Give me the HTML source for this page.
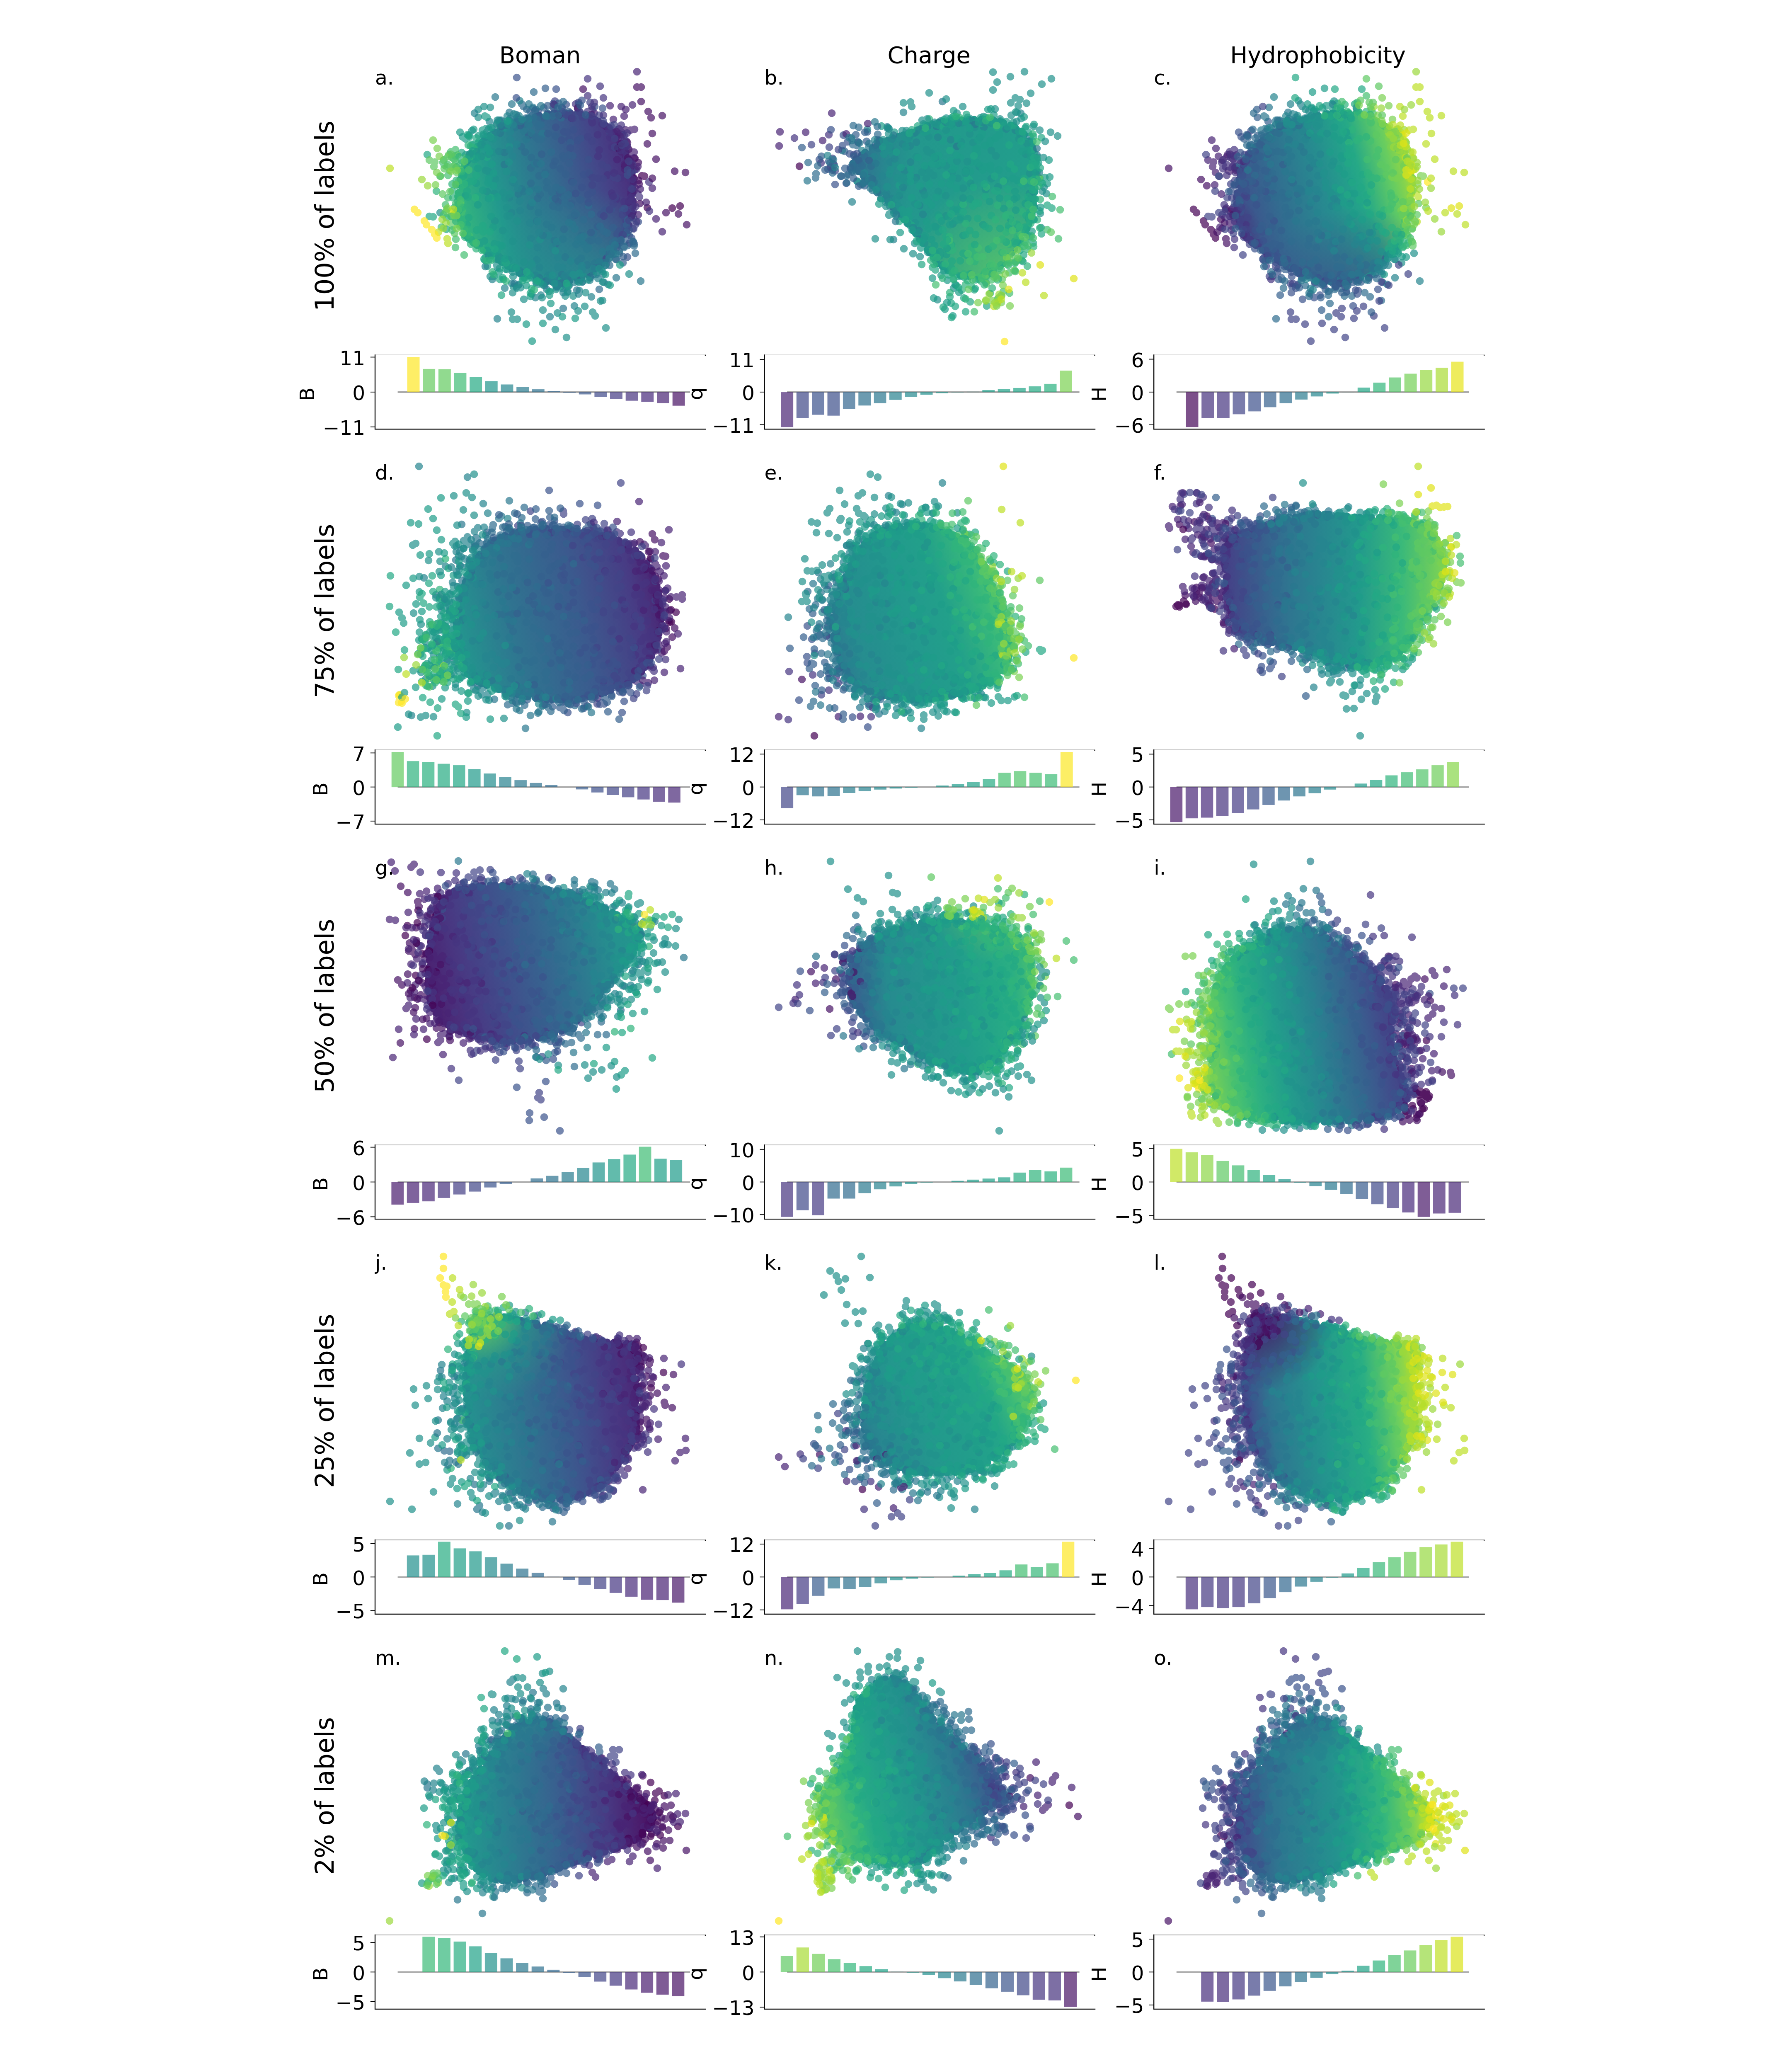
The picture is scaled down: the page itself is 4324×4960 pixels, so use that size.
<!DOCTYPE html><html><head><meta charset="utf-8"><title>Figure</title><style>html,body{margin:0;padding:0;background:#fff}svg{display:block}text{font-family:"DejaVu Sans","Liberation Sans",sans-serif;fill:#000}.t{font-size:48.6px}.T{font-size:55.9px}.L{font-size:62.2px}.e{stroke-width:19;stroke-linecap:round;stroke-dasharray:0 12 0 17 0 10 0 21 0 14 0 9 0 19}.p{fill:none;stroke-width:18.6;stroke-linecap:round;stroke-opacity:.7}</style></head><body>
<svg width="4324" height="4960" viewBox="0 0 4324 4960"><rect width="4324" height="4960" fill="#fff"/>
<g>
<linearGradient id="ga" gradientUnits="userSpaceOnUse" x1="802.8" y1="577.6" x2="1790.5" y2="328"><stop offset="0%" stop-color="#bedf29"/><stop offset="10%" stop-color="#bedf29"/><stop offset="13%" stop-color="#bedf29"/><stop offset="20%" stop-color="#7ed352"/><stop offset="30%" stop-color="#38b87b"/><stop offset="30.4%" stop-color="#35b77c"/><stop offset="40%" stop-color="#22998d"/><stop offset="50%" stop-color="#2e7790"/><stop offset="52.2%" stop-color="#317190"/><stop offset="60%" stop-color="#3c588d"/><stop offset="65.2%" stop-color="#444689"/><stop offset="70%" stop-color="#493681"/><stop offset="73.9%" stop-color="#4b2777"/><stop offset="80%" stop-color="#4a1869"/><stop offset="87%" stop-color="#470557"/><stop offset="90%" stop-color="#470557"/><stop offset="100%" stop-color="#470557"/><stop offset="100%" stop-color="#470557"/></linearGradient>
<path fill="url(#ga)" stroke="url(#ga)" class="e" d="M1264 291L1269 290L1275 288L1281 286L1286 284L1292 282L1297 281L1303 279L1308 278L1314 277L1319 276L1325 275L1330 275L1336 274L1341 274L1347 274L1352 274L1358 273L1363 273L1369 273L1374 273L1380 274L1385 274L1391 275L1396 276L1401 277L1407 278L1412 280L1418 282L1423 284L1429 286L1434 288L1439 291L1445 294L1450 296L1455 299L1460 303L1465 306L1470 309L1474 313L1478 317L1482 321L1486 325L1489 330L1492 334L1495 340L1498 345L1501 350L1504 356L1507 361L1509 367L1512 373L1514 379L1516 385L1518 391L1520 397L1521 404L1523 410L1524 416L1524 423L1525 429L1525 436L1525 443L1526 450L1526 457L1526 464L1526 470L1527 477L1527 484L1527 491L1527 497L1527 504L1526 510L1525 516L1524 521L1522 527L1521 532L1519 538L1517 543L1515 548L1513 553L1511 558L1508 562L1506 566L1503 571L1500 575L1497 579L1494 584L1491 588L1488 593L1485 597L1481 602L1478 606L1475 611L1472 615L1468 619L1464 623L1460 628L1456 632L1452 636L1448 640L1444 643L1439 647L1434 651L1429 654L1424 657L1419 661L1414 664L1409 667L1403 669L1398 672L1392 674L1386 676L1380 677L1374 678L1368 679L1361 680L1354 680L1348 681L1341 680L1335 680L1328 679L1322 678L1315 677L1308 675L1301 673L1295 671L1288 669L1282 667L1276 665L1270 663L1264 661L1259 659L1253 656L1248 654L1243 652L1238 649L1233 646L1228 643L1223 640L1218 637L1213 633L1208 629L1203 626L1198 622L1192 619L1187 616L1182 612L1177 609L1172 605L1167 602L1162 599L1157 595L1153 592L1148 589L1144 586L1140 583L1137 580L1133 577L1130 574L1127 570L1125 566L1122 561L1120 556L1117 550L1115 544L1113 538L1112 533L1110 527L1109 522L1108 516L1107 511L1107 506L1106 500L1106 495L1106 489L1106 484L1106 478L1106 473L1107 467L1107 462L1108 456L1108 451L1109 445L1110 440L1111 434L1113 429L1114 423L1116 417L1117 412L1119 407L1121 401L1123 396L1126 391L1129 386L1132 381L1135 376L1138 371L1142 366L1146 362L1149 357L1153 353L1157 349L1162 345L1166 341L1171 337L1175 333L1180 330L1184 326L1189 323L1193 320L1197 317L1202 314L1206 312L1210 309L1215 307L1219 305L1224 303L1229 301L1235 299L1240 298L1246 296L1252 295L1258 293Z"/>
<clipPath id="ca"><path d="M1264 291L1269 290L1275 288L1281 286L1286 284L1292 282L1297 281L1303 279L1308 278L1314 277L1319 276L1325 275L1330 275L1336 274L1341 274L1347 274L1352 274L1358 273L1363 273L1369 273L1374 273L1380 274L1385 274L1391 275L1396 276L1401 277L1407 278L1412 280L1418 282L1423 284L1429 286L1434 288L1439 291L1445 294L1450 296L1455 299L1460 303L1465 306L1470 309L1474 313L1478 317L1482 321L1486 325L1489 330L1492 334L1495 340L1498 345L1501 350L1504 356L1507 361L1509 367L1512 373L1514 379L1516 385L1518 391L1520 397L1521 404L1523 410L1524 416L1524 423L1525 429L1525 436L1525 443L1526 450L1526 457L1526 464L1526 470L1527 477L1527 484L1527 491L1527 497L1527 504L1526 510L1525 516L1524 521L1522 527L1521 532L1519 538L1517 543L1515 548L1513 553L1511 558L1508 562L1506 566L1503 571L1500 575L1497 579L1494 584L1491 588L1488 593L1485 597L1481 602L1478 606L1475 611L1472 615L1468 619L1464 623L1460 628L1456 632L1452 636L1448 640L1444 643L1439 647L1434 651L1429 654L1424 657L1419 661L1414 664L1409 667L1403 669L1398 672L1392 674L1386 676L1380 677L1374 678L1368 679L1361 680L1354 680L1348 681L1341 680L1335 680L1328 679L1322 678L1315 677L1308 675L1301 673L1295 671L1288 669L1282 667L1276 665L1270 663L1264 661L1259 659L1253 656L1248 654L1243 652L1238 649L1233 646L1228 643L1223 640L1218 637L1213 633L1208 629L1203 626L1198 622L1192 619L1187 616L1182 612L1177 609L1172 605L1167 602L1162 599L1157 595L1153 592L1148 589L1144 586L1140 583L1137 580L1133 577L1130 574L1127 570L1125 566L1122 561L1120 556L1117 550L1115 544L1113 538L1112 533L1110 527L1109 522L1108 516L1107 511L1107 506L1106 500L1106 495L1106 489L1106 484L1106 478L1106 473L1107 467L1107 462L1108 456L1108 451L1109 445L1110 440L1111 434L1113 429L1114 423L1116 417L1117 412L1119 407L1121 401L1123 396L1126 391L1129 386L1132 381L1135 376L1138 371L1142 366L1146 362L1149 357L1153 353L1157 349L1162 345L1166 341L1171 337L1175 333L1180 330L1184 326L1189 323L1193 320L1197 317L1202 314L1206 312L1210 309L1215 307L1219 305L1224 303L1229 301L1235 299L1240 298L1246 296L1252 295L1258 293Z"/></clipPath><g clip-path="url(#ca)">
<radialGradient id="ra0"><stop offset="0" stop-color="#24928e" stop-opacity="1"/><stop offset="1" stop-color="#24928e" stop-opacity="0"/></radialGradient>
<circle cx="1419" cy="750" r="293" fill="url(#ra0)"/>
</g>
<path class="p" stroke="#440154" d="M1517 360h0m32 64h0m6 1h0m7 76h0"/>
<path class="p" stroke="#471365" d="M1495 323h0m6 2h0m7 75h0m6-56h0m12 86h0m2 15h0m12-53h0m2 52h0"/>
<path class="p" stroke="#482475" d="M1434 273h0m27 31h0m19-16h0m9 97h0m1-68h0m4-6h0m5-54h0m0 109h0m7-86h0m1 116h0m1 12h0m1-95h0m0 62h0m3-34h0m1 10h0m4 136h0m4-173h0m2 149h0m0 6h0m0 12h0m1-14h0m5-34h0m1-52h0m0 50h0m1-119h0m1 97h0m0 44h0"/>
<path class="p" stroke="#463480" d="M1379 285h0m10-34h0m5 11h0m24-31h0m0 38h0m10 23h0m1-28h0m0 32h0m14 81h0m3-15h0m10-126h0m10 186h0m6-90h0m1-19h0m3 153h0m1-111h0m6 63h0m4 63h0m4-169h0m2 26h0m5 91h0m1-127h0m0 16h0m11 35h0m0 14h0m2 13h0m0 175h0m5-172h0m0 102h0m2-57h0m3-30h0m2-5h0m0 81h0m3-30h0m1 66h0m8-102h0m3 60h0m4 7h0m23-36h0m1 70h0"/>
<path class="p" stroke="#414487" d="M1337 274h0m2-30h0m17 16h0m26 26h0m14-39h0m4 24h0m22 148h0m0 1h0m2-173h0m4 93h0m18-62h0m7 119h0m3 34h0m7 193h0m9-304h0m6 157h0m2-50h0m2-126h0m1 174h0m2 1h0m5-46h0m11 137h0m5-241h0m5 207h0m2-25h0m0 22h0m0 19h0m1-24h0m6-7h0m7-105h0m0 138h0"/>
<path class="p" stroke="#3b528b" d="M1298 269h0m37-19h0m0 10h0m7-45h0m13 123h0m11-86h0m7 84h0m7 102h0m4-125h0m10 26h0m2-88h0m8 201h0m5-31h0m6-143h0m4 192h0m2-53h0m8 46h0m6-206h0m15 260h0m4-256h0m2 37h0m4 209h0m16-3h0m13 61h0m2 39h0m2-46h0m1 48h0m1-37h0m7-61h0m3 12h0m2 26h0m6 18h0m1 56h0m26-85h0"/>
<path class="p" stroke="#355f8d" d="M1223 299h0m23-4h0m30 31h0m3-58h0m7-6h0m15 20h0m15-69h0m5 42h0m13 1h0m2 18h0m0 7h0m3 108h0m1-61h0m7 159h0m1-238h0m3 216h0m5-206h0m1 12h0m1 105h0m7 44h0m7-151h0m2 125h0m2-50h0m2 123h0m0 24h0m4-115h0m1 64h0m4 79h0m81 95h0m11-65h0m9 77h0m15 8h0m5-52h0m1-14h0m3-25h0m3-12h0m3 37h0m11-42h0"/>
<path class="p" stroke="#2f6c8e" d="M1204 290h0m27-4h0m19 2h0m8 66h0m1-103h0m4 6h0m2 43h0m9-15h0m1 4h0m6-1h0m0 117h0m1-25h0m6-158h0m9 173h0m2-91h0m2 120h0m2 45h0m13-53h0m3 23h0m2-166h0m9 94h0m4 130h0m7 91h0m1-136h0m3 47h0m4 2h0m2-43h0m3-174h0m5-39h0m3 231h0m1 13h0m8-19h0m5 26h0m2 29h0m25 43h0m17-72h0m1 86h0m11-20h0m7 100h0m5-81h0m2 69h0m11-92h0m4 82h0m2-4h0m5-24h0m10-26h0m18 6h0m4 0h0m6 5h0m6-36h0m3 31h0m13-9h0"/>
<path class="p" stroke="#2a788e" d="M1207 292h0m0 29h0m7-28h0m14-3h0m1-19h0m3 23h0m8 14h0m3-1h0m5-24h0m2 1h0m1 184h0m8-12h0m5-140h0m12-28h0m4 210h0m1-42h0m1-135h0m4-62h0m1 25h0m3 111h0m4 286h0m7-11h0m6-345h0m2-3h0m4 361h0m2-262h0m6-141h0m10 269h0m3-71h0m4 102h0m16 93h0m4-4h0m1 75h0m11-70h0m0 29h0m3-14h0m8-148h0m6 11h0m3 38h0m2 110h0m1-22h0m8-105h0m2 9h0m14 57h0m18-4h0m1 12h0m18-40h0m2 54h0m1 20h0m1-47h0m12-10h0m1-24h0m2 5h0m7 9h0m3-2h0m12-1h0"/>
<path class="p" stroke="#25848e" d="M1172 330h0m9-37h0m7 381h0m9-355h0m17-9h0m10-30h0m5 197h0m5 36h0m1 171h0m6-243h0m11-162h0m2-36h0m0 242h0m1 23h0m4 154h0m3-4h0m1 11h0m13-384h0m3 253h0m2 37h0m14 52h0m2-30h0m5 48h0m0 30h0m17 23h0m3-33h0m1-97h0m1 96h0m3 8h0m6-76h0m10 90h0m0 8h0m1-111h0m2 37h0m0 24h0m0 37h0m4-6h0m7-30h0m0 38h0m4-8h0m16-15h0m9 78h0m17-76h0m1-13h0m28 12h0m14-28h0m4 17h0m17 36h0m12-73h0"/>
<path class="p" stroke="#21918c" d="M1124 373h0m15-58h0m15-51h0m0 19h0m1 69h0m9-3h0m2-21h0m3 4h0m3 79h0m8 4h0m3-156h0m7 76h0m1 32h0m2 100h0m1 66h0m1-101h0m11-132h0m8 165h0m5-167h0m1 344h0m1-333h0m1 105h0m2 107h0m0 129h0m3-24h0m2-273h0m4 293h0m3-208h0m1 144h0m0 63h0m0 61h0m1-39h0m1 25h0m13-6h0m3-27h0m11 11h0m17 0h0m11 14h0m5 1h0m4-107h0m7 170h0m10-76h0m20-67h0m2 93h0m15-2h0m7-15h0m0 33h0m19-52h0m0 52h0m5-49h0m10-6h0m42-2h0m14 68h0"/>
<path class="p" stroke="#1e9c89" d="M1110 319h0m11 81h0m2 72h0m9-91h0m9-31h0m4 35h0m4-3h0m0 60h0m2-67h0m4-48h0m0 16h0m0 243h0m1-230h0m0 235h0m3-6h0m5-271h0m5 267h0m1 47h0m1-7h0m2-311h0m3 332h0m1-315h0m2 299h0m6-104h0m2-126h0m0 222h0m3-70h0m1-100h0m5 168h0m3 10h0m10 5h0m2-38h0m2 39h0m2 42h0m5-25h0m9-3h0m33 26h0m8 17h0m21-16h0m34 30h0m30-13h0m1-17h0m105-11h0"/>
<path class="p" stroke="#22a884" d="M1099 515h0m3-112h0m2 82h0m7-48h0m3-69h0m5 55h0m2-28h0m6 147h0m1-217h0m7 113h0m1-86h0m3-4h0m10 75h0m1-20h0m0 152h0m1-81h0m1-127h0m6 30h0m2 177h0m2-3h0m3-7h0m0 5h0m1 10h0m2 66h0m7-246h0m3 217h0m4-37h0m2-228h0m1 146h0m5 139h0m9-316h0m6 348h0m5 64h0m3-42h0m8-36h0m20 11h0m32 28h0m10 23h0"/>
<path class="p" stroke="#2fb47c" d="M1077 525h0m14-81h0m6 73h0m4-69h0m3 64h0m1-39h0m4-63h0m7 45h0m0 86h0m2-104h0m1 127h0m3 8h0m9-6h0m5 23h0m1-9h0m1-204h0m2-21h0m3 229h0m1-224h0m3 117h0m2 123h0m39 56h0"/>
<path class="p" stroke="#44bf70" d="M1069 392h0m2-6h0m1 12h0m9 79h0m7 44h0m10-145h0m1 149h0m0 72h0m1-20h0m4-176h0m6 146h0m2-59h0m2 24h0m1-119h0m0 115h0m5 107h0m1-61h0m5-174h0m7 190h0"/>
<path class="p" stroke="#5ec962" d="M1072 407h0m11-34h0m5 164h0m4 8h0m3-161h0m2 179h0m2-158h0m1 114h0m0 22h0m2-125h0m2-42h0m7 118h0m1-81h0"/>
<path class="p" stroke="#9bd93c" d="M1076 538h0m2-33h0m10-133h0"/>
<path class="p" stroke="#dfe318" d="M1089 510h0"/>
<path class="p" stroke="#440154" d="M1491 357h0m33 42h0m98 103h0m19-5h0"/>
<path class="p" stroke="#471365" d="M1394 260h0m13-45h0m92 132h0m16 34h0m14 48h0m3-47h0m5-172h0m4 225h0m3 56h0m3-281h0m0 35h0m15 102h0m2-78h0m7 15h0m3 38h0m0 108h0m9-46h0m15-105h0m9 234h0m21-100h0m9 103h0m17-100h0m3 126h0"/>
<path class="p" stroke="#482475" d="M1427 276h0m45-21h0m11 78h0m4-16h0m6 20h0m3-9h0m2 7h0m12-71h0m10 142h0m2-17h0m2 132h0m1-154h0m1-114h0m3 185h0m1-71h0m0 93h0m7-287h0m2 229h0m1 116h0m5-62h0m14 32h0m15-34h0m9 74h0m15 31h0"/>
<path class="p" stroke="#463480" d="M1337 252h0m12 26h0m69-88h0m10 67h0m6-10h0m8 78h0m6-117h0m5 91h0m3-21h0m13 35h0m6 12h0m4 148h0m2-56h0m17-54h0m8 124h0m1-150h0m5 174h0m1-190h0m0 33h0m8 77h0m0 23h0m3 30h0m1-86h0m1-2h0m0 36h0m8 66h0m2 37h0"/>
<path class="p" stroke="#414487" d="M1366 277h0m13-1h0m20-6h0m7 13h0m1 0h0m11 47h0m10-50h0m1 166h0m1-18h0m13 2h0m12-139h0m2 8h0m0 222h0m8-117h0m6 102h0m3-202h0m6 188h0m3-158h0m0 21h0m17-5h0m2 168h0m1 48h0m5-220h0m9 43h0m1 143h0m3-116h0m4 40h0m4 96h0m4-10h0"/>
<path class="p" stroke="#3b528b" d="M1246 236h0m1-49h0m74 89h0m20 31h0m4-45h0m11 7h0m5 49h0m8 1h0m7 38h0m13 110h0m12-133h0m3-92h0m16 143h0m0 104h0m76 96h0m11-82h0m7-93h0m0 12h0m4 133h0m1 31h0m5-12h0"/>
<path class="p" stroke="#355f8d" d="M1255 303h0m36-36h0m16 105h0m1-87h0m4-25h0m10 62h0m13 77h0m5 80h0m12-72h0m8-25h0m12-8h0m28-120h0m0 228h0m13-205h0m13 284h0m16-15h0m48 50h0m14 23h0m26-31h0"/>
<path class="p" stroke="#2f6c8e" d="M1210 305h0m39-12h0m18 74h0m2-82h0m2-21h0m10 178h0m3-162h0m1-2h0m1 1h0m6 15h0m1-30h0m0 67h0m2 62h0m2-104h0m0 190h0m2-143h0m6-35h0m0 35h0m12 342h0m1-397h0m2 172h0m12 11h0m1-184h0m14-22h0m0 20h0m7 405h0m2-225h0m5 95h0m26-39h0m3 2h0m10 160h0m8-146h0m16 140h0m3-153h0m2 62h0m6 68h0m9-2h0m2 53h0m2-152h0m17 16h0m6 78h0m3-27h0m11-32h0m1 45h0m13-47h0m5 15h0m2 0h0m21-12h0m3 11h0m3 18h0"/>
<path class="p" stroke="#2a788e" d="M1195 234h0m14 69h0m8 65h0m0 29h0m4-95h0m13-5h0m1-46h0m3 49h0m3 7h0m0 377h0m4-408h0m0 16h0m2 1h0m9 0h0m7 169h0m7-126h0m5-46h0m1-39h0m0 50h0m19 232h0m3-76h0m1 56h0m6-258h0m0 2h0m0 138h0m5 173h0m4 121h0m3-410h0m2 262h0m25 150h0m12-29h0m2-85h0m3 89h0m3-46h0m9-83h0m22 41h0m0 52h0m7-7h0m3 57h0m3-110h0m1 20h0m7 11h0m4-3h0m4 72h0m22-39h0m24-8h0m11-18h0m3-14h0m2 21h0m1 58h0m59 8h0"/>
<path class="p" stroke="#25848e" d="M1134 371h0m11-98h0m26 370h0m8-26h0m10-308h0m10-12h0m1 472h0m4-404h0m2-65h0m1 1h0m2-11h0m9 405h0m11-333h0m2-44h0m0 19h0m1-45h0m5 85h0m0 62h0m1-138h0m2-26h0m0 147h0m7-74h0m0 344h0m3-237h0m1 233h0m2-29h0m1-6h0m4 3h0m2-368h0m17 174h0m7 27h0m7 175h0m1 54h0m5-184h0m4 27h0m4 151h0m9-28h0m11-13h0m2 93h0m7-85h0m8 11h0m5-3h0m12 19h0m4-42h0m3 29h0m5-8h0m6-55h0m9 51h0m10 28h0m2-8h0m6-60h0m1 39h0m18-4h0m4 40h0m5-68h0m11 24h0m18-32h0"/>
<path class="p" stroke="#21918c" d="M1062 513h0m65-124h0m5-63h0m18 40h0m11-17h0m1 28h0m6-120h0m7 61h0m0 144h0m4-151h0m0 61h0m4 295h0m1-334h0m8 333h0m7-34h0m0 8h0m1-350h0m0 355h0m4-26h0m9-63h0m6-78h0m4 23h0m2-202h0m3-5h0m0 97h0m2 129h0m1-52h0m3 285h0m3-97h0m0 114h0m1-337h0m5 213h0m4 49h0m1-162h0m0 237h0m2-114h0m6 38h0m8-62h0m0 90h0m11-72h0m3-59h0m5 45h0m0 73h0m25 9h0m2-31h0m23-23h0m5 20h0m2 111h0m5-40h0m22 59h0m2-109h0m26 45h0m2-69h0m12-13h0m2 71h0m2-33h0m5-31h0m12 78h0m6 9h0m10-114h0m3 78h0m5-71h0m0 25h0m8 111h0m56-130h0"/>
<path class="p" stroke="#1e9c89" d="M1116 330h0m7 5h0m8-4h0m1 43h0m3 0h0m5-10h0m3-52h0m7 67h0m3 27h0m0 88h0m12-35h0m1-135h0m4-44h0m5 3h0m0 321h0m1-247h0m2 84h0m1 38h0m1-49h0m1-64h0m1 248h0m0 12h0m3-318h0m6 110h0m2 170h0m6 18h0m1-131h0m3 116h0m1 65h0m4-63h0m10 31h0m7-332h0m21 355h0m24 135h0m9-118h0m1 51h0m4 108h0m19-142h0m7 99h0m16-68h0m2-8h0m1 28h0m28 32h0m14-74h0m17 78h0m84-80h0m24-49h0"/>
<path class="p" stroke="#22a884" d="M1031 373h0m5 149h0m9 1h0m32 30h0m24-108h0m4 62h0m2 1h0m0 0h0m11-83h0m3 142h0m5-124h0m1-59h0m0 77h0m2 14h0m2-147h0m0 197h0m1 52h0m5 1h0m5-141h0m7-104h0m45 268h0m12 73h0m55 3h0m10-21h0m9 51h0m16-29h0m71 6h0"/>
<path class="p" stroke="#2fb47c" d="M1053 461h0m38 0h0m2 16h0m4 23h0m3 34h0m1-99h0m4 87h0m3-144h0m5 9h0m1 27h0m1 117h0m1-31h0m5-56h0m6 109h0m1 14h0m2-217h0m14 237h0m19 17h0m11 25h0m11-1h0m6 34h0m30 16h0m68 21h0"/>
<path class="p" stroke="#44bf70" d="M1062 425h0m3 123h0m5-30h0m5-24h0m5-97h0m1 26h0m7-57h0m1 37h0m0 119h0m1-142h0m1 175h0m1-188h0m7-6h0m0 28h0m1 102h0m5-1h0m1-52h0m0 69h0m5-25h0m1 60h0m19-132h0m18 176h0"/>
<path class="p" stroke="#5ec962" d="M1036 386h0m11 16h0m2-11h0m14 34h0m5 43h0m2-82h0m6 124h0m2-108h0m3-24h0m4 33h0m1 51h0m8-60h0m5 43h0m18 118h0m4-174h0"/>
<path class="p" stroke="#7ad151" d="M1045 338h0m6 108h0m3-30h0m1-58h0m5 19h0m20 125h0m8-89h0m8 107h0m6 0h0m0 31h0m1-140h0"/>
<path class="p" stroke="#9bd93c" d="M1018 433h0m14 15h0m35 81h0m3 22h0"/>
<path class="p" stroke="#bddf26" d="M941 406h0m117 154h0m21 16h0m2 11h0m13-82h0"/>
<path class="p" stroke="#fde725" d="M1000 505h0m8 8h0m16 20h0m5 9h0m13 12h0m7 11h0m5 9h0"/>
</g>
<g>
<linearGradient id="gb" gradientUnits="userSpaceOnUse" x1="1695" y1="370.5" x2="2707.5" y2="442.9"><stop offset="0%" stop-color="#483782"/><stop offset="10%" stop-color="#483782"/><stop offset="18.7%" stop-color="#483782"/><stop offset="20%" stop-color="#473b84"/><stop offset="30%" stop-color="#3b5a8e"/><stop offset="35.6%" stop-color="#34698f"/><stop offset="40%" stop-color="#2d7a90"/><stop offset="43.7%" stop-color="#27888f"/><stop offset="50%" stop-color="#23978d"/><stop offset="60%" stop-color="#229a8c"/><stop offset="70%" stop-color="#229c8c"/><stop offset="80%" stop-color="#229f8b"/><stop offset="81.2%" stop-color="#22a08a"/><stop offset="90%" stop-color="#22a08a"/><stop offset="100%" stop-color="#22a08a"/></linearGradient>
<path fill="url(#gb)" stroke="url(#gb)" class="e" d="M2059 394L2060 392L2062 388L2066 384L2072 380L2078 376L2084 371L2090 367L2097 363L2102 359L2109 355L2115 352L2122 349L2129 345L2136 342L2143 339L2150 336L2156 334L2163 331L2170 329L2177 327L2184 325L2190 323L2197 321L2204 318L2210 316L2216 313L2222 311L2227 309L2233 306L2238 304L2243 302L2248 300L2254 299L2259 297L2265 296L2270 295L2275 294L2281 293L2286 292L2292 292L2299 291L2305 290L2312 290L2318 290L2325 290L2332 289L2339 289L2346 289L2353 289L2360 289L2367 289L2373 290L2380 290L2387 290L2393 291L2399 292L2405 293L2411 294L2416 295L2422 297L2427 298L2432 300L2437 302L2442 304L2447 307L2452 310L2456 313L2461 316L2465 319L2469 323L2473 326L2476 330L2479 334L2482 337L2484 341L2486 346L2488 350L2490 354L2491 359L2493 364L2494 368L2495 373L2496 378L2497 382L2498 387L2499 392L2499 397L2499 402L2499 408L2499 413L2499 418L2499 424L2498 430L2498 435L2498 441L2497 447L2497 452L2496 458L2496 464L2495 469L2495 475L2494 480L2493 486L2493 492L2492 497L2491 503L2490 509L2489 514L2488 520L2487 525L2485 531L2484 536L2482 540L2480 545L2478 549L2476 553L2474 557L2471 562L2469 566L2466 570L2464 575L2461 580L2458 584L2456 589L2453 593L2450 598L2447 602L2444 606L2441 610L2438 614L2435 618L2431 622L2428 626L2425 630L2421 633L2418 637L2414 640L2411 643L2407 646L2403 649L2400 651L2396 654L2392 656L2388 658L2384 660L2380 661L2376 663L2372 664L2368 665L2364 665L2359 666L2355 666L2350 667L2344 667L2339 666L2333 666L2327 665L2322 664L2316 663L2312 662L2307 661L2302 659L2298 657L2294 655L2289 653L2285 650L2281 648L2278 645L2274 642L2271 640L2268 637L2264 633L2261 630L2258 627L2255 623L2252 619L2249 615L2245 611L2242 607L2239 602L2235 598L2232 593L2229 588L2225 583L2221 578L2217 573L2214 568L2210 563L2206 558L2201 553L2197 548L2193 542L2189 537L2184 532L2180 527L2175 522L2170 517L2166 512L2161 507L2157 501L2152 496L2148 491L2143 486L2139 481L2134 476L2130 471L2125 466L2120 461L2116 456L2111 451L2106 447L2102 442L2097 438L2093 433L2088 429L2084 425L2080 420L2075 415L2070 411L2066 406L2062 402L2060 399L2059 396Z"/>
<clipPath id="cb"><path d="M2059 394L2060 392L2062 388L2066 384L2072 380L2078 376L2084 371L2090 367L2097 363L2102 359L2109 355L2115 352L2122 349L2129 345L2136 342L2143 339L2150 336L2156 334L2163 331L2170 329L2177 327L2184 325L2190 323L2197 321L2204 318L2210 316L2216 313L2222 311L2227 309L2233 306L2238 304L2243 302L2248 300L2254 299L2259 297L2265 296L2270 295L2275 294L2281 293L2286 292L2292 292L2299 291L2305 290L2312 290L2318 290L2325 290L2332 289L2339 289L2346 289L2353 289L2360 289L2367 289L2373 290L2380 290L2387 290L2393 291L2399 292L2405 293L2411 294L2416 295L2422 297L2427 298L2432 300L2437 302L2442 304L2447 307L2452 310L2456 313L2461 316L2465 319L2469 323L2473 326L2476 330L2479 334L2482 337L2484 341L2486 346L2488 350L2490 354L2491 359L2493 364L2494 368L2495 373L2496 378L2497 382L2498 387L2499 392L2499 397L2499 402L2499 408L2499 413L2499 418L2499 424L2498 430L2498 435L2498 441L2497 447L2497 452L2496 458L2496 464L2495 469L2495 475L2494 480L2493 486L2493 492L2492 497L2491 503L2490 509L2489 514L2488 520L2487 525L2485 531L2484 536L2482 540L2480 545L2478 549L2476 553L2474 557L2471 562L2469 566L2466 570L2464 575L2461 580L2458 584L2456 589L2453 593L2450 598L2447 602L2444 606L2441 610L2438 614L2435 618L2431 622L2428 626L2425 630L2421 633L2418 637L2414 640L2411 643L2407 646L2403 649L2400 651L2396 654L2392 656L2388 658L2384 660L2380 661L2376 663L2372 664L2368 665L2364 665L2359 666L2355 666L2350 667L2344 667L2339 666L2333 666L2327 665L2322 664L2316 663L2312 662L2307 661L2302 659L2298 657L2294 655L2289 653L2285 650L2281 648L2278 645L2274 642L2271 640L2268 637L2264 633L2261 630L2258 627L2255 623L2252 619L2249 615L2245 611L2242 607L2239 602L2235 598L2232 593L2229 588L2225 583L2221 578L2217 573L2214 568L2210 563L2206 558L2201 553L2197 548L2193 542L2189 537L2184 532L2180 527L2175 522L2170 517L2166 512L2161 507L2157 501L2152 496L2148 491L2143 486L2139 481L2134 476L2130 471L2125 466L2120 461L2116 456L2111 451L2106 447L2102 442L2097 438L2093 433L2088 429L2084 425L2080 420L2075 415L2070 411L2066 406L2062 402L2060 399L2059 396Z"/></clipPath><g clip-path="url(#cb)">
<radialGradient id="rb0"><stop offset="0" stop-color="#61ca64" stop-opacity="0.8"/><stop offset="1" stop-color="#61ca64" stop-opacity="0"/></radialGradient>
<circle cx="2422" cy="664" r="235" fill="url(#rb0)"/>
</g>
<path class="p" stroke="#471365" d="M2004 404h0"/>
<path class="p" stroke="#463480" d="M1981 393h0"/>
<path class="p" stroke="#414487" d="M2001 355h0m7 55h0m1-28h0m51-9h0"/>
<path class="p" stroke="#3b528b" d="M1998 408h0m15-10h0m22-72h0m7 116h0m8-71h0m2 37h0m19-64h0"/>
<path class="p" stroke="#355f8d" d="M2000 389h0m38-24h0m1 41h0m26-81h0m5 17h0m16 106h0m1-11h0m6-119h0m20 32h0m2-4h0"/>
<path class="p" stroke="#2f6c8e" d="M2043 441h0m16-138h0m4 91h0m3 19h0m9-19h0m9 47h0m2-65h0m12 53h0m4 4h0m14 31h0m11-123h0m29 167h0"/>
<path class="p" stroke="#2a788e" d="M2032 363h0m23-30h0m1 82h0m1-19h0m11 41h0m9 8h0m19-90h0m4 99h0m5-19h0m2 4h0m7-83h0m4-19h0m0 21h0m0 107h0m8 14h0m9-137h0m0 2h0m3 129h0m3-167h0m4 180h0m2 11h0m71 79h0m42-271h0m49 48h0m36-62h0m157 83h0"/>
<path class="p" stroke="#25848e" d="M2080 363h0m6 54h0m7-105h0m3 126h0m1-7h0m12-53h0m2-41h0m6 115h0m12-27h0m8 63h0m2-22h0m2-157h0m7 82h0m3 88h0m19-7h0m13-60h0m7-89h0m5 4h0m1 25h0m11-31h0m4 22h0m6 213h0m2-60h0m8-36h0m0 57h0m42-225h0m25 45h0m1-35h0m36 110h0m43-105h0m17-11h0m59 18h0m13-41h0m22 56h0m5 145h0"/>
<path class="p" stroke="#21918c" d="M2069 438h0m55-98h0m11 3h0m3 155h0m2-47h0m1-1h0m4 36h0m1-66h0m4-81h0m3 30h0m2-32h0m2 36h0m3 138h0m1-116h0m1 127h0m2-15h0m1-78h0m1 72h0m1-4h0m2 21h0m2-52h0m0 51h0m6-202h0m0 142h0m9-102h0m2 84h0m2-118h0m5 10h0m1 213h0m1-220h0m10 263h0m1-96h0m0 46h0m0 23h0m3-182h0m4 183h0m5 58h0m10-45h0m1 13h0m4-157h0m1-69h0m0 45h0m3-40h0m5 50h0m3-47h0m6 54h0m4 124h0m2 75h0m7-223h0m8 240h0m8-118h0m1-121h0m16 29h0m2 266h0m8-422h0m2 157h0m8-88h0m2-46h0m3 158h0m11-171h0m5 3h0m0 37h0m12-16h0m11 95h0m1-70h0m9-51h0m5 3h0m0 174h0m1 224h0m13-251h0m2-143h0m14 163h0m53-128h0m3-37h0m11 86h0m10 46h0m2 106h0m11-44h0m3-98h0m1 33h0m8 100h0m5-54h0"/>
<path class="p" stroke="#1e9c89" d="M2127 304h0m3 51h0m28-36h0m12 128h0m4-43h0m19 120h0m4-117h0m18-27h0m5 69h0m2 149h0m5-291h0m1-8h0m1 278h0m3-8h0m3-91h0m1 57h0m3-49h0m1 66h0m0 51h0m3-159h0m5 51h0m1-100h0m1 276h0m3-124h0m0 78h0m1-79h0m4-247h0m0 312h0m2 24h0m1-239h0m2-70h0m1 193h0m0 32h0m1-249h0m0 73h0m0 184h0m6 105h0m1-221h0m1 25h0m2-128h0m5 311h0m2-340h0m2 6h0m0 297h0m2 62h0m3-153h0m3-78h0m3-57h0m2-100h0m2 16h0m1 201h0m1 169h0m3-270h0m3 284h0m1-234h0m2 51h0m7-125h0m1 144h0m1-173h0m0 315h0m2-171h0m1-202h0m2 275h0m6-278h0m0 3h0m1 373h0m1-257h0m3 118h0m7-113h0m2-23h0m0 59h0m11-82h0m1-73h0m2 63h0m0 11h0m8-85h0m1 115h0m2-112h0m3 255h0m5-250h0m2 110h0m5-138h0m4 83h0m2-8h0m2-44h0m6-18h0m1 16h0m11 117h0m8-101h0m3 128h0m1 66h0m4-69h0m10-28h0m2 122h0m7-233h0m2 112h0m0 73h0m4-210h0m7 46h0m7 1h0m3 314h0m14-147h0m0 43h0m2-7h0m2 37h0m1-192h0m2-16h0m1 209h0m4-80h0m0 8h0m1-116h0m4 25h0m2 36h0m5-38h0m15 35h0m6 15h0"/>
<path class="p" stroke="#22a884" d="M2151 494h0m19 40h0m23 5h0m6 4h0m15-239h0m15 5h0m21 336h0m3-29h0m4 35h0m9-127h0m9 31h0m1-250h0m2 335h0m5-69h0m6 92h0m5-7h0m1-11h0m0 86h0m1-140h0m1 39h0m3-337h0m12 373h0m15-186h0m0 189h0m3-103h0m4-136h0m4 3h0m3 228h0m5 3h0m2-167h0m5 199h0m1-130h0m5-39h0m2-37h0m6-193h0m9 361h0m2-375h0m0 191h0m1 194h0m2 70h0m1-453h0m3 316h0m1-50h0m6-31h0m8-95h0m1 35h0m6 1h0m8-160h0m1 412h0m15-234h0m1-23h0m2 95h0m1-201h0m10-47h0m4 279h0m5-41h0m0 10h0m6 22h0m1 31h0m3-162h0m7-11h0m5-126h0m2 245h0m0 16h0m7-54h0m4-149h0m1 138h0m1-109h0m2 67h0m0 127h0m1-154h0m4-30h0m3 4h0m8 103h0m2-69h0m2-108h0"/>
<path class="p" stroke="#2fb47c" d="M2242 287h0m32 384h0m7-34h0m9-44h0m1-22h0m0 33h0m3-11h0m4 67h0m1-57h0m17-319h0m4 416h0m1-1h0m3-206h0m6 46h0m0 147h0m14 4h0m1-95h0m0 10h0m7 11h0m0 15h0m9 42h0m10-7h0m9-215h0m1 214h0m8-24h0m0 67h0m7-114h0m11-99h0m1 225h0m10-111h0m3-172h0m7 123h0m1-42h0m2 102h0m1 9h0m4-40h0m2-70h0m17 52h0m11-60h0m0 84h0m13 6h0m5-75h0m2-122h0m1 135h0m9-40h0m5-64h0m2 95h0m6-100h0m1 51h0"/>
<path class="p" stroke="#44bf70" d="M2258 687h0m33-107h0m60 172h0m7-132h0m2-22h0m1 70h0m6 1h0m4-50h0m1 55h0m4-8h0m12 9h0m1-20h0m1-14h0m1 15h0m1-20h0m1 39h0m6-6h0m22 34h0m10-116h0m2 45h0m1 0h0m1 26h0m14-5h0m1-22h0m8-4h0m6-61h0m5 29h0m4-3h0"/>
<path class="p" stroke="#5ec962" d="M2378 663h0m2 22h0m18-17h0m20 6h0m18-50h0m11 28h0m9-29h0m52-194h0"/>
<path class="p" stroke="#7ad151" d="M2379 726h0m11-68h0m3 67h0m17-7h0m1-55h0m5 67h0m13-109h0"/>
<path class="p" stroke="#9bd93c" d="M2379 724h0m8-15h0m22 17h0m2-16h0m6 3h0"/>
<path class="p" stroke="#bddf26" d="M2398 739h0m8-6h0m10-11h0"/>
<path class="p" stroke="#440154" d="M1929 401h0"/>
<path class="p" stroke="#482475" d="M1880 352h0m2-34h0m62 1h0m41 20h0m22-66h0m35 50h0m52-25h0"/>
<path class="p" stroke="#463480" d="M1917 333h0m83-8h0"/>
<path class="p" stroke="#414487" d="M1958 349h0m57 63h0m8-51h0"/>
<path class="p" stroke="#3b528b" d="M1977 385h0m28-72h0m5 82h0m5 50h0m15-20h0m3-74h0m12-9h0m23 28h0"/>
<path class="p" stroke="#355f8d" d="M1935 356h0m47 21h0m9 33h0m56 11h0m5-17h0m7 26h0m2-53h0m11 10h0m0 62h0m15-130h0m4 22h0m6 46h0m8 45h0m17-93h0"/>
<path class="p" stroke="#2f6c8e" d="M1950 392h0m18 37h0m1-10h0m4-19h0m30-7h0m6 24h0m20 8h0m13-1h0m14-12h0m2-63h0m0 51h0m9-49h0m5-44h0m8 93h0m2 44h0m19-2h0m1-41h0m15-96h0m1 19h0"/>
<path class="p" stroke="#2a788e" d="M1948 436h0m63-51h0m38-53h0m7 7h0m18 6h0m9 77h0m0 19h0m14-95h0m1 89h0m4 3h0m2-7h0m1 28h0m4-19h0m2-146h0m2 100h0m6-51h0m37-17h0m5 208h0m2-16h0m65-208h0m46-65h0m79 55h0m149 58h0"/>
<path class="p" stroke="#25848e" d="M1997 375h0m18 29h0m41 83h0m47-41h0m23 33h0m2-2h0m6-106h0m0 101h0m1 6h0m3 2h0m7-169h0m2 46h0m5-21h0m1-4h0m3 246h0m1-64h0m2-131h0m19-36h0m1 105h0m1-181h0m17 120h0m6 158h0m6-230h0m2 109h0m7-115h0m7-3h0m13-5h0m25 26h0m19-36h0m31 2h0m58-2h0m57 16h0m80 105h0"/>
<path class="p" stroke="#21918c" d="M2112 576h0m2-118h0m17-121h0m2 6h0m0 29h0m11-63h0m0 14h0m0 39h0m1 157h0m1-3h0m1-164h0m1 226h0m1-169h0m13 70h0m13-44h0m4-8h0m1-179h0m1 352h0m3-268h0m1 20h0m2-37h0m2 2h0m0 221h0m1-202h0m7-90h0m3 11h0m3 355h0m4-178h0m18-144h0m0 125h0m6 55h0m3-149h0m3-34h0m0 6h0m2 316h0m2-279h0m1-106h0m13 71h0m2 86h0m1 248h0m4 94h0m2-261h0m13-173h0m5 183h0m1-233h0m0 46h0m0 29h0m14 102h0m1-118h0m1 242h0m10-151h0m14-132h0m1 221h0m6-60h0m4-28h0m8 52h0m6-98h0m44 19h0m4-189h0m0 43h0m5 46h0m2 113h0m3-178h0m7 89h0m25-102h0m1 63h0m1 30h0m10-42h0m3 57h0m1-22h0m3-16h0m2 80h0m2-95h0m11-67h0m5 76h0m1 97h0m6 121h0m1 104h0m2-346h0m7 80h0m0 131h0m2 63h0m10-119h0m3-66h0m3 235h0m2-346h0m4 177h0m1 72h0m3-111h0m3 126h0m10-148h0m2-129h0m15 138h0"/>
<path class="p" stroke="#1e9c89" d="M2121 492h0m4-9h0m38-116h0m9 194h0m5-55h0m4 9h0m12-6h0m4-85h0m0 14h0m3 39h0m1 78h0m14-61h0m8 90h0m6-265h0m2 81h0m1-98h0m0 16h0m4-1h0m3 287h0m6-1h0m3-25h0m0 25h0m5 116h0m1-340h0m1 213h0m4-116h0m9 131h0m0 10h0m4-84h0m2-140h0m3 260h0m3 93h0m5-147h0m0 131h0m2-436h0m5 248h0m1-241h0m2-16h0m0 14h0m1 134h0m2-4h0m1-20h0m0 353h0m2-495h0m4 420h0m2-402h0m0 224h0m0 23h0m1-157h0m2-41h0m4 371h0m2-175h0m14-116h0m1-121h0m9 17h0m1 170h0m14-121h0m3 34h0m2-55h0m1-43h0m6 33h0m3-6h0m1 88h0m6-59h0m11 135h0m2-87h0m0 9h0m1-145h0m8 29h0m0 3h0m2 2h0m1 36h0m9-7h0m1 152h0m2-186h0m12 5h0m2-4h0m3 13h0m13 124h0m5 32h0m2 45h0m2-31h0m1-41h0m12-70h0m5-83h0m3 27h0m0 182h0m5-129h0m2-43h0m5 175h0m1-117h0m5-36h0m3-41h0m0 230h0m4-114h0m12 84h0m20-114h0m2 41h0"/>
<path class="p" stroke="#22a884" d="M2185 530h0m9-208h0m6-9h0m12 267h0m0 3h0m12 55h0m52 103h0m1-152h0m2-300h0m4 133h0m3 157h0m6-216h0m0 128h0m0 225h0m3-200h0m1 250h0m3-484h0m6 457h0m8-46h0m4-64h0m7-118h0m0 100h0m2 108h0m4 33h0m2-476h0m0 339h0m8-59h0m1 172h0m8-276h0m1-76h0m1 323h0m1-109h0m2-100h0m0 185h0m21-231h0m2 102h0m1 109h0m15 5h0m12-353h0m8 244h0m15 33h0m6-40h0m4-148h0m10 12h0m3 181h0m2-3h0m11-246h0m3-22h0m3 297h0m3-67h0m1 12h0m2-40h0m5-45h0m3 59h0m7-37h0m1-97h0m0 59h0m1-3h0m1-127h0m0 178h0m0 23h0m1-150h0m0 53h0m2 47h0m5-83h0m0 35h0m1-49h0m7 22h0m3 159h0m2-122h0m12 53h0m11 7h0"/>
<path class="p" stroke="#2fb47c" d="M2233 309h0m13 319h0m4-24h0m4 34h0m7-17h0m31 85h0m9-32h0m2-21h0m4-372h0m19 380h0m4 60h0m5-44h0m32 1h0m8 9h0m4-396h0m15 404h0m1-42h0m7-123h0m5 145h0m2-2h0m2-26h0m4-8h0m3-62h0m8-55h0m7 118h0m3-148h0m7 43h0m6 100h0m11-88h0m6 81h0m7-43h0m3-6h0m3 63h0m2-148h0m2 1h0m5-58h0m1 132h0m1-51h0m2-195h0m2 272h0m12-146h0m3 101h0"/>
<path class="p" stroke="#44bf70" d="M2325 665h0m11-53h0m4 18h0m7 45h0m22-4h0m8-16h0m12-372h0m9 359h0m4 23h0m3-362h0m0 277h0m1 74h0m10-3h0m6-42h0m8 28h0m3-1h0m3 71h0m7-151h0m7 76h0m0 23h0m20-218h0m6 150h0m5 6h0m8-71h0m4-17h0m0 69h0m2-135h0m7-97h0m25 212h0m12-80h0m15 102h0m4-70h0"/>
<path class="p" stroke="#5ec962" d="M2337 698h0m8-35h0m54-1h0m5 9h0m40-57h0m13 8h0m10-51h0m7 1h0m62-12h0"/>
<path class="p" stroke="#7ad151" d="M2360 730h0m45 8h0m15-50h0m6-27h0m11 77h0m18-135h0"/>
<path class="p" stroke="#9bd93c" d="M2401 730h0m88-120h0"/>
<path class="p" stroke="#bddf26" d="M2467 658h0m8 23h0m44 32h0"/>
<path class="p" stroke="#dfe318" d="M2434 698h0m76-59h0m81 33h0"/>
<path class="p" stroke="#fde725" d="M2424 824h0"/>
</g>
<g>
<linearGradient id="gc" gradientUnits="userSpaceOnUse" x1="2725" y1="566.7" x2="3626.7" y2="338.9"><stop offset="0%" stop-color="#4b2777"/><stop offset="10%" stop-color="#4b2777"/><stop offset="14.3%" stop-color="#4b2777"/><stop offset="20%" stop-color="#493681"/><stop offset="28.6%" stop-color="#414c8b"/><stop offset="30%" stop-color="#3f508c"/><stop offset="40%" stop-color="#326d90"/><stop offset="50%" stop-color="#288790"/><stop offset="52.4%" stop-color="#268d8f"/><stop offset="60%" stop-color="#23a489"/><stop offset="61.9%" stop-color="#26a986"/><stop offset="69%" stop-color="#61ca64"/><stop offset="70%" stop-color="#69cd5f"/><stop offset="76.2%" stop-color="#b1dd32"/><stop offset="80%" stop-color="#d0e220"/><stop offset="85.7%" stop-color="#fde728"/><stop offset="90%" stop-color="#fde728"/><stop offset="100%" stop-color="#fde728"/></linearGradient>
<path fill="url(#gc)" stroke="url(#gc)" class="e" d="M3143 291L3149 290L3154 288L3160 286L3166 284L3171 282L3177 281L3182 279L3187 278L3193 277L3198 276L3204 275L3209 275L3215 274L3220 274L3226 274L3231 274L3237 273L3243 273L3248 273L3254 273L3259 274L3264 274L3270 275L3275 276L3280 277L3286 278L3291 280L3297 282L3302 284L3308 286L3313 288L3319 291L3324 294L3329 296L3334 299L3339 303L3344 306L3349 309L3353 313L3357 317L3361 321L3365 325L3368 330L3371 334L3374 340L3377 345L3380 350L3383 356L3386 361L3388 367L3391 373L3393 379L3395 385L3397 391L3399 397L3401 404L3402 410L3403 416L3403 423L3404 429L3404 436L3405 443L3405 450L3405 457L3405 464L3406 470L3406 477L3406 484L3406 491L3406 497L3406 504L3405 510L3404 516L3403 521L3402 527L3400 532L3398 538L3396 543L3394 548L3392 553L3390 558L3387 562L3385 566L3382 571L3379 575L3376 579L3373 584L3370 588L3367 593L3364 597L3361 602L3357 606L3354 611L3351 615L3347 619L3344 623L3340 628L3336 632L3331 636L3327 640L3323 643L3318 647L3313 651L3309 654L3304 657L3298 661L3293 664L3288 667L3282 669L3277 672L3271 674L3266 676L3260 677L3253 678L3247 679L3240 680L3234 680L3227 681L3220 680L3214 680L3207 679L3201 678L3194 677L3187 675L3181 673L3174 671L3167 669L3161 667L3155 665L3149 663L3144 661L3138 659L3133 656L3127 654L3122 652L3117 649L3112 646L3107 643L3102 640L3097 637L3092 633L3087 629L3082 626L3077 622L3072 619L3066 616L3061 612L3056 609L3051 605L3046 602L3041 599L3036 595L3032 592L3028 589L3023 586L3019 583L3016 580L3012 577L3009 574L3006 570L3004 566L3001 561L2999 556L2996 550L2994 544L2993 538L2991 533L2989 527L2988 522L2987 516L2986 511L2986 506L2986 500L2985 495L2985 489L2985 484L2985 478L2985 473L2986 467L2986 462L2987 456L2988 451L2988 445L2989 440L2991 434L2992 429L2993 423L2995 417L2996 412L2998 407L3000 401L3003 396L3005 391L3008 386L3011 381L3014 376L3018 371L3021 366L3025 362L3029 357L3032 353L3037 349L3041 345L3045 341L3050 337L3055 333L3059 330L3064 326L3068 323L3072 320L3077 317L3081 314L3085 312L3089 309L3094 307L3098 305L3103 303L3108 301L3114 299L3119 298L3125 296L3131 295L3137 293Z"/>
<clipPath id="cc"><path d="M3143 291L3149 290L3154 288L3160 286L3166 284L3171 282L3177 281L3182 279L3187 278L3193 277L3198 276L3204 275L3209 275L3215 274L3220 274L3226 274L3231 274L3237 273L3243 273L3248 273L3254 273L3259 274L3264 274L3270 275L3275 276L3280 277L3286 278L3291 280L3297 282L3302 284L3308 286L3313 288L3319 291L3324 294L3329 296L3334 299L3339 303L3344 306L3349 309L3353 313L3357 317L3361 321L3365 325L3368 330L3371 334L3374 340L3377 345L3380 350L3383 356L3386 361L3388 367L3391 373L3393 379L3395 385L3397 391L3399 397L3401 404L3402 410L3403 416L3403 423L3404 429L3404 436L3405 443L3405 450L3405 457L3405 464L3406 470L3406 477L3406 484L3406 491L3406 497L3406 504L3405 510L3404 516L3403 521L3402 527L3400 532L3398 538L3396 543L3394 548L3392 553L3390 558L3387 562L3385 566L3382 571L3379 575L3376 579L3373 584L3370 588L3367 593L3364 597L3361 602L3357 606L3354 611L3351 615L3347 619L3344 623L3340 628L3336 632L3331 636L3327 640L3323 643L3318 647L3313 651L3309 654L3304 657L3298 661L3293 664L3288 667L3282 669L3277 672L3271 674L3266 676L3260 677L3253 678L3247 679L3240 680L3234 680L3227 681L3220 680L3214 680L3207 679L3201 678L3194 677L3187 675L3181 673L3174 671L3167 669L3161 667L3155 665L3149 663L3144 661L3138 659L3133 656L3127 654L3122 652L3117 649L3112 646L3107 643L3102 640L3097 637L3092 633L3087 629L3082 626L3077 622L3072 619L3066 616L3061 612L3056 609L3051 605L3046 602L3041 599L3036 595L3032 592L3028 589L3023 586L3019 583L3016 580L3012 577L3009 574L3006 570L3004 566L3001 561L2999 556L2996 550L2994 544L2993 538L2991 533L2989 527L2988 522L2987 516L2986 511L2986 506L2986 500L2985 495L2985 489L2985 484L2985 478L2985 473L2986 467L2986 462L2987 456L2988 451L2988 445L2989 440L2991 434L2992 429L2993 423L2995 417L2996 412L2998 407L3000 401L3003 396L3005 391L3008 386L3011 381L3014 376L3018 371L3021 366L3025 362L3029 357L3032 353L3037 349L3041 345L3045 341L3050 337L3055 333L3059 330L3064 326L3068 323L3072 320L3077 317L3081 314L3085 312L3089 309L3094 307L3098 305L3103 303L3108 301L3114 299L3119 298L3125 296L3131 295L3137 293Z"/></clipPath><g clip-path="url(#cc)">
<radialGradient id="rc0"><stop offset="0" stop-color="#444689" stop-opacity="0.9"/><stop offset="1" stop-color="#444689" stop-opacity="0"/></radialGradient>
<circle cx="3276" cy="772" r="271" fill="url(#rc0)"/>
<radialGradient id="rc1"><stop offset="0" stop-color="#490f61" stop-opacity="0.7"/><stop offset="1" stop-color="#490f61" stop-opacity="0"/></radialGradient>
<circle cx="2932" cy="569" r="113" fill="url(#rc1)"/>
</g>
<path class="p" stroke="#440154" d="M2969 510h0"/>
<path class="p" stroke="#471365" d="M2955 538h0m2-33h0m11-133h0"/>
<path class="p" stroke="#482475" d="M2962 373h0m5 164h0m4 8h0m4-161h0m1 133h0m3-112h0m0 136h0m4-167h0m8 37h0"/>
<path class="p" stroke="#463480" d="M2948 392h0m3 6h0m0 9h0m5 118h0m11-4h0m10-145h0m1 221h0m1-20h0m2-161h0m2 69h0m0 27h0m11-119h0m1 148h0m3 23h0m8-22h0m28 44h0m1 5h0m32 83h0"/>
<path class="p" stroke="#414487" d="M2961 477h0m9-33h0m6 119h0m2-38h0m1-10h0m2-112h0m8 144h0m10 68h0m1-215h0m1 172h0m2-199h0m0 99h0m7 94h0m5 23h0m1-9h0m22 5h0m11 43h0m1-7h0m5 21h0m59 42h0m59-3h0m65 63h0"/>
<path class="p" stroke="#3b528b" d="M2951 386h0m28 133h0m1-71h0m4 25h0m4-63h0m1-91h0m2 118h0m2-69h0m0 144h0m1-4h0m1-53h0m3-32h0m2-28h0m0 159h0m12-173h0m1 189h0m6-255h0m3 269h0m3-199h0m3 215h0m1-158h0m0 113h0m12-4h0m5 8h0m1 66h0m1-44h0m10 45h0m8-8h0m8-85h0m1 83h0m13 15h0m11 11h0m7-16h0m6 20h0m4 60h0m1-39h0m1 25h0m20-30h0m4-4h0m0 11h0m38 1h0m12 13h0m30 3h0m11-13h0m4-4h0m12 34h0m3-14h0m13 49h0m6-38h0"/>
<path class="p" stroke="#355f8d" d="M2992 488h0m5-51h0m17 1h0m1-86h0m5-2h0m8 32h0m1 21h0m1-28h0m0 99h0m3-210h0m1 19h0m0 44h0m0 16h0m1 9h0m5 202h0m3-205h0m1 200h0m1-221h0m0 216h0m6-214h0m0 81h0m6 185h0m2-181h0m1-122h0m4 229h0m5 26h0m0 68h0m3-149h0m2-35h0m4 194h0m5-336h0m1 358h0m5 64h0m1-119h0m2 39h0m0 38h0m2 4h0m5-25h0m4-350h0m1 351h0m4-4h0m8-1h0m16 41h0m2-27h0m7 13h0m4-2h0m28 14h0m5 1h0m3-40h0m1 30h0m7 73h0m9-50h0m1-26h0m2-7h0m2-1h0m3 8h0m16 22h0m3-13h0m4-6h0m7 8h0m13-9h0m23 4h0m46-16h0m18 19h0m7-57h0"/>
<path class="p" stroke="#2f6c8e" d="M2983 401h0m7 91h0m18-167h0m9 51h0m1-28h0m8 129h0m2-54h0m4-76h0m3 9h0m2 21h0m11-45h0m13 227h0m3-82h0m3 179h0m3-289h0m1 81h0m6-129h0m9-27h0m0 29h0m7-28h0m1 172h0m6 169h0m3-113h0m5-44h0m2-191h0m3 227h0m3 69h0m4-141h0m0 204h0m5-350h0m6 173h0m3 40h0m16 181h0m10-114h0m2 95h0m13-43h0m1-30h0m29 106h0m15-115h0m1 110h0m4-78h0m1 24h0m8 46h0m2-45h0m0 51h0m4-21h0m3 6h0m1 33h0m12-54h0m6 54h0m5-49h0m15-3h0m1-13h0m13-10h0m30 11h0m7 75h0m2-64h0"/>
<path class="p" stroke="#2a788e" d="M3006 380h0m13-25h0m4 5h0m20-46h0m10-4h0m1 69h0m2-52h0m6-68h0m4 137h0m3-61h0m25-25h0m7 104h0m6-124h0m1-19h0m3 23h0m5 144h0m13-150h0m4 197h0m5-131h0m0 102h0m18-130h0m2 212h0m1-40h0m1-93h0m2 291h0m8-23h0m42-77h0m5-16h0m18 93h0m27-11h0m15-3h0m34 2h0m4-26h0m0 12h0m25-7h0m2-4h0m5-22h0m0 72h0"/>
<path class="p" stroke="#25848e" d="M3086 300h0m14 9h0m3-29h0m5 73h0m11-45h0m4-1h0m4-24h0m2 1h0m9-33h0m4 6h0m1 59h0m1-16h0m8 373h0m1-388h0m1 4h0m4-21h0m2 20h0m0 168h0m1-76h0m4-118h0m4 133h0m7 0h0m1-126h0m3 155h0m2 45h0m0 109h0m21-10h0m7-19h0m3-52h0m6 108h0m4-22h0m4-96h0m42 103h0m13-22h0m0 14h0m18 0h0m19 75h0m10-7h0m9-16h0m29-8h0m6-20h0"/>
<path class="p" stroke="#21918c" d="M3063 331h0m16-31h0m19-2h0m33-19h0m2-36h0m45 61h0m2-22h0m14 139h0m1-5h0m3 23h0m15 39h0m3-204h0m2 115h0m1-145h0m5 255h0m4 2h0m2-36h0m27 60h0m1-34h0m8 28h0m1 33h0m13 21h0m31-11h0m12 19h0m3 52h0m7-26h0m14 5h0m2 12h0m21-20h0m12 30h0"/>
<path class="p" stroke="#1e9c89" d="M3155 285h0m0 3h0m6 33h0m4-62h0m1 25h0m1-62h0m19 103h0m3-3h0m7-109h0m4 42h0m0 18h0m9 94h0m4-111h0m1-6h0m0 10h0m1 21h0m1-7h0m3 54h0m3 124h0m8 6h0m4-120h0m1-78h0m2 116h0m4 100h0m1 13h0m2-69h0m8-84h0m3 160h0m2-29h0m2-182h0m1 153h0m0 103h0m80 121h0m12-57h0m7 9h0m34 6h0"/>
<path class="p" stroke="#22a884" d="M3200 280h0m21-65h0m6 34h0m8 10h0m1 12h0m15 199h0m2-76h0m8-108h0m0 90h0m1 64h0m7-189h0m4 11h0m11 190h0m4-31h0m11 49h0m30 47h0m7 41h0m14 42h0m7-14h0m1 27h0m5-1h0m5-47h0m6 4h0m0 42h0m1-19h0m4 0h0m2-25h0"/>
<path class="p" stroke="#2fb47c" d="M3234 284h0m11-32h0m6 17h0m4 75h0m8-31h0m11 26h0m1-92h0m4 24h0m18-2h0m2 227h0m1-79h0m1 3h0m1-1h0m6 44h0m31 44h0m20 42h0m13 9h0m13 39h0m2-15h0m4-27h0"/>
<path class="p" stroke="#44bf70" d="M3238 245h0m37 6h0m22-20h0m10 61h0m0 48h0m1-44h0m5-23h0m9 104h0m4-15h0m9 69h0m5-127h0m15 200h0m1-38h0m1 11h0m9 4h0m21 65h0m1 22h0m2-35h0m2 16h0m1 15h0m1 28h0"/>
<path class="p" stroke="#5ec962" d="M3294 278h0m10-31h0m5 17h0m23 133h0m13 25h0m17-4h0m0 57h0m2 1h0m4-91h0m6-62h0m14 77h0m3 161h0m1-31h0m5-43h0m0 81h0m10-17h0m0 32h0m1-138h0"/>
<path class="p" stroke="#7ad151" d="M3325 278h0m10-42h0m16 96h0m1-19h0m4 42h0m3 72h0m1-139h0m9 142h0m4-119h0m5 118h0m1-63h0m2-41h0m0 183h0m4 12h0m1-124h0m1 12h0m4 135h0m2-199h0m0 164h0m0 17h0m3-165h0m0 125h0m3 33h0m3-55h0m0 18h0m1-14h0m0 2h0m2-39h0m3 3h0m0 77h0m13-66h0m7-20h0m6 1h0m7 76h0"/>
<path class="p" stroke="#9bd93c" d="M3315 257h0m18 4h0m3 37h0m15 22h0m18-3h0m1-5h0m2 26h0m16-25h0m0 62h0m1-8h0m2-26h0m1 10h0m2 180h0m4-103h0m5 46h0m3-30h0m3-13h0m2-22h0m1 44h0m7-61h0"/>
<path class="p" stroke="#bddf26" d="M3361 301h0m17-44h0m1 45h0m0 16h0m6-38h0m4 73h0m2 27h0m6 3h0m3-69h0m2 84h0m2-5h0m4 133h0m1-145h0m1-69h0m5 96h0m3 60h0m1 67h0m3-60h0m24 34h0"/>
<path class="p" stroke="#dfe318" d="M3385 326h0m21 87h0"/>
<path class="p" stroke="#fde725" d="M3445 439h0"/>
<path class="p" stroke="#440154" d="M2880 505h0m7 8h0m17 20h0m4 9h0m14 12h0m6 11h0m5 9h0"/>
<path class="p" stroke="#471365" d="M2820 406h0m78 27h0m14 15h0m25 112h0m9-31h0m3 22h0m9 25h0m2 11h0m13-82h0m2 15h0"/>
<path class="p" stroke="#482475" d="M2915 386h0m9-48h0m2 64h0m2-11h0m3 55h0m2-30h0m1-58h0m6 19h0m2 48h0m2 123h0m3-80h0m2-82h0m10 116h0m1-124h0m4 33h0m3 2h0m7-11h0m9 9h0m1 96h0m16-118h0m1 178h0"/>
<path class="p" stroke="#463480" d="M2949 518h0m5-24h0m3-92h0m3-5h0m0 26h0m7-57h0m1 37h0m0 119h0m1-142h0m2-13h0m0 188h0m5-55h0m2-139h0m0 28h0m1 145h0m5-12h0m1-15h0m1 1h0m1 0h0m5-121h0m15 180h0m4 10h0m2-206h0m3 207h0m42 39h0m13 49h0"/>
<path class="p" stroke="#414487" d="M2910 373h0m5 149h0m9 1h0m8-62h0m9 52h0m14-3h0m1 43h0m16-76h0m8-42h0m0 10h0m11 97h0m3-11h0m1-31h0m12-111h0m0 164h0m1-78h0m3-149h0m0 199h0m36-268h0m14 369h0m2 41h0m15-27h0m1 5h0m35 108h0m2 17h0m4-86h0m7 86h0m3-82h0m19 94h0m14 41h0m27-43h0m7-102h0m22 117h0m5-40h0m9-72h0m3 81h0m10 50h0m21-46h0m7-18h0m16-11h0m25 23h0m13-36h0m5-46h0m8 111h0m10-103h0m24-49h0m23 22h0"/>
<path class="p" stroke="#3b528b" d="M2941 425h0m29 36h0m9 30h0m5-1h0m9-76h0m2-84h0m1 233h0m1-138h0m8 18h0m2 18h0m5-87h0m2 0h0m9 213h0m6-221h0m3 128h0m22-32h0m0 142h0m7 10h0m17-8h0m0 26h0m5-13h0m0 37h0m33 0h0m6-10h0m4 46h0m1 3h0m5-36h0m2-6h0m3 3h0m6 66h0m20-13h0m8 9h0m14-6h0m9-23h0m29 2h0m23 2h0m4-8h0m25 24h0m2-8h0m2-25h0m24-6h0m22 28h0"/>
<path class="p" stroke="#355f8d" d="M2965 462h0m13-17h0m3 75h0m0 31h0m5-113h0m1-60h0m3 104h0m11-38h0m1-109h0m4 49h0m5-53h0m8 33h0m3 73h0m6 149h0m1-207h0m3 27h0m8-57h0m1 28h0m1 227h0m2-145h0m9 170h0m4-188h0m1 38h0m1-107h0m13 216h0m1 13h0m9-10h0m3 83h0m2-81h0m2-288h0m3 251h0m4-159h0m29 250h0m4 9h0m6 38h0m19-44h0m16 14h0m17 54h0m7-34h0m10-13h0m9 8h0m4 5h0m5 6h0m4-3h0m9-25h0m3 44h0m2-40h0m8 39h0m17-24h0m19-1h0m0 0h0m19-10h0m6 83h0"/>
<path class="p" stroke="#2f6c8e" d="M3009 350h0m1-22h0m13-16h0m2-39h0m4 60h0m16-9h0m5 319h0m4-325h0m5 112h0m4-97h0m1 295h0m4-319h0m2 109h0m0 244h0m9 107h0m1-294h0m3-110h0m5-62h0m8 65h0m1 256h0m0 71h0m1-217h0m2-176h0m0 376h0m2-177h0m8 19h0m6-81h0m18-136h0m9 329h0m14-41h0m1 73h0m1 51h0m3-79h0m20 45h0m7-113h0m1 119h0m15 25h0m1 52h0m1-60h0m2 28h0m3-68h0m31 0h0m1-44h0m30 10h0m2 51h0m17 25h0m9-30h0m4 40h0m8-69h0m8 25h0m2-27h0"/>
<path class="p" stroke="#2a788e" d="M3011 410h0m39-130h0m4 3h0m2 74h0m2-46h0m2 55h0m18-69h0m1-7h0m6 10h0m1 1h0m2-11h0m19 101h0m1-29h0m2-25h0m0 131h0m3-171h0m3 80h0m3 45h0m1-115h0m4-15h0m3 241h0m1-240h0m1 162h0m11 222h0m2-215h0m4-95h0m4 289h0m9 51h0m1-265h0m14 91h0m2-54h0m0 55h0m4 27h0m57 16h0m9 107h0m4 6h0m6-60h0m25-7h0m2 18h0m5 27h0m9 7h0m14-27h0"/>
<path class="p" stroke="#25848e" d="M3064 308h0m10-74h0m33 60h0m4-2h0m0 26h0m3-67h0m3 49h0m0 133h0m2-158h0m5 1h0m2 17h0m0 55h0m9-55h0m14-8h0m1 51h0m7 126h0m6 27h0m2-210h0m3 420h0m6-306h0m1 285h0m2-221h0m2 56h0m7-141h0m12 169h0m18-289h0m3 227h0m22 74h0m33 25h0m15 12h0m7 11h0m9-40h0m20 70h0m0 17h0m8 7h0m8-15h0m9 0h0m16 30h0m60 8h0"/>
<path class="p" stroke="#21918c" d="M3104 292h0m1 7h0m12 2h0m22-13h0m11-24h0m4 26h0m1 11h0m8-21h0m1-2h0m6-11h0m1 27h0m1 37h0m4-42h0m2 47h0m6-35h0m0 35h0m0 59h0m3-110h0m12 168h0m1-177h0m2 46h0m9 142h0m3-65h0m14-121h0m24 259h0m21-277h0m14 310h0m13 28h0m8-19h0m13-33h0m28 77h0m4-10h0m12 13h0m47-15h0"/>
<path class="p" stroke="#1e9c89" d="M3155 251h0m18 13h0m18-4h0m7 21h0m22 26h0m4-45h0m7 145h0m8-25h0m6-105h0m4 42h0m17 195h0m2-47h0m1 49h0m18 14h0m12-41h0m66 123h0m4-16h0m6-11h0m8 34h0"/>
<path class="p" stroke="#22a884" d="M3125 236h0m1-49h0m58 68h0m0 2h0m28 23h0m23-11h0m0 189h0m6-140h0m10 56h0m4-17h0m3-81h0m22 206h0m6-267h0m20 302h0m3-71h0m18 100h0m9-25h0m8 41h0m16 43h0m4-14h0m18-25h0"/>
<path class="p" stroke="#2fb47c" d="M3196 279h0m30-1h0m1-20h0m52 12h0m1 64h0m17-4h0m9-54h0m4 152h0m12 2h0m43 151h0m13-2h0m5 15h0m3 0h0m12-8h0"/>
<path class="p" stroke="#44bf70" d="M3285 283h0m1 0h0m13 102h0m51 121h0m8-33h0m1 19h0m12-135h0m32 42h0m0 122h0m0 53h0"/>
<path class="p" stroke="#5ec962" d="M3283 242h0m14-52h0m10 67h0m1 23h0m5-33h0m8 78h0m6-117h0m5 91h0m3-21h0m9 126h0m16 13h0m21 101h0m4-31h0m6 24h0m4-130h0m2 151h0m0 23h0m9 27h0m2-30h0m1 36h0m0 5h0m6-58h0m4-17h0m4-27h0"/>
<path class="p" stroke="#7ad151" d="M3279 254h0m13 23h0m42 14h0m2 8h0m12 14h0m3-58h0m11 78h0m4-16h0m6 20h0m3-9h0m3 7h0m1 12h0m24 137h0m5-55h0m1 31h0m3 82h0"/>
<path class="p" stroke="#9bd93c" d="M3353 304h0m1 21h0m8 9h0m1 21h0m14 8h0m10 140h0m2-239h0m11 142h0m0 25h0m1-42h0m0 65h0m3-87h0m1-114h0m4 185h0m2-56h0m2 116h0m4-325h0m2 229h0m2 33h0m4 21h0m14 32h0m14-34h0m9 74h0m16 31h0"/>
<path class="p" stroke="#bddf26" d="M3379 350h0m8-13h0m6 17h0m3 35h0m8 67h0m1-60h0m0 2h0m0 34h0m4-65h0m8-157h0m9 0h0m0 35h0m15 102h0m3-78h0m6 15h0m3 146h0m1-108h0m8 62h0m16-105h0m9 234h0m20-100h0m9 103h0m17-100h0m3 126h0"/>
<path class="p" stroke="#dfe318" d="M3387 346h0m6-25h0m0 89h0m0 12h0m7-6h0m102 86h0m19-5h0"/>
</g>
<g>
<linearGradient id="gd" gradientUnits="userSpaceOnUse" x1="790.6" y1="1612.7" x2="1853.8" y2="1375.4"><stop offset="0%" stop-color="#23a588"/><stop offset="10%" stop-color="#23a588"/><stop offset="14.3%" stop-color="#23a588"/><stop offset="20%" stop-color="#22a08a"/><stop offset="28.6%" stop-color="#22998d"/><stop offset="30%" stop-color="#23958e"/><stop offset="40%" stop-color="#2d7a90"/><stop offset="42.9%" stop-color="#307390"/><stop offset="50%" stop-color="#35668f"/><stop offset="57.1%" stop-color="#3b5a8e"/><stop offset="60%" stop-color="#3f538c"/><stop offset="69%" stop-color="#473d85"/><stop offset="70%" stop-color="#483a83"/><stop offset="76.2%" stop-color="#4b2171"/><stop offset="80%" stop-color="#4b1a6b"/><stop offset="85.7%" stop-color="#490f61"/><stop offset="90%" stop-color="#490f61"/><stop offset="100%" stop-color="#490f61"/></linearGradient>
<path fill="url(#gd)" stroke="url(#gd)" class="e" d="M1184 1311L1189 1308L1194 1305L1199 1302L1204 1299L1210 1297L1216 1294L1222 1292L1228 1289L1234 1287L1240 1286L1247 1284L1253 1283L1260 1281L1267 1280L1274 1279L1281 1278L1287 1278L1294 1277L1300 1277L1307 1276L1314 1276L1320 1276L1327 1276L1334 1276L1340 1276L1347 1277L1354 1277L1360 1278L1367 1278L1374 1279L1381 1280L1387 1281L1394 1282L1401 1282L1408 1283L1414 1285L1421 1286L1428 1287L1434 1288L1441 1290L1447 1291L1454 1292L1460 1294L1466 1295L1472 1297L1478 1299L1484 1301L1490 1303L1495 1305L1500 1307L1505 1310L1510 1312L1515 1315L1520 1318L1524 1321L1528 1324L1533 1328L1537 1332L1541 1336L1544 1340L1548 1345L1552 1349L1555 1354L1559 1359L1562 1364L1565 1369L1568 1374L1571 1380L1573 1386L1576 1391L1578 1397L1580 1403L1582 1408L1584 1414L1586 1420L1587 1426L1588 1432L1590 1439L1591 1445L1591 1451L1592 1457L1593 1463L1593 1469L1594 1475L1594 1481L1594 1487L1594 1493L1594 1499L1593 1505L1592 1511L1592 1517L1590 1524L1589 1530L1588 1536L1586 1542L1585 1548L1583 1553L1581 1559L1579 1565L1577 1570L1575 1576L1573 1581L1570 1586L1567 1591L1565 1596L1562 1601L1559 1605L1555 1610L1552 1614L1549 1618L1545 1622L1541 1626L1538 1630L1534 1633L1529 1637L1525 1640L1521 1643L1516 1646L1512 1649L1507 1652L1502 1654L1497 1657L1492 1659L1486 1661L1481 1663L1475 1665L1469 1667L1463 1669L1457 1671L1450 1673L1444 1675L1437 1677L1430 1679L1423 1680L1417 1681L1410 1683L1403 1684L1396 1685L1388 1685L1381 1686L1374 1686L1366 1687L1359 1687L1352 1687L1345 1687L1338 1687L1331 1687L1325 1687L1318 1687L1312 1686L1305 1686L1299 1685L1292 1684L1285 1683L1279 1681L1272 1680L1265 1679L1258 1677L1252 1675L1245 1674L1239 1672L1232 1671L1226 1669L1220 1667L1214 1666L1208 1664L1202 1662L1196 1660L1190 1658L1184 1656L1178 1654L1173 1652L1167 1650L1162 1648L1157 1646L1152 1643L1147 1640L1142 1637L1138 1633L1133 1629L1129 1626L1125 1622L1121 1618L1118 1613L1116 1609L1114 1604L1112 1599L1110 1594L1109 1588L1108 1583L1107 1577L1106 1571L1105 1565L1104 1559L1103 1553L1102 1547L1102 1541L1102 1535L1101 1528L1101 1522L1101 1516L1102 1510L1102 1504L1102 1498L1103 1492L1104 1486L1105 1480L1106 1474L1107 1467L1108 1461L1110 1454L1112 1447L1113 1440L1115 1434L1117 1427L1119 1420L1121 1414L1123 1407L1125 1401L1128 1395L1130 1389L1132 1383L1134 1377L1137 1372L1139 1367L1142 1362L1144 1357L1147 1353L1150 1349L1153 1345L1156 1341L1159 1337L1162 1333L1165 1329L1167 1326L1170 1323L1173 1320L1177 1317L1180 1314Z"/>
<path class="p" stroke="#440154" d="M1615 1445h0m1 56h0m3-30h0"/>
<path class="p" stroke="#471365" d="M1516 1322h0m52 8h0m13 60h0m3 76h0m11 12h0m3 13h0m0 17h0m15-11h0m9 40h0m6-22h0"/>
<path class="p" stroke="#482475" d="M1426 1264h0m8 13h0m41 13h0m14-32h0m27 56h0m1 13h0m18 90h0m9-40h0m1-20h0m9-44h0m0 62h0m3-59h0m3 40h0m7 230h0m1-217h0m6 19h0m1-19h0m4 272h0m1-215h0m0 137h0m1-232h0m0 29h0m3 204h0m1-197h0m1 100h0m1-37h0m1 30h0m0 92h0m2-102h0m1-26h0m1 67h0m2-16h0m2 90h0m1 10h0m5-186h0m2 53h0m2 22h0m2 60h0m0 24h0"/>
<path class="p" stroke="#463480" d="M1377 1277h0m83 100h0m7-98h0m12 69h0m9-65h0m6 258h0m2-254h0m1 20h0m3 3h0m1 136h0m7-138h0m9 19h0m2-11h0m2-5h0m2-27h0m0 68h0m5-39h0m2 198h0m2-76h0m0 51h0m1 74h0m0 20h0m2 63h0m8-33h0m1 9h0m1 34h0m1-219h0m1 35h0m0 78h0m1-112h0m1 160h0m0 18h0m5-75h0m2-169h0m7 167h0m7-186h0m1 22h0m0 151h0m0 9h0m0 30h0m1 50h0m5 4h0m1-60h0m0 63h0m6-74h0m15-93h0m0 66h0m3-5h0m1-1h0m2-36h0"/>
<path class="p" stroke="#414487" d="M1250 1268h0m30-35h0m50 50h0m29-50h0m1 7h0m33 25h0m14 28h0m0 52h0m16-60h0m6-34h0m3 21h0m2 410h0m1-333h0m1 325h0m1-376h0m3 264h0m2-169h0m9-114h0m5 1h0m0 194h0m0 4h0m0 167h0m2-382h0m0 17h0m2 19h0m2 15h0m2-19h0m5 305h0m7-307h0m2 226h0m10-35h0m1 164h0m1-229h0m0 197h0m8-201h0m2 30h0m2 20h0m7-157h0m8 346h0m1-30h0m1-84h0m4 34h0m1 65h0m2 0h0m6-298h0m1 145h0m3 188h0m11-333h0m16 258h0m3-1h0m6-29h0m6 0h0m3-167h0m0 46h0m7 119h0"/>
<path class="p" stroke="#3b528b" d="M1278 1289h0m13-10h0m47-23h0m4 432h0m12-299h0m3-22h0m1 326h0m2-293h0m4-123h0m7 187h0m10-114h0m2 80h0m1 23h0m1-48h0m1 285h0m1-401h0m3-12h0m2-2h0m16 410h0m0 24h0m1-402h0m3 255h0m4-221h0m6-47h0m3 66h0m1 155h0m0 7h0m6 20h0m1 45h0m5-117h0m4-23h0m1-165h0m2 299h0m3-185h0m8 210h0m0 52h0m18-51h0m2 70h0m2-39h0m1-366h0m0 276h0m1 47h0m3-307h0m0 172h0m0 163h0m7-19h0m2 48h0m11 8h0m14-6h0m13-92h0m0 75h0m5-3h0m16-4h0"/>
<path class="p" stroke="#355f8d" d="M1175 1284h0m12 20h0m32-34h0m20 12h0m7 143h0m1-139h0m6 381h0m23-218h0m9-168h0m7-29h0m4 24h0m5 191h0m2 206h0m1-400h0m0 411h0m1-423h0m7 159h0m3-82h0m3 93h0m5-139h0m2 191h0m0 205h0m0 3h0m2-443h0m2 78h0m0 162h0m2-216h0m1 41h0m2 225h0m3-272h0m1 99h0m4 190h0m6-107h0m1-89h0m0 81h0m6 147h0m4-129h0m2-109h0m0 298h0m3 33h0m3-369h0m0 196h0m2 117h0m16-340h0m8 0h0m0 119h0m21-127h0m7-9h0m12 309h0m2 95h0m13-377h0m28 386h0"/>
<path class="p" stroke="#2f6c8e" d="M1133 1351h0m12-32h0m8 336h0m4-345h0m6 32h0m4-28h0m20-30h0m7 19h0m8 179h0m11-210h0m2 210h0m1-98h0m8-88h0m1 404h0m2-404h0m0 142h0m1-164h0m4 211h0m0 187h0m1-375h0m0 104h0m3 295h0m2-215h0m0 42h0m3-238h0m0 56h0m1-103h0m1 74h0m3 29h0m3 4h0m0 9h0m3-45h0m1 260h0m5-99h0m1-221h0m7 345h0m0 107h0m2-304h0m4 84h0m2-3h0m3-129h0m3 297h0m6-373h0m4 366h0m3-352h0m4 168h0m5 102h0m3 11h0m0 109h0m4 26h0m4-11h0m3-67h0m1 74h0m1-230h0m1-179h0m0 330h0m7 45h0m3-248h0m9-169h0m6 27h0m29 388h0m0 35h0m1-53h0m2-376h0m3 429h0m8 4h0m1-7h0"/>
<path class="p" stroke="#2a788e" d="M1028 1532h0m24-97h0m44 161h0m4-245h0m4 64h0m6-51h0m2 134h0m2-233h0m4 58h0m19 45h0m2 278h0m1-321h0m6-13h0m2 0h0m1-15h0m3 3h0m3 55h0m6 53h0m6-62h0m0 299h0m2-301h0m3 115h0m4-160h0m7 23h0m2 76h0m2 244h0m1-285h0m10 177h0m3-222h0m2 24h0m1-85h0m3 45h0m3-51h0m4 418h0m2-296h0m3 304h0m5-8h0m2-352h0m7 353h0m1-371h0m1 267h0m11 113h0m1 0h0m2 1h0m5 40h0m2-452h0m1 360h0m2-343h0m3 397h0m11 2h0m3-364h0m7 350h0m15 56h0m4-46h0m19-133h0m23 143h0m83 35h0"/>
<path class="p" stroke="#25848e" d="M1023 1394h0m4 144h0m1 99h0m13-130h0m11 32h0m1 95h0m2-130h0m6 80h0m4-112h0m1 1h0m2 36h0m7-143h0m1 88h0m2 79h0m0 63h0m7-48h0m3 3h0m4-56h0m2 38h0m7-216h0m0 14h0m9 88h0m2-53h0m6 126h0m1-188h0m3 44h0m1-41h0m0 110h0m1-48h0m1 22h0m1-77h0m2-19h0m0 57h0m3-43h0m5 71h0m0 269h0m1-251h0m2-1h0m1 149h0m3 116h0m2 0h0m5-253h0m1-69h0m2 324h0m2-120h0m5-187h0m2 304h0m1 15h0m2-266h0m0 43h0m1 206h0m2-387h0m4 63h0m4 342h0m1-3h0m21-352h0m10 340h0m11 12h0m2-7h0m4-416h0m3 22h0m0 392h0m8 25h0m8-12h0m3-8h0m0 26h0m6-38h0m58 44h0m31-16h0"/>
<path class="p" stroke="#21918c" d="M1012 1391h0m3 187h0m11-16h0m7 1h0m11 92h0m2-76h0m9-65h0m4-183h0m1 268h0m2-245h0m6 280h0m1-170h0m4-15h0m1 18h0m0 22h0m1 23h0m1 33h0m0 29h0m1-19h0m1 21h0m1-123h0m1 120h0m3-52h0m6 29h0m1 33h0m2-69h0m1-88h0m1-13h0m0 91h0m0 37h0m1-74h0m0 143h0m1-81h0m2-83h0m0 3h0m1 201h0m1-120h0m2-115h0m0 160h0m1-188h0m2 0h0m2-74h0m0 28h0m0 163h0m1-132h0m5 184h0m5-113h0m2 158h0m0 22h0m1-50h0m0 37h0m18 1h0m1-257h0m0 288h0m1-248h0m4 74h0m3 198h0m7-37h0m3-89h0m1 90h0m6-5h0m4 20h0m11 44h0m13-31h0m2 4h0m7-2h0m0 2h0m17-105h0m3 124h0"/>
<path class="p" stroke="#1e9c89" d="M1018 1542h0m23 27h0m0 24h0m5 47h0m3-121h0m5 29h0m2 13h0m4-20h0m1-98h0m1 182h0m2-237h0m0 156h0m4-1h0m4-95h0m0 110h0m1-52h0m1 21h0m1 19h0m0 15h0m1-42h0m0 41h0m1-61h0m0 130h0m1-110h0m0 117h0m2-116h0m8-86h0m0 194h0m1-46h0m1 22h0m1-150h0m0 88h0m0 21h0m2-75h0m1-100h0m0 131h0m1-45h0m3 106h0m3 2h0m2-100h0m0 62h0m1 66h0m1-101h0m0 100h0m0 9h0m2-264h0m1 67h0m0 152h0m3-6h0m2-91h0m1 77h0m15 119h0m10-28h0m35 4h0m10 15h0m3 4h0"/>
<path class="p" stroke="#22a884" d="M1018 1644h0m8-39h0m9-198h0m2 93h0m6 18h0m1 5h0m11 35h0m0 14h0m3-7h0m0 75h0m2-193h0m0 153h0m1-82h0m4 37h0m3 89h0m2-15h0m1-150h0m4 70h0m0 30h0m2-138h0m1 133h0m4-203h0m0 166h0m3 12h0m10 27h0m0 62h0m3-158h0m1 13h0m0 62h0m6 38h0m30 52h0"/>
<path class="p" stroke="#2fb47c" d="M1019 1541h0m8 74h0m1 39h0m4-42h0m5-103h0m13 89h0m11-176h0m2 16h0m1 122h0m0 79h0m5-76h0m1-54h0m3 98h0m2-259h0m3 286h0m5-86h0m10 20h0m15 36h0"/>
<path class="p" stroke="#44bf70" d="M1034 1605h0m9-99h0m4 129h0m3-27h0m2-38h0m9-20h0m13-30h0m9 50h0"/>
<path class="p" stroke="#5ec962" d="M1034 1636h0m2 21h0m27-44h0"/>
<path class="p" stroke="#9bd93c" d="M1071 1606h0"/>
<path class="p" stroke="#dfe318" d="M964 1676h0"/>
<path class="p" stroke="#fde725" d="M962 1678h0m0 17h0m2-7h0m4 4h0m2-10h0"/>
<path class="p" stroke="#440154" d="M1570 1346h0m10 210h0m10-35h0m30-21h0m11-23h0"/>
<path class="p" stroke="#471365" d="M1544 1307h0m14 66h0m7-42h0m9-43h0m0 89h0m6-75h0m4 135h0m4-40h0m1 56h0m1 30h0m1-23h0m9-119h0m3 230h0m2-146h0m1-83h0m1 174h0m3 45h0m6-88h0"/>
<path class="p" stroke="#482475" d="M1451 1294h0m80 16h0m1 309h0m2-241h0m4-34h0m4-134h0m5 411h0m4 20h0m2-169h0m11 175h0m4-88h0m1 47h0m4-182h0m8 146h0m1-171h0m3 49h0m2-2h0m0 81h0m2-1h0m1-124h0m1-24h0m2 1h0m3-70h0m5 169h0m2 144h0m2-70h0m2-187h0m1 57h0m3-3h0m3-141h0m1 212h0m4-50h0m13 0h0m4 89h0m6 84h0m4-178h0m0 10h0"/>
<path class="p" stroke="#463480" d="M1433 1260h0m3 28h0m6 396h0m15-390h0m8-15h0m27 70h0m9 99h0m6 21h0m7 180h0m3-336h0m16 21h0m2-1h0m11 121h0m6-44h0m1-40h0m1-2h0m4 203h0m1-166h0m0 52h0m2 136h0m1-95h0m6 74h0m8-37h0m0 75h0m3-140h0m2-73h0m1 151h0m1 6h0m4-119h0m10 82h0m1-8h0m1-52h0m1-10h0m2 42h0m1 26h0m3-90h0m0 166h0"/>
<path class="p" stroke="#414487" d="M1330 1285h0m42-10h0m10 41h0m31-62h0m4 26h0m0 423h0m2-385h0m6-38h0m16 418h0m5-398h0m5 47h0m10 33h0m8-90h0m5 58h0m0 175h0m1-227h0m7 334h0m6 7h0m4-244h0m2 172h0m2 97h0m1-278h0m1-219h0m0 162h0m2-1h0m3 345h0m5-213h0m17 127h0m0 49h0m1-85h0m3 136h0m8-52h0m1-293h0m8 156h0m0 119h0m2-102h0m1-195h0m3 287h0m8 61h0m2-12h0m18-308h0m4 211h0m5-34h0m1 67h0m13-106h0"/>
<path class="p" stroke="#3b528b" d="M1258 1268h0m19 15h0m31-25h0m2 18h0m13 130h0m2-223h0m0 83h0m22 197h0m15-78h0m5-97h0m3 431h0m21-22h0m1-411h0m7-71h0m1 360h0m5-93h0m6 38h0m6-221h0m2 378h0m1-352h0m6 132h0m3 146h0m1-313h0m0 179h0m3 99h0m3-201h0m0 144h0m1 150h0m1-377h0m2-11h0m2-54h0m3 420h0m1-306h0m0 87h0m2 279h0m1-417h0m4 413h0m4-56h0m1 59h0m6-406h0m10 370h0m11-4h0m10 11h0m6 50h0m5-27h0m3-29h0m2-9h0m6-3h0m5 20h0m17-39h0m1-13h0m21-20h0m10 0h0"/>
<path class="p" stroke="#355f8d" d="M1191 1297h0m13-55h0m19 39h0m5-17h0m4 19h0m16-43h0m0 240h0m24 208h0m1-420h0m0 137h0m13 33h0m3-166h0m0 186h0m0 194h0m4-424h0m2 249h0m3 206h0m8-292h0m0 88h0m3-213h0m5 433h0m6-409h0m4 140h0m1-198h0m1 144h0m3 224h0m2-233h0m2 338h0m1-439h0m6 18h0m5 288h0m1-213h0m0 325h0m3-115h0m1-298h0m0 319h0m1 117h0m1-481h0m0 325h0m4 47h0m4-326h0m1 442h0m5-17h0m3-280h0m0 161h0m4 4h0m3-54h0m0 172h0m1-215h0m1 202h0m1-415h0m5 287h0m3 129h0m1-54h0m2-108h0m2-251h0m1 211h0m1 121h0m15 84h0m1-194h0m1 207h0m1-68h0m7-32h0m5 24h0m5 59h0m4-18h0m4 11h0m23 5h0m5 9h0m2 23h0m27 18h0m9-66h0m40-12h0"/>
<path class="p" stroke="#2f6c8e" d="M1137 1379h0m37-69h0m14-36h0m2-8h0m10 121h0m2 41h0m5-137h0m1 55h0m2-55h0m16-14h0m3 206h0m0 18h0m3 8h0m3-119h0m9 303h0m2-126h0m0 86h0m0 27h0m4-303h0m1 232h0m1 82h0m4-2h0m6-405h0m3-60h0m5 277h0m1-223h0m9 29h0m1 290h0m6-82h0m2 78h0m3-303h0m4 125h0m2 252h0m4-200h0m1 58h0m4 7h0m1-263h0m2-4h0m7 325h0m0 52h0m6 65h0m6 9h0m20-21h0m2-120h0m2 35h0m7-123h0m11-220h0m0 430h0m13-337h0m11 328h0m9 22h0m23-29h0"/>
<path class="p" stroke="#2a788e" d="M1055 1548h0m30-72h0m22-6h0m1-25h0m7-44h0m21-8h0m11-76h0m0 22h0m19 22h0m6-70h0m9 93h0m11-50h0m1 353h0m20-236h0m2-140h0m0 110h0m5 48h0m2 208h0m3-183h0m4-286h0m0 330h0m4 99h0m1 45h0m3-265h0m1 82h0m2-200h0m6 411h0m5-410h0m1 373h0m5-401h0m2 420h0m2-32h0m7 97h0m7-77h0m5 46h0m20-9h0m10-35h0m110 23h0"/>
<path class="p" stroke="#25848e" d="M993 1726h0m18-601h0m51 337h0m3-28h0m8 11h0m13 34h0m2-10h0m1-101h0m2 110h0m0 5h0m1-78h0m6 73h0m1 86h0m3-185h0m1 122h0m4-61h0m0 95h0m2-203h0m3-5h0m1 16h0m0 291h0m6-214h0m2 12h0m7-281h0m0 238h0m5-26h0m1-8h0m3-53h0m2 69h0m6-89h0m0 41h0m0 306h0m4-281h0m0 131h0m4-206h0m0 51h0m4 321h0m9-430h0m6 368h0m1 7h0m1 38h0m2-137h0m1-253h0m10 340h0m4 32h0m2-125h0m7 106h0m11 10h0m4 2h0m7-5h0m13 75h0m25 12h0m14-34h0m26 47h0m17-16h0"/>
<path class="p" stroke="#21918c" d="M986 1723h0m10-408h0m2 164h0m5-168h0m12 419h0m1-224h0m0 116h0m6-10h0m3-65h0m2 179h0m7-374h0m12 377h0m1-204h0m1 86h0m4-169h0m4 78h0m4-141h0m0 141h0m2-141h0m3 124h0m2 114h0m4-108h0m6-69h0m0 72h0m2 78h0m4-44h0m1-95h0m0 9h0m0 25h0m1-52h0m0 1h0m0 34h0m1-2h0m7-155h0m2-115h0m0 431h0m1-71h0m1-239h0m1-11h0m1 353h0m4-392h0m2 120h0m0 225h0m1-41h0m6-110h0m2-43h0m0 165h0m4-353h0m1 93h0m1 97h0m4 27h0m1-258h0m0 305h0m1 225h0m4-353h0m0 22h0m7-43h0m1 162h0m1-307h0m0 165h0m1 258h0m1-295h0m2 2h0m1-186h0m0 99h0m5 240h0m1-127h0m4 288h0m0 35h0m10-389h0m2 237h0m7 161h0m4-59h0m26 7h0m13 97h0m3-53h0m11-13h0m11-12h0"/>
<path class="p" stroke="#1e9c89" d="M960 1754h0m3-277h0m7 14h0m0 191h0m4-179h0m2 168h0m4-259h0m11-151h0m6 134h0m0 223h0m6 40h0m1-201h0m5 120h0m1-313h0m1 280h0m1-116h0m0 97h0m1-30h0m0 120h0m1-276h0m4 136h0m12 89h0m0 37h0m3-373h0m3 108h0m0 295h0m1-106h0m0 80h0m6-47h0m2-307h0m0 285h0m6-13h0m2 13h0m1-257h0m4 235h0m5-10h0m1-303h0m0 286h0m1-185h0m1 159h0m0 83h0m0 142h0m4-117h0m2-235h0m2 93h0m0 232h0m3-121h0m7 83h0m1-144h0m1 101h0m4-85h0m1-18h0m0 8h0m2 67h0m5 12h0m2-130h0m1 160h0m2-75h0m0 38h0m0 37h0m3-12h0m1-156h0m2 214h0m4 29h0m7-38h0m2-249h0m3 350h0m1-151h0m3 112h0m22-53h0m32 97h0"/>
<path class="p" stroke="#22a884" d="M940 1463h0m2-74h0m13 136h0m6 90h0m15-47h0m37-127h0m2 123h0m3-132h0m2 151h0m0 100h0m2-228h0m0 111h0m2-26h0m12-76h0m2 230h0m4-139h0m1-166h0m2 38h0m2 198h0m6-161h0m1 177h0m1 134h0m1-67h0m6-82h0m2-40h0m2-80h0m2 118h0m3-39h0m1 0h0m2-46h0m0 87h0m1-103h0m1-34h0m0 25h0m2 62h0m2 70h0m6-30h0m6-148h0m0 65h0m3-63h0m3 5h0m1 224h0m2-241h0m1 70h0m3 108h0m1 69h0m6 16h0m2-134h0m0 22h0m5 3h0m12 60h0"/>
<path class="p" stroke="#2fb47c" d="M1021 1544h0m0 21h0m5 40h0m1-74h0m0 117h0m5 8h0m1-33h0m9-70h0m8 94h0m4-137h0m4-7h0m2 87h0m1 30h0m13 11h0m5-84h0m0 12h0"/>
<path class="p" stroke="#44bf70" d="M1029 1538h0m0 84h0m19-31h0m25 16h0"/>
<path class="p" stroke="#5ec962" d="M1019 1615h0m31-1h0m3 26h0m18 5h0"/>
<path class="p" stroke="#7ad151" d="M1008 1579h0m7-16h0m65 66h0"/>
<path class="p" stroke="#9bd93c" d="M975 1586h0m29 18h0"/>
<path class="p" stroke="#bddf26" d="M980 1626h0m38 21h0"/>
<path class="p" stroke="#fde725" d="M969 1695h0m1 1h0m8-10h0"/>
</g>
<g>
<linearGradient id="ge" gradientUnits="userSpaceOnUse" x1="1796.7" y1="1725.7" x2="2655.5" y2="1454.5"><stop offset="0%" stop-color="#444689"/><stop offset="10%" stop-color="#444689"/><stop offset="15%" stop-color="#444689"/><stop offset="20%" stop-color="#3b5b8e"/><stop offset="25%" stop-color="#326e90"/><stop offset="30%" stop-color="#2b7e90"/><stop offset="35%" stop-color="#268d8f"/><stop offset="40%" stop-color="#24908e"/><stop offset="50%" stop-color="#22998d"/><stop offset="60%" stop-color="#22a08a"/><stop offset="70%" stop-color="#38b87b"/><stop offset="75%" stop-color="#50c46d"/><stop offset="80%" stop-color="#72d059"/><stop offset="85%" stop-color="#9cda3f"/><stop offset="90%" stop-color="#9cda3f"/><stop offset="100%" stop-color="#9cda3f"/></linearGradient>
<path fill="url(#ge)" stroke="url(#ge)" class="e" d="M2132 1280L2136 1278L2142 1277L2147 1275L2152 1274L2158 1272L2164 1271L2169 1270L2175 1269L2181 1269L2187 1268L2193 1267L2199 1267L2205 1267L2212 1267L2218 1267L2223 1267L2229 1268L2235 1268L2240 1269L2246 1270L2251 1271L2256 1273L2262 1274L2267 1276L2272 1278L2277 1279L2282 1281L2287 1283L2292 1286L2297 1288L2301 1291L2306 1293L2311 1296L2315 1299L2320 1302L2324 1306L2329 1309L2333 1312L2337 1316L2341 1320L2345 1323L2348 1327L2352 1330L2355 1334L2358 1338L2361 1342L2364 1346L2367 1350L2370 1354L2372 1358L2374 1362L2377 1367L2379 1371L2381 1376L2383 1380L2385 1385L2386 1390L2388 1394L2390 1399L2391 1404L2393 1409L2395 1415L2396 1420L2398 1425L2400 1430L2401 1435L2403 1440L2405 1445L2406 1451L2408 1456L2410 1461L2412 1466L2413 1471L2415 1476L2417 1481L2419 1486L2420 1491L2422 1496L2424 1501L2425 1506L2426 1511L2428 1516L2429 1521L2430 1526L2431 1531L2432 1536L2433 1541L2434 1546L2434 1551L2435 1556L2435 1561L2435 1566L2435 1571L2435 1575L2435 1580L2434 1584L2433 1589L2432 1593L2431 1598L2429 1602L2427 1606L2426 1610L2424 1614L2421 1618L2419 1622L2416 1625L2413 1628L2410 1632L2407 1635L2404 1638L2400 1640L2396 1643L2392 1646L2388 1648L2383 1650L2378 1652L2373 1654L2368 1656L2362 1658L2357 1660L2352 1662L2346 1664L2341 1666L2335 1668L2330 1669L2324 1671L2318 1672L2313 1674L2307 1675L2301 1676L2295 1678L2288 1679L2282 1680L2276 1681L2270 1682L2264 1683L2257 1683L2251 1684L2245 1685L2239 1686L2233 1686L2227 1687L2221 1687L2215 1687L2209 1687L2203 1687L2196 1686L2190 1686L2184 1685L2178 1684L2172 1683L2166 1683L2160 1682L2155 1681L2149 1680L2143 1679L2138 1678L2133 1677L2127 1675L2122 1674L2116 1672L2111 1670L2105 1668L2099 1666L2094 1664L2088 1662L2083 1659L2078 1656L2073 1653L2069 1650L2064 1646L2059 1643L2055 1639L2051 1635L2047 1631L2044 1627L2041 1622L2039 1618L2037 1614L2035 1609L2033 1604L2031 1598L2029 1593L2027 1588L2025 1582L2023 1577L2021 1571L2019 1566L2018 1560L2016 1555L2015 1549L2014 1544L2013 1538L2012 1532L2011 1527L2010 1522L2010 1516L2009 1511L2009 1505L2009 1500L2010 1495L2010 1489L2011 1484L2013 1479L2014 1473L2015 1468L2017 1462L2018 1456L2020 1451L2021 1445L2023 1439L2024 1434L2026 1428L2028 1422L2030 1417L2031 1412L2033 1407L2035 1401L2038 1397L2040 1392L2042 1387L2044 1382L2047 1377L2049 1372L2052 1367L2054 1361L2057 1356L2060 1351L2063 1346L2066 1341L2068 1336L2071 1332L2074 1328L2077 1323L2081 1319L2084 1316L2087 1312L2090 1308L2094 1305L2097 1302L2101 1298L2105 1295L2109 1292L2113 1290L2118 1287L2122 1285L2127 1282Z"/>
<path class="p" stroke="#463480" d="M1961 1628h0m57 4h0m4 16h0"/>
<path class="p" stroke="#414487" d="M2020 1616h0"/>
<path class="p" stroke="#3b528b" d="M1966 1576h0m61 45h0"/>
<path class="p" stroke="#355f8d" d="M1980 1626h0m10-28h0m14-135h0m16 114h0m6 35h0m10 29h0"/>
<path class="p" stroke="#2f6c8e" d="M1949 1427h0m19 32h0m14 117h0m13 32h0m3-122h0m0 151h0m2-23h0m2-76h0m15-10h0m0 66h0m2 60h0m4-42h0m5-195h0m12 4h0m1-19h0m0 224h0m5 3h0m6 12h0"/>
<path class="p" stroke="#2a788e" d="M1973 1444h0m1-63h0m7 48h0m11 81h0m5 69h0m1-1h0m3-58h0m1-17h0m1-16h0m3 7h0m0 22h0m0 35h0m1-95h0m1 19h0m0 12h0m0 47h0m6-142h0m0 97h0m2 81h0m1-97h0m0 81h0m0 49h0m3-47h0m1-96h0m2-6h0m14 153h0m1-46h0m1 98h0m11-345h0m0 319h0m2 1h0m7 9h0m3 21h0m9-378h0m4 379h0m0 42h0m18-26h0m6 4h0m12-15h0m1-4h0m0 16h0m8 2h0m2-12h0m5 8h0m109 1h0"/>
<path class="p" stroke="#25848e" d="M1980 1397h0m4 80h0m12-55h0m7 25h0m0 23h0m0 24h0m1-134h0m3 31h0m0 47h0m2-48h0m1 70h0m2-75h0m3 182h0m3-140h0m5 47h0m1 96h0m1 21h0m9-90h0m2-83h0m6-33h0m1-69h0m2 188h0m4-52h0m0 26h0m8-129h0m2-33h0m0 59h0m4 288h0m0 18h0m3-89h0m2-167h0m0 141h0m4-134h0m0 213h0m2-80h0m6-241h0m2 369h0m2-65h0m7-363h0m6 439h0m6-125h0m2-287h0m2 345h0m2 48h0m2-394h0m0 345h0m3-183h0m6 230h0m2-9h0m2-286h0m10 282h0m1 46h0m3-222h0m2-38h0m0 242h0m4-502h0m3 493h0m2-4h0m15 24h0m13-492h0m11 463h0m3 33h0m77-34h0m2-3h0m30-5h0m22 12h0m45-10h0"/>
<path class="p" stroke="#21918c" d="M1999 1471h0m9-44h0m15 2h0m10-15h0m6 222h0m5-353h0m5 241h0m2-156h0m0 28h0m2 243h0m3-270h0m0 7h0m1-28h0m1 14h0m0 19h0m0 118h0m1 19h0m5-183h0m1 12h0m2-32h0m0 348h0m1-344h0m3 331h0m5-241h0m4-74h0m2-34h0m2 234h0m1-136h0m2 259h0m2-343h0m7 173h0m2 181h0m1-159h0m1 29h0m4-219h0m1 167h0m5-65h0m0 212h0m1-354h0m0 97h0m1 302h0m3 3h0m3-310h0m3 261h0m6-178h0m2-147h0m0 2h0m3-36h0m2 104h0m6 246h0m1-353h0m0 259h0m2 142h0m1-436h0m0 390h0m6-350h0m2 171h0m2-213h0m3 272h0m1-187h0m0 363h0m6-56h0m2-345h0m0 407h0m1-124h0m12-160h0m0 160h0m2 79h0m0 77h0m1-477h0m1 15h0m9-45h0m0 294h0m4-244h0m0 328h0m1-243h0m0 314h0m10 33h0m4-284h0m9-140h0m0 316h0m0 111h0m5-28h0m6 18h0m3-172h0m8-103h0m3-2h0m6 307h0m4-242h0m4 155h0m10 68h0m2-83h0m7 80h0m2-64h0m8 44h0m13-28h0m4-12h0m56 42h0"/>
<path class="p" stroke="#1e9c89" d="M2016 1346h0m8 34h0m18 59h0m4-93h0m5 5h0m1 54h0m3-40h0m2-8h0m7-38h0m4 10h0m6-48h0m1-22h0m7 71h0m15-24h0m1-46h0m3 3h0m1-9h0m1 168h0m3 15h0m7-114h0m0 343h0m1-243h0m4-150h0m18 263h0m5 169h0m2-459h0m0 65h0m1-45h0m5 127h0m1 87h0m2-196h0m6 195h0m1-139h0m1 88h0m1-135h0m2 2h0m3 173h0m0 208h0m1-267h0m0 9h0m5-136h0m3 45h0m8 66h0m0 305h0m2-19h0m0 18h0m1-199h0m0 23h0m5-228h0m2 114h0m1 283h0m1-91h0m3 41h0m0 93h0m1-117h0m5-236h0m3 93h0m3 215h0m2-99h0m3 112h0m5-16h0m2-447h0m0 381h0m1 81h0m1-171h0m4-184h0m2 354h0m2-176h0m0 64h0m0 37h0m1-359h0m1-41h0m3 12h0m3 276h0m0 133h0m3-261h0m3-128h0m1 145h0m3-141h0m2 326h0m12 36h0m6 58h0m2-57h0m4-15h0m0 94h0m2-99h0m0 98h0m1-18h0m13-212h0m4 157h0m3-260h0m1 52h0m2 129h0m4 88h0m5-77h0m6-39h0m0 125h0m8 40h0m3-20h0m6-26h0m12-44h0m2 71h0m18-84h0m1 50h0m9 15h0m32 5h0"/>
<path class="p" stroke="#22a884" d="M2128 1280h0m16 10h0m34-48h0m1 445h0m36-421h0m5 4h0m4 154h0m1-196h0m2 102h0m12 358h0m2-336h0m2-46h0m3 87h0m6-155h0m2 22h0m5-37h0m9 39h0m3 54h0m4 44h0m2-77h0m9 5h0m0 391h0m13-247h0m8 287h0m1-232h0m3-124h0m2 229h0m1-149h0m2 46h0m1-6h0m2 77h0m0 56h0m2 68h0m2-17h0m3-327h0m6 328h0m3-190h0m1 190h0m3-379h0m0 366h0m2-276h0m9-43h0m3-52h0m1 52h0m1 148h0m0 87h0m20 70h0m14 13h0m5-66h0m2 44h0m6-51h0m2 66h0m17-180h0m1 137h0m11-17h0m2-60h0m6 21h0"/>
<path class="p" stroke="#2fb47c" d="M2211 1261h0m6-17h0m2-1h0m5 11h0m54 30h0m3 399h0m11-405h0m1 114h0m2-100h0m7 64h0m1-60h0m0 27h0m2 153h0m1-168h0m4 98h0m4-103h0m1 86h0m1-64h0m7 30h0m2-59h0m1 175h0m1-170h0m1-46h0m1 32h0m0 51h0m2 152h0m4-135h0m0 273h0m3-233h0m4-76h0m0 36h0m1-39h0m3 196h0m2 16h0m3-119h0m2 1h0m5 37h0m3 29h0m3-110h0m15 75h0m0 7h0m1-41h0m1 217h0m3-245h0m0 172h0m3-41h0m3 27h0m0 90h0m1-36h0m2-199h0m1 241h0m1-137h0m2-58h0m1-81h0m4 27h0m0 250h0m1-4h0m6-159h0m1 66h0m3-1h0m3-38h0m2-14h0m1 36h0m5-19h0m2 2h0m13 43h0m15 40h0"/>
<path class="p" stroke="#44bf70" d="M2297 1265h0m17 24h0m19 3h0m14 220h0m3-207h0m2 21h0m2 12h0m8 3h0m1-20h0m2 25h0m1 56h0m2 133h0m3-212h0m2 43h0m2 2h0m4 35h0m8-25h0m6 28h0m0 12h0m3 28h0m1-37h0m1 53h0m1-45h0m7 225h0m1-210h0m2 78h0m1-59h0m8-5h0m6 144h0m1-114h0m5 57h0m3-50h0m0 108h0m1-104h0m7 130h0m7-55h0m9 39h0"/>
<path class="p" stroke="#5ec962" d="M2324 1277h0m34 60h0m10 6h0m4 18h0m10 27h0m5-39h0m13 83h0m8-11h0m2-1h0m2 39h0m3-61h0m0 44h0m4 19h0m1 3h0m2 43h0m5 80h0m2-102h0m2-85h0m0 212h0m0 17h0m5-16h0m1-6h0m2-134h0m1 34h0m6 15h0m6 8h0m8-63h0m1 76h0m1-37h0"/>
<path class="p" stroke="#7ad151" d="M2328 1288h0m40 67h0m25 22h0m6 9h0m15 26h0m4 165h0m2-70h0m7 3h0m2 11h0m10 19h0m8 80h0m1-55h0m4-15h0"/>
<path class="p" stroke="#9bd93c" d="M2395 1366h0m24 85h0m19 119h0m7-3h0"/>
<path class="p" stroke="#bddf26" d="M2417 1502h0m3 79h0m10 4h0"/>
<path class="p" stroke="#440154" d="M1965 1775h0"/>
<path class="p" stroke="#471365" d="M1935 1639h0"/>
<path class="p" stroke="#482475" d="M1879 1729h0m144 0h0m53-1h0"/>
<path class="p" stroke="#463480" d="M1902 1736h0m2-116h0m96 45h0m102 64h0m4-22h0"/>
<path class="p" stroke="#414487" d="M1982 1676h0m12-142h0"/>
<path class="p" stroke="#3b528b" d="M1928 1689h0m19-105h0m1-74h0m0 89h0m11-57h0m17-29h0m24 112h0m57 105h0m37 24h0"/>
<path class="p" stroke="#355f8d" d="M1906 1564h0m33-27h0m14 76h0m5-13h0m3-120h0m2 122h0m2-36h0m2 88h0m4-118h0m8-5h0m4 134h0m6-194h0m9 40h0m1-99h0m3 224h0m12 72h0m20 27h0m1-71h0m0 59h0m62-24h0"/>
<path class="p" stroke="#2f6c8e" d="M1953 1469h0m3 235h0m7-12h0m7-170h0m6 8h0m1 4h0m8 6h0m9 78h0m1-121h0m7 113h0m0 98h0m1-90h0m8 5h0m7-218h0m16 201h0m9 12h0m3 31h0m67 54h0m12-16h0"/>
<path class="p" stroke="#2a788e" d="M1962 1408h0m1 130h0m5 131h0m9-164h0m3 196h0m4-253h0m6-36h0m2 114h0m3-52h0m1-3h0m0 48h0m0 3h0m6-21h0m1 15h0m7 73h0m3-7h0m1-23h0m1 27h0m5-152h0m0 86h0m2 104h0m11-251h0m4 252h0m3 7h0m2-9h0m8-46h0m0 84h0m1-27h0m6-314h0m5 356h0m6-16h0m4-357h0m9 371h0m3-12h0m11 6h0m6 0h0m7 20h0m8 20h0m5 14h0m40-39h0"/>
<path class="p" stroke="#25848e" d="M1902 1489h0m62-23h0m8 50h0m12-70h0m13 31h0m12-42h0m0 185h0m1-226h0m0 247h0m1-203h0m0 11h0m5-32h0m0 103h0m2 45h0m1-130h0m3-22h0m1-6h0m12-50h0m0 110h0m2-125h0m0 264h0m2-192h0m0 73h0m3-97h0m1-74h0m1 57h0m0 111h0m3-119h0m1-47h0m2 56h0m0 19h0m1-61h0m2 272h0m1-232h0m3 176h0m4 49h0m3 54h0m0 9h0m3-148h0m0 143h0m42-389h0m6 438h0m3-111h0m4 26h0m1-106h0m1 164h0m11-270h0m2-140h0m20 420h0m5-451h0m2 27h0m11 436h0m26-190h0m3 181h0m5 4h0m14 63h0m26-70h0m25-522h0m23 514h0m19-5h0"/>
<path class="p" stroke="#21918c" d="M1935 1451h0m1-48h0m6-55h0m2 84h0m1 4h0m2 15h0m1-74h0m10-118h0m0 242h0m1-123h0m6 203h0m5-296h0m1 91h0m1-114h0m2 161h0m3 16h0m0 3h0m7-79h0m4 43h0m1-15h0m7-154h0m0 161h0m1 73h0m3-184h0m0 101h0m2-161h0m16 207h0m2-137h0m0 243h0m5-83h0m1-274h0m1 72h0m1 153h0m1-157h0m9-35h0m6 155h0m4-104h0m0 118h0m3-76h0m1 182h0m1-16h0m0 166h0m1-167h0m1-123h0m0 12h0m0 118h0m1-154h0m0 12h0m7 193h0m0 147h0m2-273h0m2-179h0m3 271h0m1-302h0m1 42h0m1 365h0m2 66h0m2-382h0m4-98h0m3 55h0m3 3h0m1 47h0m2 313h0m2-211h0m1-92h0m0 2h0m0 380h0m3-144h0m2-78h0m2-320h0m5 482h0m1-283h0m2 45h0m2-188h0m0 40h0m3 50h0m0 153h0m0 269h0m1-303h0m4-258h0m0 165h0m1 182h0m1-157h0m3 193h0m5-78h0m0 197h0m2-302h0m8-125h0m6 384h0m3 12h0m0 51h0m1-145h0m3-329h0m6 430h0m1 62h0m1-418h0m0 211h0m1 202h0m1 40h0m3-414h0m2 408h0m3-35h0m4-470h0m0 165h0m5 139h0m1 183h0m3-432h0m1 449h0m6-458h0m2 413h0m4 8h0m2 37h0m2-133h0m1-138h0m2 224h0m1-408h0m0 1h0m0 412h0m1-141h0m6 42h0m0 107h0m9-186h0m5-231h0m2 427h0m2-157h0m1 143h0m0 44h0m0 10h0m2-415h0m1 229h0m1-325h0m5 84h0m9 115h0m3-185h0m1 285h0m3 148h0m1-461h0m6 496h0m1 6h0m2-491h0m0 506h0m6-457h0m0 412h0m15 35h0m25-480h0m9 439h0m9-9h0m2 3h0m21 14h0m23-2h0"/>
<path class="p" stroke="#1e9c89" d="M2022 1388h0m3 6h0m5-58h0m5 34h0m2-3h0m5-18h0m8-92h0m15 104h0m1-53h0m1 17h0m2-27h0m18-27h0m2 28h0m1-7h0m12-6h0m10 9h0m4-22h0m11-28h0m22 429h0m5-393h0m3 199h0m5-225h0m0 219h0m1 187h0m2-399h0m4 109h0m4 265h0m1-315h0m15 200h0m1-104h0m5-72h0m3-80h0m2 2h0m2 9h0m2 205h0m3-208h0m4-14h0m0 215h0m2-207h0m0 21h0m4 198h0m0 199h0m5-349h0m0 8h0m3-50h0m0 175h0m5 53h0m0 133h0m7-72h0m2 99h0m1 15h0m5-282h0m1-17h0m5-122h0m4 113h0m0 270h0m0 17h0m1 8h0m12 6h0m3 13h0m1-245h0m1 209h0m6 48h0m2-186h0m12 42h0m6-24h0m3 123h0m1-30h0m1 78h0m6-444h0m2 399h0m13-6h0m6 17h0m21-2h0m3 3h0m6-29h0m1 8h0m16 19h0m14 13h0m17-15h0m7 9h0m16 0h0m16-9h0"/>
<path class="p" stroke="#22a884" d="M2016 1512h0m9-114h0m89 295h0m10-400h0m23-70h0m2 17h0m9 27h0m41 11h0m3-21h0m2 11h0m0 199h0m25 149h0m5-122h0m8-142h0m15 338h0m8-352h0m5 58h0m2 210h0m1 62h0m15-383h0m6 255h0m1-245h0m8 220h0m20-236h0m0 21h0m6 0h0m1 101h0m15 177h0m3 78h0m6 6h0m1-118h0m16 99h0m7-34h0m8 33h0m4 0h0m15-182h0m2 200h0m24-282h0m14 235h0m9 65h0m21-105h0m34-6h0m3 4h0m3-2h0"/>
<path class="p" stroke="#2fb47c" d="M2175 1716h0m35-446h0m49-33h0m1 35h0m10-9h0m14 16h0m9 158h0m5-147h0m21-28h0m5 36h0m6 7h0m1-48h0m9 61h0m2 364h0m8-339h0m5-16h0m3 175h0m4 181h0m6-236h0m11-136h0m4 108h0m1 68h0m2 108h0m4-242h0m0 161h0m8-173h0m3 282h0m7 17h0m4-210h0m1-68h0m0 276h0m12-48h0m2-80h0m3 82h0m4 19h0m2-86h0m14-38h0m1 106h0"/>
<path class="p" stroke="#44bf70" d="M2271 1266h0m2 2h0m11 0h0m14-30h0m22 66h0m3-69h0m8 77h0m2-5h0m11-16h0m1 50h0m13-15h0m16 175h0m23-112h0m2 62h0m3-67h0m0 66h0m12-20h0m1 32h0m3-13h0m0 2h0m1 114h0m1-112h0m2 61h0m1-50h0m3 136h0m3 12h0m1-133h0m0 61h0m0 82h0m3-1h0m3-100h0m3-57h0m6 96h0m10-20h0m10-47h0m7 53h0m0 136h0m9-124h0"/>
<path class="p" stroke="#5ec962" d="M2336 1208h0m20 87h0m0 406h0m15-322h0m9-8h0m9 8h0m0 40h0m9-41h0m13 268h0m5-83h0m2-151h0m1 52h0m6 48h0m13-7h0m3 110h0m3-178h0m3 122h0m17-24h0m45-135h0"/>
<path class="p" stroke="#7ad151" d="M2428 1582h0m10-62h0m0 4h0m9 16h0m7 54h0m5 40h0m2-123h0m6 55h0"/>
<path class="p" stroke="#9bd93c" d="M2405 1395h0m4 105h0m7-12h0m6 65h0m18-55h0m8-76h0m1 153h0m8-180h0m2 147h0"/>
<path class="p" stroke="#bddf26" d="M2409 1506h0m7-103h0m1-174h0m24 150h0m21-118h0m4 128h0"/>
<path class="p" stroke="#dfe318" d="M2421 1125h0"/>
<path class="p" stroke="#fde725" d="M2591 1587h0"/>
</g>
<g>
<linearGradient id="gf" gradientUnits="userSpaceOnUse" x1="2660.1" y1="1364.1" x2="3691.4" y2="1364.1"><stop offset="0%" stop-color="#490f61"/><stop offset="10%" stop-color="#490f61"/><stop offset="15.4%" stop-color="#490f61"/><stop offset="20%" stop-color="#4b2171"/><stop offset="28.2%" stop-color="#473d85"/><stop offset="30%" stop-color="#444488"/><stop offset="40%" stop-color="#34698f"/><stop offset="43.6%" stop-color="#2f7590"/><stop offset="50%" stop-color="#298390"/><stop offset="59%" stop-color="#23978d"/><stop offset="60%" stop-color="#229a8c"/><stop offset="70%" stop-color="#3ab97a"/><stop offset="79.5%" stop-color="#7cd254"/><stop offset="80%" stop-color="#83d44f"/><stop offset="84.6%" stop-color="#cbe122"/><stop offset="90%" stop-color="#cbe122"/><stop offset="100%" stop-color="#cbe122"/><stop offset="100%" stop-color="#cbe122"/></linearGradient>
<path fill="url(#gf)" stroke="url(#gf)" class="e" d="M2973 1298L2977 1296L2981 1293L2986 1291L2992 1289L2998 1287L3004 1285L3010 1283L3017 1280L3023 1278L3029 1276L3036 1273L3043 1271L3050 1269L3057 1267L3064 1264L3070 1262L3077 1260L3084 1259L3091 1257L3097 1255L3104 1253L3111 1252L3117 1250L3124 1249L3131 1247L3138 1246L3144 1245L3151 1243L3158 1242L3164 1241L3171 1240L3177 1240L3184 1240L3190 1240L3197 1241L3203 1241L3210 1242L3217 1243L3224 1244L3231 1245L3237 1245L3244 1246L3251 1246L3258 1247L3265 1248L3271 1248L3278 1249L3285 1249L3292 1249L3299 1249L3306 1249L3313 1249L3320 1249L3326 1249L3333 1249L3339 1249L3346 1249L3352 1250L3358 1250L3365 1250L3371 1251L3377 1252L3382 1252L3388 1253L3394 1255L3400 1256L3406 1257L3411 1259L3417 1260L3422 1262L3427 1264L3431 1266L3436 1269L3440 1271L3444 1274L3448 1277L3451 1281L3454 1284L3458 1288L3461 1291L3463 1295L3466 1300L3468 1304L3471 1309L3473 1314L3474 1319L3476 1325L3478 1330L3479 1335L3480 1340L3481 1346L3481 1351L3482 1356L3482 1362L3482 1367L3482 1373L3482 1378L3481 1384L3480 1389L3479 1395L3478 1400L3477 1405L3475 1411L3473 1416L3471 1421L3469 1426L3466 1430L3463 1435L3460 1440L3457 1445L3454 1450L3451 1456L3448 1461L3445 1466L3442 1471L3440 1476L3437 1481L3434 1486L3431 1491L3428 1497L3426 1502L3424 1507L3421 1513L3419 1518L3417 1523L3415 1528L3413 1532L3411 1537L3408 1541L3405 1545L3402 1549L3399 1553L3396 1556L3392 1560L3389 1563L3385 1567L3381 1570L3377 1573L3373 1576L3369 1578L3364 1581L3360 1583L3355 1586L3350 1588L3345 1591L3340 1594L3334 1596L3328 1599L3323 1601L3317 1603L3312 1605L3307 1606L3301 1607L3296 1607L3291 1608L3286 1608L3281 1608L3275 1607L3270 1607L3264 1606L3258 1605L3252 1604L3246 1602L3240 1600L3234 1598L3227 1597L3221 1595L3215 1593L3210 1591L3204 1588L3199 1586L3193 1584L3187 1581L3182 1579L3176 1577L3170 1574L3165 1573L3159 1571L3153 1569L3147 1567L3142 1565L3136 1564L3130 1562L3124 1561L3119 1559L3113 1558L3107 1557L3101 1556L3096 1555L3090 1554L3085 1553L3079 1552L3074 1550L3068 1549L3062 1547L3057 1546L3051 1544L3046 1542L3040 1541L3035 1538L3030 1536L3024 1534L3019 1531L3014 1529L3009 1526L3004 1523L3000 1520L2996 1517L2993 1514L2990 1511L2987 1507L2984 1503L2982 1500L2979 1496L2977 1492L2975 1488L2974 1484L2972 1480L2971 1476L2970 1471L2969 1467L2969 1462L2968 1458L2967 1453L2966 1449L2965 1445L2965 1440L2964 1436L2964 1431L2963 1427L2963 1422L2962 1418L2962 1413L2961 1408L2961 1404L2960 1399L2960 1395L2959 1390L2958 1386L2958 1381L2957 1377L2957 1372L2956 1367L2955 1363L2954 1358L2954 1354L2954 1350L2953 1346L2953 1342L2954 1338L2954 1334L2954 1330L2955 1327L2955 1323L2956 1320L2957 1317L2959 1314L2960 1311L2962 1309L2963 1306L2965 1304L2967 1302L2970 1300Z"/>
<path class="p" stroke="#440154" d="M2842 1459h0m4 5h0m1-3h0m15-3h0m69 11h0m25-170h0"/>
<path class="p" stroke="#471365" d="M2846 1265h0m36-6h0m5 158h0m0 10h0m13-131h0m8 47h0m4-98h0m4 178h0m2 6h0m4-119h0m1 108h0m1-68h0m1-3h0m1 61h0m0 34h0m7-46h0m1 31h0m3 24h0m5-8h0m16-11h0m25 76h0m4 17h0"/>
<path class="p" stroke="#482475" d="M2848 1220h0m20 37h0m0 18h0m6 43h0m5 15h0m3 88h0m8-131h0m4-34h0m1 185h0m6-24h0m4-176h0m0 151h0m2 2h0m1-98h0m6 150h0m1-10h0m0 9h0m3-44h0m0 12h0m3 41h0m3 14h0m6-143h0m4 88h0m6-114h0m1 56h0m3-64h0m9 215h0m2-142h0m1 51h0m2 82h0m5-207h0m2 199h0m3-12h0m13 46h0m1-16h0"/>
<path class="p" stroke="#463480" d="M2856 1253h0m7 14h0m18 173h0m6-251h0m0 26h0m9-11h0m7-5h0m2 144h0m0 100h0m4 7h0m6-24h0m25-97h0m2-57h0m8 155h0m2-41h0m1 27h0m3-51h0m1-17h0m0 103h0m2-149h0m1 31h0m0 103h0m1-141h0m0 48h0m1 97h0m0 26h0m0 10h0m1-45h0m1 19h0m3 43h0m5-240h0m3 258h0m5 14h0m1-230h0m3 212h0m6 18h0m43 9h0"/>
<path class="p" stroke="#414487" d="M2844 1233h0m13-41h0m14 45h0m26 104h0m4-37h0m24 36h0m1-77h0m4 31h0m4 56h0m0 59h0m6-84h0m3 150h0m3-148h0m8 140h0m6-34h0m2-179h0m5 3h0m1 17h0m2 166h0m15 58h0m10 25h0m1 14h0m1-187h0m1 93h0m1-103h0m1 87h0m2-142h0m2-30h0m7 284h0m3-278h0m7 30h0m1-10h0m5 261h0m2 9h0m5-289h0"/>
<path class="p" stroke="#3b528b" d="M2925 1251h0m2 132h0m3 31h0m21-68h0m8-26h0m15-30h0m4 182h0m12-105h0m6 37h0m0 96h0m0 12h0m2-174h0m9 205h0m3-100h0m0 5h0m4 77h0m3-259h0m6 67h0m4 201h0m1-117h0m5 88h0m2-206h0m5-35h0m1-19h0m2 28h0m7 276h0m34-90h0"/>
<path class="p" stroke="#355f8d" d="M2954 1406h0m40-120h0m8 250h0m2-17h0m1-8h0m6-221h0m5 161h0m1 105h0m2-205h0m1 192h0m3-104h0m4-147h0m0 279h0m1-294h0m1 70h0m3-72h0m9-13h0m5 145h0m2-138h0m0 269h0m0 1h0m2 10h0m6-188h0m2-31h0m9 24h0m0 189h0m2-261h0m16-8h0m1 286h0m1-311h0m5 1h0m1 300h0m14-181h0"/>
<path class="p" stroke="#2f6c8e" d="M2989 1554h0m4-293h0m30 300h0m13-29h0m9-262h0m3-3h0m6 196h0m3-223h0m1 317h0m5-175h0m2 213h0m1-59h0m4-258h0m4 135h0m7 7h0m0 79h0m1-35h0m2-71h0m1-48h0m0 63h0m1 145h0m1-300h0m0 294h0m4-231h0m3 246h0m8-44h0m4-77h0m5-193h0m10 213h0m6-240h0m0 31h0m8 20h0m4-36h0m31 338h0m79 37h0"/>
<path class="p" stroke="#2a788e" d="M3034 1550h0m19-3h0m2-286h0m11 4h0m20-4h0m0 1h0m2 0h0m5 4h0m6 205h0m2-229h0m0 315h0m4-20h0m4-204h0m4 118h0m1-157h0m0 27h0m1 217h0m0 33h0m1-188h0m1-42h0m5 74h0m0 43h0m6-119h0m1-97h0m1 17h0m6 51h0m1 279h0m1-77h0m6 57h0m6-67h0m0 27h0m4 39h0m0 19h0m4-346h0m2 99h0m0 235h0m2-90h0m7-264h0m4 9h0m12 348h0m1-112h0m16-219h0m2 351h0m2-365h0m29 373h0m3-10h0"/>
<path class="p" stroke="#25848e" d="M3070 1541h0m46-311h0m6 328h0m3-303h0m0 125h0m9 83h0m0 91h0m4-260h0m2 269h0m10-177h0m6-154h0m1 341h0m3-224h0m8 162h0m0 79h0m7-13h0m1-236h0m2 231h0m3 18h0m2-267h0m2-22h0m0 129h0m0 106h0m2-89h0m4-199h0m0 75h0m0 249h0m1-41h0m2-223h0m2 213h0m0 28h0m4 45h0m1 4h0m7-282h0m1 182h0m2 58h0m1-226h0m5 290h0m7-295h0m10-80h0m10 67h0m10-89h0m8 389h0m10-9h0m18-6h0m5 6h0"/>
<path class="p" stroke="#21918c" d="M3143 1599h0m24-383h0m0 389h0m9-29h0m11-149h0m1 189h0m16-255h0m1 56h0m0 208h0m6-29h0m9-164h0m5-191h0m0 371h0m1-31h0m3-343h0m7 356h0m1-229h0m2 95h0m1-225h0m4 198h0m4-188h0m0 3h0m0 149h0m1-91h0m2-79h0m6 25h0m1 219h0m2 146h0m1-4h0m1-44h0m2 52h0m0 4h0m3-214h0m1 199h0m1-328h0m0 168h0m1 203h0m11 0h0m1-417h0m0 150h0m1-126h0m2 290h0m4-309h0m4 362h0m10-4h0m6-351h0"/>
<path class="p" stroke="#1e9c89" d="M3186 1601h0m5-12h0m3 7h0m29 13h0m6-187h0m7 188h0m7-14h0m1-108h0m8-119h0m0 102h0m4-112h0m4 225h0m2-196h0m6 32h0m0 233h0m4-334h0m4 275h0m3 16h0m3-73h0m20-301h0m13 34h0m1-35h0m2 223h0m14 157h0m4-82h0m1 56h0m63-51h0"/>
<path class="p" stroke="#22a884" d="M3280 1344h0m7 182h0m4-237h0m8 325h0m5-380h0m3 41h0m5 282h0m4-173h0m0 232h0m6-273h0m0 87h0m2 32h0m9-68h0m1 233h0m1-23h0m2-367h0m2-3h0m1 355h0m3-342h0m5 198h0m0 44h0m3 112h0m2 5h0m4-370h0m1 24h0m2 132h0m7 220h0"/>
<path class="p" stroke="#2fb47c" d="M3322 1596h0m14-200h0m1-75h0m3 293h0m5-20h0m6 0h0m5-58h0m7 110h0m1-255h0m1 128h0m2-1h0m1 58h0m0 14h0m4-125h0m5-44h0m6 131h0m1-176h0m1 212h0m1-346h0m8 52h0m1 256h0m2-295h0m5 287h0m6-157h0m10-121h0m1-29h0m8 292h0m39-58h0"/>
<path class="p" stroke="#44bf70" d="M3349 1255h0m10-17h0m3 196h0m0 109h0m3 43h0m3-88h0m2 96h0m1-204h0m2-149h0m4 335h0m6 30h0m1-343h0m1 324h0m9-18h0m3-5h0m1-32h0m6 54h0m2-204h0m1-125h0m1 241h0m0 3h0m1 8h0m5-268h0m4 282h0m1-3h0m9-258h0m3-26h0m1 243h0m0 34h0m2-126h0m10 102h0m3-16h0m7-179h0m7-22h0m1-6h0"/>
<path class="p" stroke="#5ec962" d="M3405 1486h0m2-116h0m1-14h0m11 199h0m1-288h0m0 114h0m2-57h0m0 250h0m2-205h0m0 106h0m2-7h0m0 47h0m1-52h0m1-184h0m3 201h0m1-146h0m1-3h0m0 102h0m2 4h0m1-133h0m0 179h0m1-35h0m6 0h0m2-160h0m5-29h0m1 64h0m5 137h0m8-32h0m1-117h0m7 1h0m5 138h0m4-125h0m0 135h0m1-34h0m1-73h0m4-43h0m0 131h0m2-102h0"/>
<path class="p" stroke="#7ad151" d="M3412 1263h0m1-2h0m3-6h0m4 258h0m23-263h0m1 38h0m0 177h0m4-189h0m3 163h0m6 74h0m2-56h0m1-183h0m1 12h0m1-13h0m7 153h0m6-17h0m2-50h0m2-26h0m1-4h0m1 12h0m2 41h0m4-73h0m2 40h0m3 82h0m1-7h0m1 1h0m1-33h0"/>
<path class="p" stroke="#9bd93c" d="M3458 1439h0m2-11h0m3-20h0m4-3h0m6-93h0m5 25h0m1 63h0m8-18h0m11-1h0"/>
<path class="p" stroke="#bddf26" d="M3499 1432h0m1-133h0m1 20h0"/>
<path class="p" stroke="#dfe318" d="M3502 1320h0"/>
<path class="p" stroke="#440154" d="M2838 1463h0m7-3h0m10-183h0m1 173h0m5 6h0"/>
<path class="p" stroke="#471365" d="M2860 1436h0m25 14h0m2-14h0m6-4h0m7-13h0m18 41h0m34 42h0m5-239h0m6 51h0"/>
<path class="p" stroke="#482475" d="M2820 1269h0m2 5h0m7-52h0m13 31h0m10-36h0m2-28h0m0 226h0m4 12h0m2-126h0m17 118h0m1 16h0m2 2h0m15-225h0m0 49h0m4 81h0m1 70h0m2 35h0m1-54h0m1 21h0m1-119h0m1-7h0m2 52h0m4-63h0m1 60h0m3-85h0m0 204h0m4-156h0m5 50h0m1 33h0m11-121h0m3 10h0m3 160h0m5 8h0m3-179h0m0 167h0m7-2h0m3 38h0m1-13h0m0 47h0m4 22h0m5-39h0m7 84h0m1-287h0"/>
<path class="p" stroke="#463480" d="M2834 1229h0m14-25h0m0 1h0m2-15h0m24 112h0m3-4h0m6 92h0m3-113h0m2-88h0m1 74h0m9 13h0m3-26h0m1-4h0m2 66h0m3-26h0m9 48h0m1-110h0m1 194h0m1 47h0m3-206h0m2 15h0m2-18h0m5 30h0m0 96h0m3 19h0m2-4h0m2-77h0m2-1h0m3 33h0m0 27h0m1-98h0m1 90h0m2 89h0m3-156h0m1 6h0m1 25h0m0 235h0m2-81h0m1-174h0m2 5h0m1 0h0m2 6h0m0 8h0m1 57h0m4 136h0m1-13h0m1-201h0m0 130h0m6-212h0m6 80h0m3-31h0m3 234h0"/>
<path class="p" stroke="#414487" d="M2841 1326h0m8-94h0m22-44h0m13 149h0m3-3h0m12-141h0m8 125h0m9-29h0m7 59h0m0 119h0m9-36h0m6-88h0m6 0h0m6-56h0m0 3h0m2-18h0m0 17h0m0 36h0m4 21h0m0 6h0m3 89h0m1-73h0m5 67h0m3-154h0m1 149h0m6 55h0m4 42h0m1-36h0m6-247h0m1 30h0m6 5h0m6 248h0m2 2h0m0 39h0m6 13h0m13-307h0m16 303h0m5 40h0m24-86h0m1 9h0m5-340h0m22 432h0"/>
<path class="p" stroke="#3b528b" d="M2916 1335h0m20-36h0m4 104h0m13 5h0m4-133h0m8 226h0m2-49h0m6-150h0m3 198h0m1-203h0m4 218h0m4-197h0m0 187h0m4 30h0m6-273h0m4 104h0m2-92h0m3 14h0m0 225h0m3-253h0m3 75h0m0 13h0m1-77h0m0 51h0m0 228h0m2-103h0m6-175h0m3 1h0m1 243h0m3-154h0m5-99h0m1 13h0m7 7h0m5 325h0m2 14h0m1-40h0m8-303h0m5-14h0m0 289h0m4 59h0m4-7h0m1-352h0m3 344h0m36-36h0"/>
<path class="p" stroke="#355f8d" d="M2934 1200h0m41 266h0m22-198h0m14 268h0m10-159h0m7 60h0m1-119h0m4 142h0m5 7h0m3-199h0m2 282h0m5-55h0m11 25h0m2 24h0m5-278h0m0 269h0m6 14h0m3-255h0m6 273h0m2-321h0m11 105h0m3-118h0m6 204h0m13-213h0m0 371h0m35 84h0m28-437h0"/>
<path class="p" stroke="#2f6c8e" d="M3039 1253h0m11-32h0m4 124h0m0 73h0m12 154h0m3-300h0m7 1h0m1 52h0m0 9h0m2-104h0m0 201h0m1-48h0m4 113h0m5-114h0m3 135h0m2-78h0m2 110h0m1-273h0m3 265h0m1-292h0m4 58h0m0 259h0m12-330h0m3 343h0m2-320h0m5-40h0m0 138h0m4-80h0m13 303h0m4-345h0m2 357h0m4 23h0"/>
<path class="p" stroke="#2a788e" d="M3084 1236h0m1 22h0m1 78h0m2-12h0m1-75h0m5 312h0m5-99h0m1-245h0m2 232h0m2-195h0m7-6h0m0 80h0m3 220h0m18-30h0m9-272h0m0 112h0m4 174h0m2-213h0m12 267h0m2-30h0m3-303h0m9 11h0m1-26h0m1 262h0m3-54h0m12 126h0m15 36h0m2 3h0"/>
<path class="p" stroke="#25848e" d="M3067 1264h0m20-2h0m11-13h0m30 181h0m4 128h0m7-10h0m7-297h0m1 214h0m5 115h0m7-340h0m1 329h0m1-149h0m6 63h0m3 26h0m0 149h0m1-166h0m2 71h0m3-111h0m4-5h0m0 122h0m1-329h0m1 217h0m1-37h0m7 206h0m4-268h0m0 207h0m4-44h0m7-275h0m6 322h0m2-325h0m2 340h0m2 27h0m0 9h0m2 7h0m4-174h0m4 156h0m2 17h0m1-343h0m1 72h0m7 263h0m8-93h0m7-53h0m13 14h0m0 95h0"/>
<path class="p" stroke="#21918c" d="M3144 1165h0m31 419h0m12-2h0m6-9h0m2 19h0m5-1h0m7 21h0m2 35h0m3-5h0m4-323h0m7 299h0m2-228h0m1 227h0m2-243h0m4-138h0m0 279h0m1-133h0m0 263h0m1-227h0m5-85h0m2 344h0m1-194h0m3 56h0m2 140h0m1-419h0m1 450h0m4-338h0m10 296h0m4 41h0m4-421h0m11 487h0m1-135h0m1-323h0m1 370h0m7-172h0m5-276h0m1 434h0m21 19h0m3-11h0"/>
<path class="p" stroke="#1e9c89" d="M3141 1567h0m45 7h0m39 16h0m4-6h0m4-169h0m32 154h0m11 38h0m4-167h0m2-30h0m1 191h0m2-13h0m0 28h0m3-359h0m0 362h0m2-368h0m3 247h0m1-249h0m0 367h0m1-12h0m2-104h0m1-92h0m2-11h0m18 267h0m5-331h0m62 282h0m13-15h0m10-10h0m54-126h0"/>
<path class="p" stroke="#22a884" d="M3262 1249h0m14 66h0m5-6h0m9 164h0m1 146h0m3-267h0m2 262h0m1 13h0m5-334h0m1 106h0m15-169h0m1 209h0m1-34h0m0 211h0m2-10h0m5-13h0m0 25h0m3 22h0m5-196h0m3 88h0m2 9h0m2 121h0m4-54h0m2-29h0m4 15h0m5-175h0m0 162h0m6-314h0m2 321h0m4-268h0m4 261h0m3-7h0m8-216h0m4 232h0m22-51h0m1 38h0"/>
<path class="p" stroke="#2fb47c" d="M3275 1609h0m36 4h0m3-8h0m0 38h0m6-385h0m8 291h0m19-322h0m2 377h0m16-205h0m0 93h0m2-154h0m0 63h0m0 164h0m8 21h0m13-19h0m1-320h0m3 361h0m1-68h0m0 19h0m26-293h0m14 233h0m2-238h0m11 226h0"/>
<path class="p" stroke="#44bf70" d="M3332 1628h0m29-109h0m0 27h0m3 30h0m2-60h0m1-220h0m11-54h0m4 185h0m1-172h0m2 307h0m5-302h0m3-10h0m4 313h0m2-53h0m13 60h0m2-324h0m4 109h0m0 42h0m1 109h0m13 38h0m1-78h0m5 8h0m7 24h0m7-209h0m5 7h0m2 33h0m56-37h0m8 50h0m1 16h0"/>
<path class="p" stroke="#5ec962" d="M3350 1237h0m65 242h0m3 29h0m0 12h0m3-210h0m0 211h0m4-107h0m0 90h0m1-114h0m0 152h0m2-154h0m2-115h0m4-3h0m9 181h0m1 43h0m0 31h0m1-261h0m1 201h0m1-131h0m1 136h0m5-118h0m0 93h0m6-179h0m3 229h0m1-39h0m6-7h0m5-2h0m2-108h0m0 72h0m15-53h0m2 72h0"/>
<path class="p" stroke="#7ad151" d="M3338 1168h0m39 46h0m0 433h0m35-82h0m20-91h0m13-208h0m2-33h0m3 305h0m3-24h0m6-227h0m6 30h0m8 118h0m2-106h0m2 158h0m1-159h0m1 103h0m2-99h0m1 27h0m10 60h0m1-86h0m0 168h0m3-81h0m4-64h0m15 48h0m10 2h0"/>
<path class="p" stroke="#9bd93c" d="M3437 1527h0m10 15h0m12 11h0m7-121h0m0 8h0m6-28h0m12 43h0m1-24h0m1-46h0"/>
<path class="p" stroke="#bddf26" d="M3417 1235h0m5-110h0m58 261h0m8-32h0m9 86h0m1-63h0m4-38h0m2 56h0m10-81h0"/>
<path class="p" stroke="#dfe318" d="M3422 1193h0m31-16h0m3 44h0m10-2h0m9 5h0m9-1h0m4 156h0m5-157h0m17 160h0"/>
</g>
<g>
<linearGradient id="gg" gradientUnits="userSpaceOnUse" x1="811.9" y1="2413.1" x2="1781.4" y2="2192.7"><stop offset="0%" stop-color="#4a1668"/><stop offset="10%" stop-color="#4a1668"/><stop offset="15.4%" stop-color="#4a1668"/><stop offset="20%" stop-color="#4b1d6e"/><stop offset="23.1%" stop-color="#4b2171"/><stop offset="30%" stop-color="#493580"/><stop offset="33.3%" stop-color="#473d85"/><stop offset="40%" stop-color="#414c8b"/><stop offset="46.2%" stop-color="#3b5a8e"/><stop offset="50%" stop-color="#37628f"/><stop offset="56.4%" stop-color="#317190"/><stop offset="60%" stop-color="#2d7a90"/><stop offset="69.2%" stop-color="#24928e"/><stop offset="70%" stop-color="#24928e"/><stop offset="80%" stop-color="#229a8c"/><stop offset="84.6%" stop-color="#229d8b"/><stop offset="90%" stop-color="#229d8b"/><stop offset="100%" stop-color="#229d8b"/></linearGradient>
<path fill="url(#gg)" stroke="url(#gg)" class="e" d="M1084 2156L1088 2154L1093 2152L1098 2150L1103 2148L1109 2147L1115 2146L1121 2144L1127 2143L1134 2142L1140 2141L1147 2140L1153 2139L1160 2138L1167 2137L1174 2137L1181 2136L1187 2136L1194 2136L1200 2137L1207 2137L1214 2137L1220 2138L1227 2138L1234 2139L1241 2139L1248 2140L1254 2140L1261 2141L1268 2141L1275 2142L1281 2142L1288 2143L1295 2144L1302 2144L1308 2145L1315 2146L1322 2147L1328 2148L1335 2149L1342 2150L1348 2151L1355 2153L1362 2155L1369 2157L1375 2159L1382 2161L1389 2163L1395 2165L1401 2168L1407 2170L1412 2172L1418 2174L1423 2176L1429 2178L1434 2181L1440 2183L1445 2186L1451 2189L1457 2191L1462 2194L1468 2197L1474 2200L1479 2203L1484 2206L1489 2208L1494 2211L1499 2214L1504 2217L1508 2219L1512 2222L1516 2225L1519 2227L1523 2230L1526 2234L1530 2237L1532 2240L1535 2242L1537 2245L1539 2248L1540 2251L1540 2254L1540 2258L1540 2262L1540 2266L1539 2270L1538 2275L1537 2279L1535 2283L1534 2287L1532 2291L1530 2294L1528 2298L1526 2302L1523 2306L1521 2309L1518 2313L1516 2316L1513 2319L1509 2322L1506 2325L1502 2329L1498 2332L1495 2336L1491 2340L1488 2344L1485 2348L1482 2352L1479 2356L1477 2360L1474 2364L1471 2368L1468 2372L1466 2376L1463 2380L1460 2384L1457 2388L1455 2391L1452 2395L1449 2399L1446 2403L1443 2407L1440 2411L1436 2415L1433 2419L1430 2423L1426 2426L1423 2430L1419 2434L1415 2438L1412 2442L1408 2447L1404 2451L1400 2455L1396 2458L1392 2462L1388 2465L1384 2468L1380 2471L1376 2474L1371 2477L1367 2480L1363 2482L1358 2485L1354 2487L1349 2489L1344 2491L1340 2493L1335 2494L1330 2496L1325 2497L1319 2499L1314 2500L1309 2501L1303 2503L1298 2504L1292 2505L1287 2506L1281 2507L1275 2508L1270 2509L1264 2510L1259 2510L1253 2511L1248 2511L1242 2511L1237 2511L1231 2511L1226 2511L1220 2511L1215 2510L1210 2509L1204 2509L1198 2508L1193 2507L1187 2506L1181 2504L1176 2503L1170 2502L1164 2501L1159 2500L1153 2499L1148 2498L1142 2497L1137 2496L1131 2494L1126 2493L1121 2491L1116 2490L1111 2488L1107 2487L1102 2485L1098 2483L1093 2480L1088 2477L1084 2474L1079 2471L1075 2468L1071 2464L1067 2461L1063 2457L1060 2453L1057 2449L1054 2445L1051 2441L1049 2436L1046 2432L1044 2427L1042 2423L1040 2418L1039 2414L1038 2409L1036 2404L1035 2399L1035 2394L1034 2389L1034 2384L1033 2379L1033 2374L1034 2369L1034 2363L1034 2357L1035 2352L1035 2346L1036 2340L1036 2334L1036 2329L1037 2323L1037 2317L1037 2312L1037 2306L1038 2301L1038 2295L1038 2289L1039 2284L1039 2278L1040 2272L1040 2267L1041 2261L1042 2256L1043 2250L1043 2245L1044 2240L1045 2235L1046 2230L1048 2225L1049 2220L1050 2215L1051 2211L1053 2206L1054 2202L1056 2198L1057 2195L1059 2191L1060 2187L1062 2184L1064 2180L1066 2177L1069 2173L1071 2170L1073 2166L1076 2163L1078 2161L1081 2158Z"/>
<path class="p" stroke="#440154" d="M983 2233h0m17 173h0m3-53h0m27-53h0m3 39h0m19 6h0m8 122h0m79 32h0"/>
<path class="p" stroke="#471365" d="M986 2294h0m2-19h0m3 115h0m4-97h0m0 3h0m2-18h0m1 164h0m4-139h0m2-65h0m1 31h0m10 131h0m4-74h0m0 45h0m7-23h0m3 109h0m1-55h0m1-57h0m4-51h0m1-6h0m1 22h0m0 84h0m3-201h0m7 234h0m1-37h0m3-139h0m2 229h0m2-284h0m1-35h0m10 319h0m8-310h0m10 330h0m56-2h0"/>
<path class="p" stroke="#482475" d="M990 2407h0m10-14h0m2-17h0m11 33h0m1-200h0m1 26h0m1 47h0m8-113h0m1 144h0m1 66h0m0 33h0m3-25h0m1-175h0m3 198h0m5-18h0m0 77h0m1-158h0m1-146h0m0 142h0m1-9h0m3-41h0m0 87h0m1-123h0m1 82h0m2 52h0m2-192h0m2 29h0m0 184h0m0 13h0m1-75h0m1 137h0m0 3h0m1-32h0m1-71h0m1-134h0m0 244h0m1-18h0m3-130h0m0 146h0m3-77h0m4-76h0m1-127h0m2 182h0m2-46h0m4 62h0m4 93h0m3-150h0m0 82h0m1-54h0m0 153h0m6-87h0m19-47h0m6 45h0m2 104h0m6-29h0m3-116h0m25 120h0"/>
<path class="p" stroke="#463480" d="M1004 2273h0m9 9h0m2 71h0m2-2h0m3-28h0m6-101h0m2 30h0m0 5h0m3 168h0m7-142h0m4 148h0m1-21h0m1-222h0m5-9h0m0 83h0m9-88h0m0 38h0m1-36h0m4-22h0m5 32h0m2 4h0m3 50h0m8-108h0m3 33h0m0 151h0m1 156h0m1 17h0m1-305h0m1 204h0m13-282h0m0 168h0m3-27h0m3 116h0m1-227h0m6-4h0m0 14h0m0 254h0m1-157h0m1 146h0m1-243h0m1 65h0m0 281h0m2-229h0m0 209h0m2-85h0m7 20h0m3 6h0m1 86h0m4 5h0m2-7h0m3-211h0m2 153h0m1-28h0m3-69h0m2 122h0m0 30h0m1 6h0m3-26h0m2-84h0m1 105h0m1-7h0m2-134h0m0 158h0m22-3h0m0 18h0m2-32h0m6 0h0m0 2h0m1-46h0m3 62h0m6-40h0m10 47h0m12 6h0m43-28h0m63-3h0"/>
<path class="p" stroke="#414487" d="M1038 2253h0m13-18h0m12-50h0m4 30h0m30-65h0m20 8h0m0 230h0m4-245h0m0 7h0m0 47h0m6 283h0m3-364h0m0 178h0m5 14h0m3-25h0m1 212h0m0 0h0m4 46h0m5-306h0m1-101h0m1 281h0m1 119h0m2-329h0m2 301h0m2-316h0m2 160h0m2 151h0m4-311h0m3 72h0m3 263h0m3-97h0m5-248h0m0 259h0m10-46h0m3 119h0m2-307h0m0 243h0m0 21h0m1-21h0m7-6h0m4-14h0m6-206h0m0 168h0m1-66h0m2 185h0m3-373h0m1 368h0m1-375h0m6 189h0m2 194h0m11-173h0m13 221h0m3-442h0m8 403h0m10-13h0m2 4h0m17 11h0m20-19h0m3-16h0m33 26h0m55-47h0"/>
<path class="p" stroke="#3b528b" d="M1068 2193h0m7-56h0m50 5h0m20-11h0m18 5h0m6 119h0m1 248h0m1-2h0m7-308h0m2 27h0m10-96h0m2 75h0m3 86h0m2 237h0m1-326h0m3 152h0m9 47h0m1-122h0m6 251h0m1-165h0m4-174h0m8 305h0m5-356h0m0 315h0m6-230h0m1-86h0m0 394h0m1-63h0m6-32h0m3 74h0m1-143h0m8-32h0m13 101h0m13 32h0m8 86h0m1-402h0m5 243h0m1 109h0m8-143h0m52 127h0"/>
<path class="p" stroke="#355f8d" d="M1161 2139h0m8 365h0m45-365h0m12 0h0m4 189h0m6-206h0m8 182h0m5-33h0m3 85h0m1 155h0m3-207h0m4-16h0m1-151h0m8 2h0m1-7h0m5 394h0m5-384h0m1 168h0m1-109h0m0 321h0m1-259h0m8 198h0m4-319h0m2 267h0m2 12h0m6 66h0m8-286h0m2 239h0m3 58h0m2-338h0m5 281h0m3 11h0m0 60h0m1-226h0m1-18h0m0 174h0m1 64h0m1-88h0m7 121h0m4-66h0m1 49h0m10-9h0m6-130h0m8 90h0m5-24h0m2 42h0m8-10h0m16-25h0"/>
<path class="p" stroke="#2f6c8e" d="M1267 2183h0m6 15h0m16-70h0m21 84h0m0 87h0m3-151h0m17 80h0m2-105h0m2 75h0m3-40h0m2 68h0m6 78h0m5 102h0m1-149h0m3 85h0m2-102h0m3 239h0m1-84h0m1-83h0m4 206h0m1-95h0m1-192h0m0 136h0m3 37h0m2-18h0m2 68h0m0 2h0m3-303h0m2 362h0m2-193h0m1-164h0m2 91h0m0 55h0m12 192h0m3-214h0m3-124h0m0 346h0m7-183h0m3 116h0m5-9h0m0 7h0m2 21h0m2-15h0m9-21h0m4-12h0m8 88h0m6-100h0m3 69h0m12 31h0m19-138h0m16 79h0"/>
<path class="p" stroke="#2a788e" d="M1266 2502h0m13-355h0m4 5h0m11-30h0m9 12h0m12 9h0m5 354h0m2-350h0m1 32h0m7 13h0m4 309h0m10-353h0m6 4h0m0 61h0m3-54h0m2 41h0m9-35h0m1 314h0m2-308h0m4-19h0m0 29h0m5-21h0m2 42h0m1 144h0m2 50h0m4 65h0m1-327h0m1 16h0m2 201h0m7 8h0m7 83h0m3-267h0m4 84h0m0 27h0m0 152h0m4 1h0m0 52h0m6-307h0m1-35h0m2 145h0m3-153h0m4 289h0m4 11h0m2-13h0m4-244h0m5 243h0m3 1h0m7 24h0m5-32h0m1-224h0m2 192h0m4 24h0"/>
<path class="p" stroke="#25848e" d="M1335 2162h0m23 83h0m27-86h0m11 52h0m3-47h0m12 129h0m0 3h0m0 162h0m8-193h0m9 166h0m4-84h0m3-206h0m1 215h0m3-169h0m3 124h0m8 42h0m1 103h0m1-163h0m0 100h0m2-139h0m5-44h0m3-57h0m1 71h0m1 4h0m1 159h0m3-18h0m2-61h0m3 33h0m1-36h0m1 108h0m1-133h0m4 86h0m15 44h0m2-61h0m13-20h0m19 53h0m13-136h0m1 68h0m1-64h0m43 72h0m16-45h0"/>
<path class="p" stroke="#21918c" d="M1360 2141h0m37 26h0m13-14h0m5 21h0m9-36h0m9 0h0m0 25h0m0 8h0m2 247h0m9-15h0m5-193h0m10 162h0m8-1h0m5 4h0m7-187h0m2 123h0m4 39h0m1 3h0m1 5h0m1-27h0m3-118h0m3 186h0m9-167h0m3 104h0m4-130h0m7-18h0m2 128h0m2-80h0m2 175h0m2-63h0m3-40h0m1-75h0m4-8h0m6 60h0m3-43h0m4 14h0m2 107h0m2-85h0m3-54h0m25 44h0m20 53h0m14-42h0"/>
<path class="p" stroke="#1e9c89" d="M1415 2161h0m33 2h0m4 24h0m36 20h0m7-35h0m3 253h0m9-46h0m3-183h0m4 25h0m2 94h0m2-24h0m14-78h0m0 119h0m2-67h0m3 20h0m5-81h0m3 44h0m4 4h0m13 0h0m1 74h0m0 45h0m3-54h0m3-79h0m6-17h0"/>
<path class="p" stroke="#22a884" d="M1425 2165h0m85 64h0m6 21h0m2-18h0m1 0h0m29 44h0"/>
<path class="p" stroke="#2fb47c" d="M1492 2242h0m74 41h0"/>
<path class="p" stroke="#44bf70" d="M1490 2214h0m41 22h0"/>
<path class="p" stroke="#440154" d="M978 2257h0m17 126h0m10-108h0m2-49h0m2-30h0m1 169h0m9-64h0m11 206h0m4-165h0m2-48h0m2-89h0m6 220h0m13-262h0"/>
<path class="p" stroke="#471365" d="M960 2364h0m6 152h0m1-378h0m3 238h0m14-223h0m0 197h0m2 47h0m14 85h0m2-51h0m5-21h0m1-235h0m2 11h0m1 1h0m0 179h0m9-29h0m0 122h0m8-158h0m15 71h0m2-135h0m11-19h0m3 245h0m3-248h0m1 112h0m2 95h0m21 88h0m1-22h0m48 3h0"/>
<path class="p" stroke="#482475" d="M940 2218h0m4-138h0m4 471h0m5-450h0m1 119h0m8 263h0m18-245h0m0 195h0m3-62h0m2-170h0m1 88h0m0 136h0m6-333h0m0 234h0m2-88h0m4 29h0m1-182h0m0 411h0m5-38h0m2-145h0m7-157h0m9 327h0m2-247h0m5-86h0m2 58h0m3 49h0m0 42h0m0 55h0m2-10h0m0 51h0m1 47h0m2-100h0m2 24h0m2-148h0m0 4h0m2 44h0m4 202h0m2-231h0m2-56h0m0 261h0m1 18h0m2-317h0m0 1h0m0 50h0m1 321h0m2-61h0m2-271h0m1 78h0m1 236h0m0 12h0m5-324h0m1 359h0m1-76h0m2 25h0m1-327h0m9-13h0m0 291h0m11-185h0m14 237h0m20-349h0m4 8h0m1 351h0m30-134h0m23 123h0"/>
<path class="p" stroke="#463480" d="M997 2329h0m12-31h0m4-96h0m1-98h0m7 141h0m6 12h0m3 177h0m2-83h0m1-184h0m2 63h0m4-33h0m3 80h0m3 117h0m3-222h0m2 51h0m2 9h0m12-127h0m6 303h0m19 75h0m0 95h0m3-183h0m2-67h0m3 114h0m1-318h0m0 264h0m1-228h0m0 319h0m1-214h0m1-118h0m18-18h0m5 299h0m3 48h0m1-197h0m2 170h0m3-294h0m2 379h0m3 9h0m1-99h0m1-304h0m2 226h0m10-2h0m2 143h0m2-203h0m3-182h0m0 413h0m7-410h0m0 383h0m5-1h0m0 23h0m1-138h0m15-120h0m1 240h0m1 20h0m2-29h0m1-4h0m13 6h0m17 12h0m7-390h0"/>
<path class="p" stroke="#414487" d="M1032 2391h0m4-132h0m20-21h0m15-62h0m24 302h0m12 128h0m4-375h0m1 103h0m15 145h0m3-338h0m1 54h0m2-25h0m4 32h0m3 66h0m4-164h0m3 15h0m11-20h0m3 18h0m3 224h0m2-108h0m11 43h0m5 224h0m1-402h0m5 228h0m6-32h0m2 263h0m10-18h0m2-347h0m3 7h0m3 150h0m3 122h0m7-78h0m1 36h0m0 44h0m21 61h0m3-12h0m5-160h0m1 162h0m0 54h0m3-69h0m1-74h0m24 81h0m2 4h0m8-21h0m5 149h0m3-12h0m4 17h0m19-536h0"/>
<path class="p" stroke="#3b528b" d="M1106 2141h0m14-13h0m4 20h0m14 36h0m2-45h0m2 343h0m17-341h0m3 82h0m3 69h0m15-94h0m7 313h0m2-406h0m4 202h0m3-186h0m3 405h0m11-299h0m3 289h0m2-3h0m0 24h0m2-102h0m3-231h0m7-28h0m0 233h0m4 106h0m11-163h0m2-158h0m0 334h0m2-222h0m0 128h0m1 189h0m1-184h0m6 34h0m2 39h0m5-389h0m6 93h0m2 137h0m1-210h0m4 371h0m3 189h0m1-18h0m4-294h0m1-74h0m3 81h0m9 19h0m13-14h0m0 146h0m5 146h0m4-86h0m1-111h0m17 57h0m5-40h0m4-5h0m1 26h0m3-29h0m3 221h0m6-237h0"/>
<path class="p" stroke="#355f8d" d="M1172 2165h0m6-39h0m37 97h0m11-79h0m20 79h0m9-90h0m7 116h0m1 11h0m1-61h0m3 131h0m5-179h0m4 119h0m8-135h0m7 15h0m2-25h0m3 340h0m0 7h0m2-174h0m11-24h0m3 122h0m1 69h0m1-38h0m4 8h0m0 123h0m2-51h0m3-92h0m7 2h0m4 75h0m10-99h0m25 83h0m1-29h0m3 33h0m10 1h0m34-38h0"/>
<path class="p" stroke="#2f6c8e" d="M1213 2138h0m37 3h0m13-4h0m4 190h0m6-189h0m13-29h0m8 424h0m6-387h0m7 179h0m4 183h0m12-204h0m3 154h0m4-309h0m0 346h0m1-286h0m4 14h0m0 27h0m2 256h0m8-192h0m1 55h0m4 86h0m5-279h0m0 47h0m4 255h0m9-226h0m2 236h0m12-6h0m0 11h0m1-135h0m3 116h0m0 99h0m4-400h0m7 244h0m0 39h0m1-305h0m25 282h0m7 3h0m23-16h0"/>
<path class="p" stroke="#2a788e" d="M1106 2077h0m219 75h0m22-8h0m10 89h0m6-70h0m4 10h0m2 4h0m2-22h0m1 92h0m12 292h0m2-416h0m0 200h0m0 74h0m4-179h0m6-55h0m0 125h0m4-37h0m7-51h0m7-24h0m4 297h0m2-33h0m2-13h0m2-7h0m3-237h0m1-56h0m2 167h0m1 23h0m4-187h0m2 301h0m6-284h0m1 283h0m3-51h0m0 29h0m0 40h0m1-57h0m2 45h0m2-23h0m1-9h0m5-24h0m2-191h0m7 186h0m6-243h0m0 243h0m10-230h0m1 219h0m19 14h0m37-51h0m7-73h0m103 56h0"/>
<path class="p" stroke="#25848e" d="M1272 2108h0m14 12h0m7 430h0m78-394h0m4-2h0m2 2h0m15 10h0m2 87h0m12-107h0m9 87h0m2 294h0m7-358h0m3 283h0m1-241h0m3 202h0m3-262h0m0 217h0m6 23h0m3-227h0m11 260h0m3 0h0m1-229h0m5 213h0m0 21h0m3-2h0m4-166h0m6-107h0m3 203h0m5-172h0m0 212h0m1-178h0m16-41h0m0 115h0m21 84h0m5-152h0m0 117h0m12-79h0m11 56h0m30-96h0"/>
<path class="p" stroke="#21918c" d="M1302 2555h0m21-12h0m24 27h0m12-413h0m52 412h0m8 32h0m1-441h0m11 426h0m1-394h0m2-26h0m14 14h0m2 53h0m2 348h0m8-389h0m2 10h0m12 203h0m1 166h0m13 27h0m2-231h0m0 44h0m1-71h0m0 77h0m0 35h0m6-106h0m0 27h0m1-67h0m2-87h0m7 196h0m8-99h0m3 71h0m2-165h0m5-7h0m0 28h0m2 70h0m0 45h0m3-146h0m5 182h0m4-213h0m0 139h0m1 26h0m5-168h0m0 52h0m0 36h0m1 87h0m2-53h0m8 40h0m2-18h0m5 23h0m14-46h0m22-20h0m6-14h0m0 80h0m25-63h0m1-42h0m7-22h0"/>
<path class="p" stroke="#1e9c89" d="M1463 2527h0m3-96h0m17 130h0m4 66h0m1-448h0m9 265h0m2 149h0m2-381h0m2 106h0m5 265h0m6-256h0m1-132h0m1-4h0m6 92h0m1 103h0m2-167h0m2 226h0m4-121h0m3-65h0m0 134h0m3-94h0m3 81h0m2-120h0m11 25h0m2 155h0m9-180h0m1 106h0m10-106h0m6 64h0m5 63h0m10-154h0"/>
<path class="p" stroke="#22a884" d="M1347 2581h0m75-404h0m11 389h0m66-112h0m2 37h0m8-136h0m1-150h0m5 218h0m1-260h0m1-7h0m17 88h0m3 155h0m11-112h0m16 49h0m6-116h0m4 332h0m9-341h0m19 1h0m10 25h0m10-31h0"/>
<path class="p" stroke="#2fb47c" d="M1483 2489h0m30-288h0m7 9h0m2 271h0"/>
<path class="p" stroke="#7ad151" d="M1564 2218h0"/>
<path class="p" stroke="#9bd93c" d="M1558 2231h0m13 0h0"/>
<path class="p" stroke="#bddf26" d="M1549 2229h0m20-34h0"/>
<path class="p" stroke="#fde725" d="M1555 2206h0"/>
</g>
<g>
<linearGradient id="gh" gradientUnits="userSpaceOnUse" x1="1812.5" y1="2382.6" x2="2680.4" y2="2274.1"><stop offset="0%" stop-color="#4a2d7c"/><stop offset="10%" stop-color="#4a2d7c"/><stop offset="18.7%" stop-color="#4a2d7c"/><stop offset="20%" stop-color="#493580"/><stop offset="28.1%" stop-color="#38618f"/><stop offset="30%" stop-color="#346a90"/><stop offset="37.5%" stop-color="#268b8f"/><stop offset="40%" stop-color="#268d8f"/><stop offset="50%" stop-color="#23968d"/><stop offset="56.2%" stop-color="#229b8c"/><stop offset="60%" stop-color="#22a08a"/><stop offset="70%" stop-color="#28ac84"/><stop offset="71.9%" stop-color="#2aae83"/><stop offset="80%" stop-color="#56c66a"/><stop offset="81.2%" stop-color="#61ca64"/><stop offset="90%" stop-color="#61ca64"/><stop offset="100%" stop-color="#61ca64"/></linearGradient>
<path fill="url(#gh)" stroke="url(#gh)" class="e" d="M2167 2242L2173 2240L2179 2238L2184 2236L2190 2235L2195 2233L2201 2232L2206 2230L2212 2229L2217 2228L2223 2227L2228 2226L2234 2226L2239 2225L2245 2225L2250 2225L2256 2225L2261 2225L2267 2225L2272 2225L2278 2225L2283 2225L2289 2226L2294 2226L2300 2227L2306 2227L2311 2228L2317 2228L2323 2229L2328 2229L2334 2230L2339 2231L2345 2231L2351 2232L2356 2233L2362 2233L2368 2234L2373 2235L2379 2236L2384 2237L2389 2238L2395 2239L2400 2241L2405 2242L2410 2244L2415 2245L2420 2247L2424 2249L2429 2251L2433 2253L2437 2255L2441 2258L2445 2261L2448 2263L2452 2266L2455 2269L2458 2272L2462 2276L2465 2279L2468 2282L2470 2286L2473 2290L2475 2294L2478 2298L2480 2302L2481 2306L2483 2310L2484 2315L2485 2320L2486 2325L2487 2330L2487 2335L2488 2340L2489 2346L2489 2351L2489 2356L2489 2362L2489 2367L2489 2373L2489 2379L2488 2384L2487 2390L2487 2395L2486 2401L2485 2406L2484 2412L2482 2417L2481 2423L2479 2428L2478 2433L2476 2438L2474 2443L2471 2448L2469 2453L2467 2458L2464 2463L2462 2467L2459 2472L2457 2476L2454 2481L2451 2485L2448 2490L2445 2494L2442 2499L2439 2503L2437 2508L2434 2512L2431 2517L2428 2522L2426 2526L2423 2530L2420 2535L2417 2539L2414 2543L2411 2547L2408 2552L2405 2556L2401 2559L2398 2563L2395 2566L2391 2569L2387 2572L2383 2575L2379 2577L2375 2580L2371 2582L2367 2584L2362 2585L2358 2586L2354 2586L2350 2586L2345 2586L2341 2586L2336 2585L2331 2584L2326 2583L2320 2581L2315 2580L2310 2579L2304 2577L2298 2576L2293 2574L2287 2572L2281 2570L2276 2568L2270 2566L2265 2564L2259 2562L2253 2560L2248 2557L2242 2555L2237 2553L2231 2550L2226 2548L2221 2545L2216 2542L2211 2539L2206 2537L2201 2534L2196 2531L2191 2528L2187 2525L2182 2522L2177 2520L2173 2517L2169 2514L2164 2511L2160 2508L2155 2505L2151 2503L2146 2500L2141 2497L2137 2494L2132 2492L2128 2489L2124 2486L2119 2483L2115 2480L2111 2477L2107 2474L2103 2471L2100 2467L2096 2464L2092 2461L2089 2457L2085 2453L2082 2449L2078 2445L2075 2440L2071 2436L2068 2431L2065 2427L2063 2422L2060 2418L2058 2413L2056 2408L2055 2403L2053 2398L2052 2393L2051 2389L2050 2384L2049 2379L2049 2374L2048 2369L2048 2364L2048 2359L2049 2355L2049 2350L2050 2345L2051 2341L2052 2337L2053 2332L2055 2328L2056 2324L2058 2320L2060 2316L2063 2312L2065 2308L2068 2304L2071 2300L2074 2296L2077 2292L2081 2288L2085 2285L2088 2282L2092 2279L2096 2276L2100 2273L2104 2270L2109 2268L2113 2265L2118 2262L2123 2260L2128 2258L2133 2255L2139 2253L2144 2251L2150 2248L2156 2246L2162 2244Z"/>
<clipPath id="ch"><path d="M2167 2242L2173 2240L2179 2238L2184 2236L2190 2235L2195 2233L2201 2232L2206 2230L2212 2229L2217 2228L2223 2227L2228 2226L2234 2226L2239 2225L2245 2225L2250 2225L2256 2225L2261 2225L2267 2225L2272 2225L2278 2225L2283 2225L2289 2226L2294 2226L2300 2227L2306 2227L2311 2228L2317 2228L2323 2229L2328 2229L2334 2230L2339 2231L2345 2231L2351 2232L2356 2233L2362 2233L2368 2234L2373 2235L2379 2236L2384 2237L2389 2238L2395 2239L2400 2241L2405 2242L2410 2244L2415 2245L2420 2247L2424 2249L2429 2251L2433 2253L2437 2255L2441 2258L2445 2261L2448 2263L2452 2266L2455 2269L2458 2272L2462 2276L2465 2279L2468 2282L2470 2286L2473 2290L2475 2294L2478 2298L2480 2302L2481 2306L2483 2310L2484 2315L2485 2320L2486 2325L2487 2330L2487 2335L2488 2340L2489 2346L2489 2351L2489 2356L2489 2362L2489 2367L2489 2373L2489 2379L2488 2384L2487 2390L2487 2395L2486 2401L2485 2406L2484 2412L2482 2417L2481 2423L2479 2428L2478 2433L2476 2438L2474 2443L2471 2448L2469 2453L2467 2458L2464 2463L2462 2467L2459 2472L2457 2476L2454 2481L2451 2485L2448 2490L2445 2494L2442 2499L2439 2503L2437 2508L2434 2512L2431 2517L2428 2522L2426 2526L2423 2530L2420 2535L2417 2539L2414 2543L2411 2547L2408 2552L2405 2556L2401 2559L2398 2563L2395 2566L2391 2569L2387 2572L2383 2575L2379 2577L2375 2580L2371 2582L2367 2584L2362 2585L2358 2586L2354 2586L2350 2586L2345 2586L2341 2586L2336 2585L2331 2584L2326 2583L2320 2581L2315 2580L2310 2579L2304 2577L2298 2576L2293 2574L2287 2572L2281 2570L2276 2568L2270 2566L2265 2564L2259 2562L2253 2560L2248 2557L2242 2555L2237 2553L2231 2550L2226 2548L2221 2545L2216 2542L2211 2539L2206 2537L2201 2534L2196 2531L2191 2528L2187 2525L2182 2522L2177 2520L2173 2517L2169 2514L2164 2511L2160 2508L2155 2505L2151 2503L2146 2500L2141 2497L2137 2494L2132 2492L2128 2489L2124 2486L2119 2483L2115 2480L2111 2477L2107 2474L2103 2471L2100 2467L2096 2464L2092 2461L2089 2457L2085 2453L2082 2449L2078 2445L2075 2440L2071 2436L2068 2431L2065 2427L2063 2422L2060 2418L2058 2413L2056 2408L2055 2403L2053 2398L2052 2393L2051 2389L2050 2384L2049 2379L2049 2374L2048 2369L2048 2364L2048 2359L2049 2355L2049 2350L2050 2345L2051 2341L2052 2337L2053 2332L2055 2328L2056 2324L2058 2320L2060 2316L2063 2312L2065 2308L2068 2304L2071 2300L2074 2296L2077 2292L2081 2288L2085 2285L2088 2282L2092 2279L2096 2276L2100 2273L2104 2270L2109 2268L2113 2265L2118 2262L2123 2260L2128 2258L2133 2255L2139 2253L2144 2251L2150 2248L2156 2246L2162 2244Z"/></clipPath><g clip-path="url(#ch)">
<radialGradient id="rh0"><stop offset="0" stop-color="#9cda3f" stop-opacity="0.4"/><stop offset="1" stop-color="#9cda3f" stop-opacity="0"/></radialGradient>
<circle cx="2391" cy="2172" r="149" fill="url(#rh0)"/>
</g>
<path class="p" stroke="#471365" d="M2002 2434h0"/>
<path class="p" stroke="#463480" d="M2014 2303h0m17 69h0"/>
<path class="p" stroke="#414487" d="M1991 2358h0m23-56h0m1 40h0m33 47h0m6 14h0m2 63h0m2 21h0m1-181h0"/>
<path class="p" stroke="#3b528b" d="M2019 2402h0m13-50h0m2 13h0m1 11h0m3-95h0m0 27h0m0 58h0m2 26h0m2-1h0m3-37h0m11 13h0m0 43h0"/>
<path class="p" stroke="#355f8d" d="M2028 2394h0m6-72h0m3 72h0m8-82h0m6 53h0m2 41h0m1-40h0m3-3h0m3-120h0m6 91h0m3-98h0m2 80h0m6 159h0m1-39h0m5 57h0m4-15h0m3-21h0m6-184h0m2-8h0m4 122h0"/>
<path class="p" stroke="#2f6c8e" d="M2031 2309h0m14 34h0m2-24h0m11 103h0m2-55h0m6-68h0m1 61h0m2-113h0m4 183h0m1-91h0m2 97h0m2-156h0m0 20h0m7 139h0m2-31h0m4 80h0m12-83h0m1-142h0m1 9h0m0 121h0m1 70h0m5-173h0m9-50h0"/>
<path class="p" stroke="#2a788e" d="M2069 2299h0m7-4h0m1 1h0m2 1h0m5-19h0m3 6h0m8 13h0m2-25h0m0 174h0m6-122h0m3 147h0m2-8h0m3-141h0m0 83h0m6 88h0m3 0h0m2 15h0m1-259h0m0 221h0m1 9h0m2-6h0m3-229h0m3 45h0m11 208h0m6-255h0m3 263h0m1-40h0m7-224h0m13 130h0m24 197h0m32-354h0m11 353h0m6 1h0"/>
<path class="p" stroke="#25848e" d="M2111 2245h0m1 132h0m5 52h0m5 71h0m2-234h0m2-43h0m9 69h0m3 152h0m0 63h0m1-252h0m4 207h0m2-212h0m3 248h0m1-117h0m6-125h0m1 74h0m3-88h0m0 49h0m5 242h0m7-281h0m6-12h0m0 263h0m0 48h0m3-316h0m5-3h0m1 4h0m2-20h0m0 77h0m5 229h0m3-228h0m2 240h0m3 3h0m11-1h0m14-306h0m5 328h0m3-108h0m4 131h0m4-317h0m5 175h0m1 124h0m14-352h0m0 387h0m40-139h0m31 147h0m35-32h0m36-16h0m69-99h0"/>
<path class="p" stroke="#21918c" d="M2116 2266h0m1-5h0m22 144h0m2-90h0m1-23h0m4 225h0m5-263h0m2 128h0m8 143h0m7-11h0m3-234h0m3-60h0m0 98h0m10 0h0m8-81h0m1-16h0m2 285h0m1-130h0m2-145h0m0 248h0m0 82h0m3-82h0m0 56h0m2 23h0m3-11h0m4-60h0m3-109h0m4 60h0m2-52h0m2-150h0m3 9h0m1 162h0m3-183h0m1 170h0m1 152h0m3-317h0m0 220h0m4 96h0m1-318h0m1 266h0m1-42h0m0 71h0m2-61h0m2-114h0m4 254h0m1-325h0m3 120h0m1-168h0m1 26h0m0 191h0m0 27h0m2-251h0m1 127h0m0 184h0m2-79h0m8-135h0m1 247h0m9-214h0m1 211h0m2-216h0m1 120h0m12-76h0m0 199h0m9-245h0m0 213h0m3-135h0m5-199h0m11 333h0m5 15h0m0 32h0m1-18h0m12-12h0m10-1h0m20-111h0m28 92h0m12 60h0"/>
<path class="p" stroke="#1e9c89" d="M2120 2225h0m4 34h0m2 13h0m19-45h0m1 10h0m19 81h0m28-53h0m2-58h0m3 109h0m14 210h0m1-255h0m8-64h0m10 43h0m5-60h0m0 130h0m1 66h0m4 2h0m2-88h0m1 249h0m0 12h0m1-259h0m17 57h0m1-166h0m7 40h0m0 337h0m1-356h0m1 109h0m0 10h0m2 182h0m2-97h0m10 164h0m1-368h0m0 107h0m0 73h0m0 178h0m4-178h0m3 36h0m3 61h0m1-215h0m5 301h0m6 11h0m1-99h0m0 94h0m4-25h0m2-198h0m0 37h0m1-99h0m3-74h0m0 47h0m1 87h0m0 197h0m2-102h0m0 56h0m2 48h0m4-176h0m2 238h0m7-418h0m0 121h0m2-98h0m1 142h0m2 220h0m7 33h0m5-117h0m12-120h0m7-97h0m6 64h0m5 204h0m1-55h0m3-113h0m1 178h0m4-118h0m3 113h0m4-149h0m4 30h0m4 115h0m4-10h0m2 35h0m2-44h0m0 20h0m4-310h0m4 297h0m12-49h0m2-226h0m17 225h0m3 20h0m2-27h0m8 17h0m7-6h0"/>
<path class="p" stroke="#22a884" d="M2162 2238h0m39-18h0m40 361h0m6-2h0m5-316h0m12-37h0m9 336h0m11-340h0m4-31h0m1 72h0m2-46h0m1 121h0m5-129h0m0 66h0m10 304h0m7-378h0m10 299h0m2-268h0m0 259h0m2-263h0m2 42h0m11-50h0m1 66h0m1 115h0m1 56h0m2-84h0m0 220h0m1-363h0m0 77h0m1-69h0m5-39h0m0 276h0m9 102h0m1 59h0m1-248h0m0 82h0m4-89h0m4-159h0m1 153h0m1 23h0m5-26h0m0 54h0m2-199h0m0 144h0m2 202h0m5-247h0m7 248h0m1-316h0m1 114h0m2 72h0m0 130h0m2-16h0m1-283h0m0 281h0m1-14h0m2-142h0m2 159h0m1 44h0m2-301h0m0 121h0m2-73h0m2-10h0m7 205h0m9-37h0m2 35h0m1-232h0m1 246h0m2-87h0m1 43h0m4-80h0m6-101h0m0 173h0m2-203h0m3 78h0m3 161h0m4-71h0m0 36h0m4-162h0m3 24h0m8 65h0m8-55h0"/>
<path class="p" stroke="#2fb47c" d="M2215 2567h0m92-356h0m14 28h0m21-16h0m2 0h0m8 23h0m5-11h0m2-13h0m4 15h0m2 1h0m9 24h0m4-31h0m2-17h0m0 53h0m4 318h0m6-367h0m1 68h0m2-43h0m9 338h0m2-370h0m0 62h0m3-60h0m6 30h0m0 40h0m2 286h0m1-11h0m1-205h0m0 162h0m1 99h0m4-84h0m3-307h0m1 17h0m5-12h0m0 44h0m4-16h0m1 139h0m4-24h0m2 14h0m4-120h0m0 245h0m6-94h0m1-117h0m6-18h0m1 206h0m2-224h0m4 156h0m3-114h0m1-17h0m10 193h0m2-73h0m1-99h0m0 191h0m1-79h0m3-138h0m1 39h0m1 37h0m2-10h0m9-32h0m0 72h0"/>
<path class="p" stroke="#44bf70" d="M2316 2211h0m5 23h0m49-12h0m1-21h0m6 45h0m22-24h0m5 47h0m7-20h0m6-69h0m22 313h0m7-221h0m9 261h0m4-270h0m9 256h0m3-103h0m3-155h0m0 212h0m6-63h0m1-174h0m1 201h0m1-132h0m0 12h0m2 147h0m3-162h0m0 32h0m0 58h0m1-66h0m1 21h0m1-16h0m1 4h0m3 64h0m2-34h0m8 67h0m5-55h0"/>
<path class="p" stroke="#5ec962" d="M2291 2206h0m1-8h0m5-3h0m16-6h0m106 42h0m33 14h0m17 31h0m5 149h0m5-148h0m5 70h0m12 30h0m2 122h0m3-225h0m1 172h0m11-129h0"/>
<path class="p" stroke="#7ad151" d="M2299 2207h0m155 76h0m33-3h0m2 20h0m9-44h0m9 11h0m12 60h0m3 28h0"/>
<path class="p" stroke="#9bd93c" d="M2356 2216h0m17-2h0m131 82h0"/>
<path class="p" stroke="#dfe318" d="M2354 2209h0m11-5h0"/>
<path class="p" stroke="#471365" d="M1957 2344h0m60 18h0m17-41h0m20 75h0m3 7h0m3-58h0"/>
<path class="p" stroke="#482475" d="M1919 2411h0m49-39h0m21-37h0m46-23h0m40-24h0m1 80h0"/>
<path class="p" stroke="#463480" d="M1914 2420h0m9-44h0m6 24h0m39-72h0m18 42h0m44-22h0m27-54h0m13 197h0"/>
<path class="p" stroke="#414487" d="M1879 2430h0m46-9h0m80 77h0m8-126h0m6 110h0m27-44h0m4-136h0m0 54h0m8 144h0"/>
<path class="p" stroke="#3b528b" d="M1931 2343h0m23 95h0m78-48h0m1-83h0m0 95h0m5-72h0m1 31h0m0 68h0m2-126h0m8 124h0m2 10h0m2-123h0m7 141h0m24 69h0m4-24h0"/>
<path class="p" stroke="#355f8d" d="M1990 2394h0m6-20h0m41 47h0m15-110h0m6-47h0m6 119h0m1-55h0m9-48h0m0 148h0m5 10h0m5-61h0m16 111h0m2 5h0m9 17h0"/>
<path class="p" stroke="#2f6c8e" d="M2043 2257h0m8 88h0m22 98h0m13-154h0m7 66h0m2 114h0m2-189h0m0 42h0m2 66h0m1-17h0m0 105h0m1-212h0m28 231h0"/>
<path class="p" stroke="#2a788e" d="M1969 2307h0m58 33h0m8 159h0m30-291h0m4 107h0m7-44h0m6 10h0m10-4h0m11 33h0m0 76h0m1-14h0m2 47h0m1 86h0m0 22h0m7-198h0m1 150h0m2-235h0m2 123h0m3 125h0m3-199h0m1-17h0m0 202h0m1-1h0m15 50h0m1-26h0m14 7h0m22-272h0m3 277h0m0 65h0m15-48h0m13-321h0m4 338h0m4 8h0"/>
<path class="p" stroke="#25848e" d="M2073 2530h0m9-276h0m23 141h0m12 96h0m6-206h0m0 44h0m1 22h0m2-102h0m0 11h0m4 243h0m7-248h0m1-4h0m1 244h0m7-40h0m11 48h0m4-1h0m1-60h0m1 71h0m1-140h0m0 131h0m23-136h0m5 37h0m4 45h0m1-228h0m19 342h0m8-17h0m2 24h0m4-328h0m5-32h0m7 16h0m38 345h0m28 10h0m46 14h0"/>
<path class="p" stroke="#21918c" d="M2004 2078h0m42 67h0m23 21h0m3 76h0m11-67h0m28 61h0m8 22h0m1 3h0m4-57h0m0 34h0m5 285h0m9-275h0m6-136h0m0 119h0m7 330h0m0 32h0m2-399h0m1-41h0m1 388h0m1-302h0m9-83h0m0 408h0m1-358h0m5 202h0m1 97h0m10-274h0m2 204h0m2-193h0m3 56h0m3 36h0m2-131h0m10 219h0m7-228h0m1 297h0m1 0h0m3-188h0m1-24h0m3 234h0m2 33h0m6-302h0m5 354h0m4-399h0m0 143h0m0 17h0m3 66h0m0 132h0m1-165h0m1-162h0m1 78h0m1-83h0m1-27h0m2 229h0m0 47h0m1 85h0m2 7h0m2-383h0m0 40h0m0 131h0m0 242h0m1-182h0m4-176h0m5-66h0m14 440h0m2-110h0m2-48h0m1-249h0m1 15h0m2 369h0m11 42h0m14-308h0m7 74h0m3-174h0m3 385h0m3-21h0m4 22h0m7-218h0m2 244h0m7-247h0m1 239h0m3-441h0m14 395h0m8 46h0m3-152h0m13 145h0m15 16h0m8-75h0m1 167h0m10-101h0m6-30h0m7 49h0m5-142h0m1 5h0m1 75h0m16 12h0m9-98h0m2-14h0m4 32h0m6 76h0m11-93h0m0 107h0m2-95h0m4-29h0m14-149h0m0 45h0m2 29h0m1-49h0m4-14h0m3 118h0m1-43h0m5-73h0"/>
<path class="p" stroke="#1e9c89" d="M2121 2258h0m35-5h0m0 273h0m1-180h0m1 175h0m11-295h0m8 317h0m2 12h0m11-323h0m30 260h0m10-105h0m2-170h0m4 0h0m5 113h0m0 61h0m7-177h0m0 96h0m8 73h0m5 60h0m3 155h0m2-321h0m0 176h0m5 68h0m3-223h0m1 87h0m2-177h0m0 7h0m0 5h0m8-8h0m1 18h0m2 115h0m1 56h0m1 187h0m3-189h0m9 178h0m1-301h0m3-67h0m0 252h0m1-242h0m1 10h0m3 258h0m2 93h0m0 54h0m1-310h0m3 13h0m0 32h0m3 181h0m2-148h0m1 39h0m2 76h0m4 65h0m1 58h0m2-437h0m1 314h0m0 60h0m9-9h0m4 34h0m11-215h0m3 192h0m5-22h0m3-340h0m17 111h0m1 66h0m1-48h0m0 63h0m4 20h0m5 78h0m5-58h0m1 138h0m13-235h0m5 32h0m7 128h0m6 0h0m15 4h0m2 36h0m4-51h0m1 73h0m1-39h0m6 37h0m19-99h0m23-2h0m20-33h0"/>
<path class="p" stroke="#22a884" d="M2240 2185h0m2 36h0m9 4h0m6 335h0m8-319h0m12-33h0m14 3h0m10-1h0m1 384h0m4-154h0m27-195h0m0 82h0m1-76h0m8-26h0m1 79h0m1 297h0m3-374h0m0 353h0m2-313h0m4 72h0m2 154h0m1-26h0m3-233h0m8-8h0m3 10h0m2 356h0m1-204h0m4-55h0m9 264h0m4-185h0m5 123h0m1 48h0m2-341h0m3-16h0m0 158h0m4-78h0m1-69h0m0 271h0m1 81h0m3-411h0m1 394h0m2-49h0m1-249h0m0 96h0m0 68h0m2 16h0m2-230h0m0 19h0m0 13h0m1 84h0m1-127h0m5 183h0m3 58h0m1-103h0m1 63h0m1 175h0m4 35h0m6-79h0m2-73h0m3-40h0m1-10h0m3-105h0m1 128h0m2 50h0m1 2h0m1-25h0m2-216h0m0 212h0m13 6h0m1-57h0m10-176h0m11 159h0"/>
<path class="p" stroke="#2fb47c" d="M2332 2234h0m24-12h0m15 17h0m1-11h0m0 346h0m8-340h0m3 48h0m2-45h0m3 329h0m12-330h0m5 345h0m2-366h0m4 51h0m0 37h0m18 211h0m4-273h0m0 277h0m3-259h0m3-54h0m2 66h0m0 284h0m3-317h0m1 127h0m1 118h0m6 32h0m7-234h0m11 150h0m2-273h0m1 275h0m1-130h0m1 117h0m2 54h0m7-161h0m0 54h0m1-88h0m3 52h0m0 12h0m1-24h0m1 77h0"/>
<path class="p" stroke="#44bf70" d="M2408 2144h0m11 90h0m6 9h0m2-77h0m18 103h0m4-19h0m4-15h0m21 41h0m1 0h0m3 142h0m1-160h0m1 177h0m1-169h0m2 86h0m0 88h0m5-137h0m5-97h0m16-32h0m4 274h0m14-42h0m25-2h0m21-134h0m18 46h0"/>
<path class="p" stroke="#5ec962" d="M2247 2116h0m44 94h0m82-21h0m60-36h0m6 68h0m1 34h0m13 13h0m25 45h0m9 2h0m1 46h0m5 10h0m2-115h0m3 43h0m7 12h0m13 73h0"/>
<path class="p" stroke="#7ad151" d="M2285 2190h0m2 18h0m6 2h0m4-34h0m4 19h0m28-27h0m113-25h0m3 68h0m34 57h0m4 18h0m2-99h0m1 108h0m7-1h0m4 50h0m2-51h0m12-40h0m2 14h0"/>
<path class="p" stroke="#9bd93c" d="M2350 2201h0m39-24h0m12-7h0m8 20h0m48 24h0m2-60h0m7 60h0m29 37h0"/>
<path class="p" stroke="#bddf26" d="M2346 2196h0m1 16h0m12-13h0m2-32h0m47-49h0m141 194h0"/>
<path class="p" stroke="#dfe318" d="M2350 2195h0m25-25h0"/>
<path class="p" stroke="#fde725" d="M2532 2176h0"/>
</g>
<g>
<linearGradient id="gi" gradientUnits="userSpaceOnUse" x1="2658.3" y1="2606.3" x2="3723.9" y2="2421"><stop offset="0%" stop-color="#d3e21f"/><stop offset="10%" stop-color="#d3e21f"/><stop offset="14.6%" stop-color="#d3e21f"/><stop offset="20%" stop-color="#9cda3f"/><stop offset="22%" stop-color="#88d54c"/><stop offset="30%" stop-color="#43be74"/><stop offset="34.1%" stop-color="#2db081"/><stop offset="40%" stop-color="#229e8b"/><stop offset="46.3%" stop-color="#268b8f"/><stop offset="50%" stop-color="#2b7e90"/><stop offset="60%" stop-color="#3b5a8e"/><stop offset="63.4%" stop-color="#414c8b"/><stop offset="70%" stop-color="#493681"/><stop offset="70.7%" stop-color="#493480"/><stop offset="78%" stop-color="#4a1668"/><stop offset="80%" stop-color="#4a1264"/><stop offset="85.4%" stop-color="#470557"/><stop offset="90%" stop-color="#470557"/><stop offset="100%" stop-color="#470557"/><stop offset="100%" stop-color="#470557"/></linearGradient>
<path fill="url(#gi)" stroke="url(#gi)" class="e" d="M3132 2243L3136 2243L3141 2243L3145 2243L3149 2243L3153 2244L3158 2245L3162 2246L3166 2247L3170 2248L3174 2250L3178 2252L3183 2254L3187 2257L3192 2259L3196 2262L3201 2264L3205 2267L3210 2269L3214 2272L3218 2275L3223 2278L3227 2281L3232 2284L3236 2287L3241 2290L3245 2293L3250 2296L3254 2300L3259 2303L3263 2307L3268 2310L3272 2314L3277 2317L3282 2320L3286 2323L3291 2327L3295 2330L3300 2333L3304 2337L3308 2340L3312 2344L3316 2348L3320 2353L3324 2357L3328 2361L3332 2366L3335 2371L3338 2375L3341 2380L3344 2384L3346 2389L3349 2394L3351 2399L3352 2404L3354 2409L3356 2414L3357 2419L3358 2423L3358 2428L3359 2433L3359 2437L3360 2442L3360 2447L3360 2453L3360 2458L3359 2463L3358 2468L3358 2474L3357 2480L3356 2486L3356 2492L3355 2498L3355 2504L3355 2509L3356 2515L3356 2521L3357 2527L3358 2533L3359 2539L3360 2545L3362 2551L3364 2557L3366 2563L3369 2568L3371 2574L3374 2580L3376 2585L3378 2591L3380 2596L3383 2602L3385 2608L3387 2614L3389 2619L3390 2624L3391 2629L3391 2634L3392 2638L3391 2643L3391 2647L3390 2651L3389 2655L3387 2659L3386 2662L3384 2666L3381 2668L3379 2671L3376 2674L3372 2676L3368 2679L3364 2681L3359 2684L3355 2686L3350 2688L3345 2690L3340 2692L3335 2693L3329 2695L3323 2696L3317 2698L3311 2699L3305 2700L3299 2701L3292 2701L3286 2702L3279 2702L3272 2703L3265 2703L3258 2703L3251 2704L3244 2704L3238 2704L3231 2705L3224 2705L3217 2705L3211 2705L3204 2706L3197 2706L3190 2706L3184 2706L3177 2706L3170 2706L3163 2706L3157 2706L3150 2706L3143 2705L3137 2705L3130 2705L3123 2705L3116 2704L3110 2704L3103 2704L3096 2703L3089 2703L3082 2702L3076 2702L3069 2701L3062 2701L3055 2700L3049 2700L3042 2699L3036 2698L3029 2697L3023 2696L3017 2695L3011 2694L3005 2693L2999 2692L2994 2690L2988 2688L2983 2687L2978 2685L2973 2683L2968 2680L2963 2678L2959 2676L2955 2673L2951 2670L2948 2667L2944 2663L2941 2660L2938 2656L2935 2652L2932 2648L2930 2644L2928 2640L2927 2635L2925 2631L2924 2626L2923 2621L2923 2616L2922 2611L2922 2606L2922 2601L2922 2596L2922 2590L2923 2585L2924 2579L2925 2573L2926 2568L2926 2562L2927 2556L2928 2551L2928 2545L2929 2539L2930 2534L2930 2528L2931 2522L2931 2516L2931 2510L2930 2504L2930 2498L2929 2492L2928 2487L2927 2481L2927 2476L2926 2470L2926 2465L2926 2459L2926 2454L2925 2448L2925 2443L2926 2437L2926 2432L2926 2426L2927 2421L2928 2415L2929 2410L2930 2404L2931 2398L2932 2393L2933 2388L2935 2382L2937 2377L2939 2372L2941 2367L2943 2362L2945 2357L2947 2352L2950 2348L2952 2343L2955 2339L2958 2335L2961 2331L2964 2328L2967 2324L2971 2320L2975 2317L2978 2313L2982 2310L2986 2306L2991 2303L2995 2299L2999 2296L3004 2293L3009 2290L3014 2287L3018 2284L3023 2281L3028 2278L3033 2275L3038 2272L3043 2270L3048 2267L3054 2264L3059 2262L3064 2259L3069 2257L3074 2254L3079 2252L3083 2250L3088 2248L3093 2247L3098 2246L3103 2245L3107 2244L3112 2243L3117 2243L3122 2243L3127 2243Z"/>
<path class="p" stroke="#440154" d="M3413 2639h0m1-1h0m1-3h0m9 7h0m2 45h0m1-46h0m9 33h0m4-30h0m1-10h0m0 11h0m1-135h0m1 134h0m4 5h0"/>
<path class="p" stroke="#471365" d="M3368 2375h0m20 299h0m2-3h0m2 14h0m2-5h0m1 10h0m1-184h0m0 16h0m2 165h0m8-109h0m1-172h0m3 269h0m7-168h0m2 182h0m10-27h0m1-1h0m21-247h0"/>
<path class="p" stroke="#482475" d="M3362 2402h0m4 12h0m1-22h0m2 30h0m0 72h0m2-72h0m8 31h0m0 65h0m1-10h0m2-87h0m6 72h0m5 58h0m1-159h0m4 97h0m1-76h0m0 35h0m7 64h0m7 6h0m3-115h0m0 100h0m4 7h0m5 25h0"/>
<path class="p" stroke="#463480" d="M3288 2317h0m17 7h0m16 40h0m11-35h0m1 23h0m9-11h0m1 48h0m4 13h0m3-58h0m1-6h0m0 32h0m1 7h0m2 129h0m4-56h0m0 8h0m0 10h0m2-113h0m0 114h0m1 28h0m1 30h0m2-102h0m2-21h0m0 34h0m2-131h0m3 146h0m1-62h0m1 48h0m0 154h0m1-149h0m0 223h0m1-289h0m0 56h0m3 28h0m0 56h0m1-74h0m2-54h0m4 229h0m2-191h0m1 85h0m3-46h0m0 108h0m2-151h0m1 225h0m1-96h0m2-53h0m0 142h0m2-231h0m1 73h0m1 29h0m1-25h0m4 114h0m0 30h0m1-170h0m2-76h0m3 172h0m6 78h0m2-168h0m0 108h0m9 40h0m13-87h0"/>
<path class="p" stroke="#414487" d="M3247 2287h0m4-42h0m19 53h0m5 15h0m6-6h0m29 38h0m2 84h0m10-91h0m2 136h0m6 83h0m2-223h0m0 143h0m1 225h0m6-212h0m3-173h0m0 48h0m1 68h0m5 1h0m5-126h0m0 259h0m1 126h0m1-187h0m1 8h0m1-97h0m0 65h0m2-38h0m2 100h0m1 5h0m1-163h0m0 42h0m1 6h0m2 12h0m2-47h0m1-54h0m1 181h0m1-121h0m0 75h0m2-1h0m5 215h0m4-93h0m3 13h0m2 53h0m1-206h0m0 146h0m10 36h0m5-61h0m2-186h0m0 244h0m5 1h0m2-23h0m0 1h0m2-220h0m10 188h0m28-24h0"/>
<path class="p" stroke="#3b528b" d="M3214 2249h0m6 3h0m9 3h0m25 24h0m8 36h0m11-36h0m0 31h0m5-1h0m2 410h0m6-199h0m4-213h0m2-6h0m0 11h0m7 28h0m0 198h0m2-213h0m2 2h0m2-57h0m0 302h0m2-37h0m1-129h0m2 146h0m1-129h0m2 146h0m0 123h0m1-161h0m1-184h0m1 77h0m13-53h0m4-4h0m0 248h0m0 52h0m1 22h0m1-85h0m2 102h0m1-22h0m5 9h0m3-7h0m0 2h0m5 0h0m4-8h0m7-157h0m4-74h0m2 119h0m1 82h0m2 40h0m1-46h0m4 45h0m5 6h0m3-197h0m0 39h0m1 135h0m10-48h0m55-227h0"/>
<path class="p" stroke="#355f8d" d="M3198 2245h0m8 111h0m4-61h0m9-39h0m2 62h0m2 117h0m11-22h0m1-98h0m2-16h0m2 95h0m1-123h0m8 19h0m1 248h0m1-252h0m4 49h0m10 116h0m1-153h0m5 126h0m0 49h0m2 132h0m3-117h0m3-36h0m2 47h0m3-168h0m2 365h0m8-358h0m1 351h0m1 6h0m2-84h0m5 100h0m10-326h0m5 138h0m20 159h0m14 0h0m9-17h0m4-163h0m19 73h0m4 33h0"/>
<path class="p" stroke="#2f6c8e" d="M3151 2236h0m0 3h0m2 2h0m19-23h0m20 30h0m0 13h0m2 6h0m5 11h0m5 43h0m2 116h0m9 261h0m11-44h0m1-131h0m7-1h0m7-259h0m0 361h0m6-40h0m3-25h0m16-239h0m8 108h0m7 228h0m10-8h0m7 37h0m76-7h0"/>
<path class="p" stroke="#2a788e" d="M3084 2255h0m44-47h0m1 3h0m21 93h0m1-80h0m14 84h0m16 136h0m8 190h0m4-387h0m9 28h0m6-8h0m2 209h0m0 146h0m3 66h0m2 3h0m2 10h0m5-179h0m0 174h0m7-110h0m0 6h0m9-317h0m1 401h0m4 27h0m6-17h0m13 29h0"/>
<path class="p" stroke="#25848e" d="M3067 2248h0m0 7h0m14 31h0m14-54h0m13 17h0m3-14h0m7-62h0m4 59h0m3 278h0m2-256h0m13 51h0m3-69h0m5 344h0m2-248h0m4 128h0m1-221h0m5 273h0m3 124h0m6-298h0m4 278h0m1-120h0m0 206h0m9-261h0m3 142h0m22 29h0m6 87h0m53 7h0m4-420h0"/>
<path class="p" stroke="#21918c" d="M2985 2309h0m26-28h0m22-36h0m13 15h0m6-27h0m6 30h0m6-15h0m7-49h0m5 42h0m2 21h0m1 11h0m5-36h0m18 138h0m5 71h0m0 268h0m1-263h0m2-198h0m1 81h0m10 219h0m4 14h0m1-154h0m5 73h0m1 206h0m3-453h0m1 322h0m0 143h0m6-463h0m0 283h0m4 104h0m8 70h0m1-5h0m2-153h0m6 21h0m11-318h0m10 457h0m24 9h0"/>
<path class="p" stroke="#1e9c89" d="M2994 2299h0m35-42h0m1 21h0m3 135h0m2-168h0m4 27h0m6 121h0m4-120h0m12 238h0m2-17h0m7 40h0m2-285h0m2 307h0m1 137h0m2-162h0m4-28h0m11-267h0m3 114h0m1 197h0m4-270h0m1 314h0m1-68h0m1 153h0m4-211h0m4-89h0m1 24h0m6 69h0m5 106h0m0 135h0m4-169h0"/>
<path class="p" stroke="#22a884" d="M2983 2304h0m1 59h0m10 22h0m2 310h0m3-357h0m5-53h0m2 150h0m4-20h0m6 7h0m9 113h0m1-303h0m1 58h0m2 165h0m1-35h0m6-121h0m0 285h0m8-326h0m1 13h0m1 274h0m5-276h0m3-44h0m0 66h0m2 239h0m2 167h0m1-270h0m4 201h0m9-68h0m12 4h0m16 18h0m2 99h0"/>
<path class="p" stroke="#2fb47c" d="M2920 2663h0m15-140h0m2-245h0m3 72h0m0 7h0m12-6h0m0 38h0m11 106h0m13 34h0m1-212h0m9 393h0m1-86h0m4-360h0m1 320h0m6 18h0m5-321h0m0 13h0m3 397h0m3-89h0m1 93h0m3-410h0m0 305h0m1 123h0m4-24h0m0 5h0m2-153h0m2-28h0m0 102h0m4 62h0m1-90h0m3-321h0m5 438h0m10-428h0m4 45h0m0 235h0m1 151h0m14-10h0"/>
<path class="p" stroke="#44bf70" d="M2896 2412h0m4 239h0m3-278h0m3 88h0m8-118h0m1 277h0m1-87h0m9-60h0m4-88h0m1 44h0m1-8h0m4 112h0m1-213h0m4 41h0m1-28h0m1 30h0m1 15h0m0 18h0m3 0h0m1-56h0m4 231h0m4-227h0m7-7h0m1 38h0m1-65h0m5 63h0m1 273h0m2-356h0m1 73h0m0 174h0m6 78h0m3 77h0m6-69h0m2-136h0m25 193h0m10 17h0m27-5h0"/>
<path class="p" stroke="#5ec962" d="M2874 2519h0m1-100h0m22 194h0m7-117h0m1 49h0m4-15h0m1 54h0m1-101h0m3-16h0m1-46h0m1-31h0m2 150h0m1-91h0m0 101h0m1-32h0m0 76h0m2-95h0m0 108h0m1-38h0m1-51h0m0 67h0m0 34h0m1-58h0m2 6h0m1-153h0m0 13h0m2-7h0m3 11h0m1-59h0m0 11h0m0 50h0m1 102h0m1-162h0m1-15h0m5 132h0m6-137h0m12 211h0m1 23h0m10 98h0m2-8h0m3-41h0m7 41h0m6 20h0m1-13h0"/>
<path class="p" stroke="#7ad151" d="M2865 2423h0m0 222h0m27 15h0m1-97h0m1-103h0m1 37h0m1-75h0m8 113h0m1-48h0m0 63h0m0 101h0m3-45h0m3-38h0m0 54h0m3-85h0m1-165h0m0 121h0m0 145h0m2-33h0m1-150h0m1 85h0m1-103h0m2-89h0m0 197h0m2 82h0m3-128h0m2 126h0m1 42h0m3-154h0m2 34h0m2-52h0m0 154h0m6-17h0m50 60h0"/>
<path class="p" stroke="#9bd93c" d="M2864 2551h0m3-15h0m13 10h0m16 5h0m1-80h0m11-41h0m0 202h0m2-97h0m1 64h0m7-93h0m6 122h0"/>
<path class="p" stroke="#bddf26" d="M2876 2470h0m12 142h0m8-29h0m5 86h0m6-63h0m0 84h0m4-109h0m4-140h0m3 144h0m1 74h0"/>
<path class="p" stroke="#dfe318" d="M2867 2624h0m17-9h0m1-29h0m4 32h0m4-12h0m10-10h0m2 14h0m9-26h0"/>
<path class="p" stroke="#fde725" d="M2893 2627h0"/>
<path class="p" stroke="#440154" d="M3393 2681h0m15-14h0m8-41h0m2 71h0m8-62h0m1 19h0m0 4h0m1-25h0m1 28h0m3 14h0m2-38h0m6 15h0m4-12h0m5 4h0"/>
<path class="p" stroke="#471365" d="M3378 2515h0m5 33h0m2 158h0m1-187h0m4 148h0m6-169h0m4 200h0m1 4h0m4-177h0m1 64h0m4-83h0m9 197h0m5-15h0m14-326h0m42 224h0m20 1h0m2 7h0"/>
<path class="p" stroke="#482475" d="M3349 2329h0m1-22h0m17 75h0m10 86h0m0 99h0m3-52h0m0 61h0m5-198h0m2-10h0m0 10h0m5 272h0m5-135h0m2-141h0m6-12h0m2 57h0m1 78h0m0 14h0m0 75h0m6-231h0m0 59h0m2-1h0m3-54h0m1 43h0m9 132h0m4 20h0m4-142h0m9 44h0m1-53h0m8 180h0m1-241h0m0 264h0m1-160h0m3 96h0m2-189h0m0 77h0m7 151h0m9-148h0m6-54h0m7-40h0"/>
<path class="p" stroke="#463480" d="M3307 2159h0m6 100h0m3 436h0m3-267h0m2-89h0m4 90h0m12 49h0m3-221h0m0 62h0m0 405h0m1-339h0m11 172h0m3-38h0m7-202h0m0 20h0m2 204h0m3-98h0m1 149h0m3-64h0m3-23h0m1 17h0m2-203h0m0 97h0m0 109h0m7-81h0m1-31h0m1-7h0m2 191h0m3-4h0m0 41h0m3 18h0m1-92h0m1-82h0m0 160h0m5-219h0m1 112h0m3 149h0m2-419h0m1 204h0m5 157h0m3-30h0m1-185h0m0 127h0m9-140h0m3 181h0m1-195h0m14 43h0m3 188h0m3-110h0m28 0h0m6-35h0m26-65h0m7 71h0"/>
<path class="p" stroke="#414487" d="M3222 2227h0m5-7h0m25 55h0m5 5h0m15 434h0m4-430h0m12 22h0m1 112h0m6-188h0m4 483h0m7-369h0m2 1h0m2-14h0m8 7h0m2 46h0m2 318h0m3-271h0m1 262h0m4-341h0m1 46h0m2-159h0m6 354h0m8-208h0m1 18h0m0 6h0m1-97h0m3 84h0m1-61h0m0 58h0m2 91h0m0 67h0m1-69h0m1 30h0m0 18h0m2-130h0m2 62h0m1-50h0m0 3h0m0 43h0m0 5h0m3-1h0m0 61h0m3-87h0m3 100h0m2 24h0m6 108h0m2-63h0m2-133h0m1-19h0m0 120h0m0 6h0m1 9h0m1-51h0m3-138h0m3 38h0m3 113h0m1-13h0m1 60h0m0 53h0m1-90h0m3 71h0m1-152h0m1 32h0m6-56h0m0 72h0m5 16h0m1-99h0m23 48h0m1-19h0m17 136h0m52-225h0m22 0h0"/>
<path class="p" stroke="#3b528b" d="M3205 2201h0m0 62h0m8-33h0m18 494h0m5-9h0m10-443h0m0 12h0m4-20h0m2 463h0m5-443h0m9 72h0m2-20h0m15 84h0m3-163h0m0 247h0m1 210h0m1-338h0m6 47h0m1-110h0m10 33h0m26 16h0m1-28h0m15 101h0m4-11h0m3 107h0m10 106h0m1 60h0m10-363h0m3 215h0m7 91h0m4 35h0m8-65h0"/>
<path class="p" stroke="#355f8d" d="M3156 2232h0m12-11h0m17-59h0m4 16h0m2 81h0m1-9h0m3 11h0m1-20h0m8 483h0m16-449h0m13 440h0m9-413h0m9 34h0m9 99h0m26-46h0m13 303h0m7 7h0m5-341h0m16 331h0m23-4h0m16-146h0m7-15h0m6 112h0m10 35h0"/>
<path class="p" stroke="#2f6c8e" d="M3136 2190h0m14 50h0m16 4h0m18-15h0m6 31h0m1-16h0m11-6h0m1 169h0m3 4h0m5-33h0m13-84h0m2 166h0m6-30h0m4-80h0m8 113h0m1 87h0m10-247h0m2 303h0m15 30h0m5-349h0m10 380h0m14 36h0m7-3h0m41-6h0"/>
<path class="p" stroke="#2a788e" d="M3065 2250h0m38-69h0m6 60h0m27 481h0m5-544h0m9 67h0m2-43h0m0 120h0m4-8h0m7 403h0m1-459h0m1-56h0m7 143h0m4-197h0m8 98h0m2 21h0m2 15h0m3-88h0m0 114h0m1-77h0m0 454h0m2-85h0m0 33h0m1-137h0m2-87h0m2-147h0m5 139h0m3-160h0m0 305h0m3 37h0m7 101h0m5 27h0m7-447h0m0 281h0m3 56h0m12 89h0m7-6h0"/>
<path class="p" stroke="#25848e" d="M3028 2231h0m29 41h0m29-22h0m2-29h0m3 11h0m17-71h0m11 329h0m8-222h0m9 1h0m1 119h0m1 8h0m3-172h0m4-80h0m3 171h0m7-72h0m5 12h0m2-177h0m0 633h0m3-251h0m1-59h0m15 162h0m3-7h0m10-59h0m1 132h0m4-37h0m3-354h0m3 374h0m2 57h0m1-43h0"/>
<path class="p" stroke="#21918c" d="M3006 2292h0m10-40h0m9-167h0m16 177h0m5 464h0m6-480h0m1 0h0m21-72h0m0 78h0m2-20h0m0 463h0m2-255h0m1 281h0m12-455h0m1-18h0m0 206h0m1-194h0m1-39h0m4 505h0m3-459h0m0 1h0m5 340h0m2-293h0m3-100h0m2-10h0m0 253h0m2 108h0m0 44h0m2-420h0m4 157h0m2-65h0m1 57h0m0 341h0m1-167h0m3 110h0m1-209h0m5 145h0m1-337h0m5 412h0m7 16h0m8 18h0m7-1h0m27-69h0m4 44h0m38 58h0"/>
<path class="p" stroke="#1e9c89" d="M2953 2303h0m18-7h0m45-25h0m8 72h0m0 66h0m15-157h0m5 20h0m4-13h0m3 332h0m8-299h0m8 32h0m3 179h0m4-257h0m1 44h0m6-29h0m1-14h0m2-50h0m23 350h0m5 11h0m8 149h0m4 9h0m14-8h0m1-219h0m14 227h0m17 0h0"/>
<path class="p" stroke="#22a884" d="M2861 2392h0m54-137h0m9 62h0m53-3h0m9-27h0m4-35h0m3 42h0m7-22h0m2 95h0m4-198h0m5 198h0m1-86h0m7 190h0m2-144h0m6 51h0m12 89h0m1-52h0m7 105h0m5 68h0m8 85h0m1-461h0m8 486h0m2-3h0m1-338h0m7 312h0m7-354h0m0 212h0m2 159h0m13-39h0m0 52h0m17 0h0m55 18h0"/>
<path class="p" stroke="#2fb47c" d="M2928 2329h0m5 216h0m0 99h0m2-265h0m14-50h0m5 13h0m4 4h0m3-92h0m1 64h0m3-42h0m0 21h0m2 26h0m1 129h0m8-137h0m4 46h0m3-61h0m4-12h0m10 246h0m12 105h0m4-355h0m8 405h0m0 14h0m2-420h0m4 292h0m0 94h0m27 25h0m3 16h0m14 4h0m11-1h0"/>
<path class="p" stroke="#44bf70" d="M2827 2543h0m56-118h0m7 43h0m2-76h0m5 54h0m4-13h0m4-69h0m1 7h0m14 95h0m1 89h0m3 68h0m3-108h0m1-157h0m0 136h0m1-93h0m2 5h0m2-21h0m4 251h0m2-279h0m1 52h0m2-1h0m1 40h0m9-159h0m6 23h0m1 362h0m6-160h0m5-70h0m4 144h0m4 72h0m8 47h0m6-146h0m6-272h0m1 349h0m8 44h0m36 23h0"/>
<path class="p" stroke="#5ec962" d="M2891 2594h0m1-241h0m6 170h0m3-102h0m2 4h0m0 14h0m2-1h0m0 189h0m5-237h0m0 75h0m5 8h0m3-18h0m0 72h0m3-120h0m2 16h0m0 53h0m1 30h0m3-83h0m4-28h0m1 25h0m0 95h0m6 32h0m2 119h0m3-3h0m3-218h0m0 217h0m1-357h0m19 402h0m4-67h0m13-87h0m26 135h0"/>
<path class="p" stroke="#7ad151" d="M2820 2432h0m3 3h0m22-13h0m13 90h0m2-205h0m5 341h0m8 21h0m5-363h0m0 176h0m10 158h0m7-117h0m3-65h0m4-55h0m2-50h0m3 170h0m0 113h0m1-12h0m1-82h0m0 65h0m0 7h0m1-89h0m1-80h0m1 156h0m1-193h0m3 134h0m0 52h0m2-9h0m1 44h0m0 25h0m1-179h0m0 23h0m9 102h0m0 77h0m2-170h0m5 154h0m6 8h0m11-107h0"/>
<path class="p" stroke="#9bd93c" d="M2862 2570h0m1-111h0m24-17h0m1 97h0m9 156h0m3-16h0m1-150h0m4-37h0m1 178h0m18-141h0m7 137h0m4 37h0m5 7h0m18-40h0"/>
<path class="p" stroke="#bddf26" d="M2830 2484h0m8 0h0m0 52h0m8 0h0m12 2h0m8-70h0m6 68h0m1-54h0m1 203h0m1-220h0m1 227h0m3-106h0m1 20h0m7-23h0m13 40h0m6-36h0"/>
<path class="p" stroke="#dfe318" d="M2847 2464h0m13 84h0m21 66h0m9-22h0m15 27h0m2-43h0m7 53h0"/>
<path class="p" stroke="#fde725" d="M2846 2601h0m49 5h0"/>
</g>
<g>
<linearGradient id="gj" gradientUnits="userSpaceOnUse" x1="876.5" y1="3432.6" x2="1749.8" y2="3337.7"><stop offset="0%" stop-color="#24928e"/><stop offset="10%" stop-color="#24928e"/><stop offset="14.3%" stop-color="#24928e"/><stop offset="20%" stop-color="#24928e"/><stop offset="28.6%" stop-color="#24928e"/><stop offset="30%" stop-color="#258f8f"/><stop offset="40%" stop-color="#2d7b90"/><stop offset="50%" stop-color="#35668f"/><stop offset="52.4%" stop-color="#38618f"/><stop offset="60%" stop-color="#404f8c"/><stop offset="66.7%" stop-color="#473d85"/><stop offset="70%" stop-color="#493681"/><stop offset="76.2%" stop-color="#4b2777"/><stop offset="80%" stop-color="#4b1e6f"/><stop offset="85.7%" stop-color="#490f61"/><stop offset="90%" stop-color="#490f61"/><stop offset="100%" stop-color="#490f61"/></linearGradient>
<path fill="url(#gj)" stroke="url(#gj)" class="e" d="M1157 3185L1160 3183L1163 3182L1167 3181L1171 3180L1175 3179L1180 3178L1185 3178L1190 3177L1194 3177L1200 3178L1205 3178L1210 3179L1216 3179L1222 3180L1228 3181L1233 3182L1239 3183L1244 3184L1250 3185L1256 3186L1261 3187L1267 3189L1273 3190L1278 3191L1284 3192L1290 3193L1295 3194L1301 3195L1307 3196L1312 3197L1318 3198L1323 3200L1328 3202L1334 3204L1339 3206L1345 3208L1350 3211L1356 3213L1362 3216L1368 3218L1373 3220L1379 3222L1385 3224L1391 3225L1396 3227L1402 3229L1408 3230L1414 3232L1420 3233L1425 3234L1431 3235L1437 3236L1443 3237L1448 3237L1454 3238L1460 3238L1466 3239L1472 3239L1478 3239L1484 3239L1490 3240L1495 3240L1500 3240L1505 3241L1510 3241L1514 3242L1519 3242L1523 3243L1526 3244L1529 3245L1531 3246L1532 3247L1533 3249L1534 3252L1535 3255L1536 3260L1536 3264L1537 3269L1537 3274L1537 3279L1537 3284L1537 3289L1537 3295L1537 3300L1536 3306L1536 3312L1535 3318L1535 3324L1535 3329L1534 3335L1534 3341L1533 3346L1533 3352L1533 3358L1533 3364L1533 3369L1533 3375L1533 3381L1533 3387L1534 3392L1534 3398L1535 3404L1535 3409L1535 3415L1535 3420L1535 3426L1535 3432L1535 3437L1535 3443L1534 3448L1534 3453L1533 3458L1531 3463L1530 3467L1528 3472L1526 3476L1523 3481L1521 3485L1518 3490L1515 3495L1513 3499L1510 3504L1508 3509L1505 3513L1502 3517L1499 3522L1496 3526L1493 3530L1490 3534L1487 3538L1484 3542L1481 3546L1477 3550L1474 3554L1470 3557L1467 3561L1463 3565L1460 3569L1456 3573L1453 3577L1449 3580L1446 3584L1442 3587L1438 3590L1434 3592L1430 3595L1425 3597L1420 3599L1415 3601L1410 3603L1405 3605L1400 3607L1394 3608L1389 3610L1384 3611L1378 3612L1372 3613L1367 3614L1361 3615L1356 3616L1350 3616L1345 3616L1339 3617L1334 3617L1328 3617L1323 3617L1318 3616L1312 3616L1307 3615L1302 3613L1296 3612L1291 3610L1285 3609L1280 3607L1274 3605L1269 3602L1264 3600L1258 3598L1253 3595L1248 3593L1243 3590L1239 3587L1234 3584L1230 3581L1226 3577L1222 3574L1218 3570L1214 3567L1210 3563L1207 3558L1203 3554L1199 3550L1195 3546L1191 3541L1187 3537L1183 3532L1179 3528L1175 3524L1171 3519L1168 3514L1165 3510L1162 3505L1159 3500L1156 3495L1153 3490L1151 3485L1148 3480L1146 3475L1144 3470L1142 3465L1140 3459L1138 3454L1137 3448L1135 3442L1134 3437L1133 3431L1132 3426L1131 3421L1131 3415L1130 3410L1130 3404L1129 3398L1129 3393L1128 3387L1128 3381L1127 3375L1126 3370L1126 3364L1125 3358L1124 3353L1124 3348L1124 3342L1124 3337L1124 3331L1125 3326L1126 3320L1126 3315L1127 3309L1128 3304L1128 3298L1129 3292L1129 3286L1130 3280L1130 3275L1131 3269L1132 3264L1132 3258L1133 3253L1134 3248L1135 3242L1136 3237L1137 3232L1138 3227L1139 3222L1140 3218L1142 3214L1143 3209L1145 3205L1147 3200L1149 3197L1151 3193L1153 3190L1155 3187Z"/>
<clipPath id="cj"><path d="M1157 3185L1160 3183L1163 3182L1167 3181L1171 3180L1175 3179L1180 3178L1185 3178L1190 3177L1194 3177L1200 3178L1205 3178L1210 3179L1216 3179L1222 3180L1228 3181L1233 3182L1239 3183L1244 3184L1250 3185L1256 3186L1261 3187L1267 3189L1273 3190L1278 3191L1284 3192L1290 3193L1295 3194L1301 3195L1307 3196L1312 3197L1318 3198L1323 3200L1328 3202L1334 3204L1339 3206L1345 3208L1350 3211L1356 3213L1362 3216L1368 3218L1373 3220L1379 3222L1385 3224L1391 3225L1396 3227L1402 3229L1408 3230L1414 3232L1420 3233L1425 3234L1431 3235L1437 3236L1443 3237L1448 3237L1454 3238L1460 3238L1466 3239L1472 3239L1478 3239L1484 3239L1490 3240L1495 3240L1500 3240L1505 3241L1510 3241L1514 3242L1519 3242L1523 3243L1526 3244L1529 3245L1531 3246L1532 3247L1533 3249L1534 3252L1535 3255L1536 3260L1536 3264L1537 3269L1537 3274L1537 3279L1537 3284L1537 3289L1537 3295L1537 3300L1536 3306L1536 3312L1535 3318L1535 3324L1535 3329L1534 3335L1534 3341L1533 3346L1533 3352L1533 3358L1533 3364L1533 3369L1533 3375L1533 3381L1533 3387L1534 3392L1534 3398L1535 3404L1535 3409L1535 3415L1535 3420L1535 3426L1535 3432L1535 3437L1535 3443L1534 3448L1534 3453L1533 3458L1531 3463L1530 3467L1528 3472L1526 3476L1523 3481L1521 3485L1518 3490L1515 3495L1513 3499L1510 3504L1508 3509L1505 3513L1502 3517L1499 3522L1496 3526L1493 3530L1490 3534L1487 3538L1484 3542L1481 3546L1477 3550L1474 3554L1470 3557L1467 3561L1463 3565L1460 3569L1456 3573L1453 3577L1449 3580L1446 3584L1442 3587L1438 3590L1434 3592L1430 3595L1425 3597L1420 3599L1415 3601L1410 3603L1405 3605L1400 3607L1394 3608L1389 3610L1384 3611L1378 3612L1372 3613L1367 3614L1361 3615L1356 3616L1350 3616L1345 3616L1339 3617L1334 3617L1328 3617L1323 3617L1318 3616L1312 3616L1307 3615L1302 3613L1296 3612L1291 3610L1285 3609L1280 3607L1274 3605L1269 3602L1264 3600L1258 3598L1253 3595L1248 3593L1243 3590L1239 3587L1234 3584L1230 3581L1226 3577L1222 3574L1218 3570L1214 3567L1210 3563L1207 3558L1203 3554L1199 3550L1195 3546L1191 3541L1187 3537L1183 3532L1179 3528L1175 3524L1171 3519L1168 3514L1165 3510L1162 3505L1159 3500L1156 3495L1153 3490L1151 3485L1148 3480L1146 3475L1144 3470L1142 3465L1140 3459L1138 3454L1137 3448L1135 3442L1134 3437L1133 3431L1132 3426L1131 3421L1131 3415L1130 3410L1130 3404L1129 3398L1129 3393L1128 3387L1128 3381L1127 3375L1126 3370L1126 3364L1125 3358L1124 3353L1124 3348L1124 3342L1124 3337L1124 3331L1125 3326L1126 3320L1126 3315L1127 3309L1128 3304L1128 3298L1129 3292L1129 3286L1130 3280L1130 3275L1131 3269L1132 3264L1132 3258L1133 3253L1134 3248L1135 3242L1136 3237L1137 3232L1138 3227L1139 3222L1140 3218L1142 3214L1143 3209L1145 3205L1147 3200L1149 3197L1151 3193L1153 3190L1155 3187Z"/></clipPath><g clip-path="url(#cj)">
<radialGradient id="rj0"><stop offset="0" stop-color="#26a986" stop-opacity="0.8"/><stop offset="1" stop-color="#26a986" stop-opacity="0"/></radialGradient>
<circle cx="1189" cy="3179" r="198" fill="url(#rj0)"/>
<radialGradient id="rj1"><stop offset="0" stop-color="#88d54c" stop-opacity="0.7"/><stop offset="1" stop-color="#88d54c" stop-opacity="0"/></radialGradient>
<circle cx="1157" cy="3179" r="108" fill="url(#rj1)"/>
</g>
<path class="p" stroke="#440154" d="M1530 3258h0m6-20h0m0 48h0m3-40h0m10 23h0m22 79h0"/>
<path class="p" stroke="#471365" d="M1499 3266h0m34-7h0m3 16h0m1 181h0m0 32h0m3-231h0m4 144h0m5-59h0m2 30h0m4-99h0m0 119h0m2-117h0"/>
<path class="p" stroke="#482475" d="M1389 3215h0m48 13h0m2 362h0m6-361h0m10 133h0m3-120h0m11 331h0m8-22h0m15-322h0m11 13h0m4 122h0m2 159h0m6-30h0m2-167h0m5-18h0m5-19h0m0 93h0m1 38h0m1-51h0m0 96h0m2-104h0m1-70h0m0 120h0m1-4h0m1 7h0m2 30h0m1-215h0m0 67h0m1 136h0m2-78h0m4 49h0m1 14h0m0 12h0m3 32h0m4-177h0m1-13h0m4 123h0m2-8h0m6-80h0m2-30h0m1 172h0"/>
<path class="p" stroke="#463480" d="M1370 3222h0m68 3h0m3 362h0m5-299h0m0 303h0m5-205h0m3-22h0m1-128h0m1 269h0m5-51h0m0 125h0m3-5h0m6-330h0m0 348h0m1-342h0m0 141h0m4-118h0m0 105h0m2 174h0m2-104h0m1-145h0m0 121h0m0 173h0m3-54h0m1-210h0m0 225h0m5-317h0m1 290h0m5-310h0m3 325h0m3-136h0m3 104h0m1-250h0m0 65h0m2 53h0m0 177h0m1-99h0m2-60h0m8 87h0m1-237h0m7 202h0m1-211h0m1 146h0m1-81h0m1 132h0m0 55h0m1-28h0m4 1h0m1-195h0m1 121h0m3-46h0m2 53h0m4-88h0m1-6h0m0 176h0"/>
<path class="p" stroke="#414487" d="M1352 3287h0m14 341h0m10-405h0m9 91h0m4-102h0m3 164h0m2-29h0m4 258h0m1-296h0m1 205h0m11-266h0m1-8h0m9 152h0m1 179h0m3-158h0m1 171h0m2-224h0m0 239h0m1-362h0m3 264h0m3 46h0m1-231h0m2 274h0m0 16h0m10-39h0m3 8h0m1-342h0m0 351h0m1-91h0m1 77h0m5-326h0m0 71h0m5 244h0m1-60h0m1-253h0m1 130h0m0 136h0m7 31h0m4-12h0m3 40h0m9-5h0m2-322h0m0 105h0m0 31h0m14 135h0m4-2h0m13-262h0m1-6h0m12 226h0m14-6h0m15 9h0"/>
<path class="p" stroke="#3b528b" d="M1328 3192h0m10 111h0m0 122h0m3 14h0m4-39h0m2 128h0m7-307h0m1 398h0m3-386h0m5-30h0m1 411h0m2 1h0m1-394h0m1 284h0m2-240h0m3 350h0m1-180h0m13 172h0m2-384h0m7 18h0m7 170h0m1 197h0m2-243h0m0 257h0m19-270h0m1 26h0m4-151h0m5 367h0m7-161h0m12 176h0m7-113h0m5 75h0m19-6h0"/>
<path class="p" stroke="#355f8d" d="M1208 3565h0m11-3h0m33 34h0m42-171h0m7-156h0m13 174h0m1 163h0m6-247h0m5 248h0m1-210h0m0 0h0m2 7h0m1 180h0m1-310h0m1 347h0m5-197h0m1-72h0m0 51h0m1 218h0m3-420h0m0 0h0m2 102h0m0 158h0m8-23h0m2-221h0m2 259h0m2-255h0m2 357h0m0 16h0m2-67h0m5 110h0m10-16h0m2-403h0m3 379h0m2-41h0m5 60h0m2-394h0m3 394h0m10-6h0m45-40h0m1 22h0m59-92h0"/>
<path class="p" stroke="#2f6c8e" d="M1204 3565h0m27 38h0m5 10h0m3-14h0m5-191h0m10-31h0m11 201h0m7-136h0m2 0h0m7 70h0m0 66h0m6-107h0m3 5h0m1-110h0m1 236h0m7 0h0m3-3h0m3-144h0m5-252h0m2 95h0m3 54h0m2 246h0m2-398h0m2 155h0m3-21h0m1 285h0m7-410h0m2 399h0m6-149h0m3 127h0m11-9h0m8-363h0m6-17h0m2 147h0"/>
<path class="p" stroke="#2a788e" d="M1100 3527h0m26-104h0m3-18h0m59 133h0m7-104h0m1 100h0m1 24h0m8 7h0m2-148h0m4-132h0m8 87h0m0 49h0m3 69h0m2-80h0m0 35h0m2 132h0m1 24h0m1-229h0m3 11h0m0 188h0m4-130h0m2 159h0m4-338h0m0 359h0m3-326h0m1 261h0m1 22h0m6-193h0m6 215h0m1-159h0m3 30h0m4 33h0m2-338h0m0 435h0m2 4h0m1-155h0m2 149h0m1-133h0m6 140h0m1-122h0m2-164h0m10 297h0m2-29h0m2-215h0m12 174h0m3-311h0m4 28h0m2 363h0m8-434h0m1 424h0m1-407h0m4 403h0m26-401h0"/>
<path class="p" stroke="#25848e" d="M1079 3380h0m9 50h0m5-69h0m4 84h0m2-97h0m4-30h0m0 105h0m1-101h0m5 115h0m4 49h0m1-67h0m3 7h0m1-128h0m5 137h0m3-92h0m0 49h0m3-146h0m1 45h0m8 184h0m8 4h0m3-113h0m17 135h0m1 31h0m1-7h0m4-70h0m4-8h0m3-105h0m0 204h0m5-6h0m3 13h0m15-20h0m2 89h0m2-259h0m1 124h0m2 96h0m4 1h0m1-27h0m0 54h0m4 9h0m4-44h0m8 8h0m1-274h0m0 59h0m3 111h0m6 104h0m4 16h0m2-3h0m1-359h0m2 355h0m1-18h0m1-278h0m3 333h0m2-362h0m11-62h0m1 21h0m4-35h0"/>
<path class="p" stroke="#21918c" d="M1060 3322h0m22 36h0m6 75h0m16 68h0m3-205h0m1 82h0m0 28h0m3-6h0m1 117h0m4-168h0m1 160h0m4-186h0m4 57h0m1-95h0m2 9h0m0 6h0m0 137h0m1 62h0m1-210h0m0 62h0m0 111h0m4-167h0m0 166h0m1-112h0m1-31h0m0 184h0m2-250h0m3 244h0m2-8h0m2-116h0m5 126h0m3 34h0m2-37h0m1 15h0m1 13h0m0 4h0m1-42h0m2-145h0m1 212h0m12-76h0m4-91h0m1 168h0m1-11h0m3-240h0m0 265h0m9-211h0m3-85h0m14 287h0m2-20h0m14-244h0m4 292h0m2-320h0m5 319h0m9-421h0m2 21h0m24-4h0m2 10h0m18 409h0m34 31h0"/>
<path class="p" stroke="#1e9c89" d="M1050 3467h0m29 79h0m14-249h0m10-7h0m1 114h0m0 101h0m1-264h0m1 89h0m2-4h0m5-48h0m1 70h0m2-7h0m1-34h0m2 0h0m2 17h0m2 11h0m0 73h0m1-155h0m1 77h0m2-25h0m1 0h0m1-36h0m0 38h0m1-60h0m3 45h0m7 187h0m2-131h0m1 142h0m7-184h0m14 230h0m11 21h0m34 13h0m7-393h0m3 42h0m10-70h0m2 25h0m13 9h0"/>
<path class="p" stroke="#22a884" d="M1090 3306h0m2-15h0m8 182h0m9-255h0m11 57h0m1 133h0m5-69h0m2-103h0m16-32h0m1 66h0m15-94h0m20-15h0m44 20h0m3-7h0m4 11h0m9-2h0m7-5h0"/>
<path class="p" stroke="#2fb47c" d="M1081 3255h0m7 287h0m14-317h0m11-37h0m20 58h0m6-7h0m3-3h0m14-52h0m16 47h0m24-18h0"/>
<path class="p" stroke="#44bf70" d="M1115 3426h0m11-190h0m15 40h0m4-84h0m5 20h0m11-34h0m3 11h0m3-8h0m10-30h0m9 52h0m9-42h0"/>
<path class="p" stroke="#5ec962" d="M1122 3175h0m11 13h0m14-8h0m2-11h0m20 27h0m5-34h0"/>
<path class="p" stroke="#7ad151" d="M1150 3184h0m5 0h0m9-20h0m8 15h0m0 14h0m22 19h0m5-41h0m3 1h0"/>
<path class="p" stroke="#9bd93c" d="M1138 3250h0m8-72h0m0 4h0m17 41h0m1-56h0m7-15h0m6 51h0m0 5h0m5 13h0m1-16h0m7-1h0m3 16h0"/>
<path class="p" stroke="#bddf26" d="M1141 3230h0m1 16h0m12-79h0"/>
<path class="p" stroke="#dfe318" d="M1138 3235h0"/>
<path class="p" stroke="#440154" d="M1534 3415h0m6-146h0m7 28h0m5-46h0m49 60h0"/>
<path class="p" stroke="#471365" d="M1489 3235h0m5 10h0m24 246h0m14-239h0m1-9h0m4 104h0m3 117h0m1-185h0m1 14h0m1 79h0m1 74h0m1-101h0m0 86h0m1-145h0m5 63h0m9-29h0m0 104h0m3 12h0m4-146h0m2-7h0m0 84h0m2-29h0m6-15h0m9 38h0m17 22h0m2 7h0m17 6h0m3-80h0"/>
<path class="p" stroke="#482475" d="M1450 3584h0m8-335h0m22 84h0m3 195h0m6-219h0m9 64h0m9 128h0m8 16h0m0 26h0m3-314h0m8 234h0m2-55h0m3-152h0m0 130h0m0 34h0m3 30h0m1-201h0m2 224h0m1-102h0m2-107h0m1 108h0m1-67h0m0 67h0m3-71h0m1 16h0m4 77h0m1 200h0m1-121h0m1-91h0m0 5h0m2-50h0m4 28h0m5 9h0m1 10h0m2 60h0m2-11h0m5-112h0m14 151h0m14-195h0m5 70h0m22 177h0m12-20h0m13-34h0m1 29h0"/>
<path class="p" stroke="#463480" d="M1456 3283h0m0 324h0m2-335h0m0 337h0m4-295h0m19-25h0m3 43h0m3 115h0m2-207h0m1-12h0m1 123h0m0 101h0m0 120h0m4-89h0m11-222h0m1-27h0m3 145h0m6 49h0m0 93h0m1-110h0m1-124h0m4 7h0m1 173h0m3-15h0m5-166h0m4 132h0m0 52h0m4-192h0m1 214h0m4-137h0m5-33h0m2 144h0m2 19h0m4-117h0m1 92h0m5 43h0m15-104h0m11 37h0m55-145h0"/>
<path class="p" stroke="#414487" d="M1395 3613h0m1-381h0m1 253h0m1-221h0m1 127h0m2-153h0m0 369h0m10-304h0m1 52h0m3 4h0m3-140h0m2 10h0m3 373h0m1-234h0m7-117h0m1 86h0m2 62h0m2 82h0m6-95h0m1 205h0m5 27h0m1-379h0m3 265h0m2-269h0m0 270h0m1 76h0m13-307h0m8 102h0m1-13h0m3 232h0m2-29h0m6-5h0m20-36h0m8-33h0m6-83h0m1 55h0m2 13h0m5-152h0m13 36h0"/>
<path class="p" stroke="#3b528b" d="M1335 3639h0m2-361h0m25 126h0m0 214h0m1-167h0m1-155h0m1 113h0m1-194h0m0 379h0m1-62h0m6-146h0m3-138h0m0 212h0m3-179h0m1 16h0m6 73h0m3-49h0m2 42h0m1-94h0m6 230h0m4-277h0m1 303h0m4-93h0m8 98h0m11-97h0m5-203h0m4 377h0m14-21h0m5 30h0m6-28h0m7 21h0m5-17h0"/>
<path class="p" stroke="#355f8d" d="M1275 3625h0m2-192h0m4 37h0m12 150h0m3-423h0m2 403h0m8-229h0m4 154h0m3-229h0m14 80h0m4-60h0m2 51h0m6-122h0m0 214h0m1 96h0m6-162h0m1 190h0m1-92h0m1-288h0m1 85h0m0 347h0m2-253h0m6-176h0m1 134h0m1 122h0m0 186h0m1-26h0m0 25h0m5-255h0m1 71h0m2 152h0m1-262h0m1 257h0m1 10h0m3-148h0m15-40h0m5 55h0m1-276h0m10 314h0"/>
<path class="p" stroke="#2f6c8e" d="M1072 3500h0m13 1h0m121 64h0m53-167h0m11 218h0m23-230h0m5-213h0m7 146h0m1-56h0m3-52h0m0 425h0m2-321h0m12-102h0m0 419h0m1-218h0m1-172h0m6 268h0m4-175h0m4 297h0m9 12h0m19-33h0m0 16h0m5-7h0m28-395h0"/>
<path class="p" stroke="#2a788e" d="M1055 3457h0m2-31h0m0 68h0m6-188h0m18 228h0m4-11h0m11-202h0m10 211h0m25-97h0m4 3h0m10 143h0m4-78h0m2 138h0m6-9h0m15-105h0m8-39h0m1 85h0m33-8h0m4 14h0m2-1h0m1-4h0m4 63h0m1-123h0m2 167h0m5-109h0m6-172h0m12-96h0m4 116h0m1-159h0m0 100h0m2 50h0m0 197h0m1-123h0m3 151h0m2-445h0m1 393h0m7-261h0m4 209h0m14-268h0m0 191h0m2-212h0m0 16h0m0 351h0m1-424h0m8 443h0m19-409h0m13 451h0m3-38h0m13-101h0"/>
<path class="p" stroke="#25848e" d="M1066 3292h0m0 30h0m2 75h0m2-28h0m1-16h0m2 175h0m6-57h0m12-174h0m2 94h0m4-17h0m0 61h0m4-52h0m2 39h0m1 206h0m2-161h0m9-69h0m7-111h0m2 32h0m0 110h0m1 81h0m1-161h0m7 86h0m2 132h0m1-92h0m9 7h0m3-31h0m6-156h0m6 296h0m4 57h0m3-231h0m0 165h0m8-107h0m2 51h0m3 13h0m0 25h0m1-231h0m4-42h0m7 233h0m0 80h0m4-4h0m4-151h0m12 159h0m13-279h0m1 124h0m9-176h0m13 355h0m16-378h0m4 386h0m1-350h0m6 329h0m14-444h0m52 467h0"/>
<path class="p" stroke="#21918c" d="M941 3622h0m48-117h0m5 136h0m4-290h0m4 39h0m10 80h0m0 62h0m15-4h0m2-185h0m4 31h0m6 107h0m7 118h0m5-171h0m5-95h0m0 19h0m28-17h0m3 245h0m2-131h0m1-135h0m2 253h0m2-222h0m0 101h0m3-179h0m1 118h0m6-20h0m8 82h0m1-43h0m1 83h0m1 19h0m1-187h0m8 123h0m1 37h0m0 23h0m2-234h0m0 1h0m4 76h0m1 55h0m0 29h0m1-42h0m1-105h0m0 187h0m0 22h0m1-37h0m1 147h0m3-129h0m1-17h0m0 158h0m6-156h0m0 36h0m0 59h0m1-181h0m4-75h0m5 11h0m1 158h0m3-31h0m4 120h0m5-271h0m1 31h0m1 113h0m0 102h0m0 121h0m9-41h0m11-329h0m13 272h0m2 129h0m11-412h0m6 349h0m5-2h0m1-295h0m17-139h0m0 52h0m8 434h0m21-482h0"/>
<path class="p" stroke="#1e9c89" d="M1067 3486h0m11-91h0m6-48h0m10 117h0m9 127h0m3-321h0m0 200h0m4 20h0m2-188h0m2 273h0m1-220h0m1-113h0m8 31h0m9-25h0m2 63h0m3-67h0m2 32h0m2 216h0m8-47h0m10 119h0m1-83h0m29 78h0m38-381h0m7 54h0m1-63h0m4 49h0m33-19h0m61-16h0m18 2h0"/>
<path class="p" stroke="#22a884" d="M1070 3334h0m4 15h0m18-44h0m28 189h0m1-247h0m0 339h0m3-351h0m6 343h0m6-320h0m10-45h0m3-38h0m2 445h0m8-39h0m34-364h0m1 369h0m7-425h0m14-7h0m2 25h0m30 9h0m60-18h0"/>
<path class="p" stroke="#2fb47c" d="M1131 3192h0m3 48h0m1-10h0m1-20h0m3 13h0m6 27h0m14-35h0m35-29h0m0 17h0m1 21h0m8-58h0m8 29h0m66-38h0"/>
<path class="p" stroke="#44bf70" d="M1135 3187h0m12-24h0m4 41h0m4-23h0m1 30h0m9-39h0m16 0h0m1 18h0m75-24h0m29 9h0"/>
<path class="p" stroke="#5ec962" d="M1133 3210h0m5-31h0m1 10h0m5-8h0m2 26h0m4-46h0m7 34h0m1-38h0m7 3h0m63-1h0"/>
<path class="p" stroke="#7ad151" d="M1099 3179h0m20-49h0m12 16h0m8 48h0m2 40h0m1-88h0m9 0h0m0 39h0m2 6h0m7-14h0m15 34h0m27 0h0m9-83h0m10 20h0"/>
<path class="p" stroke="#9bd93c" d="M1112 3125h0m26 2h0m1 69h0m3-97h0m17 140h0m3-70h0m1-50h0m21 63h0m3 17h0m17-22h0"/>
<path class="p" stroke="#bddf26" d="M1085 3170h0m6-29h0m1-58h0m3 81h0m11 34h0m3-87h0m3 411h0m18-276h0m2-15h0m27 9h0"/>
<path class="p" stroke="#dfe318" d="M1155 3248h0"/>
<path class="p" stroke="#fde725" d="M1062 3083h0m8-52h0m0 29h0m0 40h0m5 16h0m1 13h0m2-26h0"/>
</g>
<g>
<linearGradient id="gk" gradientUnits="userSpaceOnUse" x1="1817" y1="3642.8" x2="2698.4" y2="3246.2"><stop offset="0%" stop-color="#4a2d7c"/><stop offset="10%" stop-color="#4a2d7c"/><stop offset="15.4%" stop-color="#4a2d7c"/><stop offset="20%" stop-color="#464086"/><stop offset="25.6%" stop-color="#3e558d"/><stop offset="30%" stop-color="#346a90"/><stop offset="35.9%" stop-color="#288690"/><stop offset="40%" stop-color="#268d8f"/><stop offset="46.2%" stop-color="#23978d"/><stop offset="50%" stop-color="#229a8c"/><stop offset="60%" stop-color="#22a18a"/><stop offset="64.1%" stop-color="#23a588"/><stop offset="70%" stop-color="#3bba79"/><stop offset="76.9%" stop-color="#70cf5b"/><stop offset="80%" stop-color="#8dd649"/><stop offset="84.6%" stop-color="#bedf29"/><stop offset="90%" stop-color="#bedf29"/><stop offset="100%" stop-color="#bedf29"/></linearGradient>
<path fill="url(#gk)" stroke="url(#gk)" class="e" d="M2186 3204L2190 3202L2195 3201L2200 3199L2204 3198L2209 3197L2214 3196L2219 3196L2224 3196L2229 3195L2234 3196L2239 3196L2244 3196L2248 3197L2253 3198L2258 3199L2263 3200L2267 3201L2272 3202L2276 3204L2280 3206L2285 3207L2289 3209L2293 3211L2298 3213L2302 3215L2307 3217L2311 3219L2316 3221L2320 3224L2325 3226L2329 3228L2333 3231L2337 3233L2341 3236L2345 3239L2349 3241L2353 3244L2356 3247L2360 3250L2364 3253L2368 3256L2372 3259L2376 3262L2380 3265L2384 3267L2388 3270L2392 3273L2397 3276L2401 3279L2406 3281L2411 3283L2415 3285L2420 3287L2424 3290L2429 3292L2433 3294L2437 3297L2441 3299L2445 3302L2449 3304L2453 3307L2457 3310L2460 3312L2463 3315L2465 3318L2468 3322L2470 3325L2473 3329L2475 3332L2476 3336L2478 3340L2479 3344L2481 3349L2482 3353L2482 3358L2483 3363L2483 3368L2484 3373L2484 3378L2484 3383L2483 3387L2482 3392L2482 3397L2481 3402L2479 3407L2478 3412L2476 3417L2475 3421L2473 3426L2471 3430L2469 3435L2467 3439L2465 3443L2462 3448L2460 3452L2457 3456L2455 3460L2452 3464L2450 3468L2447 3472L2444 3476L2442 3480L2439 3483L2436 3487L2432 3490L2429 3494L2425 3497L2421 3500L2417 3503L2413 3507L2409 3510L2405 3513L2401 3516L2397 3519L2392 3522L2388 3525L2383 3528L2379 3530L2375 3533L2370 3535L2365 3537L2361 3539L2356 3541L2351 3542L2346 3544L2341 3545L2336 3547L2331 3548L2326 3549L2320 3550L2315 3550L2309 3551L2304 3551L2298 3552L2292 3552L2287 3552L2281 3552L2276 3553L2270 3553L2264 3553L2259 3553L2253 3553L2248 3552L2242 3552L2237 3552L2231 3552L2225 3551L2220 3551L2214 3550L2209 3550L2203 3549L2198 3548L2193 3547L2188 3545L2183 3544L2178 3542L2173 3541L2168 3539L2164 3537L2159 3535L2154 3533L2150 3530L2145 3528L2141 3525L2136 3522L2132 3519L2128 3516L2124 3513L2121 3510L2117 3506L2114 3503L2110 3499L2107 3495L2104 3492L2101 3488L2099 3483L2097 3479L2095 3475L2093 3470L2091 3465L2089 3460L2088 3455L2087 3450L2086 3445L2085 3440L2085 3436L2085 3431L2085 3426L2085 3421L2086 3416L2086 3411L2086 3406L2086 3401L2087 3396L2087 3391L2088 3386L2088 3381L2089 3376L2090 3371L2091 3366L2091 3361L2092 3356L2093 3351L2094 3346L2096 3341L2097 3336L2098 3331L2099 3326L2101 3322L2102 3317L2104 3313L2105 3308L2107 3304L2109 3300L2111 3295L2113 3291L2115 3286L2117 3282L2119 3277L2121 3273L2123 3268L2125 3264L2128 3260L2130 3256L2133 3252L2136 3248L2139 3244L2142 3240L2146 3236L2149 3232L2153 3229L2156 3225L2160 3222L2163 3219L2167 3216L2171 3213L2174 3210L2178 3208L2182 3206Z"/>
<path class="p" stroke="#414487" d="M2038 3497h0"/>
<path class="p" stroke="#3b528b" d="M2015 3510h0m12 15h0m23 20h0m39-22h0m18-12h0"/>
<path class="p" stroke="#355f8d" d="M2048 3451h0m13 37h0m6-38h0m3 74h0m23 19h0"/>
<path class="p" stroke="#2f6c8e" d="M2062 3453h0m1-17h0m6 97h0m6-70h0m2-8h0m12 106h0m2-40h0m9-54h0m0 26h0m1 11h0m5 4h0m2 7h0m2-15h0m17 33h0m6 24h0m6-4h0m0 3h0"/>
<path class="p" stroke="#2a788e" d="M2040 3462h0m12-76h0m13 50h0m3-35h0m1-4h0m15 81h0m1 12h0m2-163h0m2 142h0m2 1h0m3-229h0m2 175h0m3 73h0m4-94h0m2 119h0m5-126h0m1 89h0m3-170h0m2 204h0m17 24h0m15-40h0m4 54h0m6-31h0m5 30h0m14 45h0m11-49h0m1 15h0m7 11h0m38-16h0"/>
<path class="p" stroke="#25848e" d="M2042 3419h0m15 18h0m4-105h0m5 49h0m1-46h0m10 37h0m2-17h0m5 42h0m2 4h0m1 89h0m1-164h0m1-2h0m0 50h0m1 36h0m1-69h0m1-61h0m2 77h0m1 107h0m9-139h0m3-62h0m4 94h0m1-45h0m0 113h0m2 66h0m1-93h0m7-60h0m4-115h0m1 301h0m1-295h0m0 295h0m11-80h0m14 104h0m0 2h0m2-25h0m2-172h0m3 180h0m2-317h0m1 364h0m2-54h0m4-142h0m1 113h0m3-277h0m6 359h0m5-63h0m9 67h0m6-396h0m1 316h0m0 38h0m17-38h0m6 97h0m2-56h0m55-359h0m46 373h0m46-8h0m29-4h0m35-52h0"/>
<path class="p" stroke="#21918c" d="M2076 3412h0m23-61h0m1-98h0m0 164h0m2-150h0m3 31h0m6-24h0m4-19h0m3-11h0m1 20h0m1 68h0m0 53h0m5 54h0m4-25h0m1-50h0m0 56h0m4-138h0m1 159h0m2 86h0m1-123h0m3-17h0m3-45h0m1-140h0m4 10h0m0 238h0m1-200h0m3 248h0m12-70h0m4 25h0m8-239h0m1 99h0m0 137h0m4-117h0m6-132h0m1 290h0m1-292h0m3 187h0m0 178h0m3-34h0m2-64h0m1-79h0m2 58h0m4 94h0m3-98h0m1-22h0m2 131h0m1-7h0m2 10h0m2-3h0m4 54h0m3-53h0m4-105h0m1 106h0m3-4h0m1-197h0m4 223h0m3 13h0m1-298h0m5 92h0m3 59h0m3-96h0m8 69h0m8-216h0m0 415h0m2-126h0m0 69h0m2 2h0m25-13h0m0 17h0m16-94h0m10 74h0m8-50h0m0 56h0m19-18h0m3 25h0m3-7h0m12 0h0m26 8h0m6-46h0m45-19h0"/>
<path class="p" stroke="#1e9c89" d="M2076 3273h0m10 102h0m1 4h0m8-138h0m0 149h0m15-89h0m6-46h0m1-44h0m6 57h0m8-11h0m1-33h0m4 20h0m11-3h0m0 84h0m7-18h0m1-80h0m7-4h0m8 134h0m2 178h0m7-321h0m0 160h0m2-40h0m1-7h0m2 239h0m0 7h0m2-22h0m4-352h0m1 378h0m1-217h0m1-122h0m0 10h0m1-17h0m1-40h0m5 120h0m1-83h0m0 171h0m1-61h0m1 35h0m8-147h0m5 160h0m5-92h0m3-113h0m0 29h0m0 38h0m2-47h0m3 120h0m3-172h0m1 24h0m7 13h0m3 301h0m1 58h0m1-337h0m0 141h0m2 67h0m2 160h0m1-233h0m2-165h0m4 398h0m1-212h0m6 36h0m1 147h0m2-294h0m1-57h0m2 106h0m5-96h0m0 52h0m0 287h0m2-336h0m5 58h0m1 42h0m1-15h0m3 211h0m1-201h0m2 281h0m1-405h0m0 356h0m1-114h0m0 112h0m2 17h0m1-218h0m0 215h0m2-141h0m1-138h0m0 105h0m1 26h0m0 7h0m3-2h0m0 199h0m1-7h0m4-327h0m17-8h0m1 150h0m2-68h0m3 247h0m4-169h0m4-70h0m0 115h0m3 60h0m11-296h0m1 246h0m2-27h0m1 80h0m4-89h0m3 15h0m0 20h0m2 55h0m5 10h0m7-88h0m3 5h0m1-2h0m5 27h0m6 33h0m1-117h0m4 62h0m1-72h0m3 156h0m11-3h0m7-51h0m0 45h0m9-43h0m21-31h0m7 27h0"/>
<path class="p" stroke="#22a884" d="M2110 3305h0m57-51h0m3-35h0m2-46h0m0 0h0m5 30h0m4-23h0m17-19h0m8 116h0m7-72h0m6 85h0m5-74h0m16 343h0m2-368h0m17-22h0m3 404h0m13-196h0m3 168h0m4-366h0m0 1h0m2 26h0m2 72h0m1 31h0m1-124h0m2 30h0m4 24h0m6 190h0m1-56h0m2-66h0m3-18h0m1-6h0m4-84h0m4 360h0m1-344h0m1 24h0m1-5h0m1-23h0m2 7h0m3 333h0m1-284h0m0 39h0m1-66h0m4 154h0m3-173h0m3-1h0m0 40h0m0 280h0m7-138h0m1-170h0m2 95h0m1-11h0m1-67h0m0 294h0m6-240h0m2 154h0m0 111h0m7-179h0m1 157h0m8-174h0m7 179h0m5-175h0m3-61h0m2 47h0m12 82h0m5 56h0m1 23h0m2-124h0m1 103h0m9 5h0m3-37h0m2 54h0m4-22h0m6 32h0m9-70h0m3 68h0m2-97h0m2 32h0m13 9h0m1-8h0m8 13h0"/>
<path class="p" stroke="#2fb47c" d="M2180 3205h0m32-18h0m12 0h0m3 4h0m40-14h0m2 14h0m24-3h0m24 10h0m18 37h0m22-12h0m12 50h0m2-21h0m0 315h0m2-274h0m1 41h0m3-14h0m1-63h0m12 51h0m11-55h0m1 12h0m1 18h0m2 250h0m1-224h0m1 50h0m16 163h0m34-130h0m12 30h0m13 11h0m16 32h0"/>
<path class="p" stroke="#44bf70" d="M2317 3213h0m0 1h0m22 25h0m9-7h0m6-2h0m6-3h0m6 15h0m22-12h0m4 47h0m9 39h0m11-38h0m19-5h0m7 39h0m0 90h0m6 13h0m2-76h0m2 82h0m1-117h0m7 10h0m3 1h0m1 81h0m2 37h0m1-91h0m0 91h0m2-7h0m0 42h0m1-27h0m3-138h0m2 144h0m5-53h0m3-12h0m4-41h0m5 29h0m1 49h0m4-17h0"/>
<path class="p" stroke="#5ec962" d="M2364 3238h0m47 8h0m8 30h0m20 20h0m11 16h0m18 5h0m3-24h0m9 22h0m7 45h0m8 16h0"/>
<path class="p" stroke="#7ad151" d="M2400 3236h0m7 48h0m12 0h0m28 18h0m7 5h0m16 27h0m3 11h0m12-19h0m18 65h0m8-52h0"/>
<path class="p" stroke="#9bd93c" d="M2449 3325h0m2 26h0m1-42h0m0 11h0m2-13h0m8 33h0m4-62h0m17 7h0m4 108h0"/>
<path class="p" stroke="#bddf26" d="M2450 3344h0m11-29h0m44 19h0"/>
<path class="p" stroke="#440154" d="M2081 3593h0"/>
<path class="p" stroke="#471365" d="M1978 3509h0"/>
<path class="p" stroke="#482475" d="M1879 3515h0m15 23h0m149 35h0m23-86h0m1 37h0m49-5h0m4 68h0m18-78h0m18 129h0m18-49h0m7-3h0"/>
<path class="p" stroke="#463480" d="M1931 3508h0m110-56h0m44 189h0m16-67h0"/>
<path class="p" stroke="#414487" d="M1938 3519h0m36 23h0m48-132h0m46 9h0m44 262h0m39-22h0m15-9h0m9 9h0m20-41h0"/>
<path class="p" stroke="#3b528b" d="M1964 3483h0m10 11h0m89 80h0m11-5h0"/>
<path class="p" stroke="#355f8d" d="M1968 3487h0m56 26h0m4-27h0m8-59h0m4-4h0m5-36h0m4 28h0m1 4h0m10 43h0m7-5h0m19 120h0m3-90h0m27 139h0m45-49h0"/>
<path class="p" stroke="#2f6c8e" d="M1959 3536h0m14-121h0m36 18h0m1-46h0m25 15h0m3-17h0m0 172h0m9-101h0m6-126h0m18 35h0m4-32h0m0 80h0m2 11h0m7 77h0m19 39h0m53 54h0m11-23h0"/>
<path class="p" stroke="#2a788e" d="M1982 3519h0m20-25h0m13 34h0m10-83h0m7 17h0m17-81h0m2 43h0m10 49h0m9-143h0m3-13h0m3 160h0m1 87h0m2-45h0m1-60h0m1-146h0m3 103h0m1-112h0m0 160h0m4-68h0m0 83h0m1 5h0m2-27h0m2-156h0m1 177h0m10 6h0m4-174h0m5 194h0m5-8h0m0 24h0m7 13h0m1 21h0m7-3h0m9-19h0m2-3h0m3-42h0m0 31h0m38 31h0m3-3h0m2 5h0m12 51h0m7-29h0m5 47h0m23-21h0m23 9h0"/>
<path class="p" stroke="#25848e" d="M1975 3449h0m87-34h0m16-112h0m6-50h0m6 101h0m7-50h0m2-19h0m0 23h0m1 41h0m0 80h0m4-85h0m1-5h0m2 165h0m5-208h0m1 15h0m2 220h0m1-221h0m1 113h0m4-20h0m4-127h0m1 304h0m2-208h0m1-131h0m1 113h0m2-90h0m4 140h0m2 76h0m3 31h0m11-45h0m7 113h0m7-45h0m2 41h0m4-45h0m6-317h0m3 254h0m22 76h0m5-65h0m2 53h0m23 16h0m0 12h0m22 23h0m15 15h0m15-28h0m25 4h0m42 68h0"/>
<path class="p" stroke="#21918c" d="M1988 3124h0m15-58h0m15 12h0m5 13h0m7 21h0m9 80h0m1-107h0m2 278h0m1-216h0m13 213h0m1-65h0m4 2h0m3-132h0m2 173h0m1 8h0m0 83h0m2-119h0m2-117h0m7-162h0m1 247h0m3-115h0m1 252h0m7-102h0m1-34h0m2 72h0m1-8h0m5-261h0m1 383h0m6-63h0m1-112h0m2-30h0m1-2h0m0 35h0m3-87h0m0 87h0m4-8h0m1 50h0m2-138h0m1 90h0m2-64h0m4 37h0m3-17h0m0 90h0m4-77h0m16 247h0m5 36h0m1 10h0m1 13h0m1-120h0m4-92h0m0 174h0m4-165h0m2 13h0m1-48h0m4 81h0m3-14h0m2-221h0m2 30h0m4 6h0m1-54h0m2-14h0m3 391h0m2 25h0m1-143h0m1-128h0m0 120h0m7-157h0m4 163h0m2 142h0m1-113h0m3-201h0m4-72h0m0 192h0m2-175h0m4 363h0m1-146h0m0 50h0m0 102h0m1 28h0m3-417h0m2 420h0m7-280h0m2-137h0m1 36h0m6 305h0m2-333h0m2 153h0m0 226h0m1-305h0m4-63h0m2-38h0m1 243h0m2 122h0m3 47h0m1-408h0m0 11h0m11 410h0m1 4h0m1-341h0m3-61h0m2 413h0m1-196h0m2 97h0m4-305h0m4 270h0m3-102h0m1 252h0m0 36h0m7-329h0m1 303h0m2-140h0m21 105h0m3 2h0m9-97h0m0 68h0m12-343h0m2 348h0m1 9h0m9-60h0m6 44h0m3-75h0m3 79h0m10-131h0m7 127h0m5-8h0m4 45h0m28-83h0m1-233h0m60 3h0"/>
<path class="p" stroke="#1e9c89" d="M2097 3320h0m19-77h0m6 22h0m4 13h0m2-52h0m14 92h0m4-16h0m1-72h0m16 47h0m13-47h0m5 63h0m6-108h0m3 5h0m1 263h0m1-134h0m3 230h0m0 8h0m1-227h0m7 71h0m2-100h0m0 254h0m4-373h0m7 18h0m2 198h0m2-139h0m8 1h0m7 188h0m8-262h0m2 100h0m9-95h0m4 263h0m1-77h0m0 31h0m2-1h0m1-13h0m2-176h0m4 156h0m2-194h0m2 254h0m5-82h0m1 164h0m3-245h0m4 62h0m0 46h0m1 40h0m8 127h0m1-293h0m2-63h0m1 153h0m1-91h0m1 297h0m1-271h0m1-65h0m4 14h0m0 70h0m2 47h0m1 39h0m1 153h0m3 13h0m1-219h0m1-164h0m6 387h0m5-269h0m12-17h0m18 229h0m8 46h0m8-128h0m4 24h0m1 15h0m12 29h0m13-88h0m3 160h0m4-35h0m2 26h0m14-26h0m2-23h0m2 8h0m28-31h0m2-194h0m50 111h0m9-5h0"/>
<path class="p" stroke="#22a884" d="M2124 3235h0m3-19h0m77-15h0m12 5h0m4-40h0m15 99h0m8-12h0m8 65h0m7-11h0m6-21h0m4-55h0m0 256h0m5-214h0m24-73h0m12 28h0m5-37h0m1 213h0m6 157h0m22-335h0m3 111h0m4 13h0m4-111h0m2-48h0m3 69h0m12 70h0m1 240h0m2-312h0m0 8h0m4 70h0m6 205h0m3-278h0m4-20h0m7 298h0m3-113h0m1-5h0m5-25h0m2-3h0m2 105h0m1 0h0m4-4h0m2 46h0m2-63h0m32-9h0m1-23h0m6 32h0m22-5h0m10-39h0m4-84h0m2 126h0m3-49h0m12 16h0m9 4h0"/>
<path class="p" stroke="#2fb47c" d="M2176 3197h0m51-3h0m29 5h0m90 10h0m10 38h0m2-6h0m0 1h0m21-6h0m5 30h0m3 5h0m18 8h0m4 79h0m10-33h0m1-74h0m12 254h0m1-147h0m13 89h0m0 17h0m15 25h0m3-56h0m4 13h0m1-28h0m6 62h0m2-29h0m2-28h0m1 12h0m13 20h0m15-55h0"/>
<path class="p" stroke="#44bf70" d="M2386 3160h0m14 119h0m12 51h0m1 27h0m1-116h0m10 121h0m2-73h0m4 23h0m2-108h0m2 42h0m0 51h0m8-3h0m4 1h0m4-38h0m3 175h0m2-68h0m1-52h0m5 137h0m0 15h0m15-93h0m11 1h0m1-89h0m4 80h0m4 40h0m49 93h0"/>
<path class="p" stroke="#5ec962" d="M2422 3294h0m2-49h0m9 22h0m37 83h0m3 10h0m0 29h0m5-66h0m3 25h0m3 0h0m9 23h0m10-11h0m8 65h0"/>
<path class="p" stroke="#7ad151" d="M2495 3382h0m2-67h0m0 32h0m26-40h0"/>
<path class="p" stroke="#9bd93c" d="M2420 3260h0m18-62h0m11 107h0m6 42h0m9-9h0"/>
<path class="p" stroke="#bddf26" d="M2445 3417h0m12-69h0"/>
<path class="p" stroke="#dfe318" d="M2367 3234h0m88 68h0"/>
<path class="p" stroke="#fde725" d="M2596 3330h0"/>
</g>
<g>
<linearGradient id="gl" gradientUnits="userSpaceOnUse" x1="2755.7" y1="3432.6" x2="3629" y2="3337.7"><stop offset="0%" stop-color="#483782"/><stop offset="10%" stop-color="#483782"/><stop offset="14.3%" stop-color="#483782"/><stop offset="20%" stop-color="#473d85"/><stop offset="28.6%" stop-color="#444689"/><stop offset="30%" stop-color="#3f508c"/><stop offset="35.7%" stop-color="#2f7590"/><stop offset="40%" stop-color="#2b8090"/><stop offset="47.6%" stop-color="#24928e"/><stop offset="50%" stop-color="#23978d"/><stop offset="60%" stop-color="#26aa85"/><stop offset="61.9%" stop-color="#2aae83"/><stop offset="70%" stop-color="#6cce5e"/><stop offset="71.4%" stop-color="#7cd254"/><stop offset="76.2%" stop-color="#b1dd32"/><stop offset="80%" stop-color="#c3e026"/><stop offset="85.7%" stop-color="#e0e41c"/><stop offset="90%" stop-color="#e0e41c"/><stop offset="100%" stop-color="#e0e41c"/></linearGradient>
<path fill="url(#gl)" stroke="url(#gl)" class="e" d="M3037 3185L3039 3183L3043 3182L3046 3181L3050 3180L3055 3179L3059 3178L3064 3178L3069 3177L3074 3177L3079 3178L3084 3178L3090 3179L3095 3179L3101 3180L3107 3181L3113 3182L3118 3183L3124 3184L3129 3185L3135 3186L3140 3187L3146 3189L3152 3190L3158 3191L3163 3192L3169 3193L3175 3194L3180 3195L3186 3196L3191 3197L3197 3198L3202 3200L3207 3202L3213 3204L3218 3206L3224 3208L3230 3211L3235 3213L3241 3216L3247 3218L3253 3220L3258 3222L3264 3224L3270 3225L3276 3227L3281 3229L3287 3230L3293 3232L3299 3233L3305 3234L3310 3235L3316 3236L3322 3237L3328 3237L3333 3238L3339 3238L3345 3239L3351 3239L3357 3239L3363 3239L3369 3240L3374 3240L3379 3240L3384 3241L3389 3241L3394 3242L3398 3242L3402 3243L3405 3244L3408 3245L3410 3246L3411 3247L3412 3249L3414 3252L3414 3255L3415 3260L3416 3264L3416 3269L3416 3274L3416 3279L3416 3284L3416 3289L3416 3295L3416 3300L3415 3306L3415 3312L3414 3318L3414 3324L3414 3329L3413 3335L3413 3341L3413 3346L3412 3352L3412 3358L3412 3364L3412 3369L3412 3375L3412 3381L3413 3387L3413 3392L3413 3398L3414 3404L3414 3409L3414 3415L3414 3420L3414 3426L3414 3432L3414 3437L3414 3443L3414 3448L3413 3453L3412 3458L3411 3463L3409 3467L3407 3472L3405 3476L3402 3481L3400 3485L3397 3490L3395 3495L3392 3499L3389 3504L3387 3509L3384 3513L3381 3517L3378 3522L3375 3526L3372 3530L3369 3534L3366 3538L3363 3542L3360 3546L3356 3550L3353 3554L3349 3557L3346 3561L3342 3565L3339 3569L3335 3573L3332 3577L3329 3580L3325 3584L3322 3587L3318 3590L3314 3592L3309 3595L3304 3597L3300 3599L3294 3601L3289 3603L3284 3605L3279 3607L3274 3608L3268 3610L3263 3611L3257 3612L3252 3613L3246 3614L3241 3615L3235 3616L3229 3616L3224 3616L3219 3617L3213 3617L3208 3617L3202 3617L3197 3616L3192 3616L3186 3615L3181 3613L3175 3612L3170 3610L3164 3609L3159 3607L3153 3605L3148 3602L3143 3600L3138 3598L3133 3595L3128 3593L3123 3590L3118 3587L3113 3584L3109 3581L3105 3577L3101 3574L3097 3570L3093 3567L3090 3563L3086 3558L3082 3554L3078 3550L3074 3546L3070 3541L3066 3537L3062 3532L3058 3528L3054 3524L3050 3519L3047 3514L3044 3510L3041 3505L3038 3500L3035 3495L3032 3490L3030 3485L3027 3480L3025 3475L3023 3470L3021 3465L3019 3459L3018 3454L3016 3448L3015 3442L3013 3437L3012 3431L3011 3426L3010 3421L3010 3415L3009 3410L3009 3404L3009 3398L3008 3393L3008 3387L3007 3381L3006 3375L3006 3370L3005 3364L3004 3358L3004 3353L3003 3348L3003 3342L3003 3337L3004 3331L3004 3326L3005 3320L3006 3315L3006 3309L3007 3304L3008 3298L3008 3292L3009 3286L3009 3280L3010 3275L3010 3269L3011 3264L3011 3258L3012 3253L3013 3248L3014 3242L3015 3237L3016 3232L3017 3227L3018 3222L3019 3218L3021 3214L3022 3209L3024 3205L3026 3200L3028 3197L3030 3193L3032 3190L3034 3187Z"/>
<clipPath id="cl"><path d="M3037 3185L3039 3183L3043 3182L3046 3181L3050 3180L3055 3179L3059 3178L3064 3178L3069 3177L3074 3177L3079 3178L3084 3178L3090 3179L3095 3179L3101 3180L3107 3181L3113 3182L3118 3183L3124 3184L3129 3185L3135 3186L3140 3187L3146 3189L3152 3190L3158 3191L3163 3192L3169 3193L3175 3194L3180 3195L3186 3196L3191 3197L3197 3198L3202 3200L3207 3202L3213 3204L3218 3206L3224 3208L3230 3211L3235 3213L3241 3216L3247 3218L3253 3220L3258 3222L3264 3224L3270 3225L3276 3227L3281 3229L3287 3230L3293 3232L3299 3233L3305 3234L3310 3235L3316 3236L3322 3237L3328 3237L3333 3238L3339 3238L3345 3239L3351 3239L3357 3239L3363 3239L3369 3240L3374 3240L3379 3240L3384 3241L3389 3241L3394 3242L3398 3242L3402 3243L3405 3244L3408 3245L3410 3246L3411 3247L3412 3249L3414 3252L3414 3255L3415 3260L3416 3264L3416 3269L3416 3274L3416 3279L3416 3284L3416 3289L3416 3295L3416 3300L3415 3306L3415 3312L3414 3318L3414 3324L3414 3329L3413 3335L3413 3341L3413 3346L3412 3352L3412 3358L3412 3364L3412 3369L3412 3375L3412 3381L3413 3387L3413 3392L3413 3398L3414 3404L3414 3409L3414 3415L3414 3420L3414 3426L3414 3432L3414 3437L3414 3443L3414 3448L3413 3453L3412 3458L3411 3463L3409 3467L3407 3472L3405 3476L3402 3481L3400 3485L3397 3490L3395 3495L3392 3499L3389 3504L3387 3509L3384 3513L3381 3517L3378 3522L3375 3526L3372 3530L3369 3534L3366 3538L3363 3542L3360 3546L3356 3550L3353 3554L3349 3557L3346 3561L3342 3565L3339 3569L3335 3573L3332 3577L3329 3580L3325 3584L3322 3587L3318 3590L3314 3592L3309 3595L3304 3597L3300 3599L3294 3601L3289 3603L3284 3605L3279 3607L3274 3608L3268 3610L3263 3611L3257 3612L3252 3613L3246 3614L3241 3615L3235 3616L3229 3616L3224 3616L3219 3617L3213 3617L3208 3617L3202 3617L3197 3616L3192 3616L3186 3615L3181 3613L3175 3612L3170 3610L3164 3609L3159 3607L3153 3605L3148 3602L3143 3600L3138 3598L3133 3595L3128 3593L3123 3590L3118 3587L3113 3584L3109 3581L3105 3577L3101 3574L3097 3570L3093 3567L3090 3563L3086 3558L3082 3554L3078 3550L3074 3546L3070 3541L3066 3537L3062 3532L3058 3528L3054 3524L3050 3519L3047 3514L3044 3510L3041 3505L3038 3500L3035 3495L3032 3490L3030 3485L3027 3480L3025 3475L3023 3470L3021 3465L3019 3459L3018 3454L3016 3448L3015 3442L3013 3437L3012 3431L3011 3426L3010 3421L3010 3415L3009 3410L3009 3404L3009 3398L3008 3393L3008 3387L3007 3381L3006 3375L3006 3370L3005 3364L3004 3358L3004 3353L3003 3348L3003 3342L3003 3337L3004 3331L3004 3326L3005 3320L3006 3315L3006 3309L3007 3304L3008 3298L3008 3292L3009 3286L3009 3280L3010 3275L3010 3269L3011 3264L3011 3258L3012 3253L3013 3248L3014 3242L3015 3237L3016 3232L3017 3227L3018 3222L3019 3218L3021 3214L3022 3209L3024 3205L3026 3200L3028 3197L3030 3193L3032 3190L3034 3187Z"/></clipPath><g clip-path="url(#cl)">
<radialGradient id="rl0"><stop offset="0" stop-color="#490f61" stop-opacity="0.8"/><stop offset="1" stop-color="#490f61" stop-opacity="0"/></radialGradient>
<circle cx="3050" cy="3184" r="171" fill="url(#rl0)"/>
</g>
<path class="p" stroke="#440154" d="M3008 3246h0m9 4h0m1-15h0m2-5h0m1 16h0m4-64h0m8-15h0m6 9h0m3 47h0m1-56h0m7-15h0m7 51h0m5 18h0"/>
<path class="p" stroke="#471365" d="M3013 3188h0m10 16h0m2-26h0m4 6h0m5 0h0m1 0h0m13 12h0m3-17h0m0 14h0m5 15h0m3-47h0m3 44h0m8-1h0m3 8h0m0 8h0m5-49h0m3 1h0"/>
<path class="p" stroke="#482475" d="M2967 3430h0m13 97h0m3-209h0m1-77h0m2 55h0m2-78h0m9 80h0m9 125h0m1-187h0m11 16h0m23-74h0m2 11h0m4-8h0m48-4h0"/>
<path class="p" stroke="#463480" d="M2958 3380h0m10 53h0m5-72h0m3 84h0m2-97h0m3-123h0m1 198h0m1-101h0m6 115h0m3-159h0m0 208h0m1-298h0m1 231h0m2 7h0m4-103h0m2 112h0m1-182h0m2 139h0m1-107h0m0 58h0m2-74h0m0 136h0m1-158h0m0 44h0m12-55h0m4-44h0m1-12h0m3 32h0m25-50h0m2-11h0"/>
<path class="p" stroke="#414487" d="M2929 3467h0m10-145h0m23 36h0m10-61h0m10-7h0m1 211h0m2-171h0m2-4h0m0 52h0m0 28h0m3-6h0m1 117h0m4-176h0m0 8h0m1-42h0m0 202h0m2-202h0m1-32h0m2-100h0m0 149h0m3 56h0m1-50h0m2-36h0m0 6h0m0 137h0m1 62h0m1-210h0m0 173h0m3-216h0m1 49h0m0 166h0m2-143h0m0 184h0m3-263h0m0 236h0m2 21h0m2-8h0m2-218h0m1 209h0m3-310h0m15-5h0m9 67h0m13-28h0m9-42h0m1 52h0m24 6h0m4-38h0m7-7h0"/>
<path class="p" stroke="#3b528b" d="M2959 3546h0m1-291h0m9 51h0m2-15h0m12 113h0m0 101h0m10-157h0m9-13h0m0 73h0m3-172h0m2 69h0m0 0h0m1 2h0m1 44h0m3-59h0m2 57h0m10 23h0m4-6h0m1 132h0m4 34h0m1-37h0m2 15h0m0 13h0m5 29h0m5-51h0m0 31h0m1-7h0m26-254h0m14 294h0m3-280h0m8 277h0m8-388h0m2-25h0m2 36h0m10 77h0m4-98h0m1 21h0m1 53h0"/>
<path class="p" stroke="#355f8d" d="M2967 3542h0m12-69h0m21-65h0m5-69h0m14 140h0m3-131h0m1 142h0m6-184h0m8 179h0m0 42h0m2-187h0m12 115h0m7 91h0m3-244h0m5 251h0m1-15h0m10 20h0m6 7h0m26-299h0m10-83h0m5 0h0m22 23h0m1-40h0m4 26h0"/>
<path class="p" stroke="#2f6c8e" d="M3020 3276h0m23 260h0m9-60h0m2 81h0m1-110h0m3-105h0m0 211h0m1-11h0m2 25h0m2-27h0m11-106h0m1 100h0m6-1h0m3 32h0m19-271h0m7 309h0m5 10h0m3-14h0m6-304h0m2-117h0m5 418h0m16-369h0"/>
<path class="p" stroke="#2a788e" d="M2994 3426h0m62-41h0m28 237h0m2-205h0m0 70h0m2 96h0m4 1h0m1-27h0m0 54h0m4 9h0m1-248h0m0 49h0m3 69h0m1 86h0m1-166h0m1 35h0m1 132h0m1 24h0m4-291h0m0 261h0m4-130h0m3 159h0m3 21h0m4-65h0m1 22h0m5-281h0m5-29h0m15-87h0m1 10h0m29 78h0m28-77h0"/>
<path class="p" stroke="#25848e" d="M3070 3356h0m15 7h0m3 195h0m2-20h0m17-166h0m3-3h0m0 14h0m0 201h0m3-104h0m2 105h0m4-1h0m4-176h0m0 192h0m5-7h0m3-208h0m2-8h0m5 64h0m0 159h0m6-22h0m3 23h0m2 4h0m2-163h0m1 157h0m1-157h0m7 70h0m0 66h0m6-107h0m5 131h0m3-177h0m5 177h0m10-399h0m5 403h0m4-406h0m47 428h0m4-406h0"/>
<path class="p" stroke="#21918c" d="M3088 3570h0m19 16h0m18 11h0m5-22h0m4 55h0m7-159h0m5 33h0m4-54h0m3 16h0m6 140h0m1-122h0m9-8h0m1-110h0m2 251h0m2-29h0m7 11h0m3-144h0m7-219h0m3 207h0m2 155h0m9 9h0m1-210h0m4 187h0m1 37h0m6-318h0m0 122h0m1 196h0m2-182h0m2-238h0m4 327h0m5-241h0m3 332h0m3-386h0m7 381h0m24-399h0m9 390h0m41-15h0"/>
<path class="p" stroke="#1e9c89" d="M3163 3320h0m13 53h0m12 174h0m3-249h0m4-34h0m0 88h0m2 275h0m3-272h0m0 4h0m4-25h0m0 285h0m2-426h0m0 204h0m1 220h0m1-407h0m0 194h0m3-195h0m0 65h0m2 334h0m4-256h0m0 72h0m1-21h0m1 56h0m3-258h0m0 385h0m1-283h0m1 97h0m0 61h0m7-23h0m3-221h0m0 4h0m5 373h0m1-16h0m2-375h0m0 324h0m3 88h0m1 22h0m1-132h0m5 110h0m2-180h0m1-212h0m9 91h0m2 293h0m5-231h0m8 138h0m4 94h0m3 14h0m34-35h0m5 4h0"/>
<path class="p" stroke="#22a884" d="M3170 3600h0m41 13h0m23-36h0m1-101h0m2-255h0m9 0h0m3 44h0m7 356h0m5-24h0m3-41h0m4-344h0m0 404h0m1-393h0m4 124h0m5-38h0m4 102h0m3-46h0m5-117h0m11 323h0m3-158h0m1 171h0m2 15h0m7-52h0m3 59h0m1-16h0m9-23h0m16 7h0m5-1h0"/>
<path class="p" stroke="#2fb47c" d="M3203 3631h0m38-417h0m6-17h0m2 147h0m9-126h0m15 398h0m2-375h0m8 369h0m8-370h0m10 152h0m7-155h0m0 123h0m3 141h0m3 93h0m2-366h0m1-3h0m7 4h0m6 346h0m1 9h0m1-91h0m1-129h0m1-2h0m0 208h0m1-65h0m5-51h0m1 125h0m2-20h0m6 33h0m7-41h0"/>
<path class="p" stroke="#44bf70" d="M3237 3212h0m33 10h0m34 130h0m1 26h0m10-62h0m7 117h0m3-145h0m5 98h0m3 223h0m1-373h0m3 6h0m8 257h0m1 13h0m7 31h0m4 9h0m1-104h0m2 149h0m2-54h0m1 15h0"/>
<path class="p" stroke="#5ec962" d="M3310 3227h0m18 343h0m1 22h0m2-359h0m7 82h0m1-71h0m1 252h0m5 75h0m1-195h0m3-132h0m1 147h0m4-118h0m0 105h0m3 153h0m2-228h0m1 121h0m0 147h0m3-238h0m6 198h0m0 35h0m2-337h0m7 37h0m0 280h0m5-32h0m3 45h0m2-36h0m40-254h0"/>
<path class="p" stroke="#7ad151" d="M3345 3246h0m5 4h0m14 315h0m8-185h0m8 30h0m6-46h0m1 96h0m8 33h0m14-235h0m2 153h0m1-4h0m3-169h0m0 48h0m1 170h0m0 32h0m2-242h0m6 155h0"/>
<path class="p" stroke="#9bd93c" d="M3368 3241h0m3 3h0m0 105h0m3-128h0m9 21h0m1 87h0m1-65h0m0 251h0m2-133h0m2 18h0m0 113h0m7-187h0m1 161h0m4-179h0m4 144h0m2-163h0m0 93h0m0 38h0m1-51h0m0 96h0m1-27h0m0 55h0m1-132h0m0 104h0m1-174h0m1-32h0m1 155h0m2-139h0m1 169h0m1-148h0m0 136h0m2-175h0m5 172h0m3 32h0m1-119h0m3 30h0m4 20h0m16-44h0"/>
<path class="p" stroke="#bddf26" d="M3388 3500h0m11-250h0m9 56h0m0 81h0m7 79h0m0 5h0m1-79h0m1-163h0m2 125h0m2 45h0m2 4h0m1 14h0m2 64h0m5-197h0m4-11h0m1 121h0m1-119h0m1 111h0m9 62h0"/>
<path class="p" stroke="#dfe318" d="M3402 3251h0m1-6h0m3-4h0m9 30h0m5 75h0m5-35h0m1-6h0m3 160h0m3-194h0m12 35h0m0 168h0m3-198h0"/>
<path class="p" stroke="#440154" d="M2941 3083h0m8-52h0m0 69h0m1-40h0m5 56h0m0 13h0m2-26h0m8 67h0m5-29h0m1-58h0m3 81h0m11 34h0m3-87h0m3 411h0m1-397h0m17 121h0m2-15h0m6-104h0m1 69h0m3-97h0m7 76h0m6 73h0m4-9h0m0 1h0m4-121h0m0 50h0m21 13h0m3 17h0"/>
<path class="p" stroke="#471365" d="M2976 3321h0m2-142h0m20-49h0m12 16h0m8 33h0m0 15h0m2 40h0m1-88h0m2 35h0m3-18h0m0 50h0m3-52h0m1-15h0m7 11h0m3 20h0m14 34h0m27 0h0m3-34h0m6-49h0m10 20h0m7 11h0m29 7h0"/>
<path class="p" stroke="#482475" d="M2949 3334h0m4 15h0m42-107h0m6 45h0m0 299h0m5-318h0m0 1h0m4-77h0m0 243h0m2-187h0m4-38h0m9 371h0m9-400h0m2 451h0m2-417h0m6-43h0m28 45h0m1-14h0m0 383h0m84-429h0m8 18h0m21-5h0"/>
<path class="p" stroke="#463480" d="M2930 3428h0m15-106h0m2 75h0m3-44h0m7 42h0m7-60h0m8 56h0m2 73h0m3-90h0m5 48h0m1 169h0m2-124h0m1-197h0m7 305h0m1-69h0m1-187h0m0 79h0m5-151h0m3-12h0m0 84h0m0 110h0m1 81h0m1-161h0m7 86h0m1-195h0m1-53h0m0 43h0m0 208h0m1 37h0m2-231h0m1-55h0m0 34h0m11 280h0m1-299h0m0 416h0m5-409h0m1-16h0m3 369h0m22-392h0m0 18h0m12-4h0m8-25h0m1 5h0m25 12h0m106 5h0m18 2h0"/>
<path class="p" stroke="#414487" d="M2820 3622h0m48-117h0m5 136h0m4-290h0m4 39h0m10 80h0m0 62h0m15-4h0m2-185h0m5 31h0m5 107h0m7 118h0m10-266h0m0 19h0m11 134h0m20 94h0m3-266h0m0 135h0m2 118h0m3-222h0m0 101h0m2-179h0m1 118h0m6-20h0m8 82h0m1-145h0m0 102h0m1 83h0m10-214h0m1 169h0m0 37h0m0 23h0m7-102h0m0 29h0m1-219h0m1 72h0m0 187h0m0 22h0m1-37h0m1-196h0m1 343h0m3-325h0m0 337h0m5-363h0m1-43h0m0 275h0m5-297h0m0 111h0m2-105h0m2 104h0m10-135h0m6 490h0m9-41h0m15-385h0m11 457h0m5-486h0m4-41h0m2 25h0m6 439h0m31 50h0"/>
<path class="p" stroke="#3b528b" d="M2934 3457h0m2-31h0m1 68h0m5-188h0m3-14h0m4 77h0m3 159h0m6-57h0m2 63h0m4-187h0m1 176h0m5-226h0m2 8h0m4 130h0m4-52h0m4 245h0m1-158h0m0 62h0m5-42h0m4-135h0m16-10h0m2 42h0m2 180h0m4-95h0m1-17h0m6 2h0m0 36h0m0 59h0m2-101h0m3 190h0m5-334h0m4 284h0m4 57h0m3-66h0m3-299h0m2 244h0m8 37h0m1 9h0m5-282h0m10 309h0m32 81h0m8-512h0m11 13h0m1 450h0m14 4h0m2-445h0m5 449h0"/>
<path class="p" stroke="#355f8d" d="M2951 3500h0m14 1h0m34-7h0m10 84h0m5-267h0m7 181h0m5-121h0m11 94h0m6 89h0m3-137h0m3-103h0m1 215h0m4-54h0m2 51h0m3-38h0m1-155h0m0 206h0m10-259h0m15 285h0m11-296h0m18-37h0m5-14h0m6 16h0m10 27h0m40-64h0m13 439h0m14-4h0m10 39h0"/>
<path class="p" stroke="#2f6c8e" d="M3030 3445h0m8 136h0m1-147h0m1 47h0m10-54h0m21 97h0m1 80h0m19 4h0m2-43h0m5 14h0m2-5h0m4 63h0m10-360h0m12-89h0m17 66h0"/>
<path class="p" stroke="#2a788e" d="M3069 3559h0m10-110h0m21 129h0m5-64h0m7 58h0m18-268h0m24-118h0m0 439h0m14-450h0m3 68h0m1-57h0m0 434h0m5-447h0m0 427h0"/>
<path class="p" stroke="#25848e" d="M3083 3552h0m21-223h0m1 124h0m2 163h0m1-295h0m10 79h0m17-39h0m2 50h0m0 197h0m1-210h0m1 87h0m6 99h0m4-294h0m0 326h0m3-417h0m5 234h0m3 37h0m9-206h0m2-5h0m14 112h0m1-108h0m2-52h0m1 314h0m25 114h0"/>
<path class="p" stroke="#21918c" d="M3135 3420h0m16-97h0m3 296h0m1-87h0m16 78h0m21-314h0m7-76h0m3-7h0m10 154h0m4-89h0m2-33h0m2 310h0m7 28h0m2 52h0m10 13h0m1-26h0m1-4h0m4-24h0m29 19h0"/>
<path class="p" stroke="#1e9c89" d="M3169 3455h0m3-69h0m9 243h0m4-310h0m5-4h0m13 99h0m1-172h0m2 134h0m4-60h0m1 194h0m7 122h0m1-173h0m6-66h0m2 98h0m1-288h0m1 85h0m9-82h0m2 256h0m0 185h0m2-243h0m0 47h0m2-42h0m1-194h0m1 248h0m0 69h0m2 83h0m3-5h0m4-150h0m21-228h0m0 253h0m2-94h0m2 216h0m23-5h0m26-18h0"/>
<path class="p" stroke="#22a884" d="M3214 3335h0m1 298h0m12 11h0m4-262h0m7-42h0m5-44h0m2 96h0m2 219h0m0 16h0m2-274h0m2 267h0m0 0h0m1-234h0m3-138h0m0 224h0m3-191h0m1 16h0m6 73h0m3-49h0m1 111h0m1-69h0m7-99h0m0 235h0m4-261h0m2 287h0m3-93h0m4-129h0m1 52h0m4 4h0m0 171h0m19 77h0m13 11h0m1-32h0m5 30h0m3-9h0m10 2h0m5-17h0"/>
<path class="p" stroke="#2fb47c" d="M3220 3642h0m8-110h0m44-263h0m2 218h0m7-265h0m4 303h0m18-157h0m8-117h0m0 86h0m3 62h0m2 82h0m6 110h0m11-86h0m1 76h0m3 28h0m26-81h0m4 33h0"/>
<path class="p" stroke="#44bf70" d="M3275 3211h0m22 8h0m2 10h0m6 204h0m17-47h0m9 118h0m4-221h0m2-34h0m0 23h0m2 316h0m31-16h0m17-47h0m26-110h0"/>
<path class="p" stroke="#5ec962" d="M3280 3225h0m31 5h0m17 9h0m5-4h0m8 79h0m18 281h0m1-306h0m0 44h0m1 233h0m2-234h0m4 115h0m1-212h0m0 74h0m3 143h0m3-207h0m0 238h0m3-110h0m9 128h0m9 42h0m2-52h0"/>
<path class="p" stroke="#7ad151" d="M3348 3274h0m7 102h0m2-13h0m11-123h0m3 111h0m24 166h0m10-54h0m6-211h0m8 17h0m2 24h0m2 153h0m3-149h0m5-46h0"/>
<path class="p" stroke="#9bd93c" d="M3369 3228h0m16 33h0m1-27h0m3 145h0m6 49h0m0 64h0m0 29h0m1-110h0m1-182h0m0 58h0m5 180h0m3-15h0m2-44h0m3-22h0m1-130h0m0 164h0m1-177h0m2 207h0m0 20h0m3 3h0m3-194h0m2 93h0m2-27h0m0 86h0m8-44h0m0 98h0m5-25h0m5 43h0m1-67h0m14-37h0m12 37h0m54-145h0"/>
<path class="p" stroke="#bddf26" d="M3401 3294h0m0 115h0m1 55h0m2 13h0m10-59h0m1-169h0m2 98h0m0 24h0m2-107h0m1 108h0m0 120h0m1-120h0m1-67h0m1 50h0m1-54h0m1 16h0m1-31h0m4 63h0m0 45h0m0 200h0m2-212h0m0 91h0m2-136h0m5 87h0m5-50h0m0 10h0m2-94h0m1 154h0m1-161h0m0 84h0m0 66h0m2-95h0m3-17h0m14 151h0m14-195h0m3 113h0m3-43h0m14 49h0m7 128h0m13-20h0m12-34h0m1 29h0"/>
<path class="p" stroke="#dfe318" d="M3410 3286h0m0 39h0m9-47h0m0 186h0m4-103h0m6-39h0m1 144h0m6-98h0m3-48h0m0 45h0m17-42h0m9 38h0m15-50h0m2 72h0m23-67h0"/>
</g>
<g>
<linearGradient id="gm" gradientUnits="userSpaceOnUse" x1="866.1" y1="4414.9" x2="1720.4" y2="4374.2"><stop offset="0%" stop-color="#23a588"/><stop offset="10%" stop-color="#23a588"/><stop offset="16.7%" stop-color="#23a588"/><stop offset="20%" stop-color="#23a389"/><stop offset="27.8%" stop-color="#229d8b"/><stop offset="30%" stop-color="#22998d"/><stop offset="40%" stop-color="#298390"/><stop offset="50%" stop-color="#326e90"/><stop offset="55.6%" stop-color="#38618f"/><stop offset="60%" stop-color="#3d568d"/><stop offset="70%" stop-color="#483a83"/><stop offset="80%" stop-color="#4b1a6b"/><stop offset="83.3%" stop-color="#490f61"/><stop offset="90%" stop-color="#490f61"/><stop offset="100%" stop-color="#490f61"/></linearGradient>
<path fill="url(#gm)" stroke="url(#gm)" class="e" d="M1256 4161L1260 4159L1264 4157L1268 4155L1273 4153L1277 4152L1281 4150L1286 4149L1290 4148L1294 4148L1298 4148L1302 4148L1306 4148L1310 4149L1314 4150L1318 4151L1322 4152L1326 4154L1329 4156L1333 4159L1337 4161L1340 4164L1344 4168L1348 4171L1352 4174L1356 4177L1360 4180L1364 4184L1368 4187L1372 4191L1376 4194L1380 4198L1384 4201L1388 4204L1392 4208L1395 4211L1399 4215L1403 4218L1407 4221L1411 4225L1415 4228L1419 4232L1423 4235L1427 4238L1431 4242L1435 4245L1439 4248L1443 4252L1447 4255L1451 4259L1455 4262L1459 4265L1463 4269L1467 4272L1471 4276L1475 4279L1478 4282L1482 4285L1485 4289L1488 4292L1492 4295L1495 4299L1498 4302L1502 4306L1505 4309L1509 4313L1513 4316L1517 4320L1522 4323L1526 4327L1530 4330L1534 4333L1537 4337L1541 4340L1545 4343L1549 4346L1552 4348L1556 4351L1559 4353L1561 4356L1564 4358L1566 4361L1568 4364L1570 4367L1572 4370L1573 4373L1574 4376L1575 4379L1576 4382L1576 4385L1575 4388L1575 4391L1574 4395L1573 4399L1571 4402L1569 4406L1568 4409L1566 4412L1563 4415L1560 4418L1557 4421L1554 4423L1550 4426L1546 4429L1542 4432L1538 4435L1534 4437L1530 4440L1526 4442L1521 4445L1517 4447L1512 4449L1507 4451L1503 4453L1498 4455L1493 4457L1488 4458L1483 4460L1478 4461L1473 4463L1467 4465L1462 4466L1457 4468L1452 4470L1447 4472L1442 4473L1437 4475L1432 4477L1427 4478L1422 4480L1417 4482L1411 4483L1406 4485L1401 4487L1396 4488L1391 4490L1386 4492L1381 4494L1375 4496L1370 4498L1365 4500L1360 4502L1355 4504L1350 4506L1345 4508L1340 4510L1335 4511L1330 4513L1325 4515L1320 4516L1315 4518L1310 4520L1305 4521L1299 4523L1294 4524L1288 4526L1283 4527L1277 4529L1271 4530L1266 4531L1260 4532L1255 4533L1249 4534L1243 4535L1238 4536L1232 4536L1227 4537L1222 4537L1217 4537L1212 4536L1207 4536L1202 4535L1197 4534L1192 4533L1187 4532L1183 4530L1179 4528L1174 4526L1170 4524L1167 4522L1163 4519L1159 4517L1156 4514L1152 4511L1149 4507L1146 4504L1143 4500L1140 4496L1138 4492L1135 4487L1132 4482L1130 4478L1128 4473L1126 4468L1124 4464L1122 4459L1120 4454L1119 4449L1117 4444L1116 4439L1115 4434L1114 4429L1113 4424L1112 4419L1111 4414L1111 4409L1111 4404L1110 4399L1110 4395L1110 4390L1111 4385L1111 4380L1111 4375L1112 4370L1113 4365L1114 4360L1115 4355L1116 4350L1117 4345L1119 4340L1120 4335L1122 4331L1124 4326L1126 4321L1128 4316L1130 4312L1132 4307L1135 4303L1138 4299L1141 4294L1144 4290L1147 4286L1150 4281L1153 4277L1156 4272L1160 4268L1163 4263L1166 4259L1170 4254L1173 4250L1177 4245L1180 4241L1184 4236L1187 4231L1190 4227L1194 4222L1197 4218L1200 4213L1204 4209L1207 4205L1211 4201L1214 4196L1217 4192L1221 4188L1224 4185L1227 4181L1230 4178L1233 4175L1236 4173L1239 4171L1242 4169L1245 4167L1249 4165L1252 4163Z"/>
<clipPath id="cm"><path d="M1256 4161L1260 4159L1264 4157L1268 4155L1273 4153L1277 4152L1281 4150L1286 4149L1290 4148L1294 4148L1298 4148L1302 4148L1306 4148L1310 4149L1314 4150L1318 4151L1322 4152L1326 4154L1329 4156L1333 4159L1337 4161L1340 4164L1344 4168L1348 4171L1352 4174L1356 4177L1360 4180L1364 4184L1368 4187L1372 4191L1376 4194L1380 4198L1384 4201L1388 4204L1392 4208L1395 4211L1399 4215L1403 4218L1407 4221L1411 4225L1415 4228L1419 4232L1423 4235L1427 4238L1431 4242L1435 4245L1439 4248L1443 4252L1447 4255L1451 4259L1455 4262L1459 4265L1463 4269L1467 4272L1471 4276L1475 4279L1478 4282L1482 4285L1485 4289L1488 4292L1492 4295L1495 4299L1498 4302L1502 4306L1505 4309L1509 4313L1513 4316L1517 4320L1522 4323L1526 4327L1530 4330L1534 4333L1537 4337L1541 4340L1545 4343L1549 4346L1552 4348L1556 4351L1559 4353L1561 4356L1564 4358L1566 4361L1568 4364L1570 4367L1572 4370L1573 4373L1574 4376L1575 4379L1576 4382L1576 4385L1575 4388L1575 4391L1574 4395L1573 4399L1571 4402L1569 4406L1568 4409L1566 4412L1563 4415L1560 4418L1557 4421L1554 4423L1550 4426L1546 4429L1542 4432L1538 4435L1534 4437L1530 4440L1526 4442L1521 4445L1517 4447L1512 4449L1507 4451L1503 4453L1498 4455L1493 4457L1488 4458L1483 4460L1478 4461L1473 4463L1467 4465L1462 4466L1457 4468L1452 4470L1447 4472L1442 4473L1437 4475L1432 4477L1427 4478L1422 4480L1417 4482L1411 4483L1406 4485L1401 4487L1396 4488L1391 4490L1386 4492L1381 4494L1375 4496L1370 4498L1365 4500L1360 4502L1355 4504L1350 4506L1345 4508L1340 4510L1335 4511L1330 4513L1325 4515L1320 4516L1315 4518L1310 4520L1305 4521L1299 4523L1294 4524L1288 4526L1283 4527L1277 4529L1271 4530L1266 4531L1260 4532L1255 4533L1249 4534L1243 4535L1238 4536L1232 4536L1227 4537L1222 4537L1217 4537L1212 4536L1207 4536L1202 4535L1197 4534L1192 4533L1187 4532L1183 4530L1179 4528L1174 4526L1170 4524L1167 4522L1163 4519L1159 4517L1156 4514L1152 4511L1149 4507L1146 4504L1143 4500L1140 4496L1138 4492L1135 4487L1132 4482L1130 4478L1128 4473L1126 4468L1124 4464L1122 4459L1120 4454L1119 4449L1117 4444L1116 4439L1115 4434L1114 4429L1113 4424L1112 4419L1111 4414L1111 4409L1111 4404L1110 4399L1110 4395L1110 4390L1111 4385L1111 4380L1111 4375L1112 4370L1113 4365L1114 4360L1115 4355L1116 4350L1117 4345L1119 4340L1120 4335L1122 4331L1124 4326L1126 4321L1128 4316L1130 4312L1132 4307L1135 4303L1138 4299L1141 4294L1144 4290L1147 4286L1150 4281L1153 4277L1156 4272L1160 4268L1163 4263L1166 4259L1170 4254L1173 4250L1177 4245L1180 4241L1184 4236L1187 4231L1190 4227L1194 4222L1197 4218L1200 4213L1204 4209L1207 4205L1211 4201L1214 4196L1217 4192L1221 4188L1224 4185L1227 4181L1230 4178L1233 4175L1236 4173L1239 4171L1242 4169L1245 4167L1249 4165L1252 4163Z"/></clipPath><g clip-path="url(#cm)">
<radialGradient id="rm0"><stop offset="0" stop-color="#24928e" stop-opacity="0.7"/><stop offset="1" stop-color="#24928e" stop-opacity="0"/></radialGradient>
<circle cx="1284" cy="4087" r="158" fill="url(#rm0)"/>
</g>
<path class="p" stroke="#440154" d="M1516 4435h0m3-115h0m32 126h0m4-105h0m0 20h0m7-8h0m11 5h0m0 41h0m2-16h0m5-40h0m2-17h0m5 67h0m3-72h0m8 88h0"/>
<path class="p" stroke="#471365" d="M1452 4241h0m35 216h0m16-164h0m5 25h0m28-3h0m1 129h0m0 12h0m1-19h0m2-2h0m1-100h0m16 41h0m2 30h0m1-79h0m4 74h0m1 4h0m3-13h0m1-30h0m0 8h0m2-15h0m1 41h0m0 28h0m1-37h0m12 61h0m11-63h0m28-2h0"/>
<path class="p" stroke="#482475" d="M1406 4219h0m75 238h0m2-176h0m4 181h0m1-63h0m1 42h0m1 21h0m4-66h0m1-103h0m3 115h0m5-4h0m3-100h0m1 53h0m8-40h0m2 1h0m9 9h0m0 113h0m27-33h0m1-33h0m2-40h0m29 46h0m8-12h0"/>
<path class="p" stroke="#463480" d="M1384 4278h0m7-67h0m21 25h0m3 236h0m17-119h0m13 123h0m4-86h0m0 87h0m5-200h0m0 42h0m6-49h0m0 154h0m4-111h0m13-58h0m5 203h0m2-173h0m0 162h0m5-143h0m3 148h0m5-25h0m14-104h0m3 140h0m55-55h0"/>
<path class="p" stroke="#414487" d="M1374 4372h0m4-4h0m8-168h0m8-6h0m0 150h0m5 146h0m1-320h0m9 203h0m1 125h0m3-129h0m1-148h0m2 167h0m1-150h0m2 116h0m1-89h0m1-25h0m0 239h0m4-195h0m3 122h0m3-170h0m7 239h0m3-227h0m2 180h0m2 58h0m5-42h0m1-55h0m8-60h0m2 36h0m1-87h0m5 157h0m6 28h0m1-33h0m63-87h0"/>
<path class="p" stroke="#3b528b" d="M1290 4524h0m19 4h0m22-19h0m16-274h0m6-24h0m1 93h0m1-1h0m0 123h0m1-84h0m5 88h0m1-58h0m0 125h0m6 2h0m1-272h0m3 129h0m3-32h0m1-43h0m3 199h0m2 7h0m1-236h0m2 49h0m1-98h0m1 71h0m0 90h0m4-157h0m7 192h0m1-13h0m1-206h0m0 284h0m8-9h0m1-173h0m0 129h0m4 83h0m3-118h0m10-137h0m3 20h0m1 148h0m9 7h0m4-152h0m16-12h0"/>
<path class="p" stroke="#355f8d" d="M1249 4534h0m12-165h0m10 172h0m7-16h0m5-139h0m9-89h0m1 115h0m5-37h0m2-143h0m7 188h0m6 91h0m0 3h0m2-289h0m4 156h0m5 49h0m3-284h0m8 54h0m0 315h0m1-144h0m3-214h0m5 262h0m4-254h0m0 274h0m3-65h0m1 143h0m2-13h0m3-324h0m1 61h0m0 189h0m2-20h0m0 101h0m1-339h0m0 302h0m2-330h0m4 375h0m1-85h0m4-244h0m2 252h0m16-159h0m2 196h0m4-11h0m21 18h0m2-2h0"/>
<path class="p" stroke="#2f6c8e" d="M1190 4553h0m55-411h0m1 19h0m5 173h0m6-124h0m2 40h0m9-95h0m2 166h0m4 190h0m4-144h0m3-16h0m0 42h0m2-58h0m1 153h0m1-283h0m0 317h0m2 4h0m1-376h0m2 141h0m8 227h0m4-211h0m0 221h0m1-316h0m0 167h0m2-140h0m1 256h0m1-340h0m0 303h0m0 90h0m2-174h0m3 9h0m1 55h0m1-219h0m0 316h0m3-141h0m5-27h0m1-208h0m17 8h0m2-6h0m2 0h0m1 285h0m5-294h0m0 117h0m9-87h0m15 7h0m0 127h0"/>
<path class="p" stroke="#2a788e" d="M1141 4263h0m9 12h0m15 78h0m3 197h0m1-325h0m29-24h0m2 65h0m1 269h0m1-141h0m2 76h0m4-144h0m2-151h0m2 121h0m0 260h0m1-305h0m6 11h0m3-100h0m1 163h0m3-116h0m0 63h0m1-76h0m6 118h0m1 59h0m2-207h0m1 245h0m1-230h0m1 34h0m3 334h0m1-284h0m1-90h0m6 14h0m0 354h0m1-9h0m4-185h0m0 70h0m2-237h0m3-35h0m4 264h0m1-253h0m3 366h0m6-176h0m0 90h0m3-236h0m0 19h0m4-98h0m1 341h0m1-308h0m6 163h0m3-172h0m1 380h0m10-379h0m1 1h0m0 389h0m1-12h0m7-344h0m15-12h0m16-2h0"/>
<path class="p" stroke="#25848e" d="M1075 4313h0m31 98h0m4-73h0m1-92h0m0 176h0m5-172h0m6 113h0m5-61h0m3-29h0m2 199h0m11-202h0m2 200h0m8-83h0m2-175h0m1 62h0m2 51h0m1 222h0m4-305h0m4-52h0m4 121h0m1 177h0m7-98h0m0 94h0m0 6h0m3-92h0m2-198h0m2 66h0m1-17h0m0 45h0m1 249h0m2-129h0m1-211h0m1-78h0m0 208h0m1-103h0m1 62h0m1 177h0m1-40h0m2-213h0m3 21h0m3-36h0m1 105h0m7-43h0m2 147h0m3 88h0m2-299h0m0 264h0m3-327h0m2-7h0m0 5h0m1-37h0m3 453h0m2-383h0m1-28h0m4-41h0m1 88h0m0 183h0m2 111h0m1 53h0m4-364h0m18-61h0m3 42h0m32-31h0"/>
<path class="p" stroke="#21918c" d="M1066 4303h0m4 209h0m4 6h0m6-137h0m13 97h0m4-105h0m0 7h0m1 49h0m2-17h0m0 30h0m7-100h0m2-82h0m1 83h0m1 156h0m1-156h0m3 26h0m2 139h0m2-221h0m4 18h0m0 44h0m3 134h0m2-126h0m2 60h0m0 71h0m3-118h0m7-117h0m0 118h0m2-57h0m5-20h0m2 18h0m0 50h0m0 120h0m1-78h0m1 124h0m1-191h0m4-84h0m0 123h0m4-138h0m4-15h0m0 183h0m3 134h0m1-208h0m2 189h0m2-276h0m3 312h0m1-30h0m3-101h0m1-217h0m3 184h0m1-14h0m3-95h0m3 292h0m13-370h0m3 320h0m39-392h0m13 393h0m1 27h0m5-412h0m38-35h0"/>
<path class="p" stroke="#1e9c89" d="M1063 4411h0m8-91h0m10 68h0m2 53h0m3 57h0m2-149h0m1 70h0m0 60h0m0 1h0m1-167h0m1 0h0m1-36h0m0 82h0m0 132h0m1-128h0m1 147h0m1-178h0m0 70h0m2 19h0m1-109h0m2 8h0m2 20h0m1 82h0m1-123h0m0 21h0m1 137h0m4-129h0m0 115h0m2-20h0m4-36h0m3 116h0m2 8h0m3-234h0m0 23h0m3 40h0m0 124h0m3-116h0m0 112h0m1-180h0m0 101h0m1-68h0m0 172h0m3-166h0m3 152h0m3-171h0m0 202h0m3-192h0m4-35h0m0 34h0m6-111h0m4 54h0m2-25h0m6 43h0m96-126h0"/>
<path class="p" stroke="#22a884" d="M1068 4360h0m1 165h0m2-184h0m11 88h0m1 34h0m2-12h0m2-103h0m4-5h0m4 15h0m3-24h0m0 4h0m5-57h0m3 58h0m3 141h0m1 51h0m1-188h0m3 72h0m7 37h0m0 27h0m2-120h0m15 185h0m16-127h0"/>
<path class="p" stroke="#2fb47c" d="M1079 4465h0m7-122h0m6 104h0m9-11h0m38 105h0"/>
<path class="p" stroke="#44bf70" d="M1032 4543h0m10-11h0"/>
<path class="p" stroke="#5ec962" d="M1044 4532h0m6-8h0"/>
<path class="p" stroke="#7ad151" d="M1032 4525h0m4 1h0"/>
<path class="p" stroke="#9bd93c" d="M1035 4550h0m11-25h0m11 17h0"/>
<path class="p" stroke="#440154" d="M1523 4334h0m21 5h0m6 82h0m0 4h0m5-70h0m15-55h0m0 130h0m2-34h0m19-24h0m2 55h0m10-95h0m33 74h0"/>
<path class="p" stroke="#471365" d="M1493 4329h0m19-11h0m1-23h0m1-4h0m0 92h0m4 56h0m2-120h0m1 129h0m2-103h0m4-7h0m6 30h0m2-55h0m3-1h0m3 13h0m8 18h0m1 19h0m1-78h0m0 83h0m6 70h0m6-33h0m0 62h0m6 22h0m8-133h0m4 10h0m2 37h0m1 18h0m14-14h0m2 52h0m1-18h0m2-83h0m2 31h0m2-29h0m6 56h0m3 25h0m2-61h0m1-24h0m3 34h0m34 75h0"/>
<path class="p" stroke="#482475" d="M1429 4517h0m8 11h0m18-275h0m5 91h0m6 147h0m10-165h0m0 160h0m11-194h0m3 110h0m5 11h0m14-15h0m3 44h0m3-81h0m1-57h0m3 98h0m0 89h0m2-137h0m6 18h0m0 106h0m18-30h0m3 2h0m1-169h0m5 81h0m15 5h0m2 22h0m1-29h0m5-7h0m3 59h0m3 43h0m3 52h0m1-90h0m25-87h0m14 66h0m5-69h0m4 49h0m6 19h0m13-20h0"/>
<path class="p" stroke="#463480" d="M1409 4227h0m5 67h0m8-72h0m0 278h0m5-274h0m4 91h0m0 110h0m3-187h0m5 210h0m2 35h0m2-64h0m7-179h0m1 213h0m3-147h0m4 157h0m3-216h0m1 4h0m7 59h0m5-29h0m4 103h0m0 70h0m3-187h0m0 151h0m3 40h0m6-156h0m11 137h0m0 3h0m4-125h0m3-43h0m14 6h0m5 93h0"/>
<path class="p" stroke="#414487" d="M1368 4199h0m16 300h0m1-164h0m4-130h0m5 5h0m2 12h0m1 303h0m5-142h0m10-42h0m3-107h0m0 1h0m4 15h0m0 10h0m20 170h0m1-42h0m3-145h0m3 21h0m0 214h0m6-151h0m0 142h0m7-205h0m2-17h0m2 226h0m10-236h0m6-16h0m4 15h0m0 216h0m3-201h0m8-30h0m18 88h0"/>
<path class="p" stroke="#3b528b" d="M1338 4545h0m5-163h0m13-124h0m6-63h0m2 81h0m0 141h0m1-244h0m5 108h0m3 120h0m0 9h0m1-237h0m0 269h0m7-4h0m1-127h0m4-84h0m12 136h0m7 23h0m5-98h0m4 126h0m28 80h0m4-23h0m1 17h0"/>
<path class="p" stroke="#355f8d" d="M1186 4197h0m105 328h0m14-61h0m9-62h0m2-134h0m5-100h0m0 230h0m3 114h0m5 18h0m1-247h0m0 108h0m2-229h0m2 58h0m13 138h0m1-93h0m0 235h0m11-328h0m3 27h0m6 107h0m9 190h0m1-32h0m11-76h0m14 101h0m42-274h0m2 11h0"/>
<path class="p" stroke="#2f6c8e" d="M1200 4195h0m61-42h0m11 374h0m0 39h0m1-238h0m1 216h0m9-405h0m0 4h0m4 387h0m1-211h0m1-179h0m0 383h0m1-125h0m2-206h0m0 358h0m4-336h0m5 350h0m5-31h0m1-318h0m1 319h0m1 28h0m1 18h0m1-342h0m0 257h0m3 45h0m2-402h0m2 54h0m2 353h0m1-382h0m1 348h0m3-328h0m0 249h0m1-75h0m3 95h0m8-289h0m4-19h0m5 7h0m20 347h0m31-314h0"/>
<path class="p" stroke="#2a788e" d="M1031 4304h0m0 9h0m48 177h0m25 93h0m20-352h0m40 385h0m5-379h0m9 3h0m15 337h0m3-13h0m3-144h0m1-229h0m1 219h0m1-256h0m2 23h0m0 31h0m2 61h0m5-38h0m6 30h0m5 296h0m1-11h0m1-386h0m0 376h0m1-389h0m0 41h0m1 334h0m8-355h0m7 365h0m4-210h0m4-53h0m0 80h0m2-183h0m5 274h0m1-296h0m0 92h0m3 126h0m2-259h0m5 55h0m2 33h0m2 326h0m1 7h0m0 34h0m1-314h0m0 181h0m5-248h0m3-47h0m4 429h0m1-476h0m11 57h0m1-32h0m0 419h0m4-358h0m1 356h0m6-378h0m13-28h0m9 395h0m11-356h0m1-49h0m13 65h0m1-52h0m4 35h0"/>
<path class="p" stroke="#25848e" d="M1024 4297h0m13 38h0m8-17h0m2-16h0m7-36h0m6 7h0m36 258h0m10-98h0m3 79h0m3-122h0m17-60h0m2 136h0m1-195h0m10-25h0m0 227h0m1-222h0m14-28h0m6 275h0m2-135h0m0 203h0m7-369h0m9 156h0m2-99h0m0 108h0m1-120h0m0 127h0m0 88h0m2-243h0m0 14h0m0 25h0m2-102h0m6 259h0m1-231h0m1 25h0m3 272h0m5-340h0m4 68h0m4-51h0m4 63h0m7-101h0m0 417h0m8-474h0m7-7h0m2 493h0m4-444h0m9 48h0m29-50h0m1 44h0m2-5h0m11-13h0m15-50h0m0 86h0m7-74h0m28 33h0m13-45h0m0 103h0"/>
<path class="p" stroke="#21918c" d="M1052 4404h0m2 11h0m6-92h0m3-23h0m8 97h0m5 68h0m2 33h0m2-175h0m1 188h0m2 30h0m3-196h0m4 111h0m4-145h0m3-15h0m3-63h0m2 104h0m5 69h0m1 10h0m1-10h0m1-120h0m6-6h0m1 57h0m0 62h0m5-56h0m1-62h0m3 236h0m1-50h0m0 96h0m11-322h0m0 134h0m1-130h0m0 222h0m4-208h0m5 112h0m2-18h0m0 153h0m6-259h0m5-75h0m0 365h0m2-333h0m1 184h0m1 130h0m5-331h0m1 111h0m2 178h0m6 62h0m6 21h0m1-472h0m3 1h0m0 74h0m2 67h0m9 3h0m1-68h0m16 35h0m2-101h0m2 62h0m1-19h0m12-20h0m0 61h0m14-135h0m2 23h0m6 16h0m5-38h0m5 78h0m7-56h0m3 81h0m4-55h0m3 39h0m20-76h0m6-22h0m17-5h0"/>
<path class="p" stroke="#1e9c89" d="M1018 4543h0m5-181h0m12-31h0m15 143h0m6-39h0m4 43h0m13-161h0m1 109h0m0 67h0m2-158h0m1 153h0m3-148h0m2 25h0m4 32h0m4 135h0m3-211h0m9-19h0m1 73h0m4-57h0m1 90h0m3 36h0m0 24h0m1-173h0m2 115h0m0 48h0m1 63h0m1-205h0m2 228h0m1 9h0m1-135h0m1-128h0m1 195h0m0 34h0m4-194h0m12 176h0m13 55h0m3-158h0m6-125h0m1-23h0m3 277h0m3-356h0m3 59h0m1-15h0m125-218h0m20 38h0"/>
<path class="p" stroke="#22a884" d="M1051 4341h0m0 131h0m22-113h0m8 10h0m5 25h0m0 97h0m6-209h0m1 62h0m10 122h0m1 21h0m4-231h0m0 117h0m0 79h0m3 63h0m1-178h0m0 158h0m1-92h0m0 42h0m1-154h0m4 233h0m3-3h0m3-39h0m2-162h0m1 26h0m2-65h0m1 204h0m31-390h0m1 105h0m5-13h0m1-65h0m50-139h0m29 19h0"/>
<path class="p" stroke="#2fb47c" d="M1030 4402h0m73-118h0m6 18h0m139-163h0"/>
<path class="p" stroke="#44bf70" d="M1034 4539h0m24-6h0m167-351h0"/>
<path class="p" stroke="#5ec962" d="M1030 4548h0m16-29h0m7 26h0m2-26h0"/>
<path class="p" stroke="#7ad151" d="M1043 4529h0"/>
<path class="p" stroke="#9bd93c" d="M940 4634h0m148-183h0"/>
<path class="p" stroke="#dfe318" d="M1074 4430h0m14-33h0"/>
<path class="p" stroke="#fde725" d="M1067 4428h0"/>
</g>
<g>
<linearGradient id="gn" gradientUnits="userSpaceOnUse" x1="1803.4" y1="4471.4" x2="2705.2" y2="4234.1"><stop offset="0%" stop-color="#a9dc37"/><stop offset="10%" stop-color="#a9dc37"/><stop offset="14.3%" stop-color="#a9dc37"/><stop offset="19%" stop-color="#7cd254"/><stop offset="20%" stop-color="#75d058"/><stop offset="30%" stop-color="#31b47e"/><stop offset="33.3%" stop-color="#26a986"/><stop offset="40%" stop-color="#229e8b"/><stop offset="47.6%" stop-color="#24928e"/><stop offset="50%" stop-color="#268c8f"/><stop offset="57.1%" stop-color="#2d7a90"/><stop offset="60%" stop-color="#326f90"/><stop offset="66.7%" stop-color="#3e558d"/><stop offset="70%" stop-color="#414c8b"/><stop offset="80%" stop-color="#4a317e"/><stop offset="85.7%" stop-color="#4b2171"/><stop offset="90%" stop-color="#4b2171"/><stop offset="100%" stop-color="#4b2171"/><stop offset="100%" stop-color="#4b2171"/></linearGradient>
<path fill="url(#gn)" stroke="url(#gn)" class="e" d="M2155 4049L2159 4050L2162 4050L2166 4052L2169 4054L2173 4056L2176 4058L2180 4060L2183 4063L2186 4066L2190 4069L2193 4073L2196 4077L2199 4081L2203 4085L2206 4089L2209 4094L2213 4098L2216 4102L2219 4107L2223 4112L2226 4116L2230 4121L2233 4126L2236 4130L2240 4134L2243 4138L2247 4142L2250 4146L2253 4150L2257 4154L2260 4158L2264 4162L2268 4166L2272 4170L2276 4174L2280 4178L2284 4182L2288 4186L2292 4190L2296 4194L2300 4198L2304 4201L2308 4205L2312 4208L2316 4212L2320 4215L2324 4218L2328 4221L2331 4224L2335 4227L2338 4230L2342 4233L2345 4236L2348 4239L2351 4242L2354 4246L2358 4249L2361 4253L2364 4257L2368 4261L2371 4266L2374 4270L2378 4275L2381 4279L2384 4284L2388 4288L2392 4293L2395 4297L2398 4302L2401 4306L2403 4310L2405 4314L2406 4317L2407 4320L2408 4323L2408 4326L2408 4329L2407 4331L2406 4334L2405 4337L2403 4340L2401 4344L2398 4348L2394 4352L2390 4355L2386 4359L2382 4363L2378 4367L2374 4370L2369 4373L2365 4376L2360 4379L2356 4382L2351 4385L2346 4388L2342 4391L2337 4394L2333 4398L2329 4401L2325 4404L2321 4407L2318 4410L2314 4413L2310 4416L2306 4419L2302 4422L2298 4424L2294 4427L2290 4430L2286 4433L2282 4436L2278 4439L2274 4442L2271 4446L2267 4449L2264 4453L2260 4457L2257 4460L2254 4463L2251 4466L2247 4470L2244 4473L2241 4476L2238 4479L2235 4482L2232 4484L2229 4486L2226 4488L2222 4489L2218 4490L2214 4491L2210 4491L2206 4492L2201 4492L2197 4492L2193 4492L2189 4491L2185 4490L2181 4489L2176 4487L2172 4486L2167 4484L2162 4483L2156 4483L2151 4482L2146 4483L2141 4484L2137 4485L2132 4486L2128 4486L2124 4487L2120 4487L2116 4487L2111 4487L2107 4486L2103 4486L2098 4485L2094 4485L2090 4484L2085 4483L2081 4482L2077 4480L2072 4479L2068 4477L2063 4476L2059 4474L2055 4472L2051 4470L2047 4468L2043 4465L2039 4463L2035 4460L2031 4457L2028 4454L2024 4451L2021 4448L2017 4445L2013 4441L2010 4438L2006 4434L2003 4430L2000 4426L1997 4422L1995 4418L1992 4414L1990 4410L1988 4406L1987 4401L1985 4397L1984 4393L1983 4389L1982 4385L1982 4381L1982 4377L1982 4373L1982 4368L1983 4364L1984 4360L1985 4356L1986 4352L1988 4347L1990 4343L1992 4339L1994 4335L1996 4331L1999 4326L2001 4321L2004 4317L2007 4312L2009 4307L2012 4302L2015 4297L2018 4291L2021 4286L2024 4281L2027 4276L2029 4271L2032 4265L2034 4260L2036 4255L2039 4250L2041 4245L2043 4240L2045 4234L2047 4229L2049 4224L2051 4219L2053 4214L2054 4209L2056 4203L2058 4198L2059 4193L2060 4187L2061 4182L2061 4177L2062 4171L2062 4166L2062 4161L2063 4156L2064 4151L2064 4146L2065 4141L2065 4136L2066 4130L2066 4126L2067 4121L2068 4116L2070 4112L2072 4109L2074 4105L2076 4101L2079 4097L2082 4094L2085 4090L2088 4087L2091 4083L2095 4079L2098 4076L2102 4072L2105 4068L2109 4065L2113 4062L2117 4059L2121 4057L2125 4055L2129 4053L2134 4052L2138 4051L2143 4050L2147 4049L2152 4049Z"/>
<path class="p" stroke="#463480" d="M2409 4295h0m9 21h0"/>
<path class="p" stroke="#414487" d="M2392 4267h0m1 96h0m2-109h0m6 65h0m1-35h0m0 25h0m15 32h0m5-76h0m3 85h0m4-99h0m12 69h0m3 31h0m2-10h0m5 0h0m4-6h0m8-54h0m9 19h0"/>
<path class="p" stroke="#3b528b" d="M2355 4237h0m5 9h0m3 151h0m4-142h0m8 140h0m3-86h0m0 41h0m2-108h0m2 39h0m2-14h0m2 9h0m4-17h0m2 34h0m1 82h0m1-97h0m1 9h0m0 63h0m1-41h0m1 13h0m4-13h0m2-23h0m0 158h0m2-117h0m2 76h0m1-98h0m1 47h0m3-11h0m6-13h0m3 79h0m4-131h0m1 143h0m2-55h0m4-23h0"/>
<path class="p" stroke="#355f8d" d="M2293 4157h0m6 52h0m21-6h0m3 18h0m10 8h0m7 18h0m12 62h0m1 7h0m1-71h0m3 119h0m0 22h0m1 36h0m8 2h0m5-28h0m0 10h0m3-134h0m3-3h0m2 67h0m3-33h0m5 2h0m1-79h0m10 164h0m4-104h0m2-2h0m2 66h0m2 75h0m2-72h0m7-26h0m6 87h0m1-47h0m0 40h0m2-66h0m3-8h0m24 2h0"/>
<path class="p" stroke="#2f6c8e" d="M2202 4077h0m3 6h0m33 30h0m34 41h0m5-27h0m1 67h0m13-23h0m5-21h0m5 306h0m9-256h0m11 21h0m1 9h0m1 28h0m4 162h0m6-143h0m0 30h0m2 126h0m4-31h0m6 14h0m3-197h0m3 100h0m0 129h0m3-213h0m0 12h0m7 98h0m0 33h0m0 27h0m6-24h0m3-133h0m1 45h0m2 105h0m9 16h0m11-54h0m2-13h0m1 13h0m11 48h0m23-83h0"/>
<path class="p" stroke="#2a788e" d="M2156 4042h0m6 20h0m2-26h0m10 15h0m8 1h0m29 438h0m17-346h0m7 145h0m1 179h0m2-331h0m1-5h0m8 3h0m4 249h0m10-54h0m3-199h0m3 59h0m9 46h0m1 29h0m3 101h0m10-83h0m9 131h0m5-178h0m3-41h0m0 31h0m10 18h0m7 149h0m1 47h0m9-120h0m2 67h0m2-39h0m1 41h0m8-5h0m2 8h0m7-43h0m3 46h0m10-3h0m0 33h0m8-61h0"/>
<path class="p" stroke="#25848e" d="M2103 4052h0m24 98h0m2-54h0m27-35h0m3-11h0m12 179h0m8-191h0m2 63h0m10 175h0m19-201h0m9 138h0m2-88h0m0 182h0m4-193h0m5 37h0m1 323h0m3-308h0m2 21h0m2-46h0m0 183h0m3-166h0m2-5h0m2-15h0m4 317h0m3-178h0m13 217h0m2-67h0m2-261h0m2 49h0m4 248h0m3-273h0m1-48h0m1 317h0m5 22h0m13-142h0m3-159h0m4 230h0m5-209h0m10 202h0m8-192h0m3 243h0m1-1h0m33-80h0"/>
<path class="p" stroke="#21918c" d="M2043 4168h0m23-35h0m2-10h0m31 112h0m13-162h0m3 89h0m9-85h0m3 8h0m3 201h0m4 212h0m1-369h0m12 16h0m5-84h0m2 427h0m5-196h0m1-256h0m2 284h0m2-199h0m0 375h0m1-253h0m2-69h0m5-87h0m0 42h0m2-88h0m1 25h0m0 40h0m3 171h0m5-81h0m9-125h0m1 325h0m1 91h0m3-377h0m0 205h0m1 110h0m2 66h0m2-325h0m0 110h0m7-31h0m0 38h0m0 104h0m2 124h0m1-9h0m3-405h0m0 195h0m2-49h0m0 250h0m2-63h0m1 80h0m3 24h0m8-297h0m1 252h0m3-381h0m2 385h0m2-8h0m1-88h0m1 31h0m10-101h0m7 128h0m5 9h0m2-11h0m1 6h0m6-298h0m3 329h0m4-52h0m4-4h0m22-30h0m0 1h0m59-15h0"/>
<path class="p" stroke="#1e9c89" d="M2053 4216h0m2-18h0m1 21h0m3-18h0m5-30h0m1 101h0m2-137h0m2-15h0m3-15h0m2 23h0m0 139h0m1-161h0m6 41h0m6-41h0m7 35h0m3-75h0m0 11h0m0 62h0m9-1h0m2 69h0m1-97h0m2 92h0m0 36h0m4 2h0m0 265h0m3-26h0m1-434h0m5 22h0m0 125h0m4-99h0m0 127h0m3-108h0m2 194h0m0 80h0m0 104h0m4-374h0m3 218h0m4-303h0m0 236h0m12-67h0m2 246h0m3-9h0m1-310h0m1 176h0m3 81h0m3-90h0m6 220h0m1-139h0m0 99h0m3-33h0m1 78h0m1-51h0m0 31h0m3-25h0m10-178h0m2-225h0m0 385h0m1-138h0m3 147h0m3-177h0m1 223h0m10 9h0m2-18h0m1-376h0m4 275h0m7-293h0m3 297h0m9 115h0m5-76h0m9 21h0m5 7h0m1-3h0m8 54h0"/>
<path class="p" stroke="#22a884" d="M2032 4190h0m3 20h0m2 73h0m6-85h0m4 33h0m2-18h0m1-21h0m1 26h0m0 91h0m6-87h0m5-81h0m0 8h0m3 49h0m1-63h0m1-40h0m6 379h0m1-359h0m1 34h0m2 108h0m4 75h0m2-59h0m6 12h0m4-177h0m5 391h0m2-178h0m14 86h0m6-7h0m0 89h0m2-180h0m1 101h0m0 83h0m5-196h0m1 8h0m5-26h0m6 219h0m5-248h0m0 17h0m1 236h0m13-231h0m14 219h0m7 6h0m1 0h0m5-6h0m1 0h0m7-85h0m0 76h0m3 16h0m55-28h0"/>
<path class="p" stroke="#2fb47c" d="M2003 4290h0m12 211h0m8-219h0m0 10h0m3 131h0m9 69h0m5-234h0m1 12h0m4-6h0m0 223h0m4-207h0m7-69h0m1 15h0m1 67h0m0 167h0m1 28h0m1-400h0m5 110h0m0 205h0m1-231h0m1 141h0m6 93h0m1 61h0m9 10h0m1-42h0m5 5h0m2-62h0m1 3h0m2 111h0m16-144h0m4 137h0m1-6h0m35 22h0m3-11h0m2-4h0m8 12h0m52 20h0"/>
<path class="p" stroke="#44bf70" d="M1964 4389h0m18-49h0m3 38h0m2 5h0m6-76h0m0 75h0m5-51h0m0 112h0m1-15h0m4-115h0m2-10h0m1 171h0m6-6h0m5-28h0m2-142h0m2-28h0m1 153h0m2 52h0m3 26h0m3-29h0m6-91h0m0 77h0m2-218h0m1 7h0m2 196h0m7-61h0m1 86h0m3-279h0m5 209h0m4-12h0m2 33h0m8 90h0m3-202h0m0 106h0m1-6h0m3 79h0m5-37h0m9 32h0m1 8h0m26-5h0"/>
<path class="p" stroke="#5ec962" d="M1972 4419h0m2-85h0m2-19h0m0 64h0m1-53h0m3-4h0m4 3h0m0 130h0m4-135h0m1 26h0m14 22h0m7-65h0m0 53h0m1-29h0m1-74h0m0 186h0m0 44h0m4-87h0m4 109h0m10-15h0m8-6h0m5-288h0m7 282h0m3 15h0"/>
<path class="p" stroke="#7ad151" d="M1951 4349h0m4 17h0m13-40h0m9 10h0m1 197h0m1-179h0m4 50h0m0 118h0m1-169h0m1 2h0m2-37h0m1 200h0m1-145h0m2 186h0m2-16h0m3-251h0m10 222h0m1 18h0m0 23h0m19-60h0m17-5h0m2 22h0"/>
<path class="p" stroke="#9bd93c" d="M1948 4431h0m29 89h0m6 42h0m8-33h0m16 8h0m1-96h0"/>
<path class="p" stroke="#bddf26" d="M1969 4512h0m3 27h0m2-38h0m0 34h0m14-145h0m2 99h0m1-63h0m10 90h0m5 11h0"/>
<path class="p" stroke="#dfe318" d="M1986 4383h0"/>
<path class="p" stroke="#440154" d="M2580 4355h0"/>
<path class="p" stroke="#471365" d="M2436 4333h0m50-44h0m115 93h0"/>
<path class="p" stroke="#482475" d="M2470 4358h0m30-107h0m4 80h0m12 36h0m6-6h0m7-7h0m10-55h0m1-6h0m7-9h0m39 28h0"/>
<path class="p" stroke="#463480" d="M2391 4433h0m1-122h0m10-71h0m11 8h0m2 124h0m2-56h0m10-30h0m17 27h0m8-37h0m52 76h0"/>
<path class="p" stroke="#414487" d="M2350 4214h0m8 11h0m2 6h0m10 40h0m4-12h0m8 29h0m11 11h0m4 31h0m6-23h0m6 31h0m4 23h0m6-74h0m8-26h0m3 102h0m3 4h0m12-3h0m9-76h0m5 16h0m2-38h0m4 75h0m11-16h0m0 109h0m9-28h0m13-111h0m20 9h0m11 39h0"/>
<path class="p" stroke="#3b528b" d="M2377 4367h0m5-74h0m3-42h0m0 72h0m4-37h0m2-79h0m4 66h0m1 10h0m1-1h0m2-4h0m4 74h0m5-82h0m1-20h0m0 48h0m3 112h0m4-80h0m0 23h0m1-14h0m1-16h0m0 83h0m2-93h0m1 60h0m3-30h0m3 27h0m15-12h0m5 69h0m1-112h0m26 64h0m7-60h0m5 93h0"/>
<path class="p" stroke="#355f8d" d="M2260 4112h0m49 69h0m26 59h0m9-27h0m8 7h0m15 58h0m4-11h0m0 103h0m3-143h0m0 115h0m2 50h0m2-177h0m3 68h0m3 111h0m2-130h0m0 56h0m18 61h0m1-140h0m0 32h0m11 108h0m5-115h0m2 61h0m2 20h0m8-11h0m6-19h0m0 25h0m8-88h0"/>
<path class="p" stroke="#2f6c8e" d="M2204 4073h0m23 55h0m18-2h0m6-13h0m16 40h0m1 21h0m1-69h0m0 68h0m9-54h0m5 16h0m22 32h0m3 81h0m1-53h0m10 80h0m3-84h0m0 205h0m8-222h0m0 50h0m1 77h0m6-172h0m1 18h0m6 27h0m0 233h0m3-1h0m4-50h0m6-7h0m2 82h0m2-190h0m2 134h0m5 14h0m0 12h0m6 25h0m21-5h0m2-7h0m3-25h0m2 19h0m13-138h0"/>
<path class="p" stroke="#2a788e" d="M2193 4098h0m25 70h0m8-78h0m4 8h0m12 26h0m4 54h0m2-60h0m1 32h0m1-2h0m5-30h0m5 63h0m3 44h0m10-35h0m7-23h0m3 115h0m4-78h0m0 326h0m1-364h0m11 129h0m4-158h0m0 303h0m8-93h0m3-169h0m5-28h0m1-13h0m0 289h0m5 63h0m1-51h0m3-20h0m6 20h0m6-38h0m5-46h0m3 50h0m35 11h0"/>
<path class="p" stroke="#25848e" d="M2136 4046h0m24 7h0m3 7h0m3 1h0m18-1h0m15 141h0m0 287h0m1-244h0m6-139h0m2-18h0m6 249h0m2-244h0m9 395h0m6-348h0m0 6h0m4 336h0m2-385h0m3 45h0m4 217h0m4-68h0m12 79h0m0 48h0m4-150h0m5 127h0m2-250h0m6 147h0m1 234h0m4-163h0m3 94h0m1-155h0m5-121h0m2 186h0m0 73h0m2 0h0m1 22h0m10-148h0m8 140h0m7-239h0m9 187h0m25 5h0"/>
<path class="p" stroke="#21918c" d="M1998 4182h0m10 6h0m12-141h0m16 108h0m2-47h0m4-48h0m10 39h0m12-32h0m5-84h0m6 51h0m1 14h0m19-28h0m0 13h0m10 45h0m16-16h0m1-40h0m1 29h0m1 47h0m14-23h0m2-56h0m6-22h0m2 288h0m2-183h0m1 69h0m5 324h0m5-415h0m1 76h0m1 163h0m2-319h0m1-15h0m6 262h0m3-79h0m3-100h0m1 103h0m4 56h0m2-201h0m0 294h0m7-241h0m1-15h0m5 85h0m0 321h0m1-22h0m1-46h0m4-345h0m0 183h0m2-82h0m1 141h0m2-241h0m2 214h0m2 272h0m2-521h0m4 281h0m2-298h0m0 255h0m5-150h0m1 140h0m1 69h0m0 203h0m0 16h0m1-185h0m1 84h0m4-294h0m2 127h0m1 183h0m0 99h0m12-32h0m1-107h0m2 145h0m7-125h0m2-146h0m0 21h0m3 181h0m3-410h0m0 319h0m0 67h0m1-3h0m1-32h0m1-279h0m0 262h0m1-331h0m3 396h0m1-99h0m16 51h0m7 18h0"/>
<path class="p" stroke="#1e9c89" d="M2025 4235h0m19-2h0m23-93h0m3-23h0m2-19h0m1-31h0m4 49h0m7-21h0m9 24h0m2-14h0m4-23h0m3 51h0m1 385h0m1-448h0m9 277h0m1 3h0m9-147h0m3 300h0m3-269h0m2 255h0m3-7h0m4-302h0m3 323h0m1-51h0m1 61h0m1-50h0m4 16h0m1-87h0m8 32h0m2 65h0m4 35h0m1-136h0m6 60h0m4 56h0m10-20h0m8 61h0m2-315h0m2 35h0m1-8h0m1 180h0m4 43h0m16-110h0m4-5h0m0 157h0m5-60h0m9 22h0m7-11h0m5 52h0m2-465h0m10 385h0"/>
<path class="p" stroke="#22a884" d="M1956 4303h0m18 11h0m28-96h0m6 74h0m9 3h0m3-36h0m21-31h0m8 3h0m3 46h0m2-37h0m0 48h0m1-150h0m0 33h0m2-6h0m9 347h0m2-323h0m0 11h0m1 77h0m0 65h0m7-147h0m10-108h0m3 408h0m1-35h0m4-192h0m6 261h0m9-298h0m1 260h0m1-100h0m3-164h0m1 192h0m0 30h0m1-149h0m4 232h0m1-355h0m8 209h0m3 38h0m4 129h0m2-36h0m1-184h0m0 105h0m2 24h0m1 35h0m4-225h0m9 80h0m11 53h0m6 6h0m1 30h0m9 119h0m18-88h0"/>
<path class="p" stroke="#2fb47c" d="M1958 4464h0m15 7h0m4-198h0m3 70h0m30-101h0m2 30h0m5 5h0m4 11h0m1 11h0m3 194h0m2-204h0m2-43h0m5-11h0m0 226h0m1-207h0m0 14h0m1-51h0m5 34h0m2-13h0m4 98h0m4-110h0m0 37h0m5-110h0m5 250h0m0 77h0m5 35h0m1-140h0m6 96h0m4 14h0m3-189h0m0 123h0m10-333h0m1-11h0m33 409h0m9 1h0m27-2h0m12 34h0m14-32h0"/>
<path class="p" stroke="#44bf70" d="M1900 4430h0m61-139h0m2 42h0m13-25h0m2 67h0m9-27h0m2-21h0m2 40h0m2-89h0m0 58h0m1 80h0m2 37h0m1 42h0m1-190h0m0 4h0m0 27h0m4-36h0m4 110h0m2-114h0m3-16h0m1 231h0m2-43h0m13-219h0m1 177h0m2-108h0m3 194h0m1 0h0m7-204h0m2-79h0m11 130h0m3 176h0m13-54h0m4-2h0m20 11h0m37-1h0"/>
<path class="p" stroke="#5ec962" d="M1968 4358h0m7 16h0m2 8h0m20 36h0m5-95h0m3 166h0m4-9h0m3-64h0m1 17h0m7-110h0m9 138h0m6 29h0m2-10h0m11 46h0"/>
<path class="p" stroke="#7ad151" d="M1939 4297h0m21 97h0m3 34h0m3-52h0m1 50h0m2-10h0m2-77h0m0 32h0m6 134h0m3-85h0m5 128h0m8-198h0m2 137h0m18-216h0m13 189h0"/>
<path class="p" stroke="#9bd93c" d="M1944 4404h0m7 24h0m8-41h0m3 7h0m16 57h0m3 65h0m0 12h0m1-36h0m1-66h0m3 3h0m1-27h0m2 100h0m0 55h0m4-1h0m1 2h0m5-24h0m4 4h0m3-48h0m4-67h0"/>
<path class="p" stroke="#bddf26" d="M1935 4485h0m16-12h0m22 46h0m0 10h0m4 17h0m3 19h0m6-73h0m16 19h0"/>
<path class="p" stroke="#dfe318" d="M1958 4399h0"/>
<path class="p" stroke="#fde725" d="M1879 4634h0"/>
</g>
<g>
<linearGradient id="go" gradientUnits="userSpaceOnUse" x1="2745.3" y1="4414.9" x2="3599.6" y2="4374.2"><stop offset="0%" stop-color="#4a2d7c"/><stop offset="10%" stop-color="#4a2d7c"/><stop offset="16.7%" stop-color="#4a2d7c"/><stop offset="20%" stop-color="#493580"/><stop offset="27.8%" stop-color="#444689"/><stop offset="30%" stop-color="#3f508c"/><stop offset="38.9%" stop-color="#2f7590"/><stop offset="40%" stop-color="#2e7790"/><stop offset="50%" stop-color="#27888f"/><stop offset="55.6%" stop-color="#24928e"/><stop offset="60%" stop-color="#229d8b"/><stop offset="69.4%" stop-color="#32b57e"/><stop offset="70%" stop-color="#35b77c"/><stop offset="77.8%" stop-color="#7cd254"/><stop offset="80%" stop-color="#9fda3e"/><stop offset="83.3%" stop-color="#d3e21f"/><stop offset="90%" stop-color="#d3e21f"/><stop offset="100%" stop-color="#d3e21f"/></linearGradient>
<path fill="url(#go)" stroke="url(#go)" class="e" d="M3135 4161L3139 4159L3143 4157L3148 4155L3152 4153L3156 4152L3161 4150L3165 4149L3169 4148L3173 4148L3177 4148L3181 4148L3185 4148L3190 4149L3194 4150L3198 4151L3201 4152L3205 4154L3209 4156L3212 4159L3216 4161L3220 4164L3223 4168L3227 4171L3231 4174L3235 4177L3239 4180L3243 4184L3247 4187L3251 4191L3255 4194L3259 4198L3263 4201L3267 4204L3271 4208L3275 4211L3279 4215L3283 4218L3287 4221L3291 4225L3294 4228L3298 4232L3302 4235L3306 4238L3310 4242L3314 4245L3318 4248L3322 4252L3326 4255L3330 4259L3334 4262L3338 4265L3342 4269L3346 4272L3350 4276L3354 4279L3358 4282L3361 4285L3364 4289L3368 4292L3371 4295L3374 4299L3377 4302L3381 4306L3385 4309L3389 4313L3393 4316L3397 4320L3401 4323L3405 4327L3409 4330L3413 4333L3417 4337L3420 4340L3424 4343L3428 4346L3432 4348L3435 4351L3438 4353L3440 4356L3443 4358L3445 4361L3447 4364L3449 4367L3451 4370L3453 4373L3454 4376L3454 4379L3455 4382L3455 4385L3455 4388L3454 4391L3453 4395L3452 4399L3450 4402L3449 4406L3447 4409L3445 4412L3442 4415L3439 4418L3436 4421L3433 4423L3429 4426L3425 4429L3422 4432L3418 4435L3414 4437L3409 4440L3405 4442L3400 4445L3396 4447L3391 4449L3387 4451L3382 4453L3377 4455L3372 4457L3367 4458L3362 4460L3357 4461L3352 4463L3347 4465L3341 4466L3336 4468L3331 4470L3326 4472L3321 4473L3316 4475L3311 4477L3306 4478L3301 4480L3296 4482L3291 4483L3286 4485L3280 4487L3275 4488L3270 4490L3265 4492L3260 4494L3255 4496L3250 4498L3244 4500L3239 4502L3234 4504L3229 4506L3224 4508L3219 4510L3214 4511L3209 4513L3204 4515L3199 4516L3194 4518L3189 4520L3184 4521L3179 4523L3173 4524L3168 4526L3162 4527L3156 4529L3151 4530L3145 4531L3140 4532L3134 4533L3128 4534L3123 4535L3117 4536L3112 4536L3106 4537L3101 4537L3096 4537L3091 4536L3086 4536L3081 4535L3076 4534L3071 4533L3066 4532L3062 4530L3058 4528L3054 4526L3050 4524L3046 4522L3042 4519L3038 4517L3035 4514L3032 4511L3028 4507L3025 4504L3022 4500L3020 4496L3017 4492L3014 4487L3012 4482L3009 4478L3007 4473L3005 4468L3003 4464L3001 4459L2999 4454L2998 4449L2996 4444L2995 4439L2994 4434L2993 4429L2992 4424L2991 4419L2991 4414L2990 4409L2990 4404L2990 4399L2990 4395L2990 4390L2990 4385L2990 4380L2991 4375L2991 4370L2992 4365L2993 4360L2994 4355L2995 4350L2996 4345L2998 4340L2999 4335L3001 4331L3003 4326L3005 4321L3007 4316L3009 4312L3012 4307L3014 4303L3017 4299L3020 4294L3023 4290L3026 4286L3029 4281L3032 4277L3035 4272L3039 4268L3042 4263L3046 4259L3049 4254L3053 4250L3056 4245L3059 4241L3063 4236L3066 4231L3070 4227L3073 4222L3076 4218L3080 4213L3083 4209L3086 4205L3090 4201L3093 4196L3096 4192L3100 4188L3103 4185L3106 4181L3109 4178L3113 4175L3116 4173L3118 4171L3121 4169L3125 4167L3128 4165L3131 4163Z"/>
<clipPath id="co"><path d="M3135 4161L3139 4159L3143 4157L3148 4155L3152 4153L3156 4152L3161 4150L3165 4149L3169 4148L3173 4148L3177 4148L3181 4148L3185 4148L3190 4149L3194 4150L3198 4151L3201 4152L3205 4154L3209 4156L3212 4159L3216 4161L3220 4164L3223 4168L3227 4171L3231 4174L3235 4177L3239 4180L3243 4184L3247 4187L3251 4191L3255 4194L3259 4198L3263 4201L3267 4204L3271 4208L3275 4211L3279 4215L3283 4218L3287 4221L3291 4225L3294 4228L3298 4232L3302 4235L3306 4238L3310 4242L3314 4245L3318 4248L3322 4252L3326 4255L3330 4259L3334 4262L3338 4265L3342 4269L3346 4272L3350 4276L3354 4279L3358 4282L3361 4285L3364 4289L3368 4292L3371 4295L3374 4299L3377 4302L3381 4306L3385 4309L3389 4313L3393 4316L3397 4320L3401 4323L3405 4327L3409 4330L3413 4333L3417 4337L3420 4340L3424 4343L3428 4346L3432 4348L3435 4351L3438 4353L3440 4356L3443 4358L3445 4361L3447 4364L3449 4367L3451 4370L3453 4373L3454 4376L3454 4379L3455 4382L3455 4385L3455 4388L3454 4391L3453 4395L3452 4399L3450 4402L3449 4406L3447 4409L3445 4412L3442 4415L3439 4418L3436 4421L3433 4423L3429 4426L3425 4429L3422 4432L3418 4435L3414 4437L3409 4440L3405 4442L3400 4445L3396 4447L3391 4449L3387 4451L3382 4453L3377 4455L3372 4457L3367 4458L3362 4460L3357 4461L3352 4463L3347 4465L3341 4466L3336 4468L3331 4470L3326 4472L3321 4473L3316 4475L3311 4477L3306 4478L3301 4480L3296 4482L3291 4483L3286 4485L3280 4487L3275 4488L3270 4490L3265 4492L3260 4494L3255 4496L3250 4498L3244 4500L3239 4502L3234 4504L3229 4506L3224 4508L3219 4510L3214 4511L3209 4513L3204 4515L3199 4516L3194 4518L3189 4520L3184 4521L3179 4523L3173 4524L3168 4526L3162 4527L3156 4529L3151 4530L3145 4531L3140 4532L3134 4533L3128 4534L3123 4535L3117 4536L3112 4536L3106 4537L3101 4537L3096 4537L3091 4536L3086 4536L3081 4535L3076 4534L3071 4533L3066 4532L3062 4530L3058 4528L3054 4526L3050 4524L3046 4522L3042 4519L3038 4517L3035 4514L3032 4511L3028 4507L3025 4504L3022 4500L3020 4496L3017 4492L3014 4487L3012 4482L3009 4478L3007 4473L3005 4468L3003 4464L3001 4459L2999 4454L2998 4449L2996 4444L2995 4439L2994 4434L2993 4429L2992 4424L2991 4419L2991 4414L2990 4409L2990 4404L2990 4399L2990 4395L2990 4390L2990 4385L2990 4380L2991 4375L2991 4370L2992 4365L2993 4360L2994 4355L2995 4350L2996 4345L2998 4340L2999 4335L3001 4331L3003 4326L3005 4321L3007 4316L3009 4312L3012 4307L3014 4303L3017 4299L3020 4294L3023 4290L3026 4286L3029 4281L3032 4277L3035 4272L3039 4268L3042 4263L3046 4259L3049 4254L3053 4250L3056 4245L3059 4241L3063 4236L3066 4231L3070 4227L3073 4222L3076 4218L3080 4213L3083 4209L3086 4205L3090 4201L3093 4196L3096 4192L3100 4188L3103 4185L3106 4181L3109 4178L3113 4175L3116 4173L3118 4171L3121 4169L3125 4167L3128 4165L3131 4163Z"/></clipPath><g clip-path="url(#co)">
<radialGradient id="ro0"><stop offset="0" stop-color="#3b5a8e" stop-opacity="0.7"/><stop offset="1" stop-color="#3b5a8e" stop-opacity="0"/></radialGradient>
<circle cx="3163" cy="4087" r="158" fill="url(#ro0)"/>
</g>
<path class="p" stroke="#471365" d="M2914 4550h0m11-25h0m11 17h0"/>
<path class="p" stroke="#482475" d="M2911 4525h0m1 18h0m3-17h0m6 6h0m2 0h0m7-8h0m15-221h0m9 10h0m5 68h0"/>
<path class="p" stroke="#463480" d="M2942 4411h0m7 114h0m18-176h0m1 70h0m2-106h0m0 30h0m2 135h0m4-105h0m1-35h0m0 42h0m0 49h0m2-109h0m0 92h0m0 30h0m4-161h0m2 130h0m4-73h0m0 193h0m1-109h0m6 86h0m5-145h0"/>
<path class="p" stroke="#414487" d="M2947 4360h0m3-40h0m0 21h0m0 171h0m4 6h0m7-130h0m0 41h0m1 12h0m0 22h0m3 35h0m1-150h0m2 132h0m1-167h0m0 166h0m2-202h0m0 82h0m0 132h0m1-128h0m1 147h0m1-178h0m1 70h0m1 19h0m1-109h0m4 28h0m1 82h0m1-123h0m0 21h0m1 137h0m2-115h0m2-82h0m0 183h0m1-115h0m0 15h0m1 80h0m0 76h0m5-130h0m3-82h0m1 224h0m3-234h0m0 72h0m4-47h0m0 181h0m3 5h0m1-71h0m1 55h0m1-102h0m7-117h0m5 217h0"/>
<path class="p" stroke="#3b528b" d="M2958 4465h0m7-14h0m6-4h0m3-89h0m3-24h0m3 102h0m5-97h0m3 141h0m3-137h0m3 44h0m1-137h0m2 253h0m3-24h0m2-179h0m0 5h0m3 159h0m2-107h0m1 103h0m2-147h0m0 172h0m6-14h0m3-100h0m0 131h0m3-232h0m7 5h0m0 129h0m3-17h0m2-175h0m4 335h0m6-194h0m3 197h0m1-325h0m21 328h0"/>
<path class="p" stroke="#355f8d" d="M2965 4343h0m25-97h0m0 97h0m3 72h0m7 37h0m2-93h0m3-19h0m3 8h0m1-75h0m0 7h0m0 101h0m4-62h0m6-19h0m2 14h0m1-4h0m5-16h0m1 18h0m0 50h0m0 120h0m3-145h0m0 191h0m4-152h0m1-102h0m1 51h0m5-83h0m4 298h0m3-19h0m2-33h0m7 2h0m21-224h0m22-104h0m24-20h0m1 19h0m2 373h0m32-411h0m7 27h0"/>
<path class="p" stroke="#2f6c8e" d="M3017 4544h0m1-3h0m2-278h0m6 12h0m0 34h0m9-56h0m4-15h0m4-15h0m0 183h0m3-216h0m1 142h0m3-21h0m1-66h0m3 312h0m1-30h0m3-137h0m0 36h0m1 58h0m2-86h0m4-132h0m1 28h0m1 249h0m2-129h0m0 162h0m2-451h0m3 167h0m0 177h0m1-40h0m2-228h0m3 334h0m2-141h0m2 76h0m3-144h0m2-151h0m2 381h0m13-459h0m0 37h0m2 62h0m3-29h0m1-28h0m5 27h0m25-58h0m0 39h0m0 222h0m4-211h0m3-3h0m3 386h0m19-17h0m2-377h0m12 2h0m3 6h0m20-9h0"/>
<path class="p" stroke="#2a788e" d="M3032 4198h0m1 219h0m4-165h0m1-25h0m6 43h0m15-61h0m3 184h0m1-193h0m0 179h0m3-130h0m0 35h0m5-81h0m0 130h0m1-103h0m5-14h0m3 21h0m3-36h0m1 105h0m7-43h0m0 33h0m1-45h0m1 159h0m3 88h0m2-299h0m1 63h0m0 201h0m2-327h0m1 189h0m1-196h0m2 80h0m0 63h0m7 42h0m1 59h0m1-275h0m2 313h0m2-230h0m1 34h0m2 334h0m1-380h0m2 6h0m1-41h0m4 55h0m0 354h0m1-209h0m1 200h0m3-115h0m2-209h0m1-28h0m2 68h0m4-100h0m7 171h0m3 190h0m4 14h0m5-369h0m1 230h0m1-181h0m7 92h0m1 115h0m3-293h0m6-12h0m2 41h0m5 380h0m15-369h0m16-2h0"/>
<path class="p" stroke="#25848e" d="M3082 4206h0m3 320h0m23 24h0m7-364h0m0 183h0m2 111h0m1 53h0m4-268h0m12 84h0m6-205h0m3-2h0m0 269h0m4 113h0m9-322h0m1 19h0m1 146h0m2-16h0m0 42h0m1 71h0m1-129h0m1 153h0m1 34h0m2 4h0m3-235h0m8 84h0m1 143h0m1-286h0m3-20h0m0 167h0m2-140h0m2 256h0m1-75h0m0 128h0m4-366h0m1 329h0m0 3h0m2-295h0m0 6h0m13-55h0m3 339h0m4-309h0m1 315h0m1-144h0m3-204h0m2-6h0m3 0h0m3 4h0m2-13h0m4 59h0m3-31h0m4-8h0m2-28h0m21 134h0"/>
<path class="p" stroke="#21918c" d="M3137 4527h0m2 27h0m14-116h0m1-90h0m14-29h0m4 208h0m9-220h0m0 221h0m2 10h0m1-12h0m2-68h0m2-84h0m4 9h0m0 55h0m1 97h0m3-141h0m2-13h0m3-14h0m2 63h0m19-262h0m1 251h0m3-184h0m4 139h0m1 143h0m2-213h0m0 200h0m1-201h0m0 123h0m1-84h0m2 88h0m2-248h0m1 248h0m2 67h0m6 2h0m3-143h0m1-166h0m1 182h0m4-4h0m1 112h0m7-280h0m6 11h0m14 8h0"/>
<path class="p" stroke="#1e9c89" d="M3224 4446h0m3-7h0m2-170h0m10 141h0m0 101h0m2-139h0m0 102h0m6 45h0m1-292h0m0 207h0m5 8h0m1-118h0m1-43h0m5 206h0m3-187h0m1-98h0m1 71h0m0 90h0m8-169h0m0 150h0m3 54h0m2 92h0m1-320h0m9 203h0m1 125h0m3-262h0m0 133h0m2 103h0m30 4h0m8-235h0"/>
<path class="p" stroke="#22a884" d="M3237 4241h0m16-52h0m0 127h0m8-65h0m8-45h0m0 77h0m8 102h0m1-206h0m0 284h0m8-9h0m1-173h0m0 129h0m4 83h0m2-272h0m2 167h0m2-150h0m2 27h0m0 89h0m1-114h0m1 239h0m4-195h0m2 122h0m3-170h0m1 117h0m7 122h0m10-85h0m1 87h0m37-20h0"/>
<path class="p" stroke="#2fb47c" d="M3271 4479h0m4-11h0m19-93h0m4 109h0m6-246h0m3 20h0m1 148h0m9 7h0m3-165h0m2 180h0m2 58h0m5-42h0m1-55h0m3-112h0m1 42h0m5-49h0m0 154h0m4-111h0m18 144h0m5 5h0m3 0h0m13-169h0m13 142h0"/>
<path class="p" stroke="#44bf70" d="M3296 4486h0m25-225h0m17 68h0m2 36h0m1-87h0m5 157h0m7-5h0m3-175h0m6 26h0m0 177h0m1-11h0m4-48h0m1-95h0m1 137h0m2 11h0m2-56h0m4 12h0m10-90h0m11 2h0"/>
<path class="p" stroke="#5ec962" d="M3338 4249h0m14 214h0m11-178h0m11 8h0m2 134h0m6-23h0m4-100h0m0 53h0m19 83h0m11 4h0m0 12h0"/>
<path class="p" stroke="#7ad151" d="M3390 4323h0m4 140h0m1-146h0m1 1h0m9 9h0m10-12h0m2 122h0m2-2h0m1-100h0m10 111h0m5-85h0m32 32h0"/>
<path class="p" stroke="#9bd93c" d="M3434 4341h0m2 35h0m2 30h0m3-53h0m12 46h0m1-16h0"/>
<path class="p" stroke="#bddf26" d="M3432 4407h0m1-33h0m3-40h0m3-7h0m4 74h0m1 4h0m3-13h0m1-22h0m3-15h0m0 41h0m0 28h0m1-66h0m0 29h0m7-44h0m2-17h0m9-5h0m7 88h0"/>
<path class="p" stroke="#dfe318" d="M3416 4343h0m33 19h0m15 86h0m11-63h0m29-2h0"/>
<path class="p" stroke="#fde725" d="M3448 4408h0m16-28h0m9-12h0"/>
<path class="p" stroke="#440154" d="M2946 4428h0m7 2h0m14-33h0"/>
<path class="p" stroke="#471365" d="M2819 4634h0m148-183h0"/>
<path class="p" stroke="#482475" d="M2910 4548h0m3-9h0m9-10h0m4-10h0m7 26h0m1-26h0m3 14h0m38-2h0m10-98h0m120-251h0"/>
<path class="p" stroke="#463480" d="M2909 4402h0m5-71h0m16 141h0m22-155h0m1 109h0m2-91h0m1 153h0m9-91h0m1 94h0m3-35h0m7-160h0m6 41h0m1 150h0m3-81h0m2 0h0m4-16h0m5 134h0m4-5h0m3-288h0m36-136h0m1 105h0m5-13h0m1-65h0m50-139h0m29 19h0m1 137h0"/>
<path class="p" stroke="#414487" d="M2897 4543h0m5-181h0m27 112h0m1-133h0m2 63h0m1 11h0m2 20h0m5-112h0m0 155h0m10-81h0m2-38h0m1 134h0m2-28h0m2 33h0m2-158h0m1-17h0m0 188h0m1-146h0m0 4h0m1 172h0m3-196h0m5 187h0m2-211h0m1-10h0m9-9h0m1 164h0m4-148h0m0 90h0m1 8h0m2 28h0m4-34h0m0 111h0m1-241h0m1 57h0m0 62h0m2 145h0m0 9h0m3-210h0m1-62h0m3 236h0m1-50h0m0 96h0m2-233h0m2 136h0m1-195h0m8 196h0m2 6h0m1-214h0m18-87h0m25-85h0m3 1h0m30 10h0m16 23h0m31 5h0m30-129h0m7 62h0m6-22h0m7-2h0m10-3h0"/>
<path class="p" stroke="#3b528b" d="M2904 4297h0m12 38h0m8-17h0m2-16h0m7-36h0m7 7h0m2 27h0m23 94h0m7-112h0m0 62h0m7-111h0m3 142h0m5-2h0m1 79h0m1-166h0m1 182h0m1-173h0m0 220h0m1-70h0m0 50h0m1-204h0m0 167h0m2-142h0m4 102h0m2-128h0m0 195h0m4-160h0m12-84h0m0 134h0m1-130h0m3 1h0m1 5h0m7 102h0m7-130h0m6 275h0m3 68h0m21-369h0m2-35h0m12 2h0m31-106h0m6-7h0m6 49h0m4-53h0m3 23h0m10-22h0m12 22h0m7 26h0m6-13h0m26-9h0m6 12h0m41-12h0"/>
<path class="p" stroke="#355f8d" d="M2910 4304h0m0 9h0m48 177h0m26 93h0m3-327h0m2 46h0m0 210h0m3-175h0m0 66h0m8 118h0m4-39h0m13 19h0m11-130h0m1 135h0m1 50h0m6-309h0m4 290h0m4-174h0m0 253h0m1-98h0m7-321h0m5 43h0m15 337h0m3-13h0m4-369h0m2-41h0m22 6h0m38-57h0m21 36h0m0 4h0m6-3h0m9-32h0m45 1h0m14 13h0"/>
<path class="p" stroke="#2f6c8e" d="M2983 4284h0m22 36h0m2 26h0m1-65h0m1 204h0m24-87h0m6-125h0m4-69h0m0 323h0m1-139h0m4-151h0m1-50h0m1 111h0m2 178h0m6 62h0m2-185h0m2-99h0m0 108h0m1 7h0m0 88h0m1-215h0m0 317h0m1-345h0m0 14h0m0 25h0m2-102h0m6 259h0m5 66h0m1-285h0m0 229h0m1-10h0m3-233h0m0 31h0m2 61h0m6-116h0m5 108h0m5 296h0m1-11h0m2-399h0m9 20h0m17-1h0m5-80h0m1 58h0m4 9h0m6 5h0m14-28h0m1-32h0m10 427h0m5-385h0m20-2h0m4 30h0m1-49h0m39 38h0"/>
<path class="p" stroke="#2a788e" d="M3040 4250h0m6-79h0m4 59h0m1-15h0m23-36h0m1 25h0m8-68h0m4 68h0m4 27h0m4-15h0m5-56h0m1-19h0m2-26h0m1 73h0m0 348h0m1-14h0m15 10h0m4-210h0m4 27h0m4-201h0m3 292h0m14-249h0m2 367h0m0 8h0m6-389h0m6-42h0m1 2h0m7 55h0m0 358h0m4-426h0m6 45h0m0 395h0m7-2h0m1-415h0m0 433h0m12-417h0m10-1h0m10-18h0m55 40h0"/>
<path class="p" stroke="#25848e" d="M3070 4229h0m9 3h0m18-33h0m5 333h0m11-350h0m7 362h0m8-275h0m8-33h0m4 126h0m11 165h0m1-199h0m0 97h0m0 99h0m1 20h0m2-393h0m7-9h0m2 417h0m2-29h0m2-211h0m0 204h0m7-309h0m10 250h0m0 69h0m2-318h0m3-55h0m0 78h0m3 164h0m2-134h0m2-76h0m3 206h0m3 114h0m1-329h0m12-20h0m6 219h0m3-231h0m14 21h0m5 1h0m3 26h0m6-26h0"/>
<path class="p" stroke="#21918c" d="M3151 4517h0m1-273h0m18 154h0m12 127h0m5 9h0m3-39h0m3 45h0m6 5h0m2-34h0m4-154h0m0 75h0m3 20h0m1-169h0m0 108h0m0 139h0m5-310h0m7-62h0m5-39h0m1 239h0m0 142h0m8-242h0m6-63h0m0 4h0m2 77h0m1 141h0m19 82h0m2-164h0m59-120h0m2 11h0"/>
<path class="p" stroke="#1e9c89" d="M3177 4527h0m33-13h0m17-249h0m9-91h0m12 132h0m1-25h0m3 129h0m1-9h0m0 41h0m3 54h0m1-32h0m3-26h0m8-233h0m5 5h0m2 12h0m2 141h0m5 20h0m7-156h0m4 67h0m8 206h0m12-260h0"/>
<path class="p" stroke="#22a884" d="M3218 4545h0m20-368h0m7 321h0m16-187h0m4-84h0m3 161h0m14 101h0m3-103h0m4-98h0m2 53h0m3-107h0m0 180h0m1-179h0m3 15h0m0 10h0m3-38h0m5 4h0m5 91h0m0 110h0m7 23h0m3 35h0m1-64h0m8-179h0m0 213h0m5-202h0m5 91h0"/>
<path class="p" stroke="#2fb47c" d="M3318 4430h0m1-42h0m2 106h0m4-16h0m1-214h0m5 63h0m0 142h0m2-161h0m4 157h0m4-216h0m0 4h0m11-16h0m4 89h0m0 160h0m9-235h0m7 78h0"/>
<path class="p" stroke="#44bf70" d="M3276 4525h0m46-282h0m3 228h0m1 17h0m12-224h0m2-17h0m2 226h0m6-161h0m5-29h0m4 173h0m1-235h0m0 165h0m2-117h0m0 151h0m2-184h0m1 224h0m3-168h0m3 110h0m5-181h0m0 192h0m18-118h0m0 14h0m10 25h0m27 91h0"/>
<path class="p" stroke="#5ec962" d="M3363 4452h0m7-148h0m10 137h0m1 3h0m7-46h0m3-80h0m0 124h0m2-151h0m0 92h0m1-22h0m1-57h0m2 135h0m1-37h0m1-83h0m2 129h0m1-103h0m4-7h0m6 30h0m11-29h0"/>
<path class="p" stroke="#7ad151" d="M3346 4491h0m38-172h0m3-43h0m13 78h0m1-72h0m5 90h0m11-60h0m12 109h0m5-66h0"/>
<path class="p" stroke="#9bd93c" d="M3406 4375h0m14-50h0m4 123h0m4-167h0m0 62h0m2 19h0m1 5h0m5 70h0m13-7h0m13 25h0m3 52h0m18-175h0m32 74h0"/>
<path class="p" stroke="#bddf26" d="M3308 4517h0m8 11h0m82-37h0m9-13h0m20-28h0m3-166h0m3 78h0m9 42h0m0 62h0m6 22h0m3-92h0m15 21h0m4-45h0m2 55h0m6-21h0m1 52h0m1-18h0m7-81h0m4-29h0m1 85h0m3 25h0m2-61h0m9 17h0m5-69h0m3 49h0m7 19h0m12-20h0"/>
<path class="p" stroke="#dfe318" d="M3414 4313h0m34 54h0m2-67h0m0 89h0m1-29h0m6-5h0m3 10h0m2 37h0m1 18h0m19-63h0m2 31h0m14-33h0m3 34h0m34 75h0"/>
<path class="p" stroke="#fde725" d="M3456 4353h0m3 59h0"/>
</g>
<path d="M905 856.3H1702.5" stroke="#777" stroke-width="1.3"/>
<path d="M959.6 945.9H1665" stroke="#ababab" stroke-width="4"/>
<rect x="1700.8" y="855.7" width="2.2" height="3" fill="#111"/>
<rect x="982.6" y="861" width="29.9" height="85.1" fill="#fde725" fill-opacity=".7"/>
<rect x="1020.2" y="889.9" width="29.9" height="56.2" fill="#65cb5e" fill-opacity=".7"/>
<rect x="1057.9" y="890.9" width="29.9" height="55.3" fill="#63cb5f" fill-opacity=".7"/>
<rect x="1095.5" y="899.9" width="29.9" height="46.2" fill="#3dbc74" fill-opacity=".7"/>
<rect x="1133.2" y="909.4" width="29.9" height="36.8" fill="#24aa83" fill-opacity=".7"/>
<rect x="1170.8" y="919.4" width="29.9" height="26.8" fill="#1f968b" fill-opacity=".7"/>
<rect x="1208.5" y="927.5" width="29.9" height="18.6" fill="#24868e" fill-opacity=".7"/>
<rect x="1246.2" y="933.8" width="29.9" height="12.4" fill="#297b8e" fill-opacity=".7"/>
<rect x="1283.8" y="939.1" width="29.9" height="7" fill="#2d708e" fill-opacity=".7"/>
<rect x="1321.5" y="943.6" width="29.9" height="2.5" fill="#31678e" fill-opacity=".7"/>
<rect x="1359.1" y="946.1" width="29.9" height="1.2" fill="#355f8d" fill-opacity=".7"/>
<rect x="1396.8" y="946.1" width="29.9" height="5.4" fill="#39568c" fill-opacity=".7"/>
<rect x="1434.4" y="946.1" width="29.9" height="11.6" fill="#3f4889" fill-opacity=".7"/>
<rect x="1472" y="946.1" width="29.9" height="16.9" fill="#443b84" fill-opacity=".7"/>
<rect x="1509.7" y="946.1" width="29.9" height="20.6" fill="#46327e" fill-opacity=".7"/>
<rect x="1547.3" y="946.1" width="29.9" height="23.5" fill="#472a7a" fill-opacity=".7"/>
<rect x="1585" y="946.1" width="29.9" height="26.4" fill="#482374" fill-opacity=".7"/>
<rect x="1622.7" y="946.1" width="29.9" height="32.6" fill="#471164" fill-opacity=".7"/>
<path d="M905 856.3V1035.3H1702.5" stroke="#000" stroke-width="2.3" fill="none" stroke-linecap="square"/>
<path d="M893.8 861.5H905" stroke="#000" stroke-width="1.8"/>
<text class="t" x="881.2" y="880.6" text-anchor="end">11</text>
<path d="M893.8 945.8H905" stroke="#000" stroke-width="1.8"/>
<text class="t" x="881.2" y="964.9" text-anchor="end">0</text>
<path d="M893.8 1029.9H905" stroke="#000" stroke-width="1.8"/>
<text class="t" x="881.2" y="1049" text-anchor="end">−11</text>
<text class="t" transform="translate(758.3 951.1) rotate(-90)" text-anchor="middle">B</text>
<text class="t" x="905" y="204">a.</text>
<path d="M1844.6 856.3H2642.1" stroke="#777" stroke-width="1.3"/>
<path d="M1899.2 945.9H2604.6" stroke="#ababab" stroke-width="4"/>
<rect x="2640.4" y="855.7" width="2.2" height="3" fill="#111"/>
<rect x="1884.4" y="946.1" width="29.7" height="84.2" fill="#482374" fill-opacity=".7"/>
<rect x="1921.8" y="946.1" width="29.7" height="61.9" fill="#3f4788" fill-opacity=".7"/>
<rect x="1959.1" y="946.1" width="29.7" height="54.5" fill="#3b518b" fill-opacity=".7"/>
<rect x="1996.5" y="946.1" width="29.7" height="56.6" fill="#3c4f8a" fill-opacity=".7"/>
<rect x="2033.9" y="946.1" width="29.7" height="40.5" fill="#32658e" fill-opacity=".7"/>
<rect x="2071.3" y="946.1" width="29.7" height="32.2" fill="#2d708e" fill-opacity=".7"/>
<rect x="2108.7" y="946.1" width="29.7" height="26.8" fill="#2a768e" fill-opacity=".7"/>
<rect x="2146" y="946.1" width="29.7" height="18.6" fill="#26818e" fill-opacity=".7"/>
<rect x="2183.4" y="946.1" width="29.7" height="11.6" fill="#23898e" fill-opacity=".7"/>
<rect x="2220.8" y="946.1" width="29.7" height="6.2" fill="#21908d" fill-opacity=".7"/>
<rect x="2258.2" y="946.1" width="29.7" height="2.5" fill="#1f948c" fill-opacity=".7"/>
<rect x="2295.6" y="946.1" width="29.7" height="0.4" fill="#1f978b" fill-opacity=".7"/>
<rect x="2332.9" y="944.9" width="29.7" height="1.2" fill="#1f998a" fill-opacity=".7"/>
<rect x="2370.3" y="941.1" width="29.7" height="5" fill="#1f9e89" fill-opacity=".7"/>
<rect x="2407.7" y="938.4" width="29.7" height="7.8" fill="#1fa188" fill-opacity=".7"/>
<rect x="2445.1" y="935.9" width="29.7" height="10.3" fill="#20a486" fill-opacity=".7"/>
<rect x="2482.4" y="932.1" width="29.7" height="14" fill="#23a983" fill-opacity=".7"/>
<rect x="2519.8" y="925.9" width="29.7" height="20.2" fill="#2ab07f" fill-opacity=".7"/>
<rect x="2557.2" y="894.1" width="29.7" height="52" fill="#7ad151" fill-opacity=".7"/>
<path d="M1844.6 856.3V1035.3H2642.1" stroke="#000" stroke-width="2.3" fill="none" stroke-linecap="square"/>
<path d="M1833.4 867H1844.6" stroke="#000" stroke-width="1.8"/>
<text class="t" x="1820.8" y="886.1" text-anchor="end">11</text>
<path d="M1833.4 945.8H1844.6" stroke="#000" stroke-width="1.8"/>
<text class="t" x="1820.8" y="964.9" text-anchor="end">0</text>
<path d="M1833.4 1024.5H1844.6" stroke="#000" stroke-width="1.8"/>
<text class="t" x="1820.8" y="1043.6" text-anchor="end">−11</text>
<text class="t" transform="translate(1695.1 950.1) rotate(-90)" text-anchor="middle">q</text>
<text class="t" x="1844.6" y="204">b.</text>
<path d="M2784.2 856.3H3581.7" stroke="#777" stroke-width="1.3"/>
<path d="M2838.8 945.9H3544.2" stroke="#ababab" stroke-width="4"/>
<rect x="3580" y="855.7" width="2.2" height="3" fill="#111"/>
<rect x="2861.6" y="946.1" width="29.9" height="84.2" fill="#450559" fill-opacity=".7"/>
<rect x="2899.2" y="946.1" width="29.9" height="62.8" fill="#46327e" fill-opacity=".7"/>
<rect x="2936.9" y="946.1" width="29.9" height="61.9" fill="#463480" fill-opacity=".7"/>
<rect x="2974.5" y="946.1" width="29.9" height="53.3" fill="#414487" fill-opacity=".7"/>
<rect x="3012.2" y="946.1" width="29.9" height="46.3" fill="#3c508b" fill-opacity=".7"/>
<rect x="3049.8" y="946.1" width="29.9" height="36.3" fill="#34608d" fill-opacity=".7"/>
<rect x="3087.5" y="946.1" width="29.9" height="26.8" fill="#2e6e8e" fill-opacity=".7"/>
<rect x="3125.2" y="946.1" width="29.9" height="17.8" fill="#297b8e" fill-opacity=".7"/>
<rect x="3162.8" y="946.1" width="29.9" height="10.3" fill="#24868e" fill-opacity=".7"/>
<rect x="3200.4" y="946.1" width="29.9" height="3.3" fill="#21918c" fill-opacity=".7"/>
<rect x="3238.1" y="945.1" width="29.9" height="1" fill="#1f968b" fill-opacity=".7"/>
<rect x="3275.8" y="935" width="29.9" height="11.1" fill="#21a585" fill-opacity=".7"/>
<rect x="3313.4" y="923" width="29.9" height="23.1" fill="#32b67a" fill-opacity=".7"/>
<rect x="3351" y="910.6" width="29.9" height="35.5" fill="#54c568" fill-opacity=".7"/>
<rect x="3388.7" y="901.5" width="29.9" height="44.6" fill="#73d056" fill-opacity=".7"/>
<rect x="3426.3" y="892.4" width="29.9" height="53.7" fill="#95d840" fill-opacity=".7"/>
<rect x="3464" y="887" width="29.9" height="59.1" fill="#aadc32" fill-opacity=".7"/>
<rect x="3501.6" y="872.6" width="29.9" height="73.5" fill="#e7e419" fill-opacity=".7"/>
<path d="M2784.2 856.3V1035.3H3581.7" stroke="#000" stroke-width="2.3" fill="none" stroke-linecap="square"/>
<path d="M2773 866.5H2784.2" stroke="#000" stroke-width="1.8"/>
<text class="t" x="2760.4" y="885.6" text-anchor="end">6</text>
<path d="M2773 945.8H2784.2" stroke="#000" stroke-width="1.8"/>
<text class="t" x="2760.4" y="964.9" text-anchor="end">0</text>
<path d="M2773 1024.9H2784.2" stroke="#000" stroke-width="1.8"/>
<text class="t" x="2760.4" y="1044" text-anchor="end">−6</text>
<text class="t" transform="translate(2668.8 951.1) rotate(-90)" text-anchor="middle">H</text>
<text class="t" x="2784.2" y="204">c.</text>
<text class="L" transform="translate(805.2 520.9) rotate(-90)" text-anchor="middle">100% of labels</text>
<path d="M905 1809.2H1702.5" stroke="#777" stroke-width="1.3"/>
<path d="M959.6 1898.8H1665" stroke="#ababab" stroke-width="4"/>
<rect x="1700.8" y="1808.6" width="2.2" height="3" fill="#111"/>
<rect x="944.7" y="1814" width="29.5" height="85.1" fill="#63cb5f" fill-opacity=".7"/>
<rect x="981.8" y="1836.2" width="29.5" height="62.8" fill="#2db27d" fill-opacity=".7"/>
<rect x="1018.8" y="1838" width="29.5" height="61.1" fill="#2ab07f" fill-opacity=".7"/>
<rect x="1055.9" y="1842.5" width="29.5" height="56.6" fill="#25ab82" fill-opacity=".7"/>
<rect x="1093" y="1846.1" width="29.5" height="52.9" fill="#21a685" fill-opacity=".7"/>
<rect x="1130.1" y="1855.2" width="29.5" height="43.8" fill="#1f9a8a" fill-opacity=".7"/>
<rect x="1167.2" y="1866" width="29.5" height="33" fill="#228d8d" fill-opacity=".7"/>
<rect x="1204.3" y="1875" width="29.5" height="24" fill="#26818e" fill-opacity=".7"/>
<rect x="1241.4" y="1882.1" width="29.5" height="16.9" fill="#2a788e" fill-opacity=".7"/>
<rect x="1278.5" y="1888.8" width="29.5" height="10.3" fill="#2d708e" fill-opacity=".7"/>
<rect x="1315.6" y="1894" width="29.5" height="5" fill="#30698e" fill-opacity=".7"/>
<rect x="1352.7" y="1898.6" width="29.5" height="0.4" fill="#33628d" fill-opacity=".7"/>
<rect x="1389.7" y="1899" width="29.5" height="5.4" fill="#375b8d" fill-opacity=".7"/>
<rect x="1426.8" y="1899" width="29.5" height="12.8" fill="#3c4f8a" fill-opacity=".7"/>
<rect x="1463.9" y="1899" width="29.5" height="19" fill="#404688" fill-opacity=".7"/>
<rect x="1501" y="1899" width="29.5" height="24.4" fill="#433e85" fill-opacity=".7"/>
<rect x="1538.1" y="1899" width="29.5" height="29.7" fill="#453581" fill-opacity=".7"/>
<rect x="1575.2" y="1899" width="29.5" height="35.1" fill="#472c7a" fill-opacity=".7"/>
<rect x="1612.3" y="1899" width="29.5" height="37.2" fill="#482878" fill-opacity=".7"/>
<path d="M905 1809.2V1988.2H1702.5" stroke="#000" stroke-width="2.3" fill="none" stroke-linecap="square"/>
<path d="M893.8 1816.4H905" stroke="#000" stroke-width="1.8"/>
<text class="t" x="881.2" y="1835.5" text-anchor="end">7</text>
<path d="M893.8 1898.6H905" stroke="#000" stroke-width="1.8"/>
<text class="t" x="881.2" y="1917.7" text-anchor="end">0</text>
<path d="M893.8 1980.8H905" stroke="#000" stroke-width="1.8"/>
<text class="t" x="881.2" y="1999.9" text-anchor="end">−7</text>
<text class="t" transform="translate(789.6 1904) rotate(-90)" text-anchor="middle">B</text>
<text class="t" x="905" y="1156.9">d.</text>
<path d="M1844.6 1809.2H2642.1" stroke="#777" stroke-width="1.3"/>
<path d="M1899.2 1898.8H2604.6" stroke="#ababab" stroke-width="4"/>
<rect x="2640.4" y="1808.6" width="2.2" height="3" fill="#111"/>
<rect x="1884.3" y="1899" width="29.8" height="50.8" fill="#404588" fill-opacity=".7"/>
<rect x="1921.8" y="1899" width="29.8" height="19.4" fill="#2b758e" fill-opacity=".7"/>
<rect x="1959.2" y="1899" width="29.8" height="22.3" fill="#2d718e" fill-opacity=".7"/>
<rect x="1996.7" y="1899" width="29.8" height="21.5" fill="#2c728e" fill-opacity=".7"/>
<rect x="2034.2" y="1899" width="29.8" height="14" fill="#287d8e" fill-opacity=".7"/>
<rect x="2071.7" y="1899" width="29.8" height="9.5" fill="#26828e" fill-opacity=".7"/>
<rect x="2109.2" y="1899" width="29.8" height="5.8" fill="#23888e" fill-opacity=".7"/>
<rect x="2146.6" y="1899" width="29.8" height="3.3" fill="#228c8d" fill-opacity=".7"/>
<rect x="2184.1" y="1899" width="29.8" height="1" fill="#218f8d" fill-opacity=".7"/>
<rect x="2221.6" y="1898.5" width="29.8" height="0.5" fill="#21918c" fill-opacity=".7"/>
<rect x="2259.1" y="1895" width="29.8" height="4.1" fill="#1f968b" fill-opacity=".7"/>
<rect x="2296.6" y="1891.2" width="29.8" height="7.8" fill="#1e9b8a" fill-opacity=".7"/>
<rect x="2334" y="1886.6" width="29.8" height="12.4" fill="#1fa187" fill-opacity=".7"/>
<rect x="2371.5" y="1880" width="29.8" height="19" fill="#25ab82" fill-opacity=".7"/>
<rect x="2409" y="1864" width="29.8" height="35.1" fill="#46c06f" fill-opacity=".7"/>
<rect x="2446.5" y="1860.2" width="29.8" height="38.8" fill="#50c46a" fill-opacity=".7"/>
<rect x="2483.9" y="1864" width="29.8" height="35.1" fill="#46c06f" fill-opacity=".7"/>
<rect x="2521.4" y="1867.6" width="29.8" height="31.4" fill="#3bbb75" fill-opacity=".7"/>
<rect x="2558.9" y="1814" width="29.8" height="85.1" fill="#fbe723" fill-opacity=".7"/>
<path d="M1844.6 1809.2V1988.2H2642.1" stroke="#000" stroke-width="2.3" fill="none" stroke-linecap="square"/>
<path d="M1833.4 1819.2H1844.6" stroke="#000" stroke-width="1.8"/>
<text class="t" x="1820.8" y="1838.3" text-anchor="end">12</text>
<path d="M1833.4 1898.6H1844.6" stroke="#000" stroke-width="1.8"/>
<text class="t" x="1820.8" y="1917.7" text-anchor="end">0</text>
<path d="M1833.4 1978H1844.6" stroke="#000" stroke-width="1.8"/>
<text class="t" x="1820.8" y="1997.1" text-anchor="end">−12</text>
<text class="t" transform="translate(1695.1 1903) rotate(-90)" text-anchor="middle">q</text>
<text class="t" x="1844.6" y="1156.9">e.</text>
<path d="M2784.2 1809.2H3581.7" stroke="#777" stroke-width="1.3"/>
<path d="M2838.8 1898.8H3544.2" stroke="#ababab" stroke-width="4"/>
<rect x="3580" y="1808.6" width="2.2" height="3" fill="#111"/>
<rect x="2823.7" y="1899" width="29.5" height="84.2" fill="#481769" fill-opacity=".7"/>
<rect x="2860.8" y="1899" width="29.5" height="75.2" fill="#482677" fill-opacity=".7"/>
<rect x="2897.8" y="1899" width="29.5" height="73.5" fill="#472a7a" fill-opacity=".7"/>
<rect x="2934.9" y="1899" width="29.5" height="69" fill="#46327e" fill-opacity=".7"/>
<rect x="2972" y="1899" width="29.5" height="62.8" fill="#443b84" fill-opacity=".7"/>
<rect x="3009.1" y="1899" width="29.5" height="53.7" fill="#3e4989" fill-opacity=".7"/>
<rect x="3046.2" y="1899" width="29.5" height="42.9" fill="#38598c" fill-opacity=".7"/>
<rect x="3083.3" y="1899" width="29.5" height="32.2" fill="#31688e" fill-opacity=".7"/>
<rect x="3120.4" y="1899" width="29.5" height="22.3" fill="#2b748e" fill-opacity=".7"/>
<rect x="3157.5" y="1899" width="29.5" height="14.5" fill="#277e8e" fill-opacity=".7"/>
<rect x="3194.6" y="1899" width="29.5" height="5.8" fill="#23898e" fill-opacity=".7"/>
<rect x="3268.7" y="1890.3" width="29.5" height="8.7" fill="#1e9b8a" fill-opacity=".7"/>
<rect x="3305.8" y="1881.2" width="29.5" height="17.8" fill="#21a685" fill-opacity=".7"/>
<rect x="3342.9" y="1870.5" width="29.5" height="28.5" fill="#2eb37c" fill-opacity=".7"/>
<rect x="3380" y="1863.1" width="29.5" height="35.9" fill="#3dbc74" fill-opacity=".7"/>
<rect x="3417.1" y="1856.1" width="29.5" height="42.9" fill="#50c46a" fill-opacity=".7"/>
<rect x="3454.2" y="1846.1" width="29.5" height="52.9" fill="#6ccd5a" fill-opacity=".7"/>
<rect x="3491.3" y="1838" width="29.5" height="61.1" fill="#86d549" fill-opacity=".7"/>
<path d="M2784.2 1809.2V1988.2H3581.7" stroke="#000" stroke-width="2.3" fill="none" stroke-linecap="square"/>
<path d="M2773 1819.3H2784.2" stroke="#000" stroke-width="1.8"/>
<text class="t" x="2760.4" y="1838.4" text-anchor="end">5</text>
<path d="M2773 1898.6H2784.2" stroke="#000" stroke-width="1.8"/>
<text class="t" x="2760.4" y="1917.7" text-anchor="end">0</text>
<path d="M2773 1977.9H2784.2" stroke="#000" stroke-width="1.8"/>
<text class="t" x="2760.4" y="1997" text-anchor="end">−5</text>
<text class="t" transform="translate(2668.8 1904) rotate(-90)" text-anchor="middle">H</text>
<text class="t" x="2784.2" y="1156.9">f.</text>
<text class="L" transform="translate(805.2 1473.8) rotate(-90)" text-anchor="middle">75% of labels</text>
<path d="M905 2762.1H1702.5" stroke="#777" stroke-width="1.3"/>
<path d="M959.6 2851.8H1665" stroke="#ababab" stroke-width="4"/>
<rect x="1700.8" y="2761.5" width="2.2" height="3" fill="#111"/>
<rect x="944.4" y="2851.9" width="29.7" height="54.1" fill="#481b6d" fill-opacity=".7"/>
<rect x="981.8" y="2851.9" width="29.7" height="50" fill="#482173" fill-opacity=".7"/>
<rect x="1019.1" y="2851.9" width="29.7" height="46.3" fill="#482677" fill-opacity=".7"/>
<rect x="1056.4" y="2851.9" width="29.7" height="38" fill="#46327e" fill-opacity=".7"/>
<rect x="1093.7" y="2851.9" width="29.7" height="29.7" fill="#433d84" fill-opacity=".7"/>
<rect x="1131.1" y="2851.9" width="29.7" height="22.7" fill="#404688" fill-opacity=".7"/>
<rect x="1168.4" y="2851.9" width="29.7" height="12.8" fill="#3b528b" fill-opacity=".7"/>
<rect x="1205.7" y="2851.9" width="29.7" height="4.5" fill="#365d8d" fill-opacity=".7"/>
<rect x="1243.1" y="2851.5" width="29.7" height="0.4" fill="#33628d" fill-opacity=".7"/>
<rect x="1280.4" y="2842.8" width="29.7" height="9.1" fill="#2f6c8e" fill-opacity=".7"/>
<rect x="1317.7" y="2836.6" width="29.7" height="15.3" fill="#2c728e" fill-opacity=".7"/>
<rect x="1355" y="2827.5" width="29.7" height="24.4" fill="#287c8e" fill-opacity=".7"/>
<rect x="1392.4" y="2817.6" width="29.7" height="34.3" fill="#24868e" fill-opacity=".7"/>
<rect x="1429.7" y="2804.4" width="29.7" height="47.5" fill="#1f948c" fill-opacity=".7"/>
<rect x="1467" y="2796.2" width="29.7" height="55.7" fill="#1f9e89" fill-opacity=".7"/>
<rect x="1504.4" y="2785.4" width="29.7" height="66.5" fill="#23a983" fill-opacity=".7"/>
<rect x="1541.7" y="2766.4" width="29.7" height="85.5" fill="#3dbc74" fill-opacity=".7"/>
<rect x="1579" y="2795.3" width="29.7" height="56.6" fill="#1f9f88" fill-opacity=".7"/>
<rect x="1616.4" y="2798.2" width="29.7" height="53.7" fill="#1e9b8a" fill-opacity=".7"/>
<path d="M905 2762.1V2941.1H1702.5" stroke="#000" stroke-width="2.3" fill="none" stroke-linecap="square"/>
<path d="M893.8 2767.6H905" stroke="#000" stroke-width="1.8"/>
<text class="t" x="881.2" y="2786.7" text-anchor="end">6</text>
<path d="M893.8 2851.5H905" stroke="#000" stroke-width="1.8"/>
<text class="t" x="881.2" y="2870.6" text-anchor="end">0</text>
<path d="M893.8 2935.4H905" stroke="#000" stroke-width="1.8"/>
<text class="t" x="881.2" y="2954.5" text-anchor="end">−6</text>
<text class="t" transform="translate(789.6 2856.9) rotate(-90)" text-anchor="middle">B</text>
<text class="t" x="905" y="2109.8">g.</text>
<path d="M1844.6 2762.1H2642.1" stroke="#777" stroke-width="1.3"/>
<path d="M1899.2 2851.8H2604.6" stroke="#ababab" stroke-width="4"/>
<rect x="2640.4" y="2761.5" width="2.2" height="3" fill="#111"/>
<rect x="1884.3" y="2851.9" width="29.7" height="83.8" fill="#46337f" fill-opacity=".7"/>
<rect x="1921.8" y="2851.9" width="29.7" height="67.7" fill="#3f4889" fill-opacity=".7"/>
<rect x="1959.2" y="2851.9" width="29.7" height="79.7" fill="#443983" fill-opacity=".7"/>
<rect x="1996.6" y="2851.9" width="29.7" height="39.6" fill="#2f6b8e" fill-opacity=".7"/>
<rect x="2034" y="2851.9" width="29.7" height="39.6" fill="#2f6b8e" fill-opacity=".7"/>
<rect x="2071.4" y="2851.9" width="29.7" height="26.4" fill="#29798e" fill-opacity=".7"/>
<rect x="2108.8" y="2851.9" width="29.7" height="17.3" fill="#26828e" fill-opacity=".7"/>
<rect x="2146.2" y="2851.9" width="29.7" height="10.3" fill="#238a8d" fill-opacity=".7"/>
<rect x="2183.6" y="2851.9" width="29.7" height="5" fill="#21908d" fill-opacity=".7"/>
<rect x="2221" y="2851.9" width="29.7" height="0.8" fill="#1f948c" fill-opacity=".7"/>
<rect x="2295.8" y="2848.6" width="29.7" height="3.3" fill="#1f988b" fill-opacity=".7"/>
<rect x="2333.3" y="2845.8" width="29.7" height="6.2" fill="#1e9c89" fill-opacity=".7"/>
<rect x="2370.7" y="2843.2" width="29.7" height="8.7" fill="#1f9f88" fill-opacity=".7"/>
<rect x="2408.1" y="2840.3" width="29.7" height="11.6" fill="#1fa187" fill-opacity=".7"/>
<rect x="2445.5" y="2828.8" width="29.7" height="23.1" fill="#27ad81" fill-opacity=".7"/>
<rect x="2482.9" y="2823" width="29.7" height="28.9" fill="#2fb47c" fill-opacity=".7"/>
<rect x="2520.3" y="2825.9" width="29.7" height="26" fill="#2ab07f" fill-opacity=".7"/>
<rect x="2557.7" y="2816.8" width="29.7" height="35.1" fill="#3aba76" fill-opacity=".7"/>
<path d="M1844.6 2762.1V2941.1H2642.1" stroke="#000" stroke-width="2.3" fill="none" stroke-linecap="square"/>
<path d="M1833.4 2772.8H1844.6" stroke="#000" stroke-width="1.8"/>
<text class="t" x="1820.8" y="2791.9" text-anchor="end">10</text>
<path d="M1833.4 2851.5H1844.6" stroke="#000" stroke-width="1.8"/>
<text class="t" x="1820.8" y="2870.6" text-anchor="end">0</text>
<path d="M1833.4 2930.2H1844.6" stroke="#000" stroke-width="1.8"/>
<text class="t" x="1820.8" y="2949.3" text-anchor="end">−10</text>
<text class="t" transform="translate(1695.1 2855.9) rotate(-90)" text-anchor="middle">q</text>
<text class="t" x="1844.6" y="2109.8">h.</text>
<path d="M2784.2 2762.1H3581.7" stroke="#777" stroke-width="1.3"/>
<path d="M2838.8 2851.8H3544.2" stroke="#ababab" stroke-width="4"/>
<rect x="3580" y="2761.5" width="2.2" height="3" fill="#111"/>
<rect x="2823.4" y="2771.4" width="29.7" height="80.5" fill="#bddf26" fill-opacity=".7"/>
<rect x="2860.8" y="2780" width="29.7" height="71.9" fill="#a0da39" fill-opacity=".7"/>
<rect x="2898.1" y="2786.2" width="29.7" height="65.7" fill="#8bd646" fill-opacity=".7"/>
<rect x="2935.4" y="2800.8" width="29.7" height="51.2" fill="#5ec962" fill-opacity=".7"/>
<rect x="2972.7" y="2811.4" width="29.7" height="40.5" fill="#42be71" fill-opacity=".7"/>
<rect x="3010.1" y="2822.2" width="29.7" height="29.7" fill="#2db27d" fill-opacity=".7"/>
<rect x="3047.4" y="2834.1" width="29.7" height="17.8" fill="#20a386" fill-opacity=".7"/>
<rect x="3084.7" y="2844.9" width="29.7" height="7" fill="#1f968b" fill-opacity=".7"/>
<rect x="3122.1" y="2851.9" width="29.7" height="1" fill="#228d8d" fill-opacity=".7"/>
<rect x="3159.4" y="2851.9" width="29.7" height="9.5" fill="#26828e" fill-opacity=".7"/>
<rect x="3196.7" y="2851.9" width="29.7" height="18.6" fill="#2a778e" fill-opacity=".7"/>
<rect x="3234.1" y="2851.9" width="29.7" height="28.1" fill="#2f6b8e" fill-opacity=".7"/>
<rect x="3271.4" y="2851.9" width="29.7" height="40.5" fill="#375b8d" fill-opacity=".7"/>
<rect x="3308.7" y="2851.9" width="29.7" height="53.3" fill="#3f4889" fill-opacity=".7"/>
<rect x="3346" y="2851.9" width="29.7" height="62.4" fill="#443a83" fill-opacity=".7"/>
<rect x="3383.4" y="2851.9" width="29.7" height="73.1" fill="#472a7a" fill-opacity=".7"/>
<rect x="3420.7" y="2851.9" width="29.7" height="83.8" fill="#48186a" fill-opacity=".7"/>
<rect x="3458" y="2851.9" width="29.7" height="75.6" fill="#482576" fill-opacity=".7"/>
<rect x="3495.4" y="2851.9" width="29.7" height="73.9" fill="#482878" fill-opacity=".7"/>
<path d="M2784.2 2762.1V2941.1H3581.7" stroke="#000" stroke-width="2.3" fill="none" stroke-linecap="square"/>
<path d="M2773 2771.1H2784.2" stroke="#000" stroke-width="1.8"/>
<text class="t" x="2760.4" y="2790.2" text-anchor="end">5</text>
<path d="M2773 2851.5H2784.2" stroke="#000" stroke-width="1.8"/>
<text class="t" x="2760.4" y="2870.6" text-anchor="end">0</text>
<path d="M2773 2931.9H2784.2" stroke="#000" stroke-width="1.8"/>
<text class="t" x="2760.4" y="2951" text-anchor="end">−5</text>
<text class="t" transform="translate(2668.8 2856.9) rotate(-90)" text-anchor="middle">H</text>
<text class="t" x="2784.2" y="2109.8">i.</text>
<text class="L" transform="translate(805.2 2426.7) rotate(-90)" text-anchor="middle">50% of labels</text>
<path d="M905 3715H1702.5" stroke="#777" stroke-width="1.3"/>
<path d="M959.6 3804.7H1665" stroke="#ababab" stroke-width="4"/>
<rect x="1700.8" y="3714.4" width="2.2" height="3" fill="#111"/>
<rect x="981.8" y="3752.4" width="29.9" height="52.4" fill="#21908d" fill-opacity=".7"/>
<rect x="1019.4" y="3750.8" width="29.9" height="54.1" fill="#20928c" fill-opacity=".7"/>
<rect x="1057" y="3719.3" width="29.9" height="85.5" fill="#27ad81" fill-opacity=".7"/>
<rect x="1094.6" y="3735.4" width="29.9" height="69.4" fill="#1fa088" fill-opacity=".7"/>
<rect x="1132.3" y="3742.4" width="29.9" height="62.4" fill="#1f998a" fill-opacity=".7"/>
<rect x="1169.9" y="3756.9" width="29.9" height="47.9" fill="#228c8d" fill-opacity=".7"/>
<rect x="1207.5" y="3772.2" width="29.9" height="32.6" fill="#277e8e" fill-opacity=".7"/>
<rect x="1245.2" y="3784.2" width="29.9" height="20.6" fill="#2c728e" fill-opacity=".7"/>
<rect x="1282.8" y="3794.2" width="29.9" height="10.7" fill="#306a8e" fill-opacity=".7"/>
<rect x="1320.4" y="3803.8" width="29.9" height="1" fill="#34608d" fill-opacity=".7"/>
<rect x="1358" y="3804.8" width="29.9" height="6.6" fill="#38598c" fill-opacity=".7"/>
<rect x="1395.7" y="3804.8" width="29.9" height="18.2" fill="#3d4d8a" fill-opacity=".7"/>
<rect x="1433.3" y="3804.8" width="29.9" height="28.9" fill="#424086" fill-opacity=".7"/>
<rect x="1470.9" y="3804.8" width="29.9" height="38" fill="#453581" fill-opacity=".7"/>
<rect x="1508.6" y="3804.8" width="29.9" height="47.1" fill="#472a7a" fill-opacity=".7"/>
<rect x="1546.2" y="3804.8" width="29.9" height="54.5" fill="#482173" fill-opacity=".7"/>
<rect x="1583.8" y="3804.8" width="29.9" height="55.3" fill="#482173" fill-opacity=".7"/>
<rect x="1621.5" y="3804.8" width="29.9" height="61.5" fill="#48186a" fill-opacity=".7"/>
<path d="M905 3715V3894H1702.5" stroke="#000" stroke-width="2.3" fill="none" stroke-linecap="square"/>
<path d="M893.8 3723.9H905" stroke="#000" stroke-width="1.8"/>
<text class="t" x="881.2" y="3743" text-anchor="end">5</text>
<path d="M893.8 3804.4H905" stroke="#000" stroke-width="1.8"/>
<text class="t" x="881.2" y="3823.5" text-anchor="end">0</text>
<path d="M893.8 3884.9H905" stroke="#000" stroke-width="1.8"/>
<text class="t" x="881.2" y="3904" text-anchor="end">−5</text>
<text class="t" transform="translate(789.6 3809.8) rotate(-90)" text-anchor="middle">B</text>
<text class="t" x="905" y="3062.7">j.</text>
<path d="M1844.6 3715H2642.1" stroke="#777" stroke-width="1.3"/>
<path d="M1899.2 3804.7H2604.6" stroke="#ababab" stroke-width="4"/>
<rect x="2640.4" y="3714.4" width="2.2" height="3" fill="#111"/>
<rect x="1884.1" y="3804.8" width="30" height="77.6" fill="#482576" fill-opacity=".7"/>
<rect x="1921.8" y="3804.8" width="30" height="64.8" fill="#443b84" fill-opacity=".7"/>
<rect x="1959.4" y="3804.8" width="30" height="45" fill="#375b8d" fill-opacity=".7"/>
<rect x="1997.1" y="3804.8" width="30" height="27.3" fill="#2c738e" fill-opacity=".7"/>
<rect x="2034.8" y="3804.8" width="30" height="28.9" fill="#2d718e" fill-opacity=".7"/>
<rect x="2072.5" y="3804.8" width="30" height="24" fill="#2a778e" fill-opacity=".7"/>
<rect x="2110.2" y="3804.8" width="30" height="14.9" fill="#25838e" fill-opacity=".7"/>
<rect x="2147.8" y="3804.8" width="30" height="7.4" fill="#218e8d" fill-opacity=".7"/>
<rect x="2185.5" y="3804.8" width="30" height="3.7" fill="#20928c" fill-opacity=".7"/>
<rect x="2223.2" y="3804.8" width="30" height="0.8" fill="#1f968b" fill-opacity=".7"/>
<rect x="2298.6" y="3801.2" width="30" height="3.7" fill="#1e9c89" fill-opacity=".7"/>
<rect x="2336.2" y="3797.4" width="30" height="7.4" fill="#1fa187" fill-opacity=".7"/>
<rect x="2373.9" y="3794.9" width="30" height="9.9" fill="#20a486" fill-opacity=".7"/>
<rect x="2411.6" y="3788.3" width="30" height="16.5" fill="#26ad81" fill-opacity=".7"/>
<rect x="2449.3" y="3774.2" width="30" height="30.6" fill="#42be71" fill-opacity=".7"/>
<rect x="2486.9" y="3780.4" width="30" height="24.4" fill="#35b779" fill-opacity=".7"/>
<rect x="2524.6" y="3771.4" width="30" height="33.4" fill="#4ac16d" fill-opacity=".7"/>
<rect x="2562.3" y="3719.3" width="30" height="85.5" fill="#fde725" fill-opacity=".7"/>
<path d="M1844.6 3715V3894H2642.1" stroke="#000" stroke-width="2.3" fill="none" stroke-linecap="square"/>
<path d="M1833.4 3725H1844.6" stroke="#000" stroke-width="1.8"/>
<text class="t" x="1820.8" y="3744.1" text-anchor="end">12</text>
<path d="M1833.4 3804.4H1844.6" stroke="#000" stroke-width="1.8"/>
<text class="t" x="1820.8" y="3823.5" text-anchor="end">0</text>
<path d="M1833.4 3883.8H1844.6" stroke="#000" stroke-width="1.8"/>
<text class="t" x="1820.8" y="3902.9" text-anchor="end">−12</text>
<text class="t" transform="translate(1695.1 3808.8) rotate(-90)" text-anchor="middle">q</text>
<text class="t" x="1844.6" y="3062.7">k.</text>
<path d="M2784.2 3715H3581.7" stroke="#777" stroke-width="1.3"/>
<path d="M2838.8 3804.7H3544.2" stroke="#ababab" stroke-width="4"/>
<rect x="3580" y="3714.4" width="2.2" height="3" fill="#111"/>
<rect x="2860.8" y="3804.8" width="29.9" height="77.6" fill="#472f7d" fill-opacity=".7"/>
<rect x="2898.4" y="3804.8" width="29.9" height="72.3" fill="#453882" fill-opacity=".7"/>
<rect x="2936" y="3804.8" width="29.9" height="74.7" fill="#463480" fill-opacity=".7"/>
<rect x="2973.6" y="3804.8" width="29.9" height="72.3" fill="#453882" fill-opacity=".7"/>
<rect x="3011.3" y="3804.8" width="29.9" height="63.2" fill="#414487" fill-opacity=".7"/>
<rect x="3048.9" y="3804.8" width="29.9" height="50.4" fill="#39558c" fill-opacity=".7"/>
<rect x="3086.5" y="3804.8" width="29.9" height="36.3" fill="#31678e" fill-opacity=".7"/>
<rect x="3124.2" y="3804.8" width="29.9" height="22.7" fill="#2a768e" fill-opacity=".7"/>
<rect x="3161.8" y="3804.8" width="29.9" height="11.1" fill="#25838e" fill-opacity=".7"/>
<rect x="3199.4" y="3804.8" width="29.9" height="1" fill="#218f8d" fill-opacity=".7"/>
<rect x="3237.1" y="3795.8" width="29.9" height="9.1" fill="#1f9a8a" fill-opacity=".7"/>
<rect x="3274.7" y="3782.2" width="29.9" height="22.7" fill="#24aa83" fill-opacity=".7"/>
<rect x="3312.3" y="3768.9" width="29.9" height="35.9" fill="#37b878" fill-opacity=".7"/>
<rect x="3349.9" y="3756.9" width="29.9" height="47.9" fill="#50c46a" fill-opacity=".7"/>
<rect x="3387.6" y="3743.8" width="29.9" height="61.1" fill="#73d056" fill-opacity=".7"/>
<rect x="3425.2" y="3732.2" width="29.9" height="72.7" fill="#95d840" fill-opacity=".7"/>
<rect x="3462.8" y="3725.9" width="29.9" height="78.9" fill="#a8db34" fill-opacity=".7"/>
<rect x="3500.5" y="3719.3" width="29.9" height="85.5" fill="#bddf26" fill-opacity=".7"/>
<path d="M2784.2 3715V3894H3581.7" stroke="#000" stroke-width="2.3" fill="none" stroke-linecap="square"/>
<path d="M2773 3735.4H2784.2" stroke="#000" stroke-width="1.8"/>
<text class="t" x="2760.4" y="3754.5" text-anchor="end">4</text>
<path d="M2773 3804.4H2784.2" stroke="#000" stroke-width="1.8"/>
<text class="t" x="2760.4" y="3823.5" text-anchor="end">0</text>
<path d="M2773 3873.4H2784.2" stroke="#000" stroke-width="1.8"/>
<text class="t" x="2760.4" y="3892.5" text-anchor="end">−4</text>
<text class="t" transform="translate(2668.8 3809.8) rotate(-90)" text-anchor="middle">H</text>
<text class="t" x="2784.2" y="3062.7">l.</text>
<text class="L" transform="translate(805.2 3379.6) rotate(-90)" text-anchor="middle">25% of labels</text>
<path d="M905 4667.9H1702.5" stroke="#777" stroke-width="1.3"/>
<path d="M959.6 4757.6H1665" stroke="#ababab" stroke-width="4"/>
<rect x="1700.8" y="4667.3" width="2.2" height="3" fill="#111"/>
<rect x="1019.3" y="4672.2" width="29.9" height="85.5" fill="#3aba76" fill-opacity=".7"/>
<rect x="1057" y="4675.9" width="29.9" height="81.8" fill="#32b67a" fill-opacity=".7"/>
<rect x="1094.6" y="4683.9" width="29.9" height="73.9" fill="#28ae80" fill-opacity=".7"/>
<rect x="1132.2" y="4695.4" width="29.9" height="62.4" fill="#1fa287" fill-opacity=".7"/>
<rect x="1169.9" y="4711.9" width="29.9" height="45.8" fill="#21918c" fill-opacity=".7"/>
<rect x="1207.5" y="4724.4" width="29.9" height="33.4" fill="#25838e" fill-opacity=".7"/>
<rect x="1245.1" y="4735.1" width="29.9" height="22.7" fill="#2a788e" fill-opacity=".7"/>
<rect x="1282.7" y="4744.1" width="29.9" height="13.6" fill="#2e6f8e" fill-opacity=".7"/>
<rect x="1320.4" y="4751.9" width="29.9" height="5.8" fill="#31668e" fill-opacity=".7"/>
<rect x="1358" y="4757.8" width="29.9" height="1.5" fill="#355e8d" fill-opacity=".7"/>
<rect x="1395.6" y="4757.8" width="29.9" height="12" fill="#3b518b" fill-opacity=".7"/>
<rect x="1433.3" y="4757.8" width="29.9" height="22.7" fill="#414487" fill-opacity=".7"/>
<rect x="1470.9" y="4757.8" width="29.9" height="32.6" fill="#453781" fill-opacity=".7"/>
<rect x="1508.5" y="4757.8" width="29.9" height="41.7" fill="#482979" fill-opacity=".7"/>
<rect x="1546.2" y="4757.8" width="29.9" height="49.6" fill="#481d6f" fill-opacity=".7"/>
<rect x="1583.8" y="4757.8" width="29.9" height="54.1" fill="#481769" fill-opacity=".7"/>
<rect x="1621.4" y="4757.8" width="29.9" height="57.8" fill="#471164" fill-opacity=".7"/>
<path d="M905 4667.9V4846.9H1702.5" stroke="#000" stroke-width="2.3" fill="none" stroke-linecap="square"/>
<path d="M893.8 4686.2H905" stroke="#000" stroke-width="1.8"/>
<text class="t" x="881.2" y="4705.3" text-anchor="end">5</text>
<path d="M893.8 4757.4H905" stroke="#000" stroke-width="1.8"/>
<text class="t" x="881.2" y="4776.5" text-anchor="end">0</text>
<path d="M893.8 4828.6H905" stroke="#000" stroke-width="1.8"/>
<text class="t" x="881.2" y="4847.7" text-anchor="end">−5</text>
<text class="t" transform="translate(789.6 4762.8) rotate(-90)" text-anchor="middle">B</text>
<text class="t" x="905" y="4015.6">m.</text>
<path d="M1844.6 4667.9H2642.1" stroke="#777" stroke-width="1.3"/>
<path d="M1899.2 4757.6H2604.6" stroke="#ababab" stroke-width="4"/>
<rect x="2640.4" y="4667.3" width="2.2" height="3" fill="#111"/>
<rect x="1883.8" y="4718.9" width="30.2" height="38.8" fill="#5ec962" fill-opacity=".7"/>
<rect x="1921.8" y="4698.2" width="30.2" height="59.5" fill="#a8db34" fill-opacity=".7"/>
<rect x="1959.8" y="4713.6" width="30.2" height="44.2" fill="#70cf57" fill-opacity=".7"/>
<rect x="1997.8" y="4726.4" width="30.2" height="31.4" fill="#48c16e" fill-opacity=".7"/>
<rect x="2035.8" y="4735.1" width="30.2" height="22.7" fill="#32b67a" fill-opacity=".7"/>
<rect x="2073.8" y="4743.2" width="30.2" height="14.5" fill="#25ab82" fill-opacity=".7"/>
<rect x="2111.8" y="4750.4" width="30.2" height="7.4" fill="#1fa187" fill-opacity=".7"/>
<rect x="2149.8" y="4756.8" width="30.2" height="1" fill="#1f998a" fill-opacity=".7"/>
<rect x="2187.8" y="4757.8" width="30.2" height="1" fill="#1f968b" fill-opacity=".7"/>
<rect x="2225.8" y="4757.8" width="30.2" height="7" fill="#218e8d" fill-opacity=".7"/>
<rect x="2263.8" y="4757.8" width="30.2" height="14.5" fill="#25838e" fill-opacity=".7"/>
<rect x="2301.8" y="4757.8" width="30.2" height="22.3" fill="#29798e" fill-opacity=".7"/>
<rect x="2339.8" y="4757.8" width="30.2" height="30.6" fill="#2e6e8e" fill-opacity=".7"/>
<rect x="2377.8" y="4757.8" width="30.2" height="38.8" fill="#33628d" fill-opacity=".7"/>
<rect x="2415.8" y="4757.8" width="30.2" height="47.1" fill="#3a548c" fill-opacity=".7"/>
<rect x="2453.8" y="4757.8" width="30.2" height="55.7" fill="#3f4788" fill-opacity=".7"/>
<rect x="2491.8" y="4757.8" width="30.2" height="66.5" fill="#463480" fill-opacity=".7"/>
<rect x="2529.8" y="4757.8" width="30.2" height="68.1" fill="#46327e" fill-opacity=".7"/>
<rect x="2567.8" y="4757.8" width="30.2" height="83.8" fill="#481467" fill-opacity=".7"/>
<path d="M1844.6 4667.9V4846.9H2642.1" stroke="#000" stroke-width="2.3" fill="none" stroke-linecap="square"/>
<path d="M1833.4 4672.6H1844.6" stroke="#000" stroke-width="1.8"/>
<text class="t" x="1820.8" y="4691.7" text-anchor="end">13</text>
<path d="M1833.4 4757.4H1844.6" stroke="#000" stroke-width="1.8"/>
<text class="t" x="1820.8" y="4776.5" text-anchor="end">0</text>
<path d="M1833.4 4842.2H1844.6" stroke="#000" stroke-width="1.8"/>
<text class="t" x="1820.8" y="4861.3" text-anchor="end">−13</text>
<text class="t" transform="translate(1695.1 4761.8) rotate(-90)" text-anchor="middle">q</text>
<text class="t" x="1844.6" y="4015.6">n.</text>
<path d="M2784.2 4667.9H3581.7" stroke="#777" stroke-width="1.3"/>
<path d="M2838.8 4757.6H3544.2" stroke="#ababab" stroke-width="4"/>
<rect x="3580" y="4667.3" width="2.2" height="3" fill="#111"/>
<rect x="2898.3" y="4757.8" width="29.9" height="71" fill="#472e7c" fill-opacity=".7"/>
<rect x="2936" y="4757.8" width="29.9" height="71.9" fill="#472d7b" fill-opacity=".7"/>
<rect x="2973.6" y="4757.8" width="29.9" height="65.7" fill="#453781" fill-opacity=".7"/>
<rect x="3011.2" y="4757.8" width="29.9" height="56.6" fill="#404588" fill-opacity=".7"/>
<rect x="3048.8" y="4757.8" width="29.9" height="45" fill="#39568c" fill-opacity=".7"/>
<rect x="3086.5" y="4757.8" width="29.9" height="34.3" fill="#32658e" fill-opacity=".7"/>
<rect x="3124.1" y="4757.8" width="29.9" height="23.5" fill="#2c728e" fill-opacity=".7"/>
<rect x="3161.7" y="4757.8" width="29.9" height="13.6" fill="#277f8e" fill-opacity=".7"/>
<rect x="3199.4" y="4757.8" width="29.9" height="4.5" fill="#228b8d" fill-opacity=".7"/>
<rect x="3237" y="4754.1" width="29.9" height="3.7" fill="#1f948c" fill-opacity=".7"/>
<rect x="3274.6" y="4742.1" width="29.9" height="15.7" fill="#20a386" fill-opacity=".7"/>
<rect x="3312.3" y="4729.6" width="29.9" height="28.1" fill="#2eb37c" fill-opacity=".7"/>
<rect x="3349.9" y="4716.9" width="29.9" height="40.9" fill="#4ac16d" fill-opacity=".7"/>
<rect x="3387.5" y="4705.4" width="29.9" height="52.4" fill="#69cd5b" fill-opacity=".7"/>
<rect x="3425.1" y="4692.1" width="29.9" height="65.7" fill="#95d840" fill-opacity=".7"/>
<rect x="3462.8" y="4680.1" width="29.9" height="77.6" fill="#c0df25" fill-opacity=".7"/>
<rect x="3500.4" y="4672.2" width="29.9" height="85.5" fill="#dae319" fill-opacity=".7"/>
<path d="M2784.2 4667.9V4846.9H3581.7" stroke="#000" stroke-width="2.3" fill="none" stroke-linecap="square"/>
<path d="M2773 4677.9H2784.2" stroke="#000" stroke-width="1.8"/>
<text class="t" x="2760.4" y="4697" text-anchor="end">5</text>
<path d="M2773 4757.4H2784.2" stroke="#000" stroke-width="1.8"/>
<text class="t" x="2760.4" y="4776.5" text-anchor="end">0</text>
<path d="M2773 4836.9H2784.2" stroke="#000" stroke-width="1.8"/>
<text class="t" x="2760.4" y="4856" text-anchor="end">−5</text>
<text class="t" transform="translate(2668.8 4762.8) rotate(-90)" text-anchor="middle">H</text>
<text class="t" x="2784.2" y="4015.6">o.</text>
<text class="L" transform="translate(805.2 4332.5) rotate(-90)" text-anchor="middle">2% of labels</text>
<text class="T" x="1303" y="152.4" text-anchor="middle">Boman</text>
<text class="T" x="2241.7" y="152.4" text-anchor="middle">Charge</text>
<text class="T" x="3180.1" y="152.4" text-anchor="middle">Hydrophobicity</text>
</svg></body></html>
